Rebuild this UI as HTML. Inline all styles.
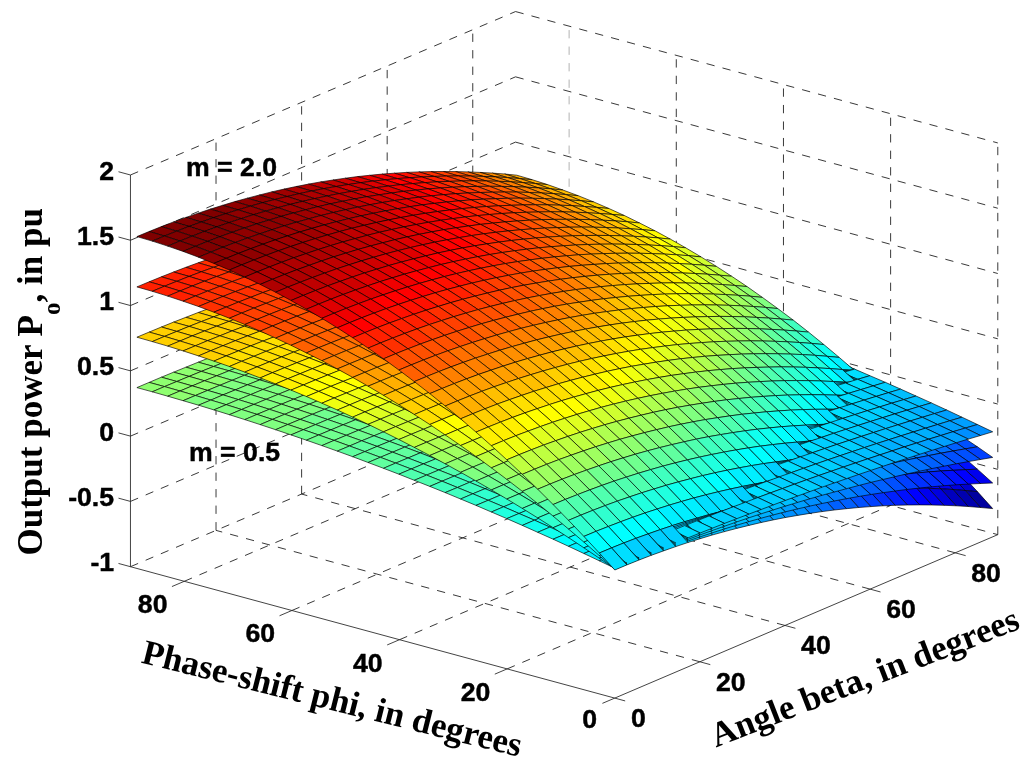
<!DOCTYPE html>
<html><head><meta charset="utf-8"><title>Output power surface</title>
<style>
html,body{margin:0;padding:0;background:#fff}
svg{display:block}
.g{stroke:#222;stroke-width:.9;stroke-dasharray:8.3 8.2;fill:none}
.a{stroke:#222;stroke-width:.85;fill:none}
.gl{stroke:#aaa}
.s path{stroke:#000;stroke-width:.65;stroke-linejoin:round}
.tk{font-family:"Liberation Sans",Arial,Helvetica,sans-serif;font-weight:bold;font-size:26.67px;fill:#000;stroke:#000;stroke-width:.45px}

.lb{font-family:"Liberation Serif","Times New Roman",Times,serif;font-weight:bold;font-size:35px;fill:#000}
.c0{fill:#00008f}.c1{fill:#00009f}.c2{fill:#0000af}.c3{fill:#0000bf}.c4{fill:#0000cf}.c5{fill:#0000df}.c6{fill:#0000ef}.c7{fill:#0000ff}.c8{fill:#0010ff}.c9{fill:#0020ff}.c10{fill:#0030ff}.c11{fill:#0040ff}.c12{fill:#0050ff}.c13{fill:#0060ff}.c14{fill:#0070ff}.c15{fill:#0080ff}.c16{fill:#008fff}.c17{fill:#009fff}.c18{fill:#00afff}.c19{fill:#00bfff}.c20{fill:#00cfff}.c21{fill:#00dfff}.c22{fill:#00efff}.c23{fill:#00ffff}.c24{fill:#10ffef}.c25{fill:#20ffdf}.c26{fill:#30ffcf}.c27{fill:#40ffbf}.c28{fill:#50ffaf}.c29{fill:#60ff9f}.c30{fill:#70ff8f}.c31{fill:#80ff80}.c32{fill:#8fff70}.c33{fill:#9fff60}.c34{fill:#afff50}.c35{fill:#bfff40}.c36{fill:#cfff30}.c37{fill:#dfff20}.c38{fill:#efff10}.c39{fill:#ffff00}.c40{fill:#ffef00}.c41{fill:#ffdf00}.c42{fill:#ffcf00}.c43{fill:#ffbf00}.c44{fill:#ffaf00}.c45{fill:#ff9f00}.c46{fill:#ff8f00}.c47{fill:#ff8000}.c48{fill:#ff7000}.c49{fill:#ff6000}.c50{fill:#ff5000}.c51{fill:#ff4000}.c52{fill:#ff3000}.c53{fill:#ff2000}.c54{fill:#ff1000}.c55{fill:#ff0000}.c56{fill:#ef0000}.c57{fill:#df0000}.c58{fill:#cf0000}.c59{fill:#bf0000}.c60{fill:#af0000}.c61{fill:#9f0000}.c62{fill:#8f0000}.c63{fill:#800000}
</style></head><body>
<svg width="1024" height="766" viewBox="0 0 1024 766">
<rect width="1024" height="766" fill="#fff"/>
<g><line class="g" x1="507.13" y1="668.90" x2="890.62" y2="505.46"/><line class="g" x1="399.51" y1="639.70" x2="783.46" y2="476.26"/><line class="g" x1="291.89" y1="610.50" x2="676.29" y2="447.06"/><line class="g" x1="184.27" y1="581.30" x2="569.12" y2="417.86"/><line class="g" x1="699.87" y1="661.78" x2="216.03" y2="530.38"/><line class="g" x1="784.99" y1="625.46" x2="301.61" y2="494.06"/><line class="g" x1="870.11" y1="589.14" x2="387.18" y2="457.74"/><line class="g" x1="955.23" y1="552.82" x2="472.75" y2="421.42"/><line class="g" x1="216.03" y1="530.38" x2="216.03" y2="138.67"/><line class="g" x1="301.61" y1="494.06" x2="301.61" y2="102.35"/><line class="g" x1="387.18" y1="457.74" x2="387.18" y2="66.03"/><line class="g" x1="472.75" y1="421.42" x2="472.75" y2="29.71"/><line class="g" x1="130.46" y1="566.70" x2="515.54" y2="403.26"/><line class="g" x1="130.46" y1="501.42" x2="515.54" y2="337.98"/><line class="g" x1="130.46" y1="436.13" x2="515.54" y2="272.69"/><line class="g" x1="130.46" y1="370.85" x2="515.54" y2="207.41"/><line class="g" x1="130.46" y1="305.56" x2="515.54" y2="142.12"/><line class="g" x1="130.46" y1="240.28" x2="515.54" y2="76.84"/><line class="g" x1="130.46" y1="174.99" x2="515.54" y2="11.55"/><line class="g" x1="997.79" y1="534.66" x2="997.79" y2="142.95"/><line class="g" x1="890.62" y1="505.46" x2="890.62" y2="113.75"/><line class="g" x1="783.46" y1="476.26" x2="783.46" y2="84.55"/><line class="g" x1="676.29" y1="447.06" x2="676.29" y2="55.35"/><line class="g gl" x1="569.12" y1="417.86" x2="569.12" y2="26.15"/><line class="g" x1="515.54" y1="403.26" x2="997.79" y2="534.66"/><line class="g" x1="515.54" y1="337.98" x2="997.79" y2="469.38"/><line class="g" x1="515.54" y1="272.69" x2="997.79" y2="404.09"/><line class="g" x1="515.54" y1="207.41" x2="997.79" y2="338.81"/><line class="g" x1="515.54" y1="142.12" x2="997.79" y2="273.52"/><line class="g" x1="515.54" y1="76.84" x2="997.79" y2="208.24"/><line class="g" x1="515.54" y1="11.55" x2="997.79" y2="142.95"/></g>
<g><line class="a" x1="130.46" y1="566.70" x2="130.46" y2="174.99"/><line class="a" x1="130.46" y1="566.70" x2="614.75" y2="698.10"/><line class="a" x1="614.75" y1="698.10" x2="997.79" y2="534.66"/><line class="a" x1="614.75" y1="698.10" x2="602.42" y2="703.35"/><line class="a" x1="507.13" y1="668.90" x2="494.80" y2="674.15"/><line class="a" x1="399.51" y1="639.70" x2="387.18" y2="644.95"/><line class="a" x1="291.89" y1="610.50" x2="279.56" y2="615.75"/><line class="a" x1="184.27" y1="581.30" x2="171.94" y2="586.55"/><line class="a" x1="614.75" y1="698.10" x2="625.17" y2="700.93"/><line class="a" x1="699.87" y1="661.78" x2="710.29" y2="664.61"/><line class="a" x1="784.99" y1="625.46" x2="795.41" y2="628.29"/><line class="a" x1="870.11" y1="589.14" x2="880.53" y2="591.97"/><line class="a" x1="955.23" y1="552.82" x2="965.65" y2="555.65"/><line class="a" x1="130.46" y1="566.70" x2="118.49" y2="563.45"/><line class="a" x1="130.46" y1="501.42" x2="118.49" y2="498.17"/><line class="a" x1="130.46" y1="436.13" x2="118.49" y2="432.88"/><line class="a" x1="130.46" y1="370.85" x2="118.49" y2="367.60"/><line class="a" x1="130.46" y1="305.56" x2="118.49" y2="302.31"/><line class="a" x1="130.46" y1="240.28" x2="118.49" y2="237.03"/><line class="a" x1="130.46" y1="174.99" x2="118.49" y2="171.74"/></g>
<g class="s">
<path class="c27" d="M519.9 259.1l-15.3 -4.2l12.2 -3.7l15.4 4.3z"/>
<path class="c27" d="M535.3 263.5l-15.4 -4.4l12.3 -3.6l15.3 4.4z"/>
<path class="c27" d="M507.7 262.8l-15.4 -4.3l12.3 -3.6l15.3 4.2z"/>
<path class="c32" d="M519.9 232.3l-15.3 -4.4l12.2 -2l15.4 4.3z"/>
<path class="c27" d="M550.6 268l-15.3 -4.5l12.2 -3.6l15.4 4.5z"/>
<path class="c27" d="M523 267.2l-15.3 -4.4l12.2 -3.7l15.4 4.4z"/>
<path class="c27" d="M495.4 266.5l-15.3 -4.3l12.2 -3.7l15.4 4.3z"/>
<path class="c32" d="M535.3 236.8l-15.4 -4.5l12.3 -2.1l15.3 4.6z"/>
<path class="c27" d="M566 272.5l-15.4 -4.5l12.3 -3.6l15.3 4.5z"/>
<path class="c33" d="M507.7 234.4l-15.4 -4.3l12.3 -2.2l15.3 4.4z"/>
<path class="c27" d="M538.4 271.6l-15.4 -4.4l12.3 -3.7l15.3 4.5z"/>
<path class="c38" d="M519.9 205.4l-15.3 -4.4l12.2 -0.5l15.4 4.5z"/>
<path class="c27" d="M510.8 270.9l-15.4 -4.4l12.3 -3.7l15.3 4.4z"/>
<path class="c32" d="M550.6 241.6l-15.3 -4.8l12.2 -2l15.4 4.8z"/>
<path class="c26" d="M581.3 277.2l-15.3 -4.7l12.2 -3.6l15.4 4.7z"/>
<path class="c28" d="M483.2 270.3l-15.4 -4.3l12.3 -3.8l15.3 4.3z"/>
<path class="c33" d="M523 239l-15.3 -4.6l12.2 -2.1l15.4 4.5z"/>
<path class="c27" d="M553.7 276.2l-15.3 -4.6l12.2 -3.6l15.4 4.5z"/>
<path class="c38" d="M535.3 210.2l-15.4 -4.8l12.3 -0.4l15.3 4.7z"/>
<path class="c32" d="M566 246.6l-15.4 -5l12.3 -2l15.3 4.9z"/>
<path class="c27" d="M526.1 275.4l-15.3 -4.5l12.2 -3.7l15.4 4.4z"/>
<path class="c34" d="M495.4 236.6l-15.3 -4.3l12.2 -2.2l15.4 4.3z"/>
<path class="c26" d="M596.7 282l-15.4 -4.8l12.3 -3.6l15.3 4.8z"/>
<path class="c28" d="M498.5 274.7l-15.3 -4.4l12.2 -3.8l15.4 4.4z"/>
<path class="c39" d="M507.7 206l-15.4 -4.4l12.3 -0.6l15.3 4.4z"/>
<path class="c33" d="M538.4 243.7l-15.4 -4.7l12.3 -2.2l15.3 4.8z"/>
<path class="c27" d="M569.1 280.9l-15.4 -4.7l12.3 -3.7l15.3 4.7z"/>
<path class="c44" d="M519.9 178.6l-15.3 -4.6l12.2 1.2l15.4 4.5z"/>
<path class="c28" d="M470.9 274.1l-15.4 -4.3l12.3 -3.8l15.4 4.3z"/>
<path class="c38" d="M550.6 215.2l-15.3 -5l12.2 -0.5l15.4 5.1z"/>
<path class="c32" d="M581.3 251.8l-15.3 -5.2l12.2 -2.1l15.4 5.2z"/>
<path class="c27" d="M541.5 279.9l-15.4 -4.5l12.3 -3.8l15.3 4.6z"/>
<path class="c34" d="M510.8 241.2l-15.4 -4.6l12.3 -2.2l15.3 4.6z"/>
<path class="c26" d="M612 286.9l-15.3 -4.9l12.2 -3.6l15.4 4.9z"/>
<path class="c28" d="M513.9 279.1l-15.4 -4.4l12.3 -3.8l15.3 4.5z"/>
<path class="c39" d="M523 210.8l-15.3 -4.8l12.2 -0.6l15.4 4.8z"/>
<path class="c33" d="M553.7 248.7l-15.3 -5l12.2 -2.1l15.4 5z"/>
<path class="c34" d="M483.2 239l-15.4 -4.4l12.3 -2.3l15.3 4.3z"/>
<path class="c27" d="M584.4 285.7l-15.3 -4.8l12.2 -3.7l15.4 4.8z"/>
<path class="c44" d="M535.3 183.5l-15.4 -4.9l12.3 1.1l15.3 4.9z"/>
<path class="c38" d="M566 220.6l-15.4 -5.4l12.3 -0.4l15.3 5.3z"/>
<path class="c28" d="M486.3 278.5l-15.4 -4.4l12.3 -3.8l15.3 4.4z"/>
<path class="c32" d="M596.7 257.1l-15.4 -5.3l12.3 -2.1l15.3 5.4z"/>
<path class="c27" d="M556.8 284.6l-15.3 -4.7l12.2 -3.7l15.4 4.7z"/>
<path class="c33" d="M526.1 246l-15.3 -4.8l12.2 -2.2l15.4 4.7z"/>
<path class="c40" d="M495.4 206.8l-15.3 -4.5l12.2 -0.7l15.4 4.4z"/>
<path class="c26" d="M627.4 291.9l-15.4 -5l12.3 -3.6l15.3 5z"/>
<path class="c28" d="M458.7 278l-15.4 -4.3l12.2 -3.9l15.4 4.3z"/>
<path class="c27" d="M529.2 283.7l-15.3 -4.6l12.2 -3.7l15.4 4.5z"/>
<path class="c45" d="M507.7 177.6l-15.4 -4.5l12.3 0.9l15.3 4.6z"/>
<path class="c39" d="M538.4 215.8l-15.4 -5l12.3 -0.6l15.3 5z"/>
<path class="c32" d="M569.1 253.9l-15.4 -5.2l12.3 -2.1l15.3 5.2z"/>
<path class="c34" d="M498.5 243.5l-15.3 -4.5l12.2 -2.4l15.4 4.6z"/>
<path class="c26" d="M599.8 290.6l-15.4 -4.9l12.3 -3.7l15.3 4.9z"/>
<path class="c43" d="M550.6 188.8l-15.3 -5.3l12.2 1.1l15.4 5.4z"/>
<path class="c37" d="M581.3 226.3l-15.3 -5.7l12.2 -0.5l15.4 5.7z"/>
<path class="c28" d="M501.6 283l-15.3 -4.5l12.2 -3.8l15.4 4.4z"/>
<path class="c31" d="M612 262.7l-15.3 -5.6l12.2 -2l15.4 5.6z"/>
<path class="c27" d="M572.2 289.4l-15.4 -4.8l12.3 -3.7l15.3 4.8z"/>
<path class="c33" d="M541.5 250.9l-15.4 -4.9l12.3 -2.3l15.3 5z"/>
<path class="c35" d="M470.9 241.4l-15.4 -4.3l12.3 -2.5l15.4 4.4z"/>
<path class="c40" d="M510.8 211.5l-15.4 -4.7l12.3 -0.8l15.3 4.8z"/>
<path class="c26" d="M642.8 297l-15.4 -5.1l12.2 -3.6l15.4 5.1z"/>
<path class="c28" d="M474 282.4l-15.3 -4.4l12.2 -3.9l15.4 4.4z"/>
<path class="c27" d="M544.6 288.4l-15.4 -4.7l12.3 -3.8l15.3 4.7z"/>
<path class="c38" d="M553.7 221.2l-15.3 -5.4l12.2 -0.6l15.4 5.4z"/>
<path class="c45" d="M523 182.6l-15.3 -5l12.2 1l15.4 4.9z"/>
<path class="c32" d="M584.4 259.3l-15.3 -5.4l12.2 -2.1l15.4 5.3z"/>
<path class="c34" d="M513.9 248.3l-15.4 -4.8l12.3 -2.3l15.3 4.8z"/>
<path class="c26" d="M615.2 295.6l-15.4 -5l12.2 -3.7l15.4 5z"/>
<path class="c29" d="M446.4 281.9l-15.4 -4.2l12.3 -4l15.4 4.3z"/>
<path class="c43" d="M566 194.6l-15.4 -5.8l12.3 1.2l15.3 5.7z"/>
<path class="c37" d="M596.7 232.3l-15.4 -6l12.3 -0.5l15.3 6z"/>
<path class="c41" d="M483.2 207.7l-15.4 -4.4l12.3 -1l15.3 4.5z"/>
<path class="c31" d="M627.4 268.5l-15.4 -5.8l12.3 -2l15.3 5.8z"/>
<path class="c28" d="M517 287.5l-15.4 -4.5l12.3 -3.9l15.3 4.6z"/>
<path class="c27" d="M587.6 294.3l-15.4 -4.9l12.2 -3.7l15.4 4.9z"/>
<path class="c33" d="M556.8 256.1l-15.3 -5.2l12.2 -2.2l15.4 5.2z"/>
<path class="c35" d="M486.3 246l-15.4 -4.6l12.3 -2.4l15.3 4.5z"/>
<path class="c26" d="M658.1 302.2l-15.3 -5.2l12.2 -3.6l15.3 5.2z"/>
<path class="c40" d="M526.1 216.6l-15.3 -5.1l12.2 -0.7l15.4 5z"/>
<path class="c46" d="M495.4 176.9l-15.3 -4.5l12.2 0.7l15.4 4.5z"/>
<path class="c28" d="M489.4 286.8l-15.4 -4.4l12.3 -3.9l15.3 4.5z"/>
<path class="c38" d="M569.1 226.9l-15.4 -5.7l12.3 -0.6l15.3 5.7z"/>
<path class="c32" d="M599.8 264.9l-15.4 -5.6l12.3 -2.2l15.3 5.6z"/>
<path class="c45" d="M538.4 187.9l-15.4 -5.3l12.3 0.9l15.3 5.3z"/>
<path class="c27" d="M560 293.2l-15.4 -4.8l12.2 -3.8l15.4 4.8z"/>
<path class="c43" d="M581.3 200.8l-15.3 -6.2l12.2 1.1l15.4 6.2z"/>
<path class="c26" d="M630.5 300.7l-15.3 -5.1l12.2 -3.7l15.4 5.1z"/>
<path class="c36" d="M612 238.6l-15.3 -6.3l12.2 -0.5l15.4 6.3z"/>
<path class="c34" d="M529.2 253.3l-15.3 -5l12.2 -2.3l15.4 4.9z"/>
<path class="c35" d="M458.7 244l-15.4 -4.4l12.2 -2.5l15.4 4.3z"/>
<path class="c28" d="M461.8 286.3l-15.4 -4.4l12.3 -3.9l15.3 4.4z"/>
<path class="c31" d="M642.8 274.6l-15.4 -6.1l12.2 -2l15.4 6z"/>
<path class="c41" d="M498.5 212.4l-15.3 -4.7l12.2 -0.9l15.4 4.7z"/>
<path class="c28" d="M532.4 292.2l-15.4 -4.7l12.2 -3.8l15.4 4.7z"/>
<path class="c33" d="M572.2 261.5l-15.4 -5.4l12.3 -2.2l15.3 5.4z"/>
<path class="c29" d="M434.1 285.9l-15.3 -4.3l12.2 -3.9l15.4 4.2z"/>
<path class="c27" d="M602.9 299.3l-15.3 -5l12.2 -3.7l15.4 5z"/>
<path class="c25" d="M673.5 307.5l-15.4 -5.3l12.2 -3.6l15.4 5.3z"/>
<path class="c39" d="M541.5 222l-15.4 -5.4l12.3 -0.8l15.3 5.4z"/>
<path class="c35" d="M501.6 250.8l-15.3 -4.8l12.2 -2.5l15.4 4.8z"/>
<path class="c46" d="M510.8 181.8l-15.4 -4.9l12.3 0.7l15.3 5z"/>
<path class="c28" d="M504.7 291.4l-15.3 -4.6l12.2 -3.8l15.4 4.5z"/>
<path class="c38" d="M584.4 232.9l-15.3 -6l12.2 -0.6l15.4 6z"/>
<path class="c32" d="M615.2 270.7l-15.4 -5.8l12.2 -2.2l15.4 5.8z"/>
<path class="c42" d="M470.9 208.8l-15.4 -4.5l12.3 -1l15.4 4.4z"/>
<path class="c44" d="M553.7 193.7l-15.3 -5.8l12.2 0.9l15.4 5.8z"/>
<path class="c42" d="M596.7 207.4l-15.4 -6.6l12.3 1.1l15.3 6.6z"/>
<path class="c27" d="M575.3 298.1l-15.3 -4.9l12.2 -3.8l15.4 4.9z"/>
<path class="c36" d="M627.4 245.2l-15.4 -6.6l12.3 -0.5l15.3 6.6z"/>
<path class="c26" d="M645.9 305.9l-15.4 -5.2l12.3 -3.7l15.3 5.2z"/>
<path class="c34" d="M544.6 258.5l-15.4 -5.2l12.3 -2.4l15.3 5.2z"/>
<path class="c35" d="M474 248.6l-15.3 -4.6l12.2 -2.6l15.4 4.6z"/>
<path class="c30" d="M658.1 280.8l-15.3 -6.2l12.2 -2.1l15.3 6.3z"/>
<path class="c28" d="M477.1 290.8l-15.3 -4.5l12.2 -3.9l15.4 4.4z"/>
<path class="c41" d="M513.9 217.5l-15.4 -5.1l12.3 -0.9l15.3 5.1z"/>
<path class="c28" d="M547.7 297l-15.3 -4.8l12.2 -3.8l15.4 4.8z"/>
<path class="c47" d="M483.2 176.4l-15.4 -4.5l12.3 0.5l15.3 4.5z"/>
<path class="c33" d="M587.6 267.1l-15.4 -5.6l12.2 -2.2l15.4 5.6z"/>
<path class="c26" d="M618.3 304.4l-15.4 -5.1l12.3 -3.7l15.3 5.1z"/>
<path class="c39" d="M556.8 227.6l-15.3 -5.6l12.2 -0.8l15.4 5.7z"/>
<path class="c29" d="M449.5 290.3l-15.4 -4.4l12.3 -4l15.4 4.4z"/>
<path class="c25" d="M688.8 312.9l-15.3 -5.4l12.2 -3.6l15.3 5.4z"/>
<path class="c36" d="M446.4 246.6l-15.4 -4.3l12.3 -2.7l15.4 4.4z"/>
<path class="c34" d="M517 255.7l-15.4 -4.9l12.3 -2.5l15.3 5z"/>
<path class="c46" d="M526.1 187.2l-15.3 -5.4l12.2 0.8l15.4 5.3z"/>
<path class="c37" d="M599.8 239.2l-15.4 -6.3l12.3 -0.6l15.3 6.3z"/>
<path class="c31" d="M630.5 276.7l-15.3 -6l12.2 -2.2l15.4 6.1z"/>
<path class="c41" d="M612 214.4l-15.3 -7l12.2 1.1l15.4 7z"/>
<path class="c28" d="M520.1 296.1l-15.4 -4.7l12.3 -3.9l15.4 4.7z"/>
<path class="c44" d="M569.1 199.9l-15.4 -6.2l12.3 0.9l15.3 6.2z"/>
<path class="c35" d="M642.8 252.1l-15.4 -6.9l12.2 -0.5l15.4 7z"/>
<path class="c42" d="M486.3 213.5l-15.4 -4.7l12.3 -1.1l15.3 4.7z"/>
<path class="c29" d="M421.9 289.9l-15.4 -4.2l12.3 -4.1l15.3 4.3z"/>
<path class="c27" d="M590.7 303.1l-15.4 -5l12.3 -3.8l15.3 5z"/>
<path class="c26" d="M661.2 311.2l-15.3 -5.3l12.2 -3.7l15.4 5.3z"/>
<path class="c30" d="M673.5 287.2l-15.4 -6.4l12.2 -2l15.4 6.4z"/>
<path class="c33" d="M560 263.9l-15.4 -5.4l12.2 -2.4l15.4 5.4z"/>
<path class="c35" d="M489.4 253.3l-15.4 -4.7l12.3 -2.6l15.3 4.8z"/>
<path class="c28" d="M492.5 295.3l-15.4 -4.5l12.3 -4l15.3 4.6z"/>
<path class="c40" d="M529.2 222.9l-15.3 -5.4l12.2 -0.9l15.4 5.4z"/>
<path class="c27" d="M563.1 301.9l-15.4 -4.9l12.3 -3.8l15.3 4.9z"/>
<path class="c32" d="M602.9 272.9l-15.3 -5.8l12.2 -2.2l15.4 5.8z"/>
<path class="c47" d="M498.5 181.3l-15.3 -4.9l12.2 0.5l15.4 4.9z"/>
<path class="c39" d="M572.2 233.6l-15.4 -6l12.3 -0.7l15.3 6z"/>
<path class="c26" d="M633.6 309.6l-15.3 -5.2l12.2 -3.7l15.4 5.2z"/>
<path class="c43" d="M458.7 210l-15.4 -4.4l12.2 -1.3l15.4 4.5z"/>
<path class="c25" d="M704.2 318.4l-15.4 -5.5l12.2 -3.6l15.4 5.5z"/>
<path class="c29" d="M464.9 294.7l-15.4 -4.4l12.3 -4l15.3 4.5z"/>
<path class="c34" d="M532.4 260.9l-15.4 -5.2l12.2 -2.4l15.4 5.2z"/>
<path class="c41" d="M627.4 221.8l-15.4 -7.4l12.3 1.1l15.3 7.5z"/>
<path class="c37" d="M615.2 245.8l-15.4 -6.6l12.2 -0.6l15.4 6.6z"/>
<path class="c36" d="M461.8 251.2l-15.4 -4.6l12.3 -2.6l15.3 4.6z"/>
<path class="c46" d="M541.5 193l-15.4 -5.8l12.3 0.7l15.3 5.8z"/>
<path class="c35" d="M658.1 259.4l-15.3 -7.3l12.2 -0.4l15.3 7.2z"/>
<path class="c31" d="M645.9 282.9l-15.4 -6.2l12.3 -2.1l15.3 6.2z"/>
<path class="c43" d="M584.4 206.5l-15.3 -6.6l12.2 0.9l15.4 6.6z"/>
<path class="c28" d="M535.5 300.9l-15.4 -4.8l12.3 -3.9l15.3 4.8z"/>
<path class="c41" d="M501.6 218.6l-15.3 -5.1l12.2 -1.1l15.4 5.1z"/>
<path class="c29" d="M688.8 293.9l-15.3 -6.7l12.2 -2l15.3 6.6z"/>
<path class="c27" d="M606 308.2l-15.3 -5.1l12.2 -3.8l15.4 5.1z"/>
<path class="c29" d="M437.3 294.3l-15.4 -4.4l12.2 -4l15.4 4.4z"/>
<path class="c25" d="M676.6 316.6l-15.4 -5.4l12.3 -3.7l15.3 5.4z"/>
<path class="c33" d="M575.3 269.5l-15.3 -5.6l12.2 -2.4l15.4 5.6z"/>
<path class="c36" d="M434.1 249.4l-15.3 -4.3l12.2 -2.8l15.4 4.3z"/>
<path class="c35" d="M504.7 258.3l-15.3 -5l12.2 -2.5l15.4 4.9z"/>
<path class="c49" d="M470.9 176.1l-15.4 -4.5l12.3 0.3l15.4 4.5z"/>
<path class="c40" d="M544.6 228.6l-15.4 -5.7l12.3 -0.9l15.3 5.6z"/>
<path class="c28" d="M507.9 300l-15.4 -4.7l12.2 -3.9l15.4 4.7z"/>
<path class="c32" d="M618.3 278.9l-15.4 -6l12.3 -2.2l15.3 6z"/>
<path class="c29" d="M409.6 294l-15.3 -4.2l12.2 -4.1l15.4 4.2z"/>
<path class="c27" d="M578.4 306.9l-15.3 -5l12.2 -3.8l15.4 5z"/>
<path class="c38" d="M587.6 239.9l-15.4 -6.3l12.2 -0.7l15.4 6.3z"/>
<path class="c40" d="M642.8 229.7l-15.4 -7.9l12.2 1.2l15.4 7.8z"/>
<path class="c47" d="M513.9 186.7l-15.4 -5.4l12.3 0.5l15.3 5.4z"/>
<path class="c26" d="M649 314.9l-15.4 -5.3l12.3 -3.7l15.3 5.3z"/>
<path class="c25" d="M719.5 324.1l-15.3 -5.7l12.2 -3.6l15.3 5.6z"/>
<path class="c34" d="M673.5 266.9l-15.4 -7.5l12.2 -0.5l15.4 7.6z"/>
<path class="c36" d="M630.5 252.7l-15.3 -6.9l12.2 -0.6l15.4 6.9z"/>
<path class="c42" d="M474 214.7l-15.3 -4.7l12.2 -1.2l15.4 4.7z"/>
<path class="c43" d="M599.8 213.5l-15.4 -7l12.3 0.9l15.3 7z"/>
<path class="c34" d="M547.7 266.3l-15.3 -5.4l12.2 -2.4l15.4 5.4z"/>
<path class="c45" d="M556.8 199.1l-15.3 -6.1l12.2 0.7l15.4 6.2z"/>
<path class="c30" d="M661.2 289.4l-15.3 -6.5l12.2 -2.1l15.4 6.4z"/>
<path class="c29" d="M480.2 299.3l-15.3 -4.6l12.2 -3.9l15.4 4.5z"/>
<path class="c36" d="M477.1 256l-15.3 -4.8l12.2 -2.6l15.4 4.7z"/>
<path class="c29" d="M704.2 300.7l-15.4 -6.8l12.2 -2.1l15.4 6.9z"/>
<path class="c28" d="M550.8 305.8l-15.3 -4.9l12.2 -3.9l15.4 4.9z"/>
<path class="c41" d="M517 223.9l-15.4 -5.3l12.3 -1.1l15.3 5.4z"/>
<path class="c27" d="M621.4 313.4l-15.4 -5.2l12.3 -3.8l15.3 5.2z"/>
<path class="c33" d="M590.7 275.3l-15.4 -5.8l12.3 -2.4l15.3 5.8z"/>
<path class="c25" d="M691.9 322.1l-15.3 -5.5l12.2 -3.7l15.4 5.5z"/>
<path class="c29" d="M452.6 298.8l-15.3 -4.5l12.2 -4l15.4 4.4z"/>
<path class="c43" d="M446.4 211.4l-15.4 -4.5l12.3 -1.3l15.4 4.4z"/>
<path class="c35" d="M520.1 263.5l-15.4 -5.2l12.3 -2.6l15.4 5.2z"/>
<path class="c40" d="M560 234.6l-15.4 -6l12.2 -1l15.4 6z"/>
<path class="c36" d="M449.5 254l-15.4 -4.6l12.3 -2.8l15.4 4.6z"/>
<path class="c39" d="M658.1 237.9l-15.3 -8.2l12.2 1.1l15.3 8.3z"/>
<path class="c48" d="M486.3 181l-15.4 -4.9l12.3 0.3l15.3 4.9z"/>
<path class="c28" d="M523.2 304.8l-15.3 -4.8l12.2 -3.9l15.4 4.8z"/>
<path class="c31" d="M633.6 285.2l-15.3 -6.3l12.2 -2.2l15.4 6.2z"/>
<path class="c38" d="M602.9 246.6l-15.3 -6.7l12.2 -0.7l15.4 6.6z"/>
<path class="c33" d="M688.8 274.8l-15.3 -7.9l12.2 -0.4l15.3 7.8z"/>
<path class="c36" d="M645.9 260l-15.4 -7.3l12.3 -0.6l15.3 7.3z"/>
<path class="c27" d="M593.8 312l-15.4 -5.1l12.3 -3.8l15.3 5.1z"/>
<path class="c29" d="M425 298.4l-15.4 -4.4l12.3 -4.1l15.4 4.4z"/>
<path class="c42" d="M615.2 220.9l-15.4 -7.4l12.2 0.9l15.4 7.4z"/>
<path class="c47" d="M529.2 192.5l-15.3 -5.8l12.2 0.5l15.4 5.8z"/>
<path class="c24" d="M734.9 329.8l-15.4 -5.7l12.2 -3.7l15.4 5.8z"/>
<path class="c26" d="M664.3 320.3l-15.3 -5.4l12.2 -3.7l15.4 5.4z"/>
<path class="c45" d="M572.2 205.7l-15.4 -6.6l12.3 0.8l15.3 6.6z"/>
<path class="c30" d="M676.6 296l-15.4 -6.6l12.3 -2.2l15.3 6.7z"/>
<path class="c42" d="M489.4 219.8l-15.4 -5.1l12.3 -1.2l15.3 5.1z"/>
<path class="c34" d="M563.1 271.9l-15.4 -5.6l12.3 -2.4l15.3 5.6z"/>
<path class="c37" d="M421.9 252.3l-15.4 -4.4l12.3 -2.8l15.3 4.3z"/>
<path class="c28" d="M495.6 304l-15.4 -4.7l12.3 -4l15.4 4.7z"/>
<path class="c28" d="M719.5 307.8l-15.3 -7.1l12.2 -2l15.3 7z"/>
<path class="c36" d="M492.5 261l-15.4 -5l12.3 -2.7l15.3 5z"/>
<path class="c29" d="M397.4 298.2l-15.4 -4.3l12.3 -4.1l15.3 4.2z"/>
<path class="c28" d="M566.2 310.8l-15.4 -5l12.3 -3.9l15.3 5z"/>
<path class="c41" d="M532.4 229.6l-15.4 -5.7l12.2 -1l15.4 5.7z"/>
<path class="c32" d="M606 281.3l-15.3 -6l12.2 -2.4l15.4 6z"/>
<path class="c26" d="M636.8 318.7l-15.4 -5.3l12.2 -3.8l15.4 5.3z"/>
<path class="c50" d="M458.7 176l-15.4 -4.5l12.2 0.1l15.4 4.5z"/>
<path class="c25" d="M707.3 327.7l-15.4 -5.6l12.3 -3.7l15.3 5.7z"/>
<path class="c38" d="M673.5 246.6l-15.4 -8.7l12.2 1.2l15.4 8.7z"/>
<path class="c29" d="M468 303.4l-15.4 -4.6l12.3 -4.1l15.3 4.6z"/>
<path class="c39" d="M575.3 240.9l-15.3 -6.3l12.2 -1l15.4 6.3z"/>
<path class="c32" d="M704.2 283l-15.4 -8.2l12.2 -0.5l15.4 8.2z"/>
<path class="c35" d="M535.5 268.9l-15.4 -5.4l12.3 -2.6l15.3 5.4z"/>
<path class="c43" d="M461.8 216.1l-15.4 -4.7l12.3 -1.4l15.3 4.7z"/>
<path class="c31" d="M649 291.6l-15.4 -6.4l12.3 -2.3l15.3 6.5z"/>
<path class="c37" d="M618.3 253.5l-15.4 -6.9l12.3 -0.8l15.3 6.9z"/>
<path class="c35" d="M661.2 267.5l-15.3 -7.5l12.2 -0.6l15.4 7.5z"/>
<path class="c36" d="M464.9 258.7l-15.4 -4.7l12.3 -2.8l15.3 4.8z"/>
<path class="c48" d="M501.6 186.4l-15.3 -5.4l12.2 0.3l15.4 5.4z"/>
<path class="c41" d="M630.5 228.8l-15.3 -7.9l12.2 0.9l15.4 7.9z"/>
<path class="c28" d="M538.6 309.7l-15.4 -4.9l12.3 -3.9l15.3 4.9z"/>
<path class="c46" d="M544.6 198.6l-15.4 -6.1l12.3 0.5l15.3 6.1z"/>
<path class="c44" d="M587.6 212.8l-15.4 -7.1l12.2 0.8l15.4 7z"/>
<path class="c29" d="M691.9 302.8l-15.3 -6.8l12.2 -2.1l15.4 6.8z"/>
<path class="c24" d="M750.2 335.6l-15.3 -5.8l12.2 -3.6l15.3 5.8z"/>
<path class="c27" d="M609.2 317.2l-15.4 -5.2l12.2 -3.8l15.4 5.2z"/>
<path class="c25" d="M679.7 325.8l-15.4 -5.5l12.3 -3.7l15.3 5.5z"/>
<path class="c29" d="M440.4 302.9l-15.4 -4.5l12.3 -4.1l15.3 4.5z"/>
<path class="c33" d="M578.4 277.7l-15.3 -5.8l12.2 -2.4l15.4 5.8z"/>
<path class="c27" d="M734.9 315l-15.4 -7.2l12.2 -2.1l15.4 7.3z"/>
<path class="c42" d="M504.7 225.2l-15.3 -5.4l12.2 -1.2l15.4 5.3z"/>
<path class="c35" d="M507.9 266.1l-15.4 -5.1l12.2 -2.7l15.4 5.2z"/>
<path class="c37" d="M437.3 256.8l-15.4 -4.5l12.2 -2.9l15.4 4.6z"/>
<path class="c28" d="M511 308.8l-15.4 -4.8l12.3 -4l15.3 4.8z"/>
<path class="c37" d="M688.8 255.7l-15.3 -9.1l12.2 1.2l15.3 9.1z"/>
<path class="c44" d="M434.1 212.9l-15.3 -4.4l12.2 -1.6l15.4 4.5z"/>
<path class="c40" d="M547.7 235.6l-15.3 -6l12.2 -1l15.4 6z"/>
<path class="c32" d="M621.4 287.5l-15.4 -6.2l12.3 -2.4l15.3 6.3z"/>
<path class="c29" d="M412.8 302.5l-15.4 -4.3l12.2 -4.2l15.4 4.4z"/>
<path class="c27" d="M581.6 315.9l-15.4 -5.1l12.2 -3.9l15.4 5.1z"/>
<path class="c31" d="M719.5 291.5l-15.3 -8.5l12.2 -0.5l15.3 8.5z"/>
<path class="c25" d="M722.6 333.4l-15.3 -5.7l12.2 -3.6l15.4 5.7z"/>
<path class="c26" d="M652.1 324.1l-15.3 -5.4l12.2 -3.8l15.3 5.4z"/>
<path class="c50" d="M474 180.9l-15.3 -4.9l12.2 0.1l15.4 4.9z"/>
<path class="c39" d="M590.7 247.5l-15.4 -6.6l12.3 -1l15.3 6.7z"/>
<path class="c34" d="M676.6 275.4l-15.4 -7.9l12.3 -0.6l15.3 7.9z"/>
<path class="c40" d="M645.9 237l-15.4 -8.2l12.3 0.9l15.3 8.2z"/>
<path class="c37" d="M633.6 260.7l-15.3 -7.2l12.2 -0.8l15.4 7.3z"/>
<path class="c30" d="M664.3 298.2l-15.3 -6.6l12.2 -2.2l15.4 6.6z"/>
<path class="c29" d="M483.4 308l-15.4 -4.6l12.2 -4.1l15.4 4.7z"/>
<path class="c34" d="M550.8 274.5l-15.3 -5.6l12.2 -2.6l15.4 5.6z"/>
<path class="c37" d="M409.6 255.2l-15.3 -4.3l12.2 -3l15.4 4.4z"/>
<path class="c43" d="M477.1 221.2l-15.3 -5.1l12.2 -1.4l15.4 5.1z"/>
<path class="c48" d="M517 192.1l-15.4 -5.7l12.3 0.3l15.3 5.8z"/>
<path class="c30" d="M385.1 302.3l-15.4 -4.2l12.3 -4.2l15.4 4.3z"/>
<path class="c36" d="M480.2 263.7l-15.3 -5l12.2 -2.7l15.4 5z"/>
<path class="c43" d="M602.9 220.2l-15.3 -7.4l12.2 0.7l15.4 7.4z"/>
<path class="c29" d="M707.3 309.9l-15.4 -7.1l12.3 -2.1l15.3 7.1z"/>
<path class="c46" d="M560 205.2l-15.4 -6.6l12.2 0.5l15.4 6.6z"/>
<path class="c28" d="M554 314.7l-15.4 -5l12.2 -3.9l15.4 5z"/>
<path class="c23" d="M765.6 341.5l-15.4 -5.9l12.2 -3.6l15.4 5.9z"/>
<path class="c27" d="M750.2 322.5l-15.3 -7.5l12.2 -2l15.3 7.4z"/>
<path class="c27" d="M624.5 322.5l-15.3 -5.3l12.2 -3.8l15.4 5.3z"/>
<path class="c36" d="M704.2 265.2l-15.4 -9.5l12.2 1.2l15.4 9.5z"/>
<path class="c25" d="M695.1 331.4l-15.4 -5.6l12.2 -3.7l15.4 5.6z"/>
<path class="c33" d="M593.8 283.7l-15.4 -6l12.3 -2.4l15.3 6z"/>
<path class="c29" d="M455.7 307.4l-15.3 -4.5l12.2 -4.1l15.4 4.6z"/>
<path class="c42" d="M520.1 230.9l-15.4 -5.7l12.3 -1.3l15.4 5.7z"/>
<path class="c30" d="M734.9 300.3l-15.4 -8.8l12.2 -0.5l15.4 8.8z"/>
<path class="c51" d="M446.4 176.1l-15.4 -4.5l12.3 -0.1l15.4 4.5z"/>
<path class="c35" d="M523.2 271.5l-15.3 -5.4l12.2 -2.6l15.4 5.4z"/>
<path class="c28" d="M526.3 313.7l-15.3 -4.9l12.2 -4l15.4 4.9z"/>
<path class="c37" d="M452.6 261.6l-15.3 -4.8l12.2 -2.8l15.4 4.7z"/>
<path class="c40" d="M563.1 241.9l-15.4 -6.3l12.3 -1l15.3 6.3z"/>
<path class="c32" d="M636.8 293.9l-15.4 -6.4l12.2 -2.3l15.4 6.4z"/>
<path class="c39" d="M661.2 245.7l-15.3 -8.7l12.2 0.9l15.4 8.7z"/>
<path class="c44" d="M449.5 217.7l-15.4 -4.8l12.3 -1.5l15.4 4.7z"/>
<path class="c33" d="M691.9 283.6l-15.3 -8.2l12.2 -0.6l15.4 8.2z"/>
<path class="c27" d="M596.9 321.1l-15.3 -5.2l12.2 -3.9l15.4 5.2z"/>
<path class="c38" d="M606 254.4l-15.3 -6.9l12.2 -0.9l15.4 6.9z"/>
<path class="c24" d="M738 339.3l-15.4 -5.9l12.3 -3.6l15.3 5.8z"/>
<path class="c36" d="M649 268.3l-15.4 -7.6l12.3 -0.7l15.3 7.5z"/>
<path class="c29" d="M428.1 307l-15.3 -4.5l12.2 -4.1l15.4 4.5z"/>
<path class="c26" d="M667.5 329.6l-15.4 -5.5l12.2 -3.8l15.4 5.5z"/>
<path class="c30" d="M679.7 305.1l-15.4 -6.9l12.3 -2.2l15.3 6.8z"/>
<path class="c49" d="M489.4 186.3l-15.4 -5.4l12.3 0.1l15.3 5.4z"/>
<path class="c43" d="M618.3 228l-15.4 -7.8l12.3 0.7l15.3 7.9z"/>
<path class="c35" d="M719.5 275.2l-15.3 -10l12.2 1.2l15.3 9.9z"/>
<path class="c34" d="M566.2 280.3l-15.4 -5.8l12.3 -2.6l15.3 5.8z"/>
<path class="c28" d="M722.6 317.1l-15.3 -7.2l12.2 -2.1l15.4 7.2z"/>
<path class="c47" d="M532.4 198.3l-15.4 -6.2l12.2 0.4l15.4 6.1z"/>
<path class="c29" d="M498.7 312.8l-15.3 -4.8l12.2 -4l15.4 4.8z"/>
<path class="c45" d="M575.3 212.2l-15.3 -7l12.2 0.5l15.4 7.1z"/>
<path class="c43" d="M492.5 226.6l-15.4 -5.4l12.3 -1.4l15.3 5.4z"/>
<path class="c26" d="M765.6 330.2l-15.4 -7.7l12.2 -2.1l15.4 7.7z"/>
<path class="c37" d="M425 259.8l-15.4 -4.6l12.3 -2.9l15.4 4.5z"/>
<path class="c36" d="M495.6 268.9l-15.4 -5.2l12.3 -2.7l15.4 5.1z"/>
<path class="c30" d="M400.5 306.7l-15.4 -4.4l12.3 -4.1l15.4 4.3z"/>
<path class="c23" d="M780.9 347.6l-15.3 -6.1l12.2 -3.6l15.4 6z"/>
<path class="c28" d="M569.3 319.8l-15.3 -5.1l12.2 -3.9l15.4 5.1z"/>
<path class="c29" d="M750.2 309.4l-15.3 -9.1l12.2 -0.5l15.3 9.1z"/>
<path class="c45" d="M421.9 214.6l-15.4 -4.4l12.3 -1.7l15.3 4.4z"/>
<path class="c25" d="M710.4 337.2l-15.3 -5.8l12.2 -3.7l15.3 5.7z"/>
<path class="c26" d="M639.9 327.9l-15.4 -5.4l12.3 -3.8l15.3 5.4z"/>
<path class="c33" d="M609.2 290l-15.4 -6.3l12.2 -2.4l15.4 6.2z"/>
<path class="c41" d="M535.5 236.9l-15.4 -6l12.3 -1.3l15.3 6z"/>
<path class="c38" d="M676.6 254.8l-15.4 -9.1l12.3 0.9l15.3 9.1z"/>
<path class="c29" d="M471.1 312.1l-15.4 -4.7l12.3 -4l15.4 4.6z"/>
<path class="c32" d="M707.3 292.1l-15.4 -8.5l12.3 -0.6l15.3 8.5z"/>
<path class="c30" d="M372.9 306.6l-15.4 -4.3l12.2 -4.2l15.4 4.2z"/>
<path class="c40" d="M578.4 248.5l-15.3 -6.6l12.2 -1l15.4 6.6z"/>
<path class="c31" d="M652.1 300.6l-15.3 -6.7l12.2 -2.3l15.3 6.6z"/>
<path class="c35" d="M538.6 277.1l-15.4 -5.6l12.3 -2.6l15.3 5.6z"/>
<path class="c38" d="M397.4 258.3l-15.4 -4.3l12.3 -3.1l15.3 4.3z"/>
<path class="c35" d="M664.3 276.2l-15.3 -7.9l12.2 -0.8l15.4 7.9z"/>
<path class="c34" d="M734.9 285.5l-15.4 -10.3l12.2 1.1l15.4 10.3z"/>
<path class="c51" d="M461.8 181l-15.4 -4.9l12.3 -0.1l15.3 4.9z"/>
<path class="c37" d="M621.4 261.6l-15.4 -7.2l12.3 -0.9l15.3 7.2z"/>
<path class="c28" d="M541.7 318.7l-15.4 -5l12.3 -4l15.4 5z"/>
<path class="c37" d="M468 266.6l-15.4 -5l12.3 -2.9l15.3 5z"/>
<path class="c24" d="M753.4 345.2l-15.4 -5.9l12.2 -3.7l15.4 5.9z"/>
<path class="c44" d="M464.9 222.7l-15.4 -5l12.3 -1.6l15.3 5.1z"/>
<path class="c42" d="M633.6 236.3l-15.3 -8.3l12.2 0.8l15.4 8.2z"/>
<path class="c29" d="M695.1 312.1l-15.4 -7l12.2 -2.3l15.4 7.1z"/>
<path class="c27" d="M612.3 326.4l-15.4 -5.3l12.3 -3.9l15.3 5.3z"/>
<path class="c25" d="M682.8 335.2l-15.3 -5.6l12.2 -3.8l15.4 5.6z"/>
<path class="c29" d="M443.5 311.6l-15.4 -4.6l12.3 -4.1l15.3 4.5z"/>
<path class="c27" d="M738 324.6l-15.4 -7.5l12.3 -2.1l15.3 7.5z"/>
<path class="c49" d="M504.7 192.1l-15.3 -5.8l12.2 0.1l15.4 5.7z"/>
<path class="c25" d="M780.9 338l-15.3 -7.8l12.2 -2.1l15.4 7.9z"/>
<path class="c45" d="M590.7 219.7l-15.4 -7.5l12.3 0.6l15.3 7.4z"/>
<path class="c34" d="M581.6 286.3l-15.4 -6l12.2 -2.6l15.4 6z"/>
<path class="c28" d="M765.6 318.8l-15.4 -9.4l12.2 -0.5l15.4 9.4z"/>
<path class="c47" d="M547.7 204.9l-15.3 -6.6l12.2 0.3l15.4 6.6z"/>
<path class="c43" d="M507.9 232.2l-15.4 -5.6l12.2 -1.4l15.4 5.7z"/>
<path class="c28" d="M514.1 317.7l-15.4 -4.9l12.3 -4l15.3 4.9z"/>
<path class="c37" d="M691.9 264.3l-15.3 -9.5l12.2 0.9l15.4 9.5z"/>
<path class="c23" d="M796.3 353.7l-15.4 -6.1l12.3 -3.7l15.3 6.2z"/>
<path class="c36" d="M511 274.3l-15.4 -5.4l12.3 -2.8l15.3 5.4z"/>
<path class="c37" d="M440.4 264.6l-15.4 -4.8l12.3 -3l15.3 4.8z"/>
<path class="c32" d="M750.2 296.2l-15.3 -10.7l12.2 1.1l15.3 10.8z"/>
<path class="c27" d="M584.7 325l-15.4 -5.2l12.3 -3.9l15.3 5.2z"/>
<path class="c32" d="M624.5 296.4l-15.3 -6.4l12.2 -2.5l15.4 6.4z"/>
<path class="c31" d="M722.6 300.9l-15.3 -8.8l12.2 -0.6l15.4 8.8z"/>
<path class="c30" d="M415.9 311.2l-15.4 -4.5l12.3 -4.2l15.3 4.5z"/>
<path class="c24" d="M725.8 343l-15.4 -5.8l12.2 -3.8l15.4 5.9z"/>
<path class="c26" d="M655.2 333.4l-15.3 -5.5l12.2 -3.8l15.4 5.5z"/>
<path class="c41" d="M550.8 243.2l-15.3 -6.3l12.2 -1.3l15.4 6.3z"/>
<path class="c52" d="M434.1 176.4l-15.3 -4.5l12.2 -0.3l15.4 4.5z"/>
<path class="c45" d="M437.3 219.4l-15.4 -4.8l12.2 -1.7l15.4 4.8z"/>
<path class="c34" d="M679.7 284.3l-15.4 -8.1l12.3 -0.8l15.3 8.2z"/>
<path class="c39" d="M593.8 255.5l-15.4 -7l12.3 -1l15.3 6.9z"/>
<path class="c30" d="M667.5 307.4l-15.4 -6.8l12.2 -2.4l15.4 6.9z"/>
<path class="c37" d="M636.8 269.2l-15.4 -7.6l12.2 -0.9l15.4 7.6z"/>
<path class="c29" d="M486.5 316.9l-15.4 -4.8l12.3 -4.1l15.3 4.8z"/>
<path class="c41" d="M649 245l-15.4 -8.7l12.3 0.7l15.3 8.7z"/>
<path class="c34" d="M554 282.9l-15.4 -5.8l12.2 -2.6l15.4 5.8z"/>
<path class="c29" d="M710.4 319.4l-15.3 -7.3l12.2 -2.2l15.3 7.2z"/>
<path class="c30" d="M388.2 311l-15.3 -4.4l12.2 -4.3l15.4 4.4z"/>
<path class="c27" d="M780.9 328.5l-15.3 -9.7l12.2 -0.5l15.4 9.8z"/>
<path class="c50" d="M477.1 186.4l-15.3 -5.4l12.2 -0.1l15.4 5.4z"/>
<path class="c38" d="M412.8 262.9l-15.4 -4.6l12.2 -3.1l15.4 4.6z"/>
<path class="c28" d="M557.1 323.8l-15.4 -5.1l12.3 -4l15.3 5.1z"/>
<path class="c23" d="M768.7 351.2l-15.3 -6l12.2 -3.7l15.3 6.1z"/>
<path class="c36" d="M483.4 271.8l-15.4 -5.2l12.2 -2.9l15.4 5.2z"/>
<path class="c27" d="M753.4 332.3l-15.4 -7.7l12.2 -2.1l15.4 7.7z"/>
<path class="c24" d="M796.3 346.1l-15.4 -8.1l12.3 -2l15.3 8.1z"/>
<path class="c44" d="M480.2 228.1l-15.3 -5.4l12.2 -1.5l15.4 5.4z"/>
<path class="c44" d="M606 227.5l-15.3 -7.8l12.2 0.5l15.4 7.8z"/>
<path class="c27" d="M627.7 331.8l-15.4 -5.4l12.2 -3.9l15.4 5.4z"/>
<path class="c25" d="M698.2 340.9l-15.4 -5.7l12.3 -3.8l15.3 5.8z"/>
<path class="c31" d="M765.6 307.4l-15.4 -11.2l12.2 1.2l15.4 11.2z"/>
<path class="c36" d="M707.3 274.2l-15.4 -9.9l12.3 0.9l15.3 10z"/>
<path class="c49" d="M520.1 198.2l-15.4 -6.1l12.3 0l15.4 6.2z"/>
<path class="c46" d="M563.1 211.9l-15.4 -7l12.3 0.3l15.3 7z"/>
<path class="c33" d="M596.9 292.5l-15.3 -6.2l12.2 -2.6l15.4 6.3z"/>
<path class="c46" d="M409.6 216.5l-15.3 -4.5l12.2 -1.8l15.4 4.4z"/>
<path class="c29" d="M458.9 316.3l-15.4 -4.7l12.2 -4.2l15.4 4.7z"/>
<path class="c30" d="M738 310l-15.4 -9.1l12.3 -0.6l15.3 9.1z"/>
<path class="c30" d="M360.6 310.9l-15.4 -4.3l12.3 -4.3l15.4 4.3z"/>
<path class="c42" d="M523.2 238.2l-15.3 -6l12.2 -1.3l15.4 6z"/>
<path class="c22" d="M811.6 359.9l-15.3 -6.2l12.2 -3.6l15.4 6.2z"/>
<path class="c28" d="M529.5 322.7l-15.4 -5l12.2 -4l15.4 5z"/>
<path class="c38" d="M385.1 261.5l-15.4 -4.4l12.3 -3.1l15.4 4.3z"/>
<path class="c35" d="M526.3 279.9l-15.3 -5.6l12.2 -2.8l15.4 5.6z"/>
<path class="c32" d="M639.9 303l-15.4 -6.6l12.3 -2.5l15.3 6.7z"/>
<path class="c33" d="M695.1 292.8l-15.4 -8.5l12.2 -0.7l15.4 8.5z"/>
<path class="c37" d="M455.7 269.5l-15.3 -4.9l12.2 -3l15.4 5z"/>
<path class="c24" d="M741.1 348.9l-15.3 -5.9l12.2 -3.7l15.4 5.9z"/>
<path class="c27" d="M600.1 330.3l-15.4 -5.3l12.2 -3.9l15.4 5.3z"/>
<path class="c40" d="M566.2 249.8l-15.4 -6.6l12.3 -1.3l15.3 6.6z"/>
<path class="c40" d="M664.3 254.1l-15.3 -9.1l12.2 0.7l15.4 9.1z"/>
<path class="c26" d="M670.6 339l-15.4 -5.6l12.3 -3.8l15.3 5.6z"/>
<path class="c26" d="M796.3 338.6l-15.4 -10.1l12.3 -0.4l15.3 10z"/>
<path class="c36" d="M652.1 277.1l-15.3 -7.9l12.2 -0.9l15.3 7.9z"/>
<path class="c29" d="M431.3 315.8l-15.4 -4.6l12.2 -4.2l15.4 4.6z"/>
<path class="c38" d="M609.2 262.7l-15.4 -7.2l12.2 -1.1l15.4 7.2z"/>
<path class="c30" d="M682.8 314.5l-15.3 -7.1l12.2 -2.3l15.4 7z"/>
<path class="c29" d="M780.9 319l-15.3 -11.6l12.2 1.2l15.4 11.5z"/>
<path class="c52" d="M449.5 181.4l-15.4 -5l12.3 -0.3l15.4 4.9z"/>
<path class="c45" d="M452.6 224.4l-15.3 -5l12.2 -1.7l15.4 5z"/>
<path class="c35" d="M722.6 284.6l-15.3 -10.4l12.2 1l15.4 10.3z"/>
<path class="c28" d="M725.8 326.9l-15.4 -7.5l12.2 -2.3l15.4 7.5z"/>
<path class="c34" d="M569.3 288.9l-15.3 -6l12.2 -2.6l15.4 6z"/>
<path class="c23" d="M811.6 354.4l-15.3 -8.3l12.2 -2l15.4 8.3z"/>
<path class="c26" d="M768.7 340.2l-15.3 -7.9l12.2 -2.1l15.3 7.8z"/>
<path class="c29" d="M501.9 321.8l-15.4 -4.9l12.2 -4.1l15.4 4.9z"/>
<path class="c43" d="M621.4 235.8l-15.4 -8.3l12.3 0.5l15.3 8.3z"/>
<path class="c23" d="M784.1 357.4l-15.4 -6.2l12.2 -3.6l15.4 6.1z"/>
<path class="c50" d="M492.5 192.2l-15.4 -5.8l12.3 -0.1l15.3 5.8z"/>
<path class="c29" d="M753.4 319.4l-15.4 -9.4l12.2 -0.6l15.4 9.4z"/>
<path class="c36" d="M498.7 277.2l-15.3 -5.4l12.2 -2.9l15.4 5.4z"/>
<path class="c28" d="M572.5 329l-15.4 -5.2l12.2 -4l15.4 5.2z"/>
<path class="c30" d="M403.6 315.4l-15.4 -4.4l12.3 -4.3l15.4 4.5z"/>
<path class="c38" d="M428.1 267.6l-15.3 -4.7l12.2 -3.1l15.4 4.8z"/>
<path class="c46" d="M578.4 219.4l-15.3 -7.5l12.2 0.3l15.4 7.5z"/>
<path class="c43" d="M495.6 233.8l-15.4 -5.7l12.3 -1.5l15.4 5.6z"/>
<path class="c25" d="M713.6 346.8l-15.4 -5.9l12.2 -3.7l15.4 5.8z"/>
<path class="c48" d="M535.5 204.8l-15.4 -6.6l12.3 0.1l15.3 6.6z"/>
<path class="c26" d="M643 337.3l-15.3 -5.5l12.2 -3.9l15.3 5.5z"/>
<path class="c33" d="M612.3 298.9l-15.4 -6.4l12.3 -2.5l15.3 6.4z"/>
<path class="c27" d="M796.3 331l-15.4 -12l12.3 1.1l15.3 12z"/>
<path class="c25" d="M811.6 348.9l-15.3 -10.3l12.2 -0.5l15.4 10.4z"/>
<path class="c32" d="M710.4 301.6l-15.3 -8.8l12.2 -0.7l15.3 8.8z"/>
<path class="c39" d="M679.7 263.6l-15.4 -9.5l12.3 0.7l15.3 9.5z"/>
<path class="c29" d="M474.2 321.1l-15.3 -4.8l12.2 -4.2l15.4 4.8z"/>
<path class="c45" d="M425 221.2l-15.4 -4.7l12.3 -1.9l15.4 4.8z"/>
<path class="c42" d="M538.6 244.5l-15.4 -6.3l12.3 -1.3l15.3 6.3z"/>
<path class="c22" d="M827 366.3l-15.4 -6.4l12.3 -3.6l15.3 6.4z"/>
<path class="c31" d="M655.2 309.9l-15.3 -6.9l12.2 -2.4l15.4 6.8z"/>
<path class="c53" d="M421.9 177l-15.4 -4.6l12.3 -0.5l15.3 4.5z"/>
<path class="c33" d="M738 295.3l-15.4 -10.7l12.3 0.9l15.3 10.7z"/>
<path class="c30" d="M376 315.3l-15.4 -4.4l12.3 -4.3l15.3 4.4z"/>
<path class="c35" d="M541.7 285.7l-15.4 -5.8l12.3 -2.8l15.4 5.8z"/>
<path class="c35" d="M667.5 285.2l-15.4 -8.1l12.2 -0.9l15.4 8.1z"/>
<path class="c40" d="M581.6 256.7l-15.4 -6.9l12.2 -1.3l15.4 7z"/>
<path class="c28" d="M544.8 327.8l-15.3 -5.1l12.2 -4l15.4 5.1z"/>
<path class="c24" d="M756.5 355l-15.4 -6.1l12.3 -3.7l15.3 6z"/>
<path class="c38" d="M624.5 270.3l-15.3 -7.6l12.2 -1.1l15.4 7.6z"/>
<path class="c38" d="M400.5 266.1l-15.4 -4.6l12.3 -3.2l15.4 4.6z"/>
<path class="c29" d="M698.2 321.7l-15.4 -7.2l12.3 -2.4l15.3 7.3z"/>
<path class="c37" d="M471.1 274.7l-15.4 -5.2l12.3 -2.9l15.4 5.2z"/>
<path class="c27" d="M615.4 335.7l-15.3 -5.4l12.2 -3.9l15.4 5.4z"/>
<path class="c25" d="M686 344.8l-15.4 -5.8l12.2 -3.8l15.4 5.7z"/>
<path class="c22" d="M827 362.9l-15.4 -8.5l12.3 -2l15.3 8.5z"/>
<path class="c27" d="M741.1 334.5l-15.3 -7.6l12.2 -2.3l15.4 7.7z"/>
<path class="c42" d="M636.8 244.5l-15.4 -8.7l12.2 0.5l15.4 8.7z"/>
<path class="c25" d="M784.1 348.3l-15.4 -8.1l12.2 -2.2l15.4 8.1z"/>
<path class="c28" d="M768.7 329.1l-15.3 -9.7l12.2 -0.6l15.3 9.7z"/>
<path class="c26" d="M811.6 343.4l-15.3 -12.4l12.2 1.1l15.4 12.5z"/>
<path class="c29" d="M446.6 320.5l-15.3 -4.7l12.2 -4.2l15.4 4.7z"/>
<path class="c44" d="M468 229.8l-15.4 -5.4l12.3 -1.7l15.3 5.4z"/>
<path class="c51" d="M464.9 186.7l-15.4 -5.3l12.3 -0.4l15.3 5.4z"/>
<path class="c30" d="M348.4 315.2l-15.4 -4.2l12.2 -4.4l15.4 4.3z"/>
<path class="c34" d="M584.7 295.2l-15.4 -6.3l12.3 -2.6l15.3 6.2z"/>
<path class="c46" d="M397.4 218.5l-15.4 -4.5l12.3 -2l15.3 4.5z"/>
<path class="c45" d="M593.8 227.2l-15.4 -7.8l12.3 0.3l15.3 7.8z"/>
<path class="c23" d="M827 359.6l-15.4 -10.7l12.3 -0.4l15.3 10.7z"/>
<path class="c23" d="M799.4 363.6l-15.3 -6.2l12.2 -3.7l15.3 6.2z"/>
<path class="c29" d="M517.2 326.8l-15.3 -5l12.2 -4.1l15.4 5z"/>
<path class="c50" d="M507.9 198.3l-15.4 -6.1l12.2 -0.1l15.4 6.1z"/>
<path class="c37" d="M695.1 273.5l-15.4 -9.9l12.2 0.7l15.4 9.9z"/>
<path class="c47" d="M550.8 211.8l-15.3 -7l12.2 0.1l15.4 7z"/>
<path class="c39" d="M372.9 264.8l-15.4 -4.4l12.2 -3.3l15.4 4.4z"/>
<path class="c32" d="M753.4 306.5l-15.4 -11.2l12.2 0.9l15.4 11.2z"/>
<path class="c31" d="M725.8 310.7l-15.4 -9.1l12.2 -0.7l15.4 9.1z"/>
<path class="c36" d="M514.1 282.7l-15.4 -5.5l12.3 -2.9l15.3 5.6z"/>
<path class="c43" d="M511 239.8l-15.4 -6l12.3 -1.6l15.3 6z"/>
<path class="c24" d="M728.9 352.7l-15.3 -5.9l12.2 -3.8l15.3 5.9z"/>
<path class="c27" d="M587.8 334.3l-15.3 -5.3l12.2 -4l15.4 5.3z"/>
<path class="c32" d="M627.7 305.6l-15.4 -6.7l12.2 -2.5l15.4 6.6z"/>
<path class="c26" d="M658.4 342.9l-15.4 -5.6l12.2 -3.9l15.4 5.6z"/>
<path class="c37" d="M443.5 272.6l-15.4 -5l12.3 -3l15.3 4.9z"/>
<path class="c30" d="M419 320l-15.4 -4.6l12.3 -4.2l15.4 4.6z"/>
<path class="c24" d="M827 356.3l-15.4 -12.9l12.3 1.2l15.3 12.8z"/>
<path class="c34" d="M682.8 293.7l-15.3 -8.5l12.2 -0.9l15.4 8.5z"/>
<path class="c41" d="M554 251.2l-15.4 -6.7l12.2 -1.3l15.4 6.6z"/>
<path class="c30" d="M670.6 316.9l-15.4 -7l12.3 -2.5l15.3 7.1z"/>
<path class="c21" d="M842.3 372.7l-15.3 -6.4l12.2 -3.6l15.4 6.4z"/>
<path class="c37" d="M639.9 278.1l-15.4 -7.8l12.3 -1.1l15.3 7.9z"/>
<path class="c29" d="M489.6 325.9l-15.4 -4.8l12.3 -4.2l15.4 4.9z"/>
<path class="c39" d="M596.9 263.9l-15.3 -7.2l12.2 -1.2l15.4 7.2z"/>
<path class="c45" d="M440.4 226.3l-15.4 -5.1l12.3 -1.8l15.3 5z"/>
<path class="c27" d="M784.1 339.2l-15.4 -10.1l12.2 -0.6l15.4 10.1z"/>
<path class="c22" d="M842.3 371.7l-15.3 -8.8l12.2 -2l15.4 8.7z"/>
<path class="c28" d="M713.6 329.2l-15.4 -7.5l12.2 -2.3l15.4 7.5z"/>
<path class="c41" d="M652.1 253.6l-15.3 -9.1l12.2 0.5l15.3 9.1z"/>
<path class="c35" d="M557.1 291.7l-15.4 -6l12.3 -2.8l15.3 6z"/>
<path class="c53" d="M437.3 181.9l-15.4 -4.9l12.2 -0.6l15.4 5z"/>
<path class="c24" d="M799.4 356.6l-15.3 -8.3l12.2 -2.2l15.3 8.3z"/>
<path class="c23" d="M771.9 361.1l-15.4 -6.1l12.2 -3.8l15.4 6.2z"/>
<path class="c26" d="M756.5 342.4l-15.4 -7.9l12.3 -2.2l15.3 7.9z"/>
<path class="c22" d="M842.3 370.6l-15.3 -11l12.2 -0.4l15.4 10.9z"/>
<path class="c30" d="M391.4 319.7l-15.4 -4.4l12.2 -4.3l15.4 4.4z"/>
<path class="c28" d="M560.2 333l-15.4 -5.2l12.3 -4l15.4 5.2z"/>
<path class="c30" d="M768.7 318.1l-15.3 -11.6l12.2 0.9l15.3 11.6z"/>
<path class="c25" d="M701.3 350.6l-15.3 -5.8l12.2 -3.9l15.4 5.9z"/>
<path class="c27" d="M630.8 341.2l-15.4 -5.5l12.3 -3.9l15.3 5.5z"/>
<path class="c37" d="M486.5 280.1l-15.4 -5.4l12.3 -2.9l15.3 5.4z"/>
<path class="c38" d="M415.9 270.8l-15.4 -4.7l12.3 -3.2l15.3 4.7z"/>
<path class="c22" d="M842.3 369.5l-15.3 -13.2l12.2 1.1l15.4 13.2z"/>
<path class="c36" d="M710.4 283.8l-15.3 -10.3l12.2 0.7l15.3 10.4z"/>
<path class="c44" d="M609.2 235.5l-15.4 -8.3l12.2 0.3l15.4 8.3z"/>
<path class="c44" d="M483.4 235.5l-15.4 -5.7l12.2 -1.7l15.4 5.7z"/>
<path class="c51" d="M480.2 192.5l-15.3 -5.8l12.2 -0.3l15.4 5.8z"/>
<path class="c33" d="M600.1 301.6l-15.4 -6.4l12.2 -2.7l15.4 6.4z"/>
<path class="c30" d="M741.1 320.2l-15.3 -9.5l12.2 -0.7l15.4 9.4z"/>
<path class="c29" d="M462 325.2l-15.4 -4.7l12.3 -4.2l15.3 4.8z"/>
<path class="c22" d="M814.8 370l-15.4 -6.4l12.2 -3.7l15.4 6.4z"/>
<path class="c47" d="M566.2 219.3l-15.4 -7.5l12.3 0.1l15.3 7.5z"/>
<path class="c49" d="M523.2 204.9l-15.3 -6.6l12.2 -0.1l15.4 6.6z"/>
<path class="c30" d="M363.7 319.6l-15.3 -4.4l12.2 -4.3l15.4 4.4z"/>
<path class="c46" d="M412.8 223.2l-15.4 -4.7l12.2 -2l15.4 4.7z"/>
<path class="c28" d="M532.6 331.9l-15.4 -5.1l12.3 -4.1l15.3 5.1z"/>
<path class="c32" d="M643 312.4l-15.3 -6.8l12.2 -2.6l15.3 6.9z"/>
<path class="c42" d="M526.3 246.1l-15.3 -6.3l12.2 -1.6l15.4 6.3z"/>
<path class="c20" d="M857.7 383.2l-15.4 -13.7l12.3 1.1l15.3 13.7z"/>
<path class="c33" d="M698.2 302.5l-15.4 -8.8l12.3 -0.9l15.3 8.8z"/>
<path class="c24" d="M744.3 358.7l-15.4 -6l12.2 -3.8l15.4 6.1z"/>
<path class="c26" d="M799.4 349.5l-15.3 -10.3l12.2 -0.6l15.3 10.3z"/>
<path class="c35" d="M529.5 288.6l-15.4 -5.9l12.2 -2.8l15.4 5.8z"/>
<path class="c27" d="M603.2 339.7l-15.4 -5.4l12.3 -4l15.3 5.4z"/>
<path class="c39" d="M388.2 269.3l-15.3 -4.5l12.2 -3.3l15.4 4.6z"/>
<path class="c20" d="M857.7 381.9l-15.4 -11.3l12.3 -0.5l15.3 11.3z"/>
<path class="c29" d="M784.1 330.1l-15.4 -12l12.2 0.9l15.4 12z"/>
<path class="c26" d="M673.7 348.6l-15.3 -5.7l12.2 -3.9l15.4 5.8z"/>
<path class="c40" d="M667.5 263.1l-15.4 -9.5l12.2 0.5l15.4 9.5z"/>
<path class="c37" d="M458.9 277.8l-15.4 -5.2l12.2 -3.1l15.4 5.2z"/>
<path class="c54" d="M409.6 177.7l-15.3 -4.5l12.2 -0.8l15.4 4.6z"/>
<path class="c21" d="M857.7 380.6l-15.4 -8.9l12.3 -2.1l15.3 8.9z"/>
<path class="c30" d="M686 324.2l-15.4 -7.3l12.2 -2.4l15.4 7.2z"/>
<path class="c41" d="M569.3 258.1l-15.3 -6.9l12.2 -1.4l15.4 6.9z"/>
<path class="c36" d="M655.2 286.3l-15.3 -8.2l12.2 -1l15.4 8.1z"/>
<path class="c30" d="M434.4 324.7l-15.4 -4.7l12.3 -4.2l15.3 4.7z"/>
<path class="c21" d="M857.7 379.3l-15.4 -6.6l12.3 -3.6l15.3 6.6z"/>
<path class="c38" d="M612.3 271.5l-15.4 -7.6l12.3 -1.2l15.3 7.6z"/>
<path class="c30" d="M336.1 319.6l-15.4 -4.2l12.3 -4.4l15.4 4.2z"/>
<path class="c23" d="M814.8 365.1l-15.4 -8.5l12.2 -2.2l15.4 8.5z"/>
<path class="c35" d="M725.8 294.6l-15.4 -10.8l12.2 0.8l15.4 10.7z"/>
<path class="c28" d="M728.9 336.9l-15.3 -7.7l12.2 -2.3l15.3 7.6z"/>
<path class="c26" d="M771.9 350.5l-15.4 -8.1l12.2 -2.2l15.4 8.1z"/>
<path class="c18" d="M873.1 397.3l-15.4 -14.1l12.2 1.1l15.4 14.1z"/>
<path class="c34" d="M572.5 297.9l-15.4 -6.2l12.2 -2.8l15.4 6.3z"/>
<path class="c45" d="M455.7 231.6l-15.3 -5.3l12.2 -1.9l15.4 5.4z"/>
<path class="c29" d="M505 330.9l-15.4 -5l12.3 -4.1l15.3 5z"/>
<path class="c23" d="M787.2 367.3l-15.3 -6.2l12.2 -3.7l15.3 6.2z"/>
<path class="c29" d="M756.5 329.9l-15.4 -9.7l12.3 -0.8l15.3 9.7z"/>
<path class="c43" d="M624.5 244.2l-15.3 -8.7l12.2 0.3l15.4 8.7z"/>
<path class="c52" d="M452.6 187.2l-15.3 -5.3l12.2 -0.5l15.4 5.3z"/>
<path class="c47" d="M385.1 220.6l-15.4 -4.4l12.3 -2.2l15.4 4.5z"/>
<path class="c39" d="M360.6 268.2l-15.4 -4.4l12.3 -3.4l15.4 4.4z"/>
<path class="c28" d="M575.6 338.3l-15.4 -5.3l12.3 -4l15.3 5.3z"/>
<path class="c25" d="M716.7 356.5l-15.4 -5.9l12.3 -3.8l15.3 5.9z"/>
<path class="c27" d="M799.4 342.5l-15.3 -12.4l12.2 0.9l15.3 12.4z"/>
<path class="c30" d="M406.8 324.3l-15.4 -4.6l12.2 -4.3l15.4 4.6z"/>
<path class="c26" d="M646.2 346.9l-15.4 -5.7l12.2 -3.9l15.4 5.6z"/>
<path class="c36" d="M501.9 285.7l-15.4 -5.6l12.2 -2.9l15.4 5.5z"/>
<path class="c19" d="M873.1 393.5l-15.4 -11.6l12.2 -0.5l15.4 11.6z"/>
<path class="c24" d="M814.8 360.2l-15.4 -10.7l12.2 -0.6l15.4 10.7z"/>
<path class="c38" d="M431.3 275.8l-15.4 -5l12.2 -3.2l15.4 5z"/>
<path class="c33" d="M615.4 308.2l-15.3 -6.6l12.2 -2.7l15.4 6.7z"/>
<path class="c46" d="M581.6 227.1l-15.4 -7.8l12.2 0.1l15.4 7.8z"/>
<path class="c51" d="M495.6 198.7l-15.4 -6.2l12.3 -0.3l15.4 6.1z"/>
<path class="c44" d="M498.7 241.5l-15.3 -6l12.2 -1.7l15.4 6z"/>
<path class="c16" d="M888.4 411.7l-15.3 -14.4l12.2 1.1l15.3 14.5z"/>
<path class="c32" d="M713.6 311.6l-15.4 -9.1l12.2 -0.9l15.4 9.1z"/>
<path class="c49" d="M538.6 212l-15.4 -7.1l12.3 -0.1l15.3 7z"/>
<path class="c22" d="M830.1 376.4l-15.3 -6.4l12.2 -3.7l15.3 6.4z"/>
<path class="c39" d="M682.8 273l-15.3 -9.9l12.2 0.5l15.4 9.9z"/>
<path class="c29" d="M477.4 330.1l-15.4 -4.9l12.2 -4.1l15.4 4.8z"/>
<path class="c33" d="M741.1 305.8l-15.3 -11.2l12.2 0.7l15.4 11.2z"/>
<path class="c31" d="M658.4 319.5l-15.4 -7.1l12.2 -2.5l15.4 7z"/>
<path class="c19" d="M873.1 389.7l-15.4 -9.1l12.2 -2.1l15.4 9.2z"/>
<path class="c42" d="M541.7 252.7l-15.4 -6.6l12.3 -1.6l15.4 6.7z"/>
<path class="c35" d="M670.6 294.8l-15.4 -8.5l12.3 -1.1l15.3 8.5z"/>
<path class="c30" d="M379.1 324.1l-15.4 -4.5l12.3 -4.3l15.4 4.4z"/>
<path class="c24" d="M759.6 364.9l-15.3 -6.2l12.2 -3.7l15.4 6.1z"/>
<path class="c35" d="M544.8 294.6l-15.3 -6l12.2 -2.9l15.4 6z"/>
<path class="c28" d="M548 337.1l-15.4 -5.2l12.2 -4.1l15.4 5.2z"/>
<path class="c46" d="M428.1 228.3l-15.3 -5.1l12.2 -2l15.4 5.1z"/>
<path class="c29" d="M701.3 331.7l-15.3 -7.5l12.2 -2.5l15.4 7.5z"/>
<path class="c13" d="M903.8 426.7l-15.4 -15l12.2 1.2l15.4 14.9z"/>
<path class="c22" d="M830.1 373.8l-15.3 -8.7l12.2 -2.2l15.3 8.8z"/>
<path class="c25" d="M814.8 355.3l-15.4 -12.8l12.2 0.9l15.4 12.9z"/>
<path class="c40" d="M584.7 265.3l-15.4 -7.2l12.3 -1.4l15.3 7.2z"/>
<path class="c38" d="M627.7 279.4l-15.4 -7.9l12.2 -1.2l15.4 7.8z"/>
<path class="c25" d="M689.1 354.5l-15.4 -5.9l12.3 -3.8l15.3 5.8z"/>
<path class="c27" d="M618.6 345.2l-15.4 -5.5l12.2 -4l15.4 5.5z"/>
<path class="c27" d="M744.3 344.8l-15.4 -7.9l12.2 -2.4l15.4 7.9z"/>
<path class="c25" d="M787.2 358.8l-15.3 -8.3l12.2 -2.2l15.3 8.3z"/>
<path class="c28" d="M771.9 339.9l-15.4 -10l12.2 -0.8l15.4 10.1z"/>
<path class="c20" d="M873.1 385.9l-15.4 -6.6l12.2 -3.6l15.4 6.6z"/>
<path class="c38" d="M403.6 274.1l-15.4 -4.8l12.3 -3.2l15.4 4.7z"/>
<path class="c37" d="M474.2 283.2l-15.3 -5.4l12.2 -3.1l15.4 5.4z"/>
<path class="c17" d="M888.4 405.4l-15.3 -11.9l12.2 -0.5l15.3 12z"/>
<path class="c54" d="M425 182.6l-15.4 -4.9l12.3 -0.7l15.4 4.9z"/>
<path class="c42" d="M639.9 253.3l-15.4 -9.1l12.3 0.3l15.3 9.1z"/>
<path class="c29" d="M449.8 329.5l-15.4 -4.8l12.2 -4.2l15.4 4.7z"/>
<path class="c23" d="M830.1 371.2l-15.3 -11l12.2 -0.6l15.3 11z"/>
<path class="c11" d="M919.1 442l-15.3 -15.3l12.2 1.1l15.3 15.3z"/>
<path class="c34" d="M587.8 304.4l-15.3 -6.5l12.2 -2.7l15.4 6.4z"/>
<path class="c30" d="M351.5 324l-15.4 -4.4l12.3 -4.4l15.3 4.4z"/>
<path class="c22" d="M802.6 373.7l-15.4 -6.4l12.2 -3.7l15.4 6.4z"/>
<path class="c45" d="M471.1 237.3l-15.4 -5.7l12.3 -1.8l15.4 5.7z"/>
<path class="c32" d="M756.5 317.4l-15.4 -11.6l12.3 0.7l15.3 11.6z"/>
<path class="c29" d="M520.4 336l-15.4 -5.1l12.2 -4.1l15.4 5.1z"/>
<path class="c37" d="M698.2 283.3l-15.4 -10.3l12.3 0.5l15.3 10.3z"/>
<path class="c31" d="M728.9 321.1l-15.3 -9.5l12.2 -0.9l15.3 9.5z"/>
<path class="c23" d="M830.1 368.6l-15.3 -13.3l12.2 1l15.3 13.2z"/>
<path class="c52" d="M468 193l-15.4 -5.8l12.3 -0.5l15.3 5.8z"/>
<path class="c45" d="M596.9 235.4l-15.3 -8.3l12.2 0.1l15.4 8.3z"/>
<path class="c24" d="M732.1 362.6l-15.4 -6.1l12.2 -3.8l15.4 6z"/>
<path class="c9" d="M934.5 457.7l-15.4 -15.7l12.2 1.1l15.4 15.8z"/>
<path class="c27" d="M591 343.7l-15.4 -5.4l12.2 -4l15.4 5.4z"/>
<path class="c32" d="M630.8 315.1l-15.4 -6.9l12.3 -2.6l15.3 6.8z"/>
<path class="c26" d="M661.5 352.6l-15.3 -5.7l12.2 -4l15.3 5.7z"/>
<path class="c47" d="M400.5 225.4l-15.4 -4.8l12.3 -2.1l15.4 4.7z"/>
<path class="c36" d="M517.2 291.5l-15.3 -5.8l12.2 -3l15.4 5.9z"/>
<path class="c18" d="M888.4 399.1l-15.3 -9.4l12.2 -2l15.3 9.3z"/>
<path class="c39" d="M376 272.7l-15.4 -4.5l12.3 -3.4l15.3 4.5z"/>
<path class="c50" d="M511 205.3l-15.4 -6.6l12.3 -0.4l15.3 6.6z"/>
<path class="c30" d="M422.1 329l-15.3 -4.7l12.2 -4.3l15.4 4.7z"/>
<path class="c48" d="M554 219.4l-15.4 -7.4l12.2 -0.2l15.4 7.5z"/>
<path class="c15" d="M903.8 417.6l-15.4 -12.2l12.2 -0.4l15.4 12.2z"/>
<path class="c43" d="M514.1 247.8l-15.4 -6.3l12.3 -1.7l15.3 6.3z"/>
<path class="c38" d="M446.6 281l-15.3 -5.2l12.2 -3.2l15.4 5.2z"/>
<path class="c31" d="M323.9 324.1l-15.4 -4.3l12.2 -4.4l15.4 4.2z"/>
<path class="c34" d="M686 303.6l-15.4 -8.8l12.2 -1.1l15.4 8.8z"/>
<path class="c21" d="M845.5 383l-15.4 -6.6l12.2 -3.7l15.4 6.6z"/>
<path class="c6" d="M949.8 473.9l-15.3 -16.2l12.2 1.2l15.3 16.1z"/>
<path class="c30" d="M673.7 326.7l-15.3 -7.2l12.2 -2.6l15.4 7.3z"/>
<path class="c26" d="M787.2 350.3l-15.3 -10.4l12.2 -0.7l15.3 10.3z"/>
<path class="c21" d="M845.5 382.7l-15.4 -8.9l12.2 -2.1l15.4 8.9z"/>
<path class="c21" d="M845.5 382.5l-15.4 -11.3l12.2 -0.6l15.4 11.3z"/>
<path class="c41" d="M557.1 259.6l-15.4 -6.9l12.3 -1.5l15.3 6.9z"/>
<path class="c55" d="M397.4 178.6l-15.4 -4.5l12.3 -0.9l15.3 4.5z"/>
<path class="c28" d="M716.7 339.3l-15.4 -7.6l12.3 -2.5l15.3 7.7z"/>
<path class="c37" d="M643 287.5l-15.3 -8.1l12.2 -1.3l15.3 8.2z"/>
<path class="c21" d="M845.5 382.2l-15.4 -13.6l12.2 0.9l15.4 13.7z"/>
<path class="c24" d="M802.6 367.3l-15.4 -8.5l12.2 -2.2l15.4 8.5z"/>
<path class="c29" d="M492.8 335.1l-15.4 -5l12.2 -4.2l15.4 5z"/>
<path class="c26" d="M759.6 352.9l-15.3 -8.1l12.2 -2.4l15.4 8.1z"/>
<path class="c39" d="M600.1 272.9l-15.4 -7.6l12.2 -1.4l15.4 7.6z"/>
<path class="c23" d="M775 371.1l-15.4 -6.2l12.3 -3.8l15.3 6.2z"/>
<path class="c4" d="M965.2 490.5l-15.4 -16.6l12.2 1.1l15.4 16.6z"/>
<path class="c30" d="M771.9 329.4l-15.4 -12l12.2 0.7l15.4 12z"/>
<path class="c41" d="M655.2 262.8l-15.3 -9.5l12.2 0.3l15.4 9.5z"/>
<path class="c35" d="M560.2 300.8l-15.4 -6.2l12.3 -2.9l15.4 6.2z"/>
<path class="c28" d="M563.4 342.4l-15.4 -5.3l12.2 -4.1l15.4 5.3z"/>
<path class="c46" d="M443.5 233.7l-15.4 -5.4l12.3 -2l15.3 5.3z"/>
<path class="c30" d="M394.5 328.7l-15.4 -4.6l12.3 -4.4l15.4 4.6z"/>
<path class="c25" d="M704.5 360.4l-15.4 -5.9l12.2 -3.9l15.4 5.9z"/>
<path class="c20" d="M888.4 392.7l-15.3 -6.8l12.2 -3.6l15.3 6.8z"/>
<path class="c39" d="M348.4 271.6l-15.4 -4.3l12.2 -3.5l15.4 4.4z"/>
<path class="c27" d="M633.9 350.8l-15.3 -5.6l12.2 -4l15.4 5.7z"/>
<path class="c1" d="M980.5 507.5l-15.3 -17l12.2 1.1l15.3 17z"/>
<path class="c36" d="M713.6 294.1l-15.4 -10.8l12.2 0.5l15.4 10.8z"/>
<path class="c48" d="M372.9 223l-15.4 -4.5l12.2 -2.3l15.4 4.4z"/>
<path class="c14" d="M919.1 430.2l-15.3 -12.6l12.2 -0.4l15.3 12.5z"/>
<path class="c37" d="M489.6 288.8l-15.4 -5.6l12.3 -3.1l15.4 5.6z"/>
<path class="c30" d="M744.3 330.8l-15.4 -9.7l12.2 -0.9l15.4 9.7z"/>
<path class="c38" d="M419 279.1l-15.4 -5l12.3 -3.3l15.4 5z"/>
<path class="c53" d="M440.4 188l-15.4 -5.4l12.3 -0.7l15.3 5.3z"/>
<path class="c19" d="M860.8 396.3l-15.3 -14.1l12.2 1l15.4 14.1z"/>
<path class="c33" d="M603.2 311l-15.4 -6.6l12.3 -2.8l15.3 6.6z"/>
<path class="c44" d="M612.3 244.1l-15.4 -8.7l12.3 0.1l15.3 8.7z"/>
<path class="c29" d="M465.1 334.4l-15.3 -4.9l12.2 -4.3l15.4 4.9z"/>
<path class="c22" d="M817.9 380.1l-15.3 -6.4l12.2 -3.7l15.3 6.4z"/>
<path class="c17" d="M903.8 408.6l-15.4 -9.5l12.2 -2.1l15.4 9.6z"/>
<path class="c44" d="M486.5 243.3l-15.4 -6l12.3 -1.8l15.3 6z"/>
<path class="c20" d="M860.8 394.1l-15.3 -11.6l12.2 -0.6l15.4 11.6z"/>
<path class="c25" d="M802.6 361l-15.4 -10.7l12.2 -0.8l15.4 10.7z"/>
<path class="c30" d="M366.9 328.5l-15.4 -4.5l12.2 -4.4l15.4 4.5z"/>
<path class="c28" d="M787.2 341.8l-15.3 -12.4l12.2 0.7l15.3 12.4z"/>
<path class="c52" d="M483.4 199.2l-15.4 -6.2l12.2 -0.5l15.4 6.2z"/>
<path class="c33" d="M701.3 312.7l-15.3 -9.1l12.2 -1.1l15.4 9.1z"/>
<path class="c31" d="M646.2 322.1l-15.4 -7l12.2 -2.7l15.4 7.1z"/>
<path class="c28" d="M535.7 341.2l-15.3 -5.2l12.2 -4.1l15.4 5.2z"/>
<path class="c24" d="M747.4 368.7l-15.3 -6.1l12.2 -3.9l15.3 6.2z"/>
<path class="c47" d="M569.3 227.2l-15.3 -7.8l12.2 -0.1l15.4 7.8z"/>
<path class="c20" d="M860.8 391.9l-15.3 -9.2l12.2 -2.1l15.4 9.1z"/>
<path class="c50" d="M526.3 212.3l-15.3 -7l12.2 -0.4l15.4 7.1z"/>
<path class="c27" d="M606.3 349.2l-15.3 -5.5l12.2 -4l15.4 5.5z"/>
<path class="c26" d="M676.9 358.4l-15.4 -5.8l12.2 -4l15.4 5.9z"/>
<path class="c36" d="M532.6 297.5l-15.4 -6l12.3 -2.9l15.3 6z"/>
<path class="c17" d="M876.2 410.8l-15.4 -14.5l12.3 1l15.3 14.4z"/>
<path class="c43" d="M529.5 254.4l-15.4 -6.6l12.2 -1.7l15.4 6.6z"/>
<path class="c12" d="M934.5 443l-15.4 -12.8l12.2 -0.5l15.4 12.9z"/>
<path class="c30" d="M689.1 334.2l-15.4 -7.5l12.3 -2.5l15.3 7.5z"/>
<path class="c47" d="M415.9 230.4l-15.4 -5l12.3 -2.2l15.3 5.1z"/>
<path class="c40" d="M670.6 272.7l-15.4 -9.9l12.3 0.3l15.3 9.9z"/>
<path class="c23" d="M817.9 376l-15.3 -8.7l12.2 -2.2l15.3 8.7z"/>
<path class="c21" d="M860.8 389.6l-15.3 -6.6l12.2 -3.7l15.4 6.6z"/>
<path class="c36" d="M658.4 296l-15.4 -8.5l12.2 -1.2l15.4 8.5z"/>
<path class="c39" d="M391.4 277.5l-15.4 -4.8l12.2 -3.4l15.4 4.8z"/>
<path class="c34" d="M728.9 305.3l-15.3 -11.2l12.2 0.5l15.3 11.2z"/>
<path class="c28" d="M732.1 347.2l-15.4 -7.9l12.2 -2.4l15.4 7.9z"/>
<path class="c25" d="M775 361.2l-15.4 -8.3l12.3 -2.4l15.3 8.3z"/>
<path class="c37" d="M462 286.4l-15.4 -5.4l12.3 -3.2l15.3 5.4z"/>
<path class="c30" d="M437.5 333.8l-15.4 -4.8l12.3 -4.3l15.4 4.8z"/>
<path class="c41" d="M572.5 266.9l-15.4 -7.3l12.2 -1.5l15.4 7.2z"/>
<path class="c38" d="M615.4 280.8l-15.3 -7.9l12.2 -1.4l15.4 7.9z"/>
<path class="c31" d="M339.2 328.4l-15.3 -4.3l12.2 -4.5l15.4 4.4z"/>
<path class="c29" d="M759.6 340.9l-15.3 -10.1l12.2 -0.9l15.4 10z"/>
<path class="c23" d="M790.4 377.5l-15.4 -6.4l12.2 -3.8l15.4 6.4z"/>
<path class="c15" d="M891.6 425.7l-15.4 -14.9l12.2 0.9l15.4 15z"/>
<path class="c26" d="M802.6 354.6l-15.4 -12.8l12.2 0.7l15.4 12.8z"/>
<path class="c34" d="M575.6 307.2l-15.4 -6.4l12.3 -2.9l15.3 6.5z"/>
<path class="c18" d="M876.2 406l-15.4 -11.9l12.3 -0.6l15.3 11.9z"/>
<path class="c29" d="M508.1 340.2l-15.3 -5.1l12.2 -4.2l15.4 5.1z"/>
<path class="c55" d="M412.8 183.6l-15.4 -5l12.2 -0.9l15.4 4.9z"/>
<path class="c19" d="M903.8 399.6l-15.4 -6.9l12.2 -3.6l15.4 6.9z"/>
<path class="c24" d="M817.9 371.9l-15.3 -10.9l12.2 -0.8l15.3 11z"/>
<path class="c16" d="M919.1 418.4l-15.3 -9.8l12.2 -2l15.3 9.7z"/>
<path class="c25" d="M719.8 366.4l-15.3 -6l12.2 -3.9l15.4 6.1z"/>
<path class="c45" d="M458.9 239.3l-15.4 -5.6l12.2 -2.1l15.4 5.7z"/>
<path class="c28" d="M578.7 347.8l-15.3 -5.4l12.2 -4.1l15.4 5.4z"/>
<path class="c43" d="M627.7 253.2l-15.4 -9.1l12.2 0.1l15.4 9.1z"/>
<path class="c10" d="M949.8 456.2l-15.3 -13.2l12.2 -0.4l15.3 13.1z"/>
<path class="c26" d="M649.3 356.6l-15.4 -5.8l12.3 -3.9l15.3 5.7z"/>
<path class="c30" d="M409.9 333.3l-15.4 -4.6l12.3 -4.4l15.3 4.7z"/>
<path class="c39" d="M363.7 276.2l-15.3 -4.6l12.2 -3.4l15.4 4.5z"/>
<path class="c31" d="M311.6 328.6l-15.4 -4.3l12.3 -4.5l15.4 4.3z"/>
<path class="c36" d="M505 294.6l-15.4 -5.8l12.3 -3.1l15.3 5.8z"/>
<path class="c33" d="M618.6 317.8l-15.4 -6.8l12.2 -2.8l15.4 6.9z"/>
<path class="c12" d="M906.9 441.1l-15.3 -15.4l12.2 1l15.3 15.3z"/>
<path class="c32" d="M716.7 322.1l-15.4 -9.4l12.3 -1.1l15.3 9.5z"/>
<path class="c47" d="M388.2 227.7l-15.3 -4.7l12.2 -2.4l15.4 4.8z"/>
<path class="c38" d="M434.4 284.3l-15.4 -5.2l12.3 -3.3l15.3 5.2z"/>
<path class="c19" d="M876.2 401.2l-15.4 -9.3l12.3 -2.2l15.3 9.4z"/>
<path class="c21" d="M833.3 386.7l-15.4 -6.6l12.2 -3.7l15.4 6.6z"/>
<path class="c53" d="M455.7 193.7l-15.3 -5.7l12.2 -0.8l15.4 5.8z"/>
<path class="c33" d="M744.3 316.8l-15.4 -11.5l12.2 0.5l15.4 11.6z"/>
<path class="c38" d="M686 283l-15.4 -10.3l12.2 0.3l15.4 10.3z"/>
<path class="c46" d="M584.7 235.5l-15.4 -8.3l12.3 -0.1l15.3 8.3z"/>
<path class="c44" d="M501.9 249.6l-15.4 -6.3l12.2 -1.8l15.4 6.3z"/>
<path class="c25" d="M817.9 367.9l-15.3 -13.3l12.2 0.7l15.3 13.3z"/>
<path class="c29" d="M480.5 339.4l-15.4 -5l12.3 -4.3l15.4 5z"/>
<path class="c31" d="M661.5 329.4l-15.3 -7.3l12.2 -2.6l15.3 7.2z"/>
<path class="c22" d="M833.3 385l-15.4 -9l12.2 -2.2l15.4 8.9z"/>
<path class="c51" d="M498.7 205.8l-15.3 -6.6l12.2 -0.5l15.4 6.6z"/>
<path class="c10" d="M922.3 456.8l-15.4 -15.7l12.2 0.9l15.4 15.7z"/>
<path class="c16" d="M891.6 418.2l-15.4 -12.2l12.2 -0.6l15.4 12.2z"/>
<path class="c49" d="M541.7 219.7l-15.4 -7.4l12.3 -0.3l15.4 7.4z"/>
<path class="c35" d="M673.7 304.8l-15.3 -8.8l12.2 -1.2l15.4 8.8z"/>
<path class="c23" d="M762.8 374.9l-15.4 -6.2l12.2 -3.8l15.4 6.2z"/>
<path class="c8" d="M965.2 469.7l-15.4 -13.5l12.2 -0.5l15.4 13.5z"/>
<path class="c29" d="M704.5 341.9l-15.4 -7.7l12.2 -2.5l15.4 7.6z"/>
<path class="c27" d="M775 351.2l-15.4 -10.3l12.3 -1l15.3 10.4z"/>
<path class="c24" d="M790.4 369.7l-15.4 -8.5l12.2 -2.4l15.4 8.5z"/>
<path class="c30" d="M382.3 333.1l-15.4 -4.6l12.2 -4.4l15.4 4.6z"/>
<path class="c28" d="M551.1 346.5l-15.4 -5.3l12.3 -4.1l15.4 5.3z"/>
<path class="c42" d="M544.8 261.3l-15.3 -6.9l12.2 -1.7l15.4 6.9z"/>
<path class="c27" d="M747.4 355.3l-15.3 -8.1l12.2 -2.4l15.3 8.1z"/>
<path class="c35" d="M548 303.8l-15.4 -6.3l12.2 -2.9l15.4 6.2z"/>
<path class="c25" d="M692.2 364.3l-15.3 -5.9l12.2 -3.9l15.4 5.9z"/>
<path class="c20" d="M876.2 396.4l-15.4 -6.8l12.3 -3.7l15.3 6.8z"/>
<path class="c38" d="M630.8 288.9l-15.4 -8.1l12.3 -1.4l15.3 8.1z"/>
<path class="c27" d="M621.7 354.9l-15.4 -5.7l12.3 -4l15.3 5.6z"/>
<path class="c22" d="M833.3 383.2l-15.4 -11.3l12.2 -0.7l15.4 11.3z"/>
<path class="c56" d="M385.1 179.8l-15.4 -4.5l12.3 -1.2l15.4 4.5z"/>
<path class="c40" d="M336.1 275.2l-15.4 -4.3l12.3 -3.6l15.4 4.3z"/>
<path class="c40" d="M587.8 274.4l-15.3 -7.5l12.2 -1.6l15.4 7.6z"/>
<path class="c7" d="M937.6 473l-15.3 -16.2l12.2 0.9l15.3 16.2z"/>
<path class="c46" d="M431.3 235.8l-15.4 -5.4l12.2 -2.1l15.4 5.4z"/>
<path class="c15" d="M934.5 428.3l-15.4 -9.9l12.2 -2.1l15.4 10z"/>
<path class="c37" d="M477.4 292l-15.4 -5.6l12.2 -3.2l15.4 5.6z"/>
<path class="c23" d="M833.3 381.5l-15.4 -13.6l12.2 0.7l15.4 13.6z"/>
<path class="c39" d="M406.8 282.5l-15.4 -5l12.2 -3.4l15.4 5z"/>
<path class="c48" d="M360.6 225.4l-15.4 -4.4l12.3 -2.5l15.4 4.5z"/>
<path class="c42" d="M643 262.7l-15.3 -9.5l12.2 0.1l15.3 9.5z"/>
<path class="c30" d="M452.9 338.7l-15.4 -4.9l12.3 -4.3l15.3 4.9z"/>
<path class="c31" d="M759.6 328.8l-15.3 -12l12.2 0.6l15.4 12z"/>
<path class="c5" d="M953 489.5l-15.4 -16.5l12.2 0.9l15.4 16.6z"/>
<path class="c22" d="M805.7 383.9l-15.3 -6.4l12.2 -3.8l15.3 6.4z"/>
<path class="c34" d="M591 313.9l-15.4 -6.7l12.2 -2.8l15.4 6.6z"/>
<path class="c6" d="M980.5 483.5l-15.3 -13.8l12.2 -0.5l15.3 13.8z"/>
<path class="c19" d="M919.1 406.5l-15.3 -6.9l12.2 -3.6l15.3 6.9z"/>
<path class="c30" d="M354.6 332.9l-15.4 -4.5l12.3 -4.4l15.4 4.5z"/>
<path class="c31" d="M732.1 331.9l-15.4 -9.8l12.2 -1l15.4 9.7z"/>
<path class="c15" d="M906.9 430.8l-15.3 -12.6l12.2 -0.6l15.3 12.6z"/>
<path class="c37" d="M701.3 293.8l-15.3 -10.8l12.2 0.3l15.4 10.8z"/>
<path class="c18" d="M891.6 410.7l-15.4 -9.5l12.2 -2.1l15.4 9.5z"/>
<path class="c29" d="M523.5 345.4l-15.4 -5.2l12.3 -4.2l15.3 5.2z"/>
<path class="c2" d="M968.3 506.5l-15.3 -17l12.2 1l15.3 17z"/>
<path class="c54" d="M428.1 188.9l-15.3 -5.3l12.2 -1l15.4 5.4z"/>
<path class="c24" d="M735.2 372.6l-15.4 -6.2l12.3 -3.8l15.3 6.1z"/>
<path class="c45" d="M474.2 245.3l-15.3 -6l12.2 -2l15.4 6z"/>
<path class="c27" d="M594.1 353.3l-15.4 -5.5l12.3 -4.1l15.3 5.5z"/>
<path class="c32" d="M633.9 324.9l-15.3 -7.1l12.2 -2.7l15.4 7z"/>
<path class="c26" d="M664.7 362.4l-15.4 -5.8l12.2 -4l15.4 5.8z"/>
<path class="c45" d="M600.1 244.2l-15.4 -8.7l12.2 -0.1l15.4 8.7z"/>
<path class="c20" d="M848.6 395.6l-15.3 -14.1l12.2 0.7l15.3 14.1z"/>
<path class="c26" d="M790.4 361.9l-15.4 -10.7l12.2 -0.9l15.4 10.7z"/>
<path class="c21" d="M848.6 394.8l-15.3 -11.6l12.2 -0.7l15.3 11.6z"/>
<path class="c36" d="M520.4 300.6l-15.4 -6l12.2 -3.1l15.4 6z"/>
<path class="c21" d="M848.6 394.1l-15.3 -9.1l12.2 -2.3l15.3 9.2z"/>
<path class="c21" d="M848.6 393.3l-15.3 -6.6l12.2 -3.7l15.3 6.6z"/>
<path class="c34" d="M689.1 313.9l-15.4 -9.1l12.3 -1.2l15.3 9.1z"/>
<path class="c30" d="M425.3 338.1l-15.4 -4.8l12.2 -4.3l15.4 4.8z"/>
<path class="c53" d="M471.1 199.9l-15.4 -6.2l12.3 -0.7l15.4 6.2z"/>
<path class="c39" d="M379.1 281l-15.4 -4.8l12.3 -3.5l15.4 4.8z"/>
<path class="c30" d="M676.9 336.9l-15.4 -7.5l12.2 -2.7l15.4 7.5z"/>
<path class="c31" d="M327 332.9l-15.4 -4.3l12.3 -4.5l15.3 4.3z"/>
<path class="c38" d="M449.8 289.6l-15.4 -5.3l12.2 -3.3l15.4 5.4z"/>
<path class="c47" d="M403.6 232.8l-15.4 -5.1l12.3 -2.3l15.4 5z"/>
<path class="c43" d="M517.2 256.2l-15.3 -6.6l12.2 -1.8l15.4 6.6z"/>
<path class="c23" d="M805.7 378.4l-15.3 -8.7l12.2 -2.4l15.3 8.7z"/>
<path class="c48" d="M557.1 227.6l-15.4 -7.9l12.3 -0.3l15.3 7.8z"/>
<path class="c29" d="M775 341.3l-15.4 -12.5l12.3 0.6l15.3 12.4z"/>
<path class="c28" d="M719.8 349.8l-15.3 -7.9l12.2 -2.6l15.4 7.9z"/>
<path class="c51" d="M514.1 212.8l-15.4 -7l12.3 -0.5l15.3 7z"/>
<path class="c26" d="M762.8 363.6l-15.4 -8.3l12.2 -2.4l15.4 8.3z"/>
<path class="c14" d="M949.8 438.5l-15.3 -10.2l12.2 -2l15.3 10.2z"/>
<path class="c37" d="M646.2 297.4l-15.4 -8.5l12.2 -1.4l15.4 8.5z"/>
<path class="c13" d="M922.3 443.6l-15.4 -12.8l12.2 -0.6l15.4 12.8z"/>
<path class="c23" d="M778.1 381.3l-15.3 -6.4l12.2 -3.8l15.4 6.4z"/>
<path class="c29" d="M495.9 344.5l-15.4 -5.1l12.3 -4.3l15.3 5.1z"/>
<path class="c41" d="M560.2 268.6l-15.4 -7.3l12.3 -1.7l15.4 7.3z"/>
<path class="c39" d="M603.2 282.3l-15.4 -7.9l12.3 -1.5l15.3 7.9z"/>
<path class="c18" d="M864 410.1l-15.4 -14.5l12.2 0.7l15.4 14.5z"/>
<path class="c41" d="M658.4 272.6l-15.4 -9.9l12.2 0.1l15.4 9.9z"/>
<path class="c19" d="M891.6 403.2l-15.4 -6.8l12.2 -3.7l15.4 6.9z"/>
<path class="c35" d="M563.4 310.2l-15.4 -6.4l12.2 -3l15.4 6.4z"/>
<path class="c36" d="M716.7 305l-15.4 -11.2l12.3 0.3l15.3 11.2z"/>
<path class="c25" d="M707.6 370.4l-15.4 -6.1l12.3 -3.9l15.3 6z"/>
<path class="c28" d="M566.5 352l-15.4 -5.5l12.3 -4.1l15.3 5.4z"/>
<path class="c30" d="M747.4 341.9l-15.3 -10l12.2 -1.1l15.3 10.1z"/>
<path class="c26" d="M637.1 360.6l-15.4 -5.7l12.2 -4.1l15.4 5.8z"/>
<path class="c30" d="M397.6 337.7l-15.3 -4.6l12.2 -4.4l15.4 4.6z"/>
<path class="c31" d="M299.3 333.1l-15.3 -4.2l12.2 -4.6l15.4 4.3z"/>
<path class="c17" d="M906.9 420.5l-15.3 -9.8l12.2 -2.1l15.3 9.8z"/>
<path class="c55" d="M400.5 184.7l-15.4 -4.9l12.3 -1.2l15.4 5z"/>
<path class="c19" d="M864 406.8l-15.4 -12l12.2 -0.7l15.4 11.9z"/>
<path class="c40" d="M351.5 279.8l-15.4 -4.6l12.3 -3.6l15.3 4.6z"/>
<path class="c46" d="M446.6 241.5l-15.3 -5.7l12.2 -2.1l15.4 5.6z"/>
<path class="c37" d="M492.8 297.8l-15.4 -5.8l12.2 -3.2l15.4 5.8z"/>
<path class="c25" d="M805.7 372.9l-15.3 -11l12.2 -0.9l15.3 10.9z"/>
<path class="c28" d="M790.4 354.1l-15.4 -12.8l12.2 0.5l15.4 12.8z"/>
<path class="c33" d="M606.3 320.7l-15.3 -6.8l12.2 -2.9l15.4 6.8z"/>
<path class="c18" d="M934.5 413.6l-15.4 -7.1l12.2 -3.6l15.4 7.1z"/>
<path class="c22" d="M821.1 390.5l-15.4 -6.6l12.2 -3.8l15.4 6.6z"/>
<path class="c16" d="M879.4 425l-15.4 -14.9l12.2 0.7l15.4 14.9z"/>
<path class="c39" d="M422.1 287.6l-15.3 -5.1l12.2 -3.4l15.4 5.2z"/>
<path class="c11" d="M937.6 456.8l-15.3 -13.2l12.2 -0.6l15.3 13.2z"/>
<path class="c48" d="M376 230.2l-15.4 -4.8l12.3 -2.4l15.3 4.7z"/>
<path class="c29" d="M468.3 343.7l-15.4 -5l12.2 -4.3l15.4 5z"/>
<path class="c44" d="M615.4 253.3l-15.3 -9.1l12.2 -0.1l15.4 9.1z"/>
<path class="c20" d="M864 403.4l-15.4 -9.3l12.2 -2.2l15.4 9.3z"/>
<path class="c33" d="M704.5 323.4l-15.4 -9.5l12.2 -1.2l15.4 9.4z"/>
<path class="c24" d="M750.6 378.8l-15.4 -6.2l12.2 -3.9l15.4 6.2z"/>
<path class="c31" d="M649.3 332.2l-15.4 -7.3l12.3 -2.8l15.3 7.3z"/>
<path class="c30" d="M370 337.5l-15.4 -4.6l12.3 -4.4l15.4 4.6z"/>
<path class="c54" d="M443.5 194.7l-15.4 -5.8l12.3 -0.9l15.3 5.7z"/>
<path class="c45" d="M489.6 251.6l-15.4 -6.3l12.3 -2l15.4 6.3z"/>
<path class="c28" d="M538.9 350.7l-15.4 -5.3l12.2 -4.2l15.4 5.3z"/>
<path class="c12" d="M965.2 448.9l-15.4 -10.4l12.2 -2l15.4 10.3z"/>
<path class="c22" d="M821.1 387.3l-15.4 -8.9l12.2 -2.4l15.4 9z"/>
<path class="c14" d="M894.7 440.3l-15.3 -15.3l12.2 0.7l15.3 15.4z"/>
<path class="c25" d="M680 368.3l-15.3 -5.9l12.2 -4l15.3 5.9z"/>
<path class="c27" d="M609.5 359l-15.4 -5.7l12.2 -4.1l15.4 5.7z"/>
<path class="c29" d="M692.2 344.5l-15.3 -7.6l12.2 -2.7l15.4 7.7z"/>
<path class="c34" d="M732.1 316.5l-15.4 -11.5l12.2 0.3l15.4 11.5z"/>
<path class="c20" d="M864 400.1l-15.4 -6.8l12.2 -3.7l15.4 6.8z"/>
<path class="c47" d="M572.5 235.8l-15.4 -8.2l12.2 -0.4l15.4 8.3z"/>
<path class="c36" d="M535.7 306.8l-15.3 -6.2l12.2 -3.1l15.4 6.3z"/>
<path class="c40" d="M323.9 278.9l-15.4 -4.3l12.2 -3.7l15.4 4.3z"/>
<path class="c40" d="M673.7 282.9l-15.3 -10.3l12.2 0.1l15.4 10.3z"/>
<path class="c25" d="M778.1 372.1l-15.3 -8.5l12.2 -2.4l15.4 8.5z"/>
<path class="c27" d="M735.2 357.9l-15.4 -8.1l12.3 -2.6l15.3 8.1z"/>
<path class="c36" d="M661.5 306.2l-15.3 -8.8l12.2 -1.4l15.3 8.8z"/>
<path class="c52" d="M486.5 206.5l-15.4 -6.6l12.3 -0.7l15.3 6.6z"/>
<path class="c17" d="M879.4 419l-15.4 -12.2l12.2 -0.8l15.4 12.2z"/>
<path class="c26" d="M805.7 367.3l-15.3 -13.2l12.2 0.5l15.3 13.3z"/>
<path class="c43" d="M532.6 263.2l-15.4 -7l12.3 -1.8l15.3 6.9z"/>
<path class="c50" d="M529.5 220.2l-15.4 -7.4l12.2 -0.5l15.4 7.4z"/>
<path class="c28" d="M762.8 352.3l-15.4 -10.4l12.2 -1l15.4 10.3z"/>
<path class="c9" d="M953 470.3l-15.4 -13.5l12.2 -0.6l15.4 13.5z"/>
<path class="c30" d="M440.7 343l-15.4 -4.9l12.2 -4.3l15.4 4.9z"/>
<path class="c38" d="M618.6 290.5l-15.4 -8.2l12.2 -1.5l15.4 8.1z"/>
<path class="c41" d="M575.6 276.1l-15.4 -7.5l12.3 -1.7l15.3 7.5z"/>
<path class="c38" d="M465.1 295.2l-15.3 -5.6l12.2 -3.2l15.4 5.6z"/>
<path class="c11" d="M910.1 456.1l-15.4 -15.8l12.2 0.8l15.4 15.7z"/>
<path class="c39" d="M394.5 285.9l-15.4 -4.9l12.3 -3.5l15.4 5z"/>
<path class="c56" d="M372.9 181.1l-15.4 -4.5l12.2 -1.3l15.4 4.5z"/>
<path class="c47" d="M419 238.1l-15.4 -5.3l12.3 -2.4l15.4 5.4z"/>
<path class="c23" d="M821.1 384.2l-15.4 -11.3l12.2 -1l15.4 11.3z"/>
<path class="c16" d="M922.3 430.5l-15.4 -10l12.2 -2.1l15.4 9.9z"/>
<path class="c23" d="M793.5 387.7l-15.4 -6.4l12.3 -3.8l15.3 6.4z"/>
<path class="c31" d="M342.4 337.4l-15.4 -4.5l12.2 -4.5l15.4 4.5z"/>
<path class="c49" d="M348.4 228.1l-15.4 -4.5l12.2 -2.6l15.4 4.4z"/>
<path class="c19" d="M906.9 410.2l-15.3 -7l12.2 -3.6l15.3 6.9z"/>
<path class="c34" d="M578.7 316.8l-15.3 -6.6l12.2 -3l15.4 6.7z"/>
<path class="c29" d="M511.3 349.7l-15.4 -5.2l12.2 -4.3l15.4 5.2z"/>
<path class="c24" d="M723 376.5l-15.4 -6.1l12.2 -4l15.4 6.2z"/>
<path class="c9" d="M925.4 472.2l-15.3 -16.1l12.2 0.7l15.3 16.2z"/>
<path class="c28" d="M581.9 357.5l-15.4 -5.5l12.2 -4.2l15.4 5.5z"/>
<path class="c26" d="M652.4 366.4l-15.3 -5.8l12.2 -4l15.4 5.8z"/>
<path class="c43" d="M630.8 262.8l-15.4 -9.5l12.3 -0.1l15.3 9.5z"/>
<path class="c19" d="M879.4 413l-15.4 -9.6l12.2 -2.2l15.4 9.5z"/>
<path class="c24" d="M821.1 381l-15.4 -13.7l12.2 0.6l15.4 13.6z"/>
<path class="c32" d="M719.8 333.1l-15.3 -9.7l12.2 -1.3l15.4 9.8z"/>
<path class="c32" d="M747.4 328.5l-15.3 -12l12.2 0.3l15.3 12z"/>
<path class="c7" d="M968.3 484.1l-15.3 -13.8l12.2 -0.6l15.3 13.8z"/>
<path class="c11" d="M980.5 459.5l-15.3 -10.6l12.2 -2.1l15.3 10.6z"/>
<path class="c17" d="M949.8 420.8l-15.3 -7.2l12.2 -3.6l15.3 7.2z"/>
<path class="c32" d="M621.7 327.8l-15.4 -7.1l12.3 -2.9l15.3 7.1z"/>
<path class="c30" d="M413 342.5l-15.4 -4.8l12.3 -4.4l15.4 4.8z"/>
<path class="c16" d="M894.7 431.5l-15.3 -12.5l12.2 -0.8l15.3 12.6z"/>
<path class="c46" d="M462 247.5l-15.4 -6l12.3 -2.2l15.3 6z"/>
<path class="c6" d="M940.8 488.8l-15.4 -16.6l12.2 0.8l15.4 16.5z"/>
<path class="c21" d="M836.4 397.1l-15.3 -6.6l12.2 -3.8l15.3 6.6z"/>
<path class="c55" d="M415.9 190.1l-15.4 -5.4l12.3 -1.1l15.3 5.3z"/>
<path class="c36" d="M508.1 303.8l-15.3 -6l12.2 -3.2l15.4 6z"/>
<path class="c31" d="M314.7 337.5l-15.4 -4.4l12.3 -4.5l15.4 4.3z"/>
<path class="c38" d="M689.1 293.7l-15.4 -10.8l12.3 0.1l15.3 10.8z"/>
<path class="c40" d="M366.9 284.6l-15.4 -4.8l12.2 -3.6l15.4 4.8z"/>
<path class="c21" d="M836.4 396.4l-15.3 -9.1l12.2 -2.3l15.3 9.1z"/>
<path class="c38" d="M437.5 293l-15.4 -5.4l12.3 -3.3l15.4 5.3z"/>
<path class="c31" d="M664.7 339.6l-15.4 -7.4l12.2 -2.8l15.4 7.5z"/>
<path class="c3" d="M956.1 505.8l-15.3 -17l12.2 0.7l15.3 17z"/>
<path class="c27" d="M778.1 363l-15.3 -10.7l12.2 -1.1l15.4 10.7z"/>
<path class="c21" d="M836.4 395.8l-15.3 -11.6l12.2 -1l15.3 11.6z"/>
<path class="c29" d="M483.7 348.8l-15.4 -5.1l12.2 -4.3l15.4 5.1z"/>
<path class="c46" d="M587.8 244.5l-15.3 -8.7l12.2 -0.3l15.4 8.7z"/>
<path class="c35" d="M676.9 315.3l-15.4 -9.1l12.2 -1.4l15.4 9.1z"/>
<path class="c48" d="M391.4 235.2l-15.4 -5l12.2 -2.5l15.4 5.1z"/>
<path class="c24" d="M793.5 380.8l-15.4 -8.7l12.3 -2.4l15.3 8.7z"/>
<path class="c23" d="M765.9 385.2l-15.3 -6.4l12.2 -3.9l15.3 6.4z"/>
<path class="c29" d="M707.6 352.4l-15.4 -7.9l12.3 -2.6l15.3 7.9z"/>
<path class="c44" d="M505 258.3l-15.4 -6.7l12.3 -2l15.3 6.6z"/>
<path class="c26" d="M750.6 366.2l-15.4 -8.3l12.2 -2.6l15.4 8.3z"/>
<path class="c54" d="M458.9 200.9l-15.4 -6.2l12.2 -1l15.4 6.2z"/>
<path class="c22" d="M836.4 395.1l-15.3 -14.1l12.2 0.5l15.3 14.1z"/>
<path class="c14" d="M937.6 440.6l-15.3 -10.1l12.2 -2.2l15.3 10.2z"/>
<path class="c20" d="M879.4 407l-15.4 -6.9l12.2 -3.7l15.4 6.8z"/>
<path class="c28" d="M554.3 356.1l-15.4 -5.4l12.2 -4.2l15.4 5.5z"/>
<path class="c25" d="M695.4 374.3l-15.4 -6l12.2 -4l15.4 6.1z"/>
<path class="c30" d="M385.4 342.2l-15.4 -4.7l12.3 -4.4l15.3 4.6z"/>
<path class="c49" d="M544.8 228.1l-15.3 -7.9l12.2 -0.5l15.4 7.9z"/>
<path class="c35" d="M551.1 313.3l-15.4 -6.5l12.3 -3l15.4 6.4z"/>
<path class="c37" d="M633.9 299l-15.3 -8.5l12.2 -1.6l15.4 8.5z"/>
<path class="c31" d="M287.1 337.7l-15.4 -4.2l12.3 -4.6l15.3 4.2z"/>
<path class="c27" d="M624.8 364.7l-15.3 -5.7l12.2 -4.1l15.4 5.7z"/>
<path class="c52" d="M501.9 213.5l-15.4 -7l12.2 -0.7l15.4 7z"/>
<path class="c42" d="M548 270.4l-15.4 -7.2l12.2 -1.9l15.4 7.3z"/>
<path class="c31" d="M762.8 341l-15.4 -12.5l12.2 0.3l15.4 12.5z"/>
<path class="c40" d="M591 284l-15.4 -7.9l12.2 -1.7l15.4 7.9z"/>
<path class="c14" d="M910.1 444.4l-15.4 -12.9l12.2 -0.7l15.4 12.8z"/>
<path class="c40" d="M339.2 283.5l-15.3 -4.6l12.2 -3.7l15.4 4.6z"/>
<path class="c42" d="M646.2 272.7l-15.4 -9.9l12.2 -0.1l15.4 9.9z"/>
<path class="c22" d="M808.9 394.3l-15.4 -6.6l12.2 -3.8l15.4 6.6z"/>
<path class="c37" d="M480.5 301.1l-15.4 -5.9l12.3 -3.2l15.4 5.8z"/>
<path class="c18" d="M922.3 417.3l-15.4 -7.1l12.2 -3.7l15.4 7.1z"/>
<path class="c17" d="M894.7 422.7l-15.3 -9.7l12.2 -2.3l15.3 9.8z"/>
<path class="c30" d="M735.2 343.2l-15.4 -10.1l12.3 -1.2l15.3 10z"/>
<path class="c19" d="M851.8 409.6l-15.4 -14.5l12.2 0.5l15.4 14.5z"/>
<path class="c30" d="M456 348l-15.3 -5l12.2 -4.3l15.4 5z"/>
<path class="c47" d="M434.4 243.8l-15.4 -5.7l12.3 -2.3l15.3 5.7z"/>
<path class="c39" d="M409.9 291.1l-15.4 -5.2l12.3 -3.4l15.3 5.1z"/>
<path class="c34" d="M594.1 323.7l-15.4 -6.9l12.3 -2.9l15.3 6.8z"/>
<path class="c37" d="M704.5 304.9l-15.4 -11.2l12.2 0.1l15.4 11.2z"/>
<path class="c56" d="M388.2 186.1l-15.3 -5l12.2 -1.3l15.4 4.9z"/>
<path class="c20" d="M851.8 407.7l-15.4 -11.9l12.2 -1l15.4 12z"/>
<path class="c31" d="M357.8 342l-15.4 -4.6l12.2 -4.5l15.4 4.6z"/>
<path class="c49" d="M363.7 232.8l-15.3 -4.7l12.2 -2.7l15.4 4.8z"/>
<path class="c24" d="M738.3 382.7l-15.3 -6.2l12.2 -3.9l15.4 6.2z"/>
<path class="c25" d="M793.5 373.9l-15.4 -10.9l12.3 -1.1l15.3 11z"/>
<path class="c29" d="M526.7 355l-15.4 -5.3l12.2 -4.3l15.4 5.3z"/>
<path class="c20" d="M851.8 405.8l-15.4 -9.4l12.2 -2.3l15.4 9.3z"/>
<path class="c17" d="M965.2 428.1l-15.4 -7.3l12.2 -3.6l15.4 7.3z"/>
<path class="c32" d="M637.1 335l-15.4 -7.2l12.2 -2.9l15.4 7.3z"/>
<path class="c26" d="M667.8 372.3l-15.4 -5.9l12.3 -4l15.3 5.9z"/>
<path class="c27" d="M597.2 363.1l-15.3 -5.6l12.2 -4.2l15.4 5.7z"/>
<path class="c12" d="M925.4 457.6l-15.3 -13.2l12.2 -0.8l15.3 13.2z"/>
<path class="c29" d="M778.1 353.8l-15.3 -12.8l12.2 0.3l15.4 12.8z"/>
<path class="c21" d="M851.8 403.9l-15.4 -6.8l12.2 -3.8l15.4 6.8z"/>
<path class="c17" d="M867.2 424.5l-15.4 -14.9l12.2 0.5l15.4 14.9z"/>
<path class="c34" d="M692.2 324.8l-15.3 -9.5l12.2 -1.4l15.4 9.5z"/>
<path class="c40" d="M311.6 282.7l-15.4 -4.3l12.3 -3.8l15.4 4.3z"/>
<path class="c45" d="M477.4 253.8l-15.4 -6.3l12.2 -2.2l15.4 6.3z"/>
<path class="c45" d="M603.2 253.6l-15.4 -9.1l12.3 -0.3l15.3 9.1z"/>
<path class="c13" d="M953 451l-15.4 -10.4l12.2 -2.1l15.4 10.4z"/>
<path class="c23" d="M808.9 389.8l-15.4 -9l12.2 -2.4l15.4 8.9z"/>
<path class="c36" d="M523.5 310l-15.4 -6.2l12.3 -3.2l15.3 6.2z"/>
<path class="c30" d="M680 347.3l-15.3 -7.7l12.2 -2.7l15.3 7.6z"/>
<path class="c55" d="M431.3 195.8l-15.4 -5.7l12.2 -1.2l15.4 5.8z"/>
<path class="c30" d="M428.4 347.4l-15.4 -4.9l12.3 -4.4l15.4 4.9z"/>
<path class="c25" d="M765.9 374.7l-15.3 -8.5l12.2 -2.6l15.3 8.5z"/>
<path class="c28" d="M723 360.5l-15.4 -8.1l12.2 -2.6l15.4 8.1z"/>
<path class="c31" d="M330.1 342l-15.4 -4.5l12.3 -4.6l15.4 4.5z"/>
<path class="c39" d="M382.3 289.5l-15.4 -4.9l12.2 -3.6l15.4 4.9z"/>
<path class="c37" d="M649.3 307.8l-15.4 -8.8l12.3 -1.6l15.3 8.8z"/>
<path class="c38" d="M452.9 298.6l-15.4 -5.6l12.3 -3.4l15.3 5.6z"/>
<path class="c43" d="M520.4 265.2l-15.4 -6.9l12.2 -2.1l15.4 7z"/>
<path class="c23" d="M781.3 391.6l-15.4 -6.4l12.2 -3.9l15.4 6.4z"/>
<path class="c48" d="M560.2 236.3l-15.4 -8.2l12.3 -0.5l15.4 8.2z"/>
<path class="c15" d="M882.5 439.8l-15.3 -15.3l12.2 0.5l15.3 15.3z"/>
<path class="c53" d="M474.2 207.5l-15.3 -6.6l12.2 -1l15.4 6.6z"/>
<path class="c35" d="M719.8 316.4l-15.3 -11.5l12.2 0.1l15.4 11.5z"/>
<path class="c19" d="M894.7 413.9l-15.3 -6.9l12.2 -3.8l15.3 7z"/>
<path class="c18" d="M867.2 419.9l-15.4 -12.2l12.2 -0.9l15.4 12.2z"/>
<path class="c29" d="M499 354l-15.3 -5.2l12.2 -4.3l15.4 5.2z"/>
<path class="c41" d="M661.5 283l-15.3 -10.3l12.2 -0.1l15.3 10.3z"/>
<path class="c48" d="M406.8 240.6l-15.4 -5.4l12.2 -2.4l15.4 5.3z"/>
<path class="c29" d="M750.6 353.5l-15.4 -10.3l12.2 -1.3l15.4 10.4z"/>
<path class="c39" d="M606.3 292.2l-15.3 -8.2l12.2 -1.7l15.4 8.2z"/>
<path class="c41" d="M563.4 278l-15.4 -7.6l12.2 -1.8l15.4 7.5z"/>
<path class="c49" d="M336.1 230.8l-15.4 -4.4l12.3 -2.8l15.4 4.5z"/>
<path class="c51" d="M517.2 221l-15.3 -7.5l12.2 -0.7l15.4 7.4z"/>
<path class="c16" d="M910.1 432.7l-15.4 -10l12.2 -2.2l15.4 10z"/>
<path class="c10" d="M940.8 471l-15.4 -13.4l12.2 -0.8l15.4 13.5z"/>
<path class="c57" d="M360.6 182.7l-15.4 -4.5l12.3 -1.6l15.4 4.5z"/>
<path class="c35" d="M566.5 319.9l-15.4 -6.6l12.3 -3.1l15.3 6.6z"/>
<path class="c25" d="M710.8 380.5l-15.4 -6.2l12.2 -3.9l15.4 6.1z"/>
<path class="c27" d="M793.5 367l-15.4 -13.2l12.3 0.3l15.3 13.2z"/>
<path class="c28" d="M569.6 361.7l-15.3 -5.6l12.2 -4.1l15.4 5.5z"/>
<path class="c24" d="M808.9 385.2l-15.4 -11.3l12.2 -1l15.4 11.3z"/>
<path class="c26" d="M640.2 370.5l-15.4 -5.8l12.3 -4.1l15.3 5.8z"/>
<path class="c30" d="M400.8 347l-15.4 -4.8l12.2 -4.5l15.4 4.8z"/>
<path class="c12" d="M897.9 455.6l-15.4 -15.8l12.2 0.5l15.4 15.8z"/>
<path class="c31" d="M302.5 342.1l-15.4 -4.4l12.2 -4.6l15.4 4.4z"/>
<path class="c18" d="M937.6 424.5l-15.3 -7.2l12.2 -3.7l15.3 7.2z"/>
<path class="c22" d="M824.2 400.9l-15.3 -6.6l12.2 -3.8l15.3 6.6z"/>
<path class="c19" d="M867.2 415.3l-15.4 -9.5l12.2 -2.4l15.4 9.6z"/>
<path class="c33" d="M609.5 330.7l-15.4 -7l12.2 -3l15.4 7.1z"/>
<path class="c37" d="M495.9 307.1l-15.4 -6l12.3 -3.3l15.3 6z"/>
<path class="c12" d="M968.3 461.6l-15.3 -10.6l12.2 -2.1l15.3 10.6z"/>
<path class="c40" d="M354.6 288.3l-15.4 -4.8l12.3 -3.7l15.4 4.8z"/>
<path class="c46" d="M449.8 249.8l-15.4 -6l12.2 -2.3l15.4 6z"/>
<path class="c32" d="M707.6 334.5l-15.4 -9.7l12.3 -1.4l15.3 9.7z"/>
<path class="c10" d="M913.2 471.7l-15.3 -16.1l12.2 0.5l15.3 16.1z"/>
<path class="c29" d="M471.4 353.1l-15.4 -5.1l12.3 -4.3l15.4 5.1z"/>
<path class="c39" d="M425.3 296.5l-15.4 -5.4l12.2 -3.5l15.4 5.4z"/>
<path class="c44" d="M618.6 263.1l-15.4 -9.5l12.2 -0.3l15.4 9.5z"/>
<path class="c8" d="M956.1 484.8l-15.3 -13.8l12.2 -0.7l15.3 13.8z"/>
<path class="c22" d="M824.2 398.9l-15.3 -9.1l12.2 -2.5l15.3 9.1z"/>
<path class="c16" d="M980.5 435.5l-15.3 -7.4l12.2 -3.6l15.3 7.3z"/>
<path class="c16" d="M882.5 432.5l-15.3 -12.6l12.2 -0.9l15.3 12.5z"/>
<path class="c56" d="M403.6 191.4l-15.4 -5.3l12.3 -1.4l15.4 5.4z"/>
<path class="c24" d="M753.7 389.1l-15.4 -6.4l12.3 -3.9l15.3 6.4z"/>
<path class="c31" d="M652.4 342.5l-15.3 -7.5l12.2 -2.8l15.4 7.4z"/>
<path class="c25" d="M808.9 380.7l-15.4 -13.7l12.2 0.3l15.4 13.7z"/>
<path class="c33" d="M735.2 328.4l-15.4 -12l12.3 0.1l15.3 12z"/>
<path class="c28" d="M542 360.4l-15.3 -5.4l12.2 -4.3l15.4 5.4z"/>
<path class="c48" d="M379.1 237.9l-15.4 -5.1l12.3 -2.6l15.4 5z"/>
<path class="c31" d="M274.8 342.4l-15.4 -4.3l12.3 -4.6l15.4 4.2z"/>
<path class="c25" d="M781.3 383.4l-15.4 -8.7l12.2 -2.6l15.4 8.7z"/>
<path class="c30" d="M373.2 346.7l-15.4 -4.7l12.2 -4.5l15.4 4.7z"/>
<path class="c29" d="M695.4 355.2l-15.4 -7.9l12.2 -2.8l15.4 7.9z"/>
<path class="c20" d="M867.2 410.7l-15.4 -6.8l12.2 -3.8l15.4 6.9z"/>
<path class="c25" d="M683.2 378.4l-15.4 -6.1l12.2 -4l15.4 6z"/>
<path class="c7" d="M928.6 488.3l-15.4 -16.6l12.2 0.5l15.4 16.6z"/>
<path class="c39" d="M676.9 293.8l-15.4 -10.8l12.2 -0.1l15.4 10.8z"/>
<path class="c27" d="M738.3 368.8l-15.3 -8.3l12.2 -2.6l15.4 8.3z"/>
<path class="c27" d="M612.6 368.8l-15.4 -5.7l12.3 -4.1l15.3 5.7z"/>
<path class="c28" d="M765.9 364.2l-15.3 -10.7l12.2 -1.2l15.3 10.7z"/>
<path class="c45" d="M492.8 260.4l-15.4 -6.6l12.2 -2.2l15.4 6.7z"/>
<path class="c35" d="M664.7 316.9l-15.4 -9.1l12.2 -1.6l15.4 9.1z"/>
<path class="c22" d="M824.2 396.8l-15.3 -11.6l12.2 -1l15.3 11.6z"/>
<path class="c36" d="M538.9 316.4l-15.4 -6.4l12.2 -3.2l15.4 6.5z"/>
<path class="c15" d="M925.4 442.9l-15.3 -10.2l12.2 -2.2l15.3 10.1z"/>
<path class="c47" d="M575.6 245l-15.4 -8.7l12.3 -0.5l15.3 8.7z"/>
<path class="c5" d="M943.9 505.3l-15.3 -17l12.2 0.5l15.3 17z"/>
<path class="c54" d="M446.6 202l-15.3 -6.2l12.2 -1.1l15.4 6.2z"/>
<path class="c40" d="M327 287.3l-15.4 -4.6l12.3 -3.8l15.3 4.6z"/>
<path class="c43" d="M535.7 272.4l-15.3 -7.2l12.2 -2l15.4 7.2z"/>
<path class="c38" d="M621.7 300.7l-15.4 -8.5l12.3 -1.7l15.3 8.5z"/>
<path class="c30" d="M443.8 352.4l-15.4 -5l12.3 -4.4l15.3 5z"/>
<path class="c22" d="M796.7 398.2l-15.4 -6.6l12.2 -3.9l15.4 6.6z"/>
<path class="c41" d="M578.7 285.8l-15.3 -7.8l12.2 -1.9l15.4 7.9z"/>
<path class="c23" d="M824.2 394.8l-15.3 -14.1l12.2 0.3l15.3 14.1z"/>
<path class="c19" d="M910.1 421l-15.4 -7.1l12.2 -3.7l15.4 7.1z"/>
<path class="c50" d="M532.6 228.8l-15.4 -7.8l12.3 -0.8l15.3 7.9z"/>
<path class="c52" d="M489.6 214.5l-15.4 -7l12.3 -1l15.4 7z"/>
<path class="c38" d="M468.3 304.4l-15.4 -5.8l12.2 -3.4l15.4 5.9z"/>
<path class="c39" d="M397.6 294.7l-15.3 -5.2l12.2 -3.6l15.4 5.2z"/>
<path class="c15" d="M897.9 445.3l-15.4 -12.8l12.2 -1l15.4 12.9z"/>
<path class="c31" d="M345.5 346.6l-15.4 -4.6l12.3 -4.6l15.4 4.6z"/>
<path class="c34" d="M581.9 326.7l-15.4 -6.8l12.2 -3.1l15.4 6.9z"/>
<path class="c18" d="M882.5 425.1l-15.3 -9.8l12.2 -2.3l15.3 9.7z"/>
<path class="c32" d="M750.6 340.9l-15.4 -12.5l12.2 0.1l15.4 12.5z"/>
<path class="c47" d="M422.1 246.3l-15.3 -5.7l12.2 -2.5l15.4 5.7z"/>
<path class="c29" d="M514.4 359.3l-15.4 -5.3l12.3 -4.3l15.4 5.3z"/>
<path class="c24" d="M726.1 386.7l-15.3 -6.2l12.2 -4l15.3 6.2z"/>
<path class="c31" d="M723 344.5l-15.4 -10l12.2 -1.4l15.4 10.1z"/>
<path class="c49" d="M351.5 235.6l-15.4 -4.8l12.3 -2.7l15.3 4.7z"/>
<path class="c27" d="M585 367.3l-15.4 -5.6l12.3 -4.2l15.3 5.6z"/>
<path class="c26" d="M655.6 376.4l-15.4 -5.9l12.2 -4.1l15.4 5.9z"/>
<path class="c43" d="M633.9 273l-15.3 -9.9l12.2 -0.3l15.4 9.9z"/>
<path class="c17" d="M953 431.7l-15.4 -7.2l12.2 -3.7l15.4 7.3z"/>
<path class="c57" d="M376 187.6l-15.4 -4.9l12.3 -1.6l15.3 5z"/>
<path class="c21" d="M839.6 407.7l-15.4 -6.8l12.2 -3.8l15.4 6.8z"/>
<path class="c32" d="M624.8 338l-15.3 -7.3l12.2 -2.9l15.4 7.2z"/>
<path class="c21" d="M839.6 408.2l-15.4 -9.3l12.2 -2.5l15.4 9.4z"/>
<path class="c21" d="M839.6 408.8l-15.4 -12l12.2 -1l15.4 11.9z"/>
<path class="c21" d="M839.6 409.3l-15.4 -14.5l12.2 0.3l15.4 14.5z"/>
<path class="c41" d="M299.3 286.6l-15.3 -4.3l12.2 -3.9l15.4 4.3z"/>
<path class="c38" d="M692.2 305l-15.3 -11.2l12.2 -0.1l15.4 11.2z"/>
<path class="c26" d="M781.3 375.2l-15.4 -11l12.2 -1.2l15.4 10.9z"/>
<path class="c30" d="M416.2 351.9l-15.4 -4.9l12.2 -4.5l15.4 4.9z"/>
<path class="c36" d="M511.3 313.3l-15.4 -6.2l12.2 -3.3l15.4 6.2z"/>
<path class="c31" d="M317.9 346.6l-15.4 -4.5l12.2 -4.6l15.4 4.5z"/>
<path class="c46" d="M465.1 256.1l-15.3 -6.3l12.2 -2.3l15.4 6.3z"/>
<path class="c30" d="M667.8 350.2l-15.4 -7.7l12.3 -2.9l15.3 7.7z"/>
<path class="c24" d="M796.7 392.3l-15.4 -8.9l12.2 -2.6l15.4 9z"/>
<path class="c14" d="M940.8 453.2l-15.4 -10.3l12.2 -2.3l15.4 10.4z"/>
<path class="c13" d="M913.2 458.5l-15.3 -13.2l12.2 -0.9l15.3 13.2z"/>
<path class="c34" d="M680 326.3l-15.3 -9.4l12.2 -1.6l15.3 9.5z"/>
<path class="c28" d="M710.8 363.3l-15.4 -8.1l12.2 -2.8l15.4 8.1z"/>
<path class="c26" d="M753.7 377.3l-15.4 -8.5l12.3 -2.6l15.3 8.5z"/>
<path class="c40" d="M370 293.2l-15.4 -4.9l12.3 -3.7l15.4 4.9z"/>
<path class="c23" d="M769.1 395.5l-15.4 -6.4l12.2 -3.9l15.4 6.4z"/>
<path class="c38" d="M440.7 302.1l-15.4 -5.6l12.2 -3.5l15.4 5.6z"/>
<path class="c29" d="M486.8 358.3l-15.4 -5.2l12.3 -4.3l15.3 5.2z"/>
<path class="c30" d="M765.9 353.7l-15.3 -12.8l12.2 0.1l15.3 12.8z"/>
<path class="c46" d="M591 254.1l-15.4 -9.1l12.2 -0.5l15.4 9.1z"/>
<path class="c56" d="M419 197.2l-15.4 -5.8l12.3 -1.3l15.4 5.7z"/>
<path class="c20" d="M882.5 417.7l-15.3 -7l12.2 -3.7l15.3 6.9z"/>
<path class="c18" d="M854.9 424.2l-15.3 -14.9l12.2 0.3l15.4 14.9z"/>
<path class="c44" d="M508.1 267.3l-15.3 -6.9l12.2 -2.1l15.4 6.9z"/>
<path class="c25" d="M698.5 384.5l-15.3 -6.1l12.2 -4.1l15.4 6.2z"/>
<path class="c37" d="M637.1 309.5l-15.4 -8.8l12.2 -1.7l15.4 8.8z"/>
<path class="c28" d="M557.4 365.9l-15.4 -5.5l12.3 -4.3l15.3 5.6z"/>
<path class="c48" d="M394.5 243.2l-15.4 -5.3l12.3 -2.7l15.4 5.4z"/>
<path class="c50" d="M323.9 233.8l-15.4 -4.4l12.2 -3l15.4 4.4z"/>
<path class="c27" d="M628 374.6l-15.4 -5.8l12.2 -4.1l15.4 5.8z"/>
<path class="c35" d="M554.3 323.1l-15.4 -6.7l12.2 -3.1l15.4 6.6z"/>
<path class="c30" d="M388.5 351.5l-15.3 -4.8l12.2 -4.5l15.4 4.8z"/>
<path class="c17" d="M897.9 435l-15.4 -9.9l12.2 -2.4l15.4 10z"/>
<path class="c42" d="M551.1 280l-15.4 -7.6l12.3 -2l15.4 7.6z"/>
<path class="c40" d="M594.1 294l-15.4 -8.2l12.3 -1.8l15.3 8.2z"/>
<path class="c31" d="M290.2 346.8l-15.4 -4.4l12.3 -4.7l15.4 4.4z"/>
<path class="c49" d="M548 237.1l-15.4 -8.3l12.2 -0.7l15.4 8.2z"/>
<path class="c54" d="M462 208.6l-15.4 -6.6l12.3 -1.1l15.3 6.6z"/>
<path class="c19" d="M854.9 421l-15.3 -12.2l12.2 -1.1l15.4 12.2z"/>
<path class="c30" d="M738.3 354.9l-15.3 -10.4l12.2 -1.3l15.4 10.3z"/>
<path class="c58" d="M348.4 184.5l-15.4 -4.5l12.2 -1.8l15.4 4.5z"/>
<path class="c18" d="M925.4 428.2l-15.3 -7.2l12.2 -3.7l15.3 7.2z"/>
<path class="c52" d="M505 221.9l-15.4 -7.4l12.3 -1l15.3 7.5z"/>
<path class="c36" d="M707.6 316.6l-15.4 -11.6l12.3 -0.1l15.3 11.5z"/>
<path class="c42" d="M649.3 283.4l-15.4 -10.4l12.3 -0.3l15.3 10.3z"/>
<path class="c22" d="M812 404.8l-15.3 -6.6l12.2 -3.9l15.3 6.6z"/>
<path class="c11" d="M928.6 471.9l-15.4 -13.4l12.2 -0.9l15.4 13.4z"/>
<path class="c16" d="M870.3 439.5l-15.4 -15.3l12.3 0.3l15.3 15.3z"/>
<path class="c25" d="M796.7 386.5l-15.4 -11.3l12.2 -1.3l15.4 11.3z"/>
<path class="c40" d="M342.4 292.1l-15.4 -4.8l12.2 -3.8l15.4 4.8z"/>
<path class="c33" d="M597.2 333.8l-15.3 -7.1l12.2 -3l15.4 7z"/>
<path class="c37" d="M483.7 310.5l-15.4 -6.1l12.2 -3.3l15.4 6z"/>
<path class="c29" d="M459.2 357.5l-15.4 -5.1l12.2 -4.4l15.4 5.1z"/>
<path class="c20" d="M854.9 417.8l-15.3 -9.6l12.2 -2.4l15.4 9.5z"/>
<path class="c28" d="M781.3 366.9l-15.4 -13.2l12.2 0.1l15.4 13.2z"/>
<path class="c39" d="M413 300.1l-15.4 -5.4l12.3 -3.6l15.4 5.4z"/>
<path class="c12" d="M956.1 463.8l-15.3 -10.6l12.2 -2.2l15.3 10.6z"/>
<path class="c24" d="M741.5 393.1l-15.4 -6.4l12.2 -4l15.4 6.4z"/>
<path class="c47" d="M437.5 252.3l-15.4 -6l12.3 -2.5l15.4 6z"/>
<path class="c16" d="M968.3 439.1l-15.3 -7.4l12.2 -3.6l15.3 7.4z"/>
<path class="c31" d="M262.6 347.1l-15.4 -4.3l12.2 -4.7l15.4 4.3z"/>
<path class="c14" d="M885.7 455.3l-15.4 -15.8l12.2 0.3l15.4 15.8z"/>
<path class="c31" d="M360.9 351.2l-15.4 -4.6l12.3 -4.6l15.4 4.7z"/>
<path class="c28" d="M529.8 364.7l-15.4 -5.4l12.3 -4.3l15.3 5.4z"/>
<path class="c32" d="M640.2 345.5l-15.4 -7.5l12.3 -3l15.3 7.5z"/>
<path class="c33" d="M695.4 336l-15.4 -9.7l12.2 -1.5l15.4 9.7z"/>
<path class="c22" d="M812 401.4l-15.3 -9.1l12.2 -2.5l15.3 9.1z"/>
<path class="c26" d="M671 382.5l-15.4 -6.1l12.2 -4.1l15.4 6.1z"/>
<path class="c20" d="M854.9 414.6l-15.3 -6.9l12.2 -3.8l15.4 6.8z"/>
<path class="c27" d="M600.4 373l-15.4 -5.7l12.2 -4.2l15.4 5.7z"/>
<path class="c49" d="M366.9 240.7l-15.4 -5.1l12.2 -2.8l15.4 5.1z"/>
<path class="c57" d="M391.4 193l-15.4 -5.4l12.2 -1.5l15.4 5.3z"/>
<path class="c30" d="M683.2 358.1l-15.4 -7.9l12.2 -2.9l15.4 7.9z"/>
<path class="c9" d="M943.9 485.7l-15.3 -13.8l12.2 -0.9l15.3 13.8z"/>
<path class="c25" d="M769.1 386l-15.4 -8.7l12.2 -2.6l15.4 8.7z"/>
<path class="c17" d="M870.3 433.5l-15.4 -12.5l12.3 -1.1l15.3 12.6z"/>
<path class="c45" d="M606.3 263.6l-15.3 -9.5l12.2 -0.5l15.4 9.5z"/>
<path class="c27" d="M726.1 371.6l-15.3 -8.3l12.2 -2.8l15.3 8.3z"/>
<path class="c36" d="M526.7 319.7l-15.4 -6.4l12.2 -3.3l15.4 6.4z"/>
<path class="c11" d="M901 471.4l-15.3 -16.1l12.2 0.3l15.3 16.1z"/>
<path class="c45" d="M480.5 262.7l-15.4 -6.6l12.3 -2.3l15.4 6.6z"/>
<path class="c41" d="M314.7 291.2l-15.4 -4.6l12.3 -3.9l15.4 4.6z"/>
<path class="c35" d="M723 328.6l-15.4 -12l12.2 -0.2l15.4 12z"/>
<path class="c30" d="M431.6 356.9l-15.4 -5l12.2 -4.5l15.4 5z"/>
<path class="c26" d="M796.7 380.6l-15.4 -13.7l12.2 0.1l15.4 13.7z"/>
<path class="c15" d="M913.2 445.2l-15.3 -10.2l12.2 -2.3l15.3 10.2z"/>
<path class="c36" d="M652.4 318.6l-15.3 -9.1l12.2 -1.7l15.4 9.1z"/>
<path class="c29" d="M753.7 365.6l-15.4 -10.7l12.3 -1.4l15.3 10.7z"/>
<path class="c23" d="M784.4 402.1l-15.3 -6.6l12.2 -3.9l15.4 6.6z"/>
<path class="c23" d="M812 398.1l-15.3 -11.6l12.2 -1.3l15.3 11.6z"/>
<path class="c19" d="M897.9 424.8l-15.4 -7.1l12.2 -3.8l15.4 7.1z"/>
<path class="c40" d="M664.7 294.1l-15.4 -10.7l12.2 -0.4l15.4 10.8z"/>
<path class="c31" d="M333.3 351.2l-15.4 -4.6l12.2 -4.6l15.4 4.6z"/>
<path class="c8" d="M916.4 488l-15.4 -16.6l12.2 0.3l15.4 16.6z"/>
<path class="c38" d="M456 307.9l-15.3 -5.8l12.2 -3.5l15.4 5.8z"/>
<path class="c43" d="M523.5 274.6l-15.4 -7.3l12.3 -2.1l15.3 7.2z"/>
<path class="c40" d="M385.4 298.4l-15.4 -5.2l12.3 -3.7l15.3 5.2z"/>
<path class="c55" d="M434.4 203.4l-15.4 -6.2l12.3 -1.4l15.3 6.2z"/>
<path class="c39" d="M609.5 302.5l-15.4 -8.5l12.2 -1.8l15.4 8.5z"/>
<path class="c48" d="M563.4 245.8l-15.4 -8.7l12.2 -0.8l15.4 8.7z"/>
<path class="c29" d="M502.2 363.6l-15.4 -5.3l12.2 -4.3l15.4 5.3z"/>
<path class="c41" d="M566.5 287.8l-15.4 -7.8l12.3 -2l15.3 7.8z"/>
<path class="c25" d="M713.9 390.8l-15.4 -6.3l12.3 -4l15.3 6.2z"/>
<path class="c34" d="M569.6 329.9l-15.3 -6.8l12.2 -3.2l15.4 6.8z"/>
<path class="c6" d="M931.8 505l-15.4 -17l12.2 0.3l15.3 17z"/>
<path class="c28" d="M572.8 371.5l-15.4 -5.6l12.2 -4.2l15.4 5.6z"/>
<path class="c26" d="M643.4 380.6l-15.4 -6l12.2 -4.1l15.4 5.9z"/>
<path class="c19" d="M870.3 427.5l-15.4 -9.7l12.3 -2.5l15.3 9.8z"/>
<path class="c53" d="M477.4 215.6l-15.4 -7l12.2 -1.1l15.4 7z"/>
<path class="c48" d="M409.9 248.9l-15.4 -5.7l12.3 -2.6l15.3 5.7z"/>
<path class="c51" d="M520.4 229.8l-15.4 -7.9l12.2 -0.9l15.4 7.8z"/>
<path class="c17" d="M940.8 435.5l-15.4 -7.3l12.2 -3.7l15.4 7.2z"/>
<path class="c15" d="M885.7 446.4l-15.4 -12.9l12.2 -1l15.4 12.8z"/>
<path class="c24" d="M812 394.7l-15.3 -14.1l12.2 0.1l15.3 14.1z"/>
<path class="c50" d="M339.2 238.5l-15.3 -4.7l12.2 -3l15.4 4.8z"/>
<path class="c21" d="M827.4 411.6l-15.4 -6.8l12.2 -3.9l15.4 6.8z"/>
<path class="c41" d="M287.1 290.6l-15.4 -4.3l12.3 -4l15.3 4.3z"/>
<path class="c30" d="M403.9 356.4l-15.4 -4.9l12.3 -4.5l15.4 4.9z"/>
<path class="c32" d="M710.8 346.1l-15.4 -10.1l12.2 -1.5l15.4 10z"/>
<path class="c33" d="M612.6 341.1l-15.4 -7.3l12.3 -3.1l15.3 7.3z"/>
<path class="c31" d="M305.6 351.2l-15.4 -4.4l12.3 -4.7l15.4 4.5z"/>
<path class="c58" d="M363.7 189.4l-15.3 -4.9l12.2 -1.8l15.4 4.9z"/>
<path class="c33" d="M738.3 341l-15.3 -12.4l12.2 -0.2l15.4 12.5z"/>
<path class="c21" d="M827.4 410.8l-15.4 -9.4l12.2 -2.5l15.4 9.3z"/>
<path class="c37" d="M499 316.7l-15.3 -6.2l12.2 -3.4l15.4 6.2z"/>
<path class="c44" d="M621.7 273.5l-15.4 -9.9l12.3 -0.5l15.3 9.9z"/>
<path class="c31" d="M655.6 353.1l-15.4 -7.6l12.2 -3l15.4 7.7z"/>
<path class="c22" d="M827.4 410l-15.4 -11.9l12.2 -1.3l15.4 12z"/>
<path class="c23" d="M756.9 399.5l-15.4 -6.4l12.2 -4l15.4 6.4z"/>
<path class="c40" d="M357.8 297l-15.4 -4.9l12.2 -3.8l15.4 4.9z"/>
<path class="c29" d="M474.6 362.7l-15.4 -5.2l12.2 -4.4l15.4 5.2z"/>
<path class="c24" d="M784.4 395l-15.3 -9l12.2 -2.6l15.4 8.9z"/>
<path class="c27" d="M769.1 376.5l-15.4 -10.9l12.2 -1.4l15.4 11z"/>
<path class="c46" d="M452.9 258.6l-15.4 -6.3l12.3 -2.5l15.3 6.3z"/>
<path class="c14" d="M928.6 455.6l-15.4 -10.4l12.2 -2.3l15.4 10.3z"/>
<path class="c39" d="M428.4 305.7l-15.4 -5.6l12.3 -3.6l15.4 5.6z"/>
<path class="c29" d="M698.5 366.1l-15.3 -8l12.2 -2.9l15.4 8.1z"/>
<path class="c39" d="M680 305.3l-15.3 -11.2l12.2 -0.3l15.3 11.2z"/>
<path class="c27" d="M741.5 380.1l-15.4 -8.5l12.2 -2.8l15.4 8.5z"/>
<path class="c20" d="M870.3 421.5l-15.4 -6.9l12.3 -3.9l15.3 7z"/>
<path class="c22" d="M827.4 409.2l-15.4 -14.5l12.2 0.1l15.4 14.5z"/>
<path class="c35" d="M667.8 328l-15.4 -9.4l12.3 -1.7l15.3 9.4z"/>
<path class="c25" d="M686.3 388.6l-15.3 -6.1l12.2 -4.1l15.3 6.1z"/>
<path class="c28" d="M545.2 370.2l-15.4 -5.5l12.2 -4.3l15.4 5.5z"/>
<path class="c14" d="M901 459.5l-15.3 -13.1l12.2 -1.1l15.3 13.2z"/>
<path class="c27" d="M615.8 378.8l-15.4 -5.8l12.2 -4.2l15.4 5.8z"/>
<path class="c30" d="M376.3 356l-15.4 -4.8l12.3 -4.5l15.3 4.8z"/>
<path class="c31" d="M278 351.5l-15.4 -4.4l12.2 -4.7l15.4 4.4z"/>
<path class="c56" d="M406.8 198.8l-15.4 -5.8l12.2 -1.6l15.4 5.8z"/>
<path class="c35" d="M542 326.4l-15.3 -6.7l12.2 -3.3l15.4 6.7z"/>
<path class="c50" d="M311.6 236.9l-15.4 -4.4l12.3 -3.1l15.4 4.4z"/>
<path class="c45" d="M495.9 269.7l-15.4 -7l12.3 -2.3l15.3 6.9z"/>
<path class="c49" d="M382.3 246l-15.4 -5.3l12.2 -2.8l15.4 5.3z"/>
<path class="c47" d="M578.7 254.8l-15.3 -9l12.2 -0.8l15.4 9.1z"/>
<path class="c38" d="M624.8 311.3l-15.3 -8.8l12.2 -1.8l15.4 8.8z"/>
<path class="c31" d="M753.7 353.8l-15.4 -12.8l12.3 -0.1l15.3 12.8z"/>
<path class="c18" d="M913.2 432l-15.3 -7.2l12.2 -3.8l15.3 7.2z"/>
<path class="c17" d="M885.7 437.5l-15.4 -10l12.2 -2.4l15.4 9.9z"/>
<path class="c22" d="M799.8 408.7l-15.4 -6.6l12.3 -3.9l15.3 6.6z"/>
<path class="c43" d="M538.9 282.1l-15.4 -7.5l12.2 -2.2l15.4 7.6z"/>
<path class="c19" d="M842.7 424.1l-15.3 -14.9l12.2 0.1l15.3 14.9z"/>
<path class="c41" d="M581.9 296l-15.4 -8.2l12.2 -2l15.4 8.2z"/>
<path class="c30" d="M446.9 362l-15.3 -5.1l12.2 -4.5l15.4 5.1z"/>
<path class="c40" d="M330.1 296l-15.4 -4.8l12.3 -3.9l15.4 4.8z"/>
<path class="c59" d="M336.1 186.5l-15.4 -4.6l12.3 -1.9l15.4 4.5z"/>
<path class="c55" d="M449.8 210l-15.4 -6.6l12.2 -1.4l15.4 6.6z"/>
<path class="c31" d="M726.1 356.4l-15.3 -10.3l12.2 -1.6l15.3 10.4z"/>
<path class="c38" d="M471.4 313.9l-15.4 -6l12.3 -3.5l15.4 6.1z"/>
<path class="c20" d="M842.7 422.2l-15.3 -12.2l12.2 -1.2l15.3 12.2z"/>
<path class="c50" d="M535.7 238l-15.3 -8.2l12.2 -1l15.4 8.3z"/>
<path class="c34" d="M585 337l-15.4 -7.1l12.3 -3.2l15.3 7.1z"/>
<path class="c31" d="M250.3 351.9l-15.4 -4.3l12.3 -4.8l15.4 4.3z"/>
<path class="c24" d="M729.3 397.1l-15.4 -6.3l12.2 -4.1l15.4 6.4z"/>
<path class="c39" d="M400.8 303.8l-15.4 -5.4l12.2 -3.7l15.4 5.4z"/>
<path class="c53" d="M492.8 223.1l-15.4 -7.5l12.2 -1.1l15.4 7.4z"/>
<path class="c31" d="M348.7 355.8l-15.4 -4.6l12.2 -4.6l15.4 4.6z"/>
<path class="c12" d="M916.4 473l-15.4 -13.5l12.2 -1l15.4 13.4z"/>
<path class="c17" d="M956.1 442.8l-15.3 -7.3l12.2 -3.8l15.3 7.4z"/>
<path class="c29" d="M517.6 369l-15.4 -5.4l12.2 -4.3l15.4 5.4z"/>
<path class="c20" d="M842.7 420.3l-15.3 -9.5l12.2 -2.6l15.3 9.6z"/>
<path class="c26" d="M784.4 387.8l-15.3 -11.3l12.2 -1.3l15.4 11.3z"/>
<path class="c43" d="M637.1 283.9l-15.4 -10.4l12.2 -0.5l15.4 10.4z"/>
<path class="c37" d="M695.4 316.9l-15.4 -11.6l12.2 -0.3l15.4 11.6z"/>
<path class="c26" d="M658.7 386.6l-15.3 -6l12.2 -4.2l15.4 6.1z"/>
<path class="c27" d="M588.2 377.2l-15.4 -5.7l12.2 -4.2l15.4 5.7z"/>
<path class="c47" d="M425.3 254.9l-15.4 -6l12.2 -2.6l15.4 6z"/>
<path class="c13" d="M943.9 466.2l-15.3 -10.6l12.2 -2.4l15.3 10.6z"/>
<path class="c21" d="M842.7 418.4l-15.3 -6.8l12.2 -3.9l15.3 6.9z"/>
<path class="c17" d="M858.1 439.4l-15.4 -15.3l12.2 0.1l15.4 15.3z"/>
<path class="c32" d="M628 348.5l-15.4 -7.4l12.2 -3.1l15.4 7.5z"/>
<path class="c23" d="M799.8 404.1l-15.4 -9.1l12.3 -2.7l15.3 9.1z"/>
<path class="c29" d="M769.1 367.1l-15.4 -13.3l12.2 -0.1l15.4 13.2z"/>
<path class="c49" d="M354.6 243.6l-15.4 -5.1l12.3 -2.9l15.4 5.1z"/>
<path class="c34" d="M683.2 337.7l-15.4 -9.7l12.2 -1.7l15.4 9.7z"/>
<path class="c30" d="M671 361l-15.4 -7.9l12.2 -2.9l15.4 7.9z"/>
<path class="c30" d="M419.3 361.4l-15.4 -5l12.3 -4.5l15.4 5z"/>
<path class="c26" d="M756.9 388.8l-15.4 -8.7l12.2 -2.8l15.4 8.7z"/>
<path class="c36" d="M514.4 323.1l-15.4 -6.4l12.3 -3.4l15.4 6.4z"/>
<path class="c41" d="M302.5 295.2l-15.4 -4.6l12.2 -4l15.4 4.6z"/>
<path class="c28" d="M713.9 374.4l-15.4 -8.3l12.3 -2.8l15.3 8.3z"/>
<path class="c57" d="M379.1 194.8l-15.4 -5.4l12.3 -1.8l15.4 5.4z"/>
<path class="c23" d="M772.2 406.1l-15.3 -6.6l12.2 -4l15.3 6.6z"/>
<path class="c15" d="M873.5 455.2l-15.4 -15.8l12.2 0.1l15.4 15.8z"/>
<path class="c31" d="M321 355.8l-15.4 -4.6l12.3 -4.6l15.4 4.6z"/>
<path class="c46" d="M468.3 265.2l-15.4 -6.6l12.2 -2.5l15.4 6.6z"/>
<path class="c19" d="M885.7 428.6l-15.4 -7.1l12.2 -3.8l15.4 7.1z"/>
<path class="c10" d="M931.8 486.8l-15.4 -13.8l12.2 -1.1l15.3 13.8z"/>
<path class="c18" d="M858.1 434.8l-15.4 -12.6l12.2 -1.2l15.4 12.5z"/>
<path class="c16" d="M901 447.7l-15.3 -10.2l12.2 -2.5l15.3 10.2z"/>
<path class="c46" d="M594.1 264.4l-15.4 -9.6l12.3 -0.7l15.3 9.5z"/>
<path class="c29" d="M489.9 368l-15.3 -5.3l12.2 -4.4l15.4 5.3z"/>
<path class="c38" d="M443.8 311.5l-15.4 -5.8l12.3 -3.6l15.3 5.8z"/>
<path class="c40" d="M373.2 302.2l-15.4 -5.2l12.2 -3.8l15.4 5.2z"/>
<path class="c37" d="M640.2 320.4l-15.4 -9.1l12.3 -1.8l15.3 9.1z"/>
<path class="c25" d="M701.7 394.8l-15.4 -6.2l12.2 -4.1l15.4 6.3z"/>
<path class="c29" d="M741.5 367.1l-15.4 -10.7l12.2 -1.5l15.4 10.7z"/>
<path class="c28" d="M560.6 375.8l-15.4 -5.6l12.2 -4.3l15.4 5.6z"/>
<path class="c12" d="M888.8 471.3l-15.3 -16.1l12.2 0.1l15.3 16.1z"/>
<path class="c44" d="M511.3 276.9l-15.4 -7.2l12.2 -2.4l15.4 7.3z"/>
<path class="c26" d="M631.1 384.8l-15.3 -6l12.2 -4.2l15.4 6z"/>
<path class="c24" d="M799.8 399.4l-15.4 -11.6l12.3 -1.3l15.3 11.6z"/>
<path class="c36" d="M710.8 328.9l-15.4 -12l12.2 -0.3l15.4 12z"/>
<path class="c35" d="M557.4 333.2l-15.4 -6.8l12.3 -3.3l15.3 6.8z"/>
<path class="c27" d="M784.4 380.7l-15.3 -13.6l12.2 -0.2l15.4 13.7z"/>
<path class="c40" d="M597.2 304.5l-15.3 -8.5l12.2 -2l15.4 8.5z"/>
<path class="c56" d="M422.1 204.9l-15.3 -6.1l12.2 -1.6l15.4 6.2z"/>
<path class="c18" d="M928.6 439.2l-15.4 -7.2l12.2 -3.8l15.4 7.3z"/>
<path class="c42" d="M554.3 290l-15.4 -7.9l12.2 -2.1l15.4 7.8z"/>
<path class="c30" d="M391.7 360.9l-15.4 -4.9l12.2 -4.5l15.4 4.9z"/>
<path class="c41" d="M652.4 294.6l-15.3 -10.7l12.2 -0.5l15.4 10.7z"/>
<path class="c41" d="M274.8 294.8l-15.4 -4.4l12.3 -4.1l15.4 4.3z"/>
<path class="c22" d="M815.2 415.5l-15.4 -6.8l12.2 -3.9l15.4 6.8z"/>
<path class="c48" d="M397.6 251.7l-15.3 -5.7l12.2 -2.8l15.4 5.7z"/>
<path class="c19" d="M858.1 430.1l-15.4 -9.8l12.2 -2.5l15.4 9.7z"/>
<path class="c49" d="M551.1 246.7l-15.4 -8.7l12.3 -0.9l15.4 8.7z"/>
<path class="c31" d="M293.4 355.9l-15.4 -4.4l12.2 -4.7l15.4 4.4z"/>
<path class="c10" d="M904.2 487.9l-15.4 -16.6l12.2 0.1l15.4 16.6z"/>
<path class="c50" d="M327 241.6l-15.4 -4.7l12.3 -3.1l15.3 4.7z"/>
<path class="c54" d="M465.1 217l-15.3 -7l12.2 -1.4l15.4 7z"/>
<path class="c33" d="M600.4 344.2l-15.4 -7.2l12.2 -3.2l15.4 7.3z"/>
<path class="c52" d="M508.1 230.9l-15.3 -7.8l12.2 -1.2l15.4 7.9z"/>
<path class="c16" d="M873.5 447.6l-15.4 -12.8l12.2 -1.3l15.4 12.9z"/>
<path class="c37" d="M486.8 320.2l-15.4 -6.3l12.3 -3.4l15.3 6.2z"/>
<path class="c29" d="M462.3 367.2l-15.4 -5.2l12.3 -4.5l15.4 5.2z"/>
<path class="c7" d="M919.6 504.9l-15.4 -17l12.2 0.1l15.4 17z"/>
<path class="c22" d="M815.2 413.4l-15.4 -9.3l12.2 -2.7l15.4 9.4z"/>
<path class="c24" d="M744.7 403.5l-15.4 -6.4l12.2 -4l15.4 6.4z"/>
<path class="c33" d="M698.5 347.8l-15.3 -10.1l12.2 -1.7l15.4 10.1z"/>
<path class="c40" d="M345.5 300.9l-15.4 -4.9l12.3 -3.9l15.4 4.9z"/>
<path class="c58" d="M351.5 191.4l-15.4 -4.9l12.3 -2l15.3 4.9z"/>
<path class="c25" d="M799.8 394.8l-15.4 -14.1l12.3 -0.1l15.3 14.1z"/>
<path class="c31" d="M643.4 356.2l-15.4 -7.7l12.2 -3l15.4 7.6z"/>
<path class="c39" d="M416.2 309.4l-15.4 -5.6l12.2 -3.7l15.4 5.6z"/>
<path class="c20" d="M858.1 425.4l-15.4 -7l12.2 -3.8l15.4 6.9z"/>
<path class="c28" d="M532.9 374.5l-15.3 -5.5l12.2 -4.3l15.4 5.5z"/>
<path class="c25" d="M772.2 397.7l-15.3 -8.9l12.2 -2.8l15.3 9z"/>
<path class="c25" d="M674.1 392.7l-15.4 -6.1l12.3 -4.1l15.3 6.1z"/>
<path class="c47" d="M440.7 261.2l-15.4 -6.3l12.2 -2.6l15.4 6.3z"/>
<path class="c31" d="M364.1 360.6l-15.4 -4.8l12.2 -4.6l15.4 4.8z"/>
<path class="c31" d="M265.7 356.2l-15.4 -4.3l12.3 -4.8l15.4 4.4z"/>
<path class="c29" d="M686.3 369.1l-15.3 -8.1l12.2 -2.9l15.3 8z"/>
<path class="c27" d="M603.5 383.1l-15.3 -5.9l12.2 -4.2l15.4 5.8z"/>
<path class="c15" d="M916.4 458l-15.4 -10.3l12.2 -2.5l15.4 10.4z"/>
<path class="c27" d="M729.3 383l-15.4 -8.6l12.2 -2.8l15.4 8.5z"/>
<path class="c34" d="M726.1 341.3l-15.3 -12.4l12.2 -0.3l15.3 12.4z"/>
<path class="c22" d="M815.2 411.4l-15.4 -12l12.2 -1.3l15.4 11.9z"/>
<path class="c28" d="M756.9 378.1l-15.4 -11l12.2 -1.5l15.4 10.9z"/>
<path class="c45" d="M609.5 274.3l-15.4 -9.9l12.2 -0.8l15.4 9.9z"/>
<path class="c36" d="M655.6 329.8l-15.4 -9.4l12.2 -1.8l15.4 9.4z"/>
<path class="c36" d="M529.8 329.7l-15.4 -6.6l12.3 -3.4l15.3 6.7z"/>
<path class="c50" d="M299.3 240.1l-15.3 -4.4l12.2 -3.2l15.4 4.4z"/>
<path class="c40" d="M667.8 305.8l-15.4 -11.2l12.3 -0.5l15.3 11.2z"/>
<path class="c49" d="M370 249l-15.4 -5.4l12.3 -2.9l15.4 5.3z"/>
<path class="c22" d="M787.6 412.7l-15.4 -6.6l12.2 -4l15.4 6.6z"/>
<path class="c19" d="M901 435.8l-15.3 -7.2l12.2 -3.8l15.3 7.2z"/>
<path class="c45" d="M483.7 272.1l-15.4 -6.9l12.2 -2.5l15.4 7z"/>
<path class="c14" d="M888.8 460.8l-15.3 -13.2l12.2 -1.2l15.3 13.1z"/>
<path class="c30" d="M434.7 366.5l-15.4 -5.1l12.3 -4.5l15.3 5.1z"/>
<path class="c23" d="M815.2 409.3l-15.4 -14.5l12.2 -0.1l15.4 14.5z"/>
<path class="c57" d="M394.5 200.5l-15.4 -5.7l12.3 -1.8l15.4 5.8z"/>
<path class="c41" d="M317.9 300l-15.4 -4.8l12.2 -4l15.4 4.8z"/>
<path class="c18" d="M873.5 440l-15.4 -9.9l12.2 -2.6l15.4 10z"/>
<path class="c31" d="M238.1 356.7l-15.4 -4.3l12.2 -4.8l15.4 4.3z"/>
<path class="c39" d="M612.6 313.3l-15.4 -8.8l12.3 -2l15.3 8.8z"/>
<path class="c31" d="M336.4 360.5l-15.4 -4.7l12.3 -4.6l15.4 4.6z"/>
<path class="c43" d="M526.7 284.5l-15.4 -7.6l12.2 -2.3l15.4 7.5z"/>
<path class="c38" d="M459.2 317.5l-15.4 -6l12.2 -3.6l15.4 6z"/>
<path class="c24" d="M717.1 401.2l-15.4 -6.4l12.2 -4l15.4 6.3z"/>
<path class="c48" d="M566.5 255.8l-15.4 -9.1l12.3 -0.9l15.3 9z"/>
<path class="c41" d="M569.6 298.2l-15.3 -8.2l12.2 -2.2l15.4 8.2z"/>
<path class="c29" d="M505.3 373.4l-15.4 -5.4l12.3 -4.4l15.4 5.4z"/>
<path class="c34" d="M572.8 340.3l-15.4 -7.1l12.2 -3.3l15.4 7.1z"/>
<path class="c40" d="M388.5 307.6l-15.3 -5.4l12.2 -3.8l15.4 5.4z"/>
<path class="c17" d="M943.9 446.6l-15.3 -7.4l12.2 -3.7l15.3 7.3z"/>
<path class="c59" d="M323.9 188.6l-15.4 -4.5l12.2 -2.2l15.4 4.6z"/>
<path class="c26" d="M646.5 390.8l-15.4 -6l12.3 -4.2l15.3 6z"/>
<path class="c32" d="M741.5 354.1l-15.4 -12.8l12.2 -0.3l15.4 12.8z"/>
<path class="c28" d="M575.9 381.5l-15.3 -5.7l12.2 -4.3l15.4 5.7z"/>
<path class="c31" d="M713.9 358.1l-15.4 -10.3l12.3 -1.7l15.3 10.3z"/>
<path class="c55" d="M437.5 211.5l-15.4 -6.6l12.3 -1.5l15.4 6.6z"/>
<path class="c21" d="M830.5 422.4l-15.3 -6.9l12.2 -3.9l15.3 6.8z"/>
<path class="c21" d="M830.5 423l-15.3 -9.6l12.2 -2.6l15.3 9.5z"/>
<path class="c21" d="M830.5 423.6l-15.3 -12.2l12.2 -1.4l15.3 12.2z"/>
<path class="c21" d="M830.5 424.2l-15.3 -14.9l12.2 -0.1l15.3 14.9z"/>
<path class="c51" d="M523.5 239.2l-15.4 -8.3l12.3 -1.1l15.3 8.2z"/>
<path class="c48" d="M413 257.7l-15.4 -6l12.3 -2.8l15.4 6z"/>
<path class="c53" d="M480.5 224.4l-15.4 -7.4l12.3 -1.4l15.4 7.5z"/>
<path class="c33" d="M615.8 351.7l-15.4 -7.5l12.2 -3.1l15.4 7.4z"/>
<path class="c26" d="M772.2 389.4l-15.3 -11.3l12.2 -1.6l15.3 11.3z"/>
<path class="c13" d="M931.8 468.6l-15.4 -10.6l12.2 -2.4l15.3 10.6z"/>
<path class="c12" d="M904.2 474.2l-15.4 -13.4l12.2 -1.3l15.4 13.5z"/>
<path class="c30" d="M407.1 365.9l-15.4 -5l12.2 -4.5l15.4 5z"/>
<path class="c24" d="M787.6 406.9l-15.4 -9.2l12.2 -2.7l15.4 9.1z"/>
<path class="c41" d="M290.2 299.3l-15.4 -4.5l12.3 -4.2l15.4 4.6z"/>
<path class="c44" d="M624.8 284.6l-15.3 -10.3l12.2 -0.8l15.4 10.4z"/>
<path class="c31" d="M308.8 360.5l-15.4 -4.6l12.2 -4.7l15.4 4.6z"/>
<path class="c50" d="M342.4 246.7l-15.4 -5.1l12.2 -3.1l15.4 5.1z"/>
<path class="c31" d="M658.7 364.1l-15.3 -7.9l12.2 -3.1l15.4 7.9z"/>
<path class="c38" d="M683.2 317.4l-15.4 -11.6l12.2 -0.5l15.4 11.6z"/>
<path class="c37" d="M502.2 326.6l-15.4 -6.4l12.2 -3.5l15.4 6.4z"/>
<path class="c23" d="M760 410.1l-15.3 -6.6l12.2 -4l15.3 6.6z"/>
<path class="c26" d="M744.7 391.7l-15.4 -8.7l12.2 -2.9l15.4 8.7z"/>
<path class="c28" d="M701.7 377.4l-15.4 -8.3l12.2 -3l15.4 8.3z"/>
<path class="c19" d="M873.5 432.5l-15.4 -7.1l12.2 -3.9l15.4 7.1z"/>
<path class="c18" d="M845.9 439.5l-15.4 -15.3l12.2 -0.1l15.4 15.3z"/>
<path class="c35" d="M671 339.6l-15.4 -9.8l12.2 -1.8l15.4 9.7z"/>
<path class="c29" d="M477.7 372.5l-15.4 -5.3l12.3 -4.5l15.3 5.3z"/>
<path class="c40" d="M360.9 306.1l-15.4 -5.2l12.3 -3.9l15.4 5.2z"/>
<path class="c39" d="M431.6 315.2l-15.4 -5.8l12.2 -3.7l15.4 5.8z"/>
<path class="c30" d="M756.9 367.4l-15.4 -13.3l12.2 -0.3l15.4 13.3z"/>
<path class="c46" d="M456 267.8l-15.3 -6.6l12.2 -2.6l15.4 6.6z"/>
<path class="c58" d="M366.9 196.7l-15.4 -5.3l12.2 -2l15.4 5.4z"/>
<path class="c25" d="M689.5 399l-15.4 -6.3l12.2 -4.1l15.4 6.2z"/>
<path class="c28" d="M548.3 380.2l-15.4 -5.7l12.3 -4.3l15.4 5.6z"/>
<path class="c17" d="M888.8 450.2l-15.3 -10.2l12.2 -2.5l15.3 10.2z"/>
<path class="c27" d="M618.9 389l-15.4 -5.9l12.3 -4.3l15.3 6z"/>
<path class="c19" d="M845.9 436.1l-15.4 -12.5l12.2 -1.4l15.4 12.6z"/>
<path class="c10" d="M919.6 488l-15.4 -13.8l12.2 -1.2l15.4 13.8z"/>
<path class="c30" d="M379.4 365.5l-15.3 -4.9l12.2 -4.6l15.4 4.9z"/>
<path class="c35" d="M545.2 336.6l-15.4 -6.9l12.2 -3.3l15.4 6.8z"/>
<path class="c38" d="M628 322.4l-15.4 -9.1l12.2 -2l15.4 9.1z"/>
<path class="c16" d="M861.3 455.3l-15.4 -15.8l12.2 -0.1l15.4 15.8z"/>
<path class="c31" d="M281.1 360.7l-15.4 -4.5l12.3 -4.7l15.4 4.4z"/>
<path class="c18" d="M916.4 443.1l-15.4 -7.3l12.2 -3.8l15.4 7.2z"/>
<path class="c41" d="M262.6 299l-15.4 -4.4l12.2 -4.2l15.4 4.4z"/>
<path class="c47" d="M581.9 265.3l-15.4 -9.5l12.2 -1l15.4 9.6z"/>
<path class="c45" d="M499 279.4l-15.3 -7.3l12.2 -2.4l15.4 7.2z"/>
<path class="c22" d="M803 419.5l-15.4 -6.8l12.2 -4l15.4 6.8z"/>
<path class="c30" d="M729.3 368.8l-15.4 -10.7l12.2 -1.7l15.4 10.7z"/>
<path class="c40" d="M585 306.7l-15.4 -8.5l12.3 -2.2l15.3 8.5z"/>
<path class="c25" d="M787.6 401l-15.4 -11.6l12.2 -1.6l15.4 11.6z"/>
<path class="c43" d="M542 292.3l-15.3 -7.8l12.2 -2.4l15.4 7.9z"/>
<path class="c49" d="M385.4 254.7l-15.4 -5.7l12.3 -3l15.3 5.7z"/>
<path class="c20" d="M845.9 432.7l-15.4 -9.7l12.2 -2.7l15.4 9.8z"/>
<path class="c50" d="M314.7 244.9l-15.4 -4.8l12.3 -3.2l15.4 4.7z"/>
<path class="c57" d="M409.9 206.7l-15.4 -6.2l12.3 -1.7l15.3 6.1z"/>
<path class="c30" d="M450.1 371.7l-15.4 -5.2l12.2 -4.5l15.4 5.2z"/>
<path class="c37" d="M698.5 329.4l-15.3 -12l12.2 -0.5l15.4 12z"/>
<path class="c13" d="M876.6 471.4l-15.3 -16.1l12.2 -0.1l15.3 16.1z"/>
<path class="c34" d="M588.2 347.5l-15.4 -7.2l12.2 -3.3l15.4 7.2z"/>
<path class="c28" d="M772.2 381l-15.3 -13.6l12.2 -0.3l15.3 13.6z"/>
<path class="c24" d="M732.4 407.6l-15.3 -6.4l12.2 -4.1l15.4 6.4z"/>
<path class="c37" d="M474.6 323.8l-15.4 -6.3l12.2 -3.6l15.4 6.3z"/>
<path class="c42" d="M640.2 295.4l-15.4 -10.8l12.3 -0.7l15.3 10.7z"/>
<path class="c41" d="M333.3 304.9l-15.4 -4.9l12.2 -4l15.4 4.9z"/>
<path class="c50" d="M538.9 247.8l-15.4 -8.6l12.2 -1.2l15.4 8.7z"/>
<path class="c29" d="M520.7 378.9l-15.4 -5.5l12.3 -4.4l15.3 5.5z"/>
<path class="c31" d="M253.5 361l-15.4 -4.3l12.2 -4.8l15.4 4.3z"/>
<path class="c55" d="M452.9 218.6l-15.4 -7.1l12.3 -1.5l15.3 7z"/>
<path class="c22" d="M803 416.2l-15.4 -9.3l12.2 -2.8l15.4 9.3z"/>
<path class="c31" d="M351.8 365.3l-15.4 -4.8l12.3 -4.7l15.4 4.8z"/>
<path class="c39" d="M403.9 313.2l-15.4 -5.6l12.3 -3.8l15.4 5.6z"/>
<path class="c20" d="M845.9 429.3l-15.4 -6.9l12.2 -4l15.4 7z"/>
<path class="c26" d="M661.9 396.9l-15.4 -6.1l12.2 -4.2l15.4 6.1z"/>
<path class="c53" d="M495.9 232.3l-15.4 -7.9l12.3 -1.3l15.3 7.8z"/>
<path class="c32" d="M631.1 359.4l-15.3 -7.7l12.2 -3.2l15.4 7.7z"/>
<path class="c11" d="M892 488l-15.4 -16.6l12.2 -0.1l15.4 16.6z"/>
<path class="c27" d="M591.3 387.4l-15.4 -5.9l12.3 -4.3l15.3 5.9z"/>
<path class="c17" d="M861.3 449l-15.4 -12.9l12.2 -1.3l15.4 12.8z"/>
<path class="c33" d="M686.3 349.6l-15.3 -10l12.2 -1.9l15.3 10.1z"/>
<path class="c59" d="M339.2 193.6l-15.3 -5l12.2 -2.1l15.4 4.9z"/>
<path class="c25" d="M760 400.6l-15.3 -8.9l12.2 -2.9l15.3 8.9z"/>
<path class="c30" d="M674.1 372.2l-15.4 -8.1l12.3 -3.1l15.3 8.1z"/>
<path class="c47" d="M428.4 264l-15.4 -6.3l12.3 -2.8l15.4 6.3z"/>
<path class="c28" d="M717.1 385.9l-15.4 -8.5l12.2 -3l15.4 8.6z"/>
<path class="c15" d="M904.2 460.6l-15.4 -10.4l12.2 -2.5l15.4 10.3z"/>
<path class="c8" d="M907.4 505l-15.4 -17l12.2 -0.1l15.4 17z"/>
<path class="c36" d="M517.6 333.2l-15.4 -6.6l12.2 -3.5l15.4 6.6z"/>
<path class="c26" d="M787.6 395.1l-15.4 -14.1l12.2 -0.3l15.4 14.1z"/>
<path class="c30" d="M422.5 371l-15.4 -5.1l12.2 -4.5l15.4 5.1z"/>
<path class="c23" d="M775.4 416.8l-15.4 -6.7l12.2 -4l15.4 6.6z"/>
<path class="c51" d="M287.1 243.6l-15.4 -4.5l12.3 -3.4l15.3 4.4z"/>
<path class="c19" d="M888.8 439.7l-15.3 -7.2l12.2 -3.9l15.3 7.2z"/>
<path class="c23" d="M803 412.9l-15.4 -11.9l12.2 -1.6l15.4 12z"/>
<path class="c29" d="M744.7 379.8l-15.4 -11l12.2 -1.7l15.4 11z"/>
<path class="c31" d="M225.8 361.5l-15.4 -4.2l12.3 -4.9l15.4 4.3z"/>
<path class="c50" d="M357.8 252.1l-15.4 -5.4l12.2 -3.1l15.4 5.4z"/>
<path class="c35" d="M713.9 341.8l-15.4 -12.4l12.3 -0.5l15.3 12.4z"/>
<path class="c41" d="M305.6 304.1l-15.4 -4.8l12.3 -4.1l15.4 4.8z"/>
<path class="c36" d="M643.4 331.8l-15.4 -9.4l12.2 -2l15.4 9.4z"/>
<path class="c46" d="M597.2 275.2l-15.3 -9.9l12.2 -0.9l15.4 9.9z"/>
<path class="c31" d="M324.2 365.2l-15.4 -4.7l12.2 -4.7l15.4 4.7z"/>
<path class="c46" d="M471.4 274.8l-15.4 -7l12.3 -2.6l15.4 6.9z"/>
<path class="c29" d="M493.1 377.9l-15.4 -5.4l12.2 -4.5l15.4 5.4z"/>
<path class="c25" d="M704.9 405.3l-15.4 -6.3l12.2 -4.2l15.4 6.4z"/>
<path class="c38" d="M446.9 321.2l-15.3 -6l12.2 -3.7l15.4 6z"/>
<path class="c18" d="M861.3 442.7l-15.4 -10l12.2 -2.6l15.4 9.9z"/>
<path class="c58" d="M382.3 202.5l-15.4 -5.8l12.2 -1.9l15.4 5.7z"/>
<path class="c40" d="M376.3 311.5l-15.4 -5.4l12.3 -3.9l15.3 5.4z"/>
<path class="c15" d="M876.6 462.2l-15.3 -13.2l12.2 -1.4l15.3 13.2z"/>
<path class="c41" d="M655.6 306.5l-15.4 -11.1l12.2 -0.8l15.4 11.2z"/>
<path class="c28" d="M563.7 385.9l-15.4 -5.7l12.3 -4.4l15.3 5.7z"/>
<path class="c26" d="M634.3 395l-15.4 -6l12.2 -4.2l15.4 6z"/>
<path class="c17" d="M931.8 450.4l-15.4 -7.3l12.2 -3.9l15.3 7.4z"/>
<path class="c39" d="M600.4 315.5l-15.4 -8.8l12.2 -2.2l15.4 8.8z"/>
<path class="c35" d="M560.6 343.6l-15.4 -7l12.2 -3.4l15.4 7.1z"/>
<path class="c44" d="M514.4 286.9l-15.4 -7.5l12.3 -2.5l15.4 7.6z"/>
<path class="c42" d="M557.4 300.5l-15.4 -8.2l12.3 -2.3l15.3 8.2z"/>
<path class="c24" d="M803 409.6l-15.4 -14.5l12.2 -0.3l15.4 14.5z"/>
<path class="c21" d="M818.3 426.4l-15.3 -6.9l12.2 -4l15.3 6.9z"/>
<path class="c60" d="M311.6 191l-15.4 -4.5l12.3 -2.4l15.4 4.5z"/>
<path class="c30" d="M394.8 370.5l-15.4 -5l12.3 -4.6l15.4 5z"/>
<path class="c49" d="M554.3 256.9l-15.4 -9.1l12.2 -1.1l15.4 9.1z"/>
<path class="c21" d="M818.3 425.7l-15.3 -9.5l12.2 -2.8l15.3 9.6z"/>
<path class="c31" d="M296.5 365.3l-15.4 -4.6l12.3 -4.8l15.4 4.6z"/>
<path class="c32" d="M701.7 360l-15.4 -10.4l12.2 -1.8l15.4 10.3z"/>
<path class="c33" d="M603.5 355l-15.3 -7.5l12.2 -3.3l15.4 7.5z"/>
<path class="c56" d="M425.3 213.3l-15.4 -6.6l12.2 -1.8l15.4 6.6z"/>
<path class="c41" d="M278 303.5l-15.4 -4.5l12.2 -4.2l15.4 4.5z"/>
<path class="c48" d="M400.8 260.6l-15.4 -5.9l12.2 -3l15.4 6z"/>
<path class="c21" d="M818.3 425.1l-15.3 -12.2l12.2 -1.5l15.3 12.2z"/>
<path class="c33" d="M729.3 354.7l-15.4 -12.9l12.2 -0.5l15.4 12.8z"/>
<path class="c14" d="M919.6 471.2l-15.4 -10.6l12.2 -2.6l15.4 10.6z"/>
<path class="c23" d="M747.8 414.2l-15.4 -6.6l12.3 -4.1l15.3 6.6z"/>
<path class="c52" d="M511.3 240.5l-15.4 -8.2l12.2 -1.4l15.4 8.3z"/>
<path class="c37" d="M489.9 330.2l-15.3 -6.4l12.2 -3.6l15.4 6.4z"/>
<path class="c24" d="M775.4 409.7l-15.4 -9.1l12.2 -2.9l15.4 9.2z"/>
<path class="c50" d="M330.1 249.9l-15.4 -5l12.3 -3.3l15.4 5.1z"/>
<path class="c54" d="M468.3 226l-15.4 -7.4l12.2 -1.6l15.4 7.4z"/>
<path class="c29" d="M465.5 377l-15.4 -5.3l12.2 -4.5l15.4 5.3z"/>
<path class="c31" d="M646.5 367.3l-15.4 -7.9l12.3 -3.2l15.3 7.9z"/>
<path class="c27" d="M760 391.1l-15.3 -11.3l12.2 -1.7l15.3 11.3z"/>
<path class="c20" d="M861.3 436.4l-15.4 -7.1l12.2 -3.9l15.4 7.1z"/>
<path class="c22" d="M818.3 424.5l-15.3 -14.9l12.2 -0.3l15.3 14.9z"/>
<path class="c13" d="M892 475.6l-15.4 -13.4l12.2 -1.4l15.4 13.4z"/>
<path class="c27" d="M732.4 394.6l-15.3 -8.7l12.2 -2.9l15.4 8.7z"/>
<path class="c29" d="M689.5 380.5l-15.4 -8.3l12.2 -3.1l15.4 8.3z"/>
<path class="c40" d="M348.7 310.1l-15.4 -5.2l12.2 -4l15.4 5.2z"/>
<path class="c25" d="M677.3 403.2l-15.4 -6.3l12.2 -4.2l15.4 6.3z"/>
<path class="c28" d="M536.1 384.6l-15.4 -5.7l12.2 -4.4l15.4 5.7z"/>
<path class="c39" d="M419.3 319l-15.4 -5.8l12.3 -3.8l15.4 5.8z"/>
<path class="c27" d="M606.7 393.3l-15.4 -5.9l12.2 -4.3l15.4 5.9z"/>
<path class="c44" d="M612.6 285.6l-15.4 -10.4l12.3 -0.9l15.3 10.3z"/>
<path class="c31" d="M367.2 370.2l-15.4 -4.9l12.3 -4.7l15.3 4.9z"/>
<path class="c35" d="M658.7 341.6l-15.3 -9.8l12.2 -2l15.4 9.8z"/>
<path class="c39" d="M671 318.1l-15.4 -11.6l12.2 -0.7l15.4 11.6z"/>
<path class="c47" d="M443.8 270.6l-15.4 -6.6l12.3 -2.8l15.3 6.6z"/>
<path class="c31" d="M268.9 365.5l-15.4 -4.5l12.2 -4.8l15.4 4.5z"/>
<path class="c59" d="M354.6 198.9l-15.4 -5.3l12.3 -2.2l15.4 5.3z"/>
<path class="c17" d="M876.6 452.9l-15.3 -10.2l12.2 -2.7l15.3 10.2z"/>
<path class="c42" d="M250.3 303.3l-15.4 -4.4l12.3 -4.3l15.4 4.4z"/>
<path class="c18" d="M904.2 446.9l-15.4 -7.2l12.2 -3.9l15.4 7.3z"/>
<path class="c36" d="M532.9 340.1l-15.3 -6.9l12.2 -3.5l15.4 6.9z"/>
<path class="c19" d="M833.7 439.9l-15.4 -15.4l12.2 -0.3l15.4 15.3z"/>
<path class="c22" d="M790.8 423.5l-15.4 -6.7l12.2 -4.1l15.4 6.8z"/>
<path class="c31" d="M744.7 367.9l-15.4 -13.2l12.2 -0.6l15.4 13.3z"/>
<path class="c38" d="M615.8 324.6l-15.4 -9.1l12.2 -2.2l15.4 9.1z"/>
<path class="c20" d="M833.7 437.7l-15.4 -12.6l12.2 -1.5l15.4 12.5z"/>
<path class="c45" d="M486.8 282l-15.4 -7.2l12.3 -2.7l15.3 7.3z"/>
<path class="c30" d="M437.9 376.2l-15.4 -5.2l12.2 -4.5l15.4 5.2z"/>
<path class="c11" d="M907.4 489.4l-15.4 -13.8l12.2 -1.4l15.4 13.8z"/>
<path class="c49" d="M373.2 257.7l-15.4 -5.6l12.2 -3.1l15.4 5.7z"/>
<path class="c51" d="M302.5 248.3l-15.4 -4.7l12.2 -3.5l15.4 4.8z"/>
<path class="c31" d="M717.1 370.7l-15.4 -10.7l12.2 -1.9l15.4 10.7z"/>
<path class="c24" d="M720.2 411.8l-15.3 -6.5l12.2 -4.1l15.3 6.4z"/>
<path class="c41" d="M572.8 309l-15.4 -8.5l12.2 -2.3l15.4 8.5z"/>
<path class="c43" d="M529.8 294.8l-15.4 -7.9l12.3 -2.4l15.3 7.8z"/>
<path class="c20" d="M833.7 435.5l-15.4 -9.8l12.2 -2.7l15.4 9.7z"/>
<path class="c48" d="M569.6 266.4l-15.3 -9.5l12.2 -1.1l15.4 9.5z"/>
<path class="c41" d="M321 309.1l-15.4 -5l12.3 -4.1l15.4 4.9z"/>
<path class="c34" d="M575.9 350.9l-15.3 -7.3l12.2 -3.3l15.4 7.2z"/>
<path class="c31" d="M241.2 365.9l-15.4 -4.4l12.3 -4.8l15.4 4.3z"/>
<path class="c38" d="M462.3 327.4l-15.4 -6.2l12.3 -3.7l15.4 6.3z"/>
<path class="c17" d="M849.1 455.6l-15.4 -15.7l12.2 -0.4l15.4 15.8z"/>
<path class="c26" d="M775.4 402.7l-15.4 -11.6l12.2 -1.7l15.4 11.6z"/>
<path class="c31" d="M339.6 370l-15.4 -4.8l12.2 -4.7l15.4 4.8z"/>
<path class="c29" d="M508.5 383.4l-15.4 -5.5l12.2 -4.5l15.4 5.5z"/>
<path class="c57" d="M397.6 208.7l-15.3 -6.2l12.2 -2l15.4 6.2z"/>
<path class="c26" d="M649.7 401.2l-15.4 -6.2l12.2 -4.2l15.4 6.1z"/>
<path class="c21" d="M833.7 433.3l-15.4 -6.9l12.2 -4l15.4 6.9z"/>
<path class="c40" d="M391.7 317.1l-15.4 -5.6l12.2 -3.9l15.4 5.6z"/>
<path class="c27" d="M579.1 391.7l-15.4 -5.8l12.2 -4.4l15.4 5.9z"/>
<path class="c23" d="M790.8 419.1l-15.4 -9.4l12.2 -2.8l15.4 9.3z"/>
<path class="c32" d="M618.9 362.7l-15.4 -7.7l12.3 -3.3l15.3 7.7z"/>
<path class="c38" d="M686.3 330.1l-15.3 -12l12.2 -0.7l15.3 12z"/>
<path class="c51" d="M526.7 249.2l-15.4 -8.7l12.2 -1.3l15.4 8.6z"/>
<path class="c14" d="M864.4 471.8l-15.3 -16.2l12.2 -0.3l15.3 16.1z"/>
<path class="c43" d="M628 296.3l-15.4 -10.7l12.2 -1l15.4 10.8z"/>
<path class="c29" d="M760 381.6l-15.3 -13.7l12.2 -0.5l15.3 13.6z"/>
<path class="c56" d="M440.7 220.3l-15.4 -7l12.2 -1.8l15.4 7.1z"/>
<path class="c26" d="M747.8 403.6l-15.4 -9l12.3 -2.9l15.3 8.9z"/>
<path class="c30" d="M661.9 375.4l-15.4 -8.1l12.2 -3.2l15.4 8.1z"/>
<path class="c30" d="M410.2 375.6l-15.4 -5.1l12.3 -4.6l15.4 5.1z"/>
<path class="c60" d="M327 196l-15.4 -5l12.3 -2.4l15.3 5z"/>
<path class="c53" d="M483.7 233.8l-15.4 -7.8l12.2 -1.6l15.4 7.9z"/>
<path class="c48" d="M416.2 267l-15.4 -6.4l12.2 -2.9l15.4 6.3z"/>
<path class="c28" d="M704.9 389l-15.4 -8.5l12.2 -3.1l15.4 8.5z"/>
<path class="c34" d="M674.1 351.6l-15.4 -10l12.3 -2l15.3 10z"/>
<path class="c32" d="M213.6 366.5l-15.4 -4.3l12.2 -4.9l15.4 4.2z"/>
<path class="c18" d="M849.1 450.5l-15.4 -12.8l12.2 -1.6l15.4 12.9z"/>
<path class="c23" d="M763.2 420.8l-15.4 -6.6l12.2 -4.1l15.4 6.7z"/>
<path class="c37" d="M505.3 336.8l-15.4 -6.6l12.3 -3.6l15.4 6.6z"/>
<path class="c19" d="M876.6 443.6l-15.3 -7.2l12.2 -3.9l15.3 7.2z"/>
<path class="c16" d="M892 463.2l-15.4 -10.3l12.2 -2.7l15.4 10.4z"/>
<path class="c51" d="M274.8 247.1l-15.4 -4.4l12.3 -3.6l15.4 4.5z"/>
<path class="c31" d="M311.9 370l-15.4 -4.7l12.3 -4.8l15.4 4.7z"/>
<path class="c12" d="M879.8 488.3l-15.4 -16.5l12.2 -0.4l15.4 16.6z"/>
<path class="c41" d="M293.4 308.3l-15.4 -4.8l12.2 -4.2l15.4 4.8z"/>
<path class="c29" d="M480.9 382.4l-15.4 -5.4l12.2 -4.5l15.4 5.4z"/>
<path class="c50" d="M345.5 255.3l-15.4 -5.4l12.3 -3.2l15.4 5.4z"/>
<path class="c25" d="M692.6 409.5l-15.3 -6.3l12.2 -4.2l15.4 6.3z"/>
<path class="c29" d="M732.4 381.6l-15.3 -10.9l12.2 -1.9l15.4 11z"/>
<path class="c24" d="M790.8 414.6l-15.4 -11.9l12.2 -1.7l15.4 11.9z"/>
<path class="c9" d="M895.2 505.3l-15.4 -17l12.2 -0.3l15.4 17z"/>
<path class="c39" d="M434.7 325l-15.4 -6l12.3 -3.8l15.3 6z"/>
<path class="c28" d="M551.5 390.3l-15.4 -5.7l12.2 -4.4l15.4 5.7z"/>
<path class="c40" d="M364.1 315.5l-15.4 -5.4l12.2 -4l15.4 5.4z"/>
<path class="c46" d="M459.2 277.6l-15.4 -7l12.2 -2.8l15.4 7z"/>
<path class="c26" d="M622.1 399.3l-15.4 -6l12.2 -4.3l15.4 6z"/>
<path class="c37" d="M631.1 334l-15.3 -9.4l12.2 -2.2l15.4 9.4z"/>
<path class="c27" d="M775.4 395.6l-15.4 -14l12.2 -0.6l15.4 14.1z"/>
<path class="c18" d="M919.6 454.3l-15.4 -7.4l12.2 -3.8l15.4 7.3z"/>
<path class="c35" d="M548.3 347.1l-15.4 -7l12.3 -3.5l15.4 7z"/>
<path class="c19" d="M849.1 445.5l-15.4 -10l12.2 -2.8l15.4 10z"/>
<path class="c47" d="M585 276.4l-15.4 -10l12.3 -1.1l15.3 9.9z"/>
<path class="c21" d="M806.1 430.4l-15.3 -6.9l12.2 -4l15.3 6.9z"/>
<path class="c36" d="M701.7 342.6l-15.4 -12.5l12.2 -0.7l15.4 12.4z"/>
<path class="c30" d="M382.6 375.2l-15.4 -5l12.2 -4.7l15.4 5z"/>
<path class="c58" d="M370 204.7l-15.4 -5.8l12.3 -2.2l15.4 5.8z"/>
<path class="c44" d="M502.2 289.6l-15.4 -7.6l12.2 -2.6l15.4 7.5z"/>
<path class="c40" d="M588.2 317.8l-15.4 -8.8l12.2 -2.3l15.4 8.8z"/>
<path class="c31" d="M284.3 370.1l-15.4 -4.6l12.2 -4.8l15.4 4.6z"/>
<path class="c16" d="M864.4 463.7l-15.3 -13.2l12.2 -1.5l15.3 13.2z"/>
<path class="c42" d="M545.2 303l-15.4 -8.2l12.2 -2.5l15.4 8.2z"/>
<path class="c41" d="M265.7 307.8l-15.4 -4.5l12.3 -4.3l15.4 4.5z"/>
<path class="c42" d="M643.4 307.5l-15.4 -11.2l12.2 -0.9l15.4 11.1z"/>
<path class="c60" d="M299.3 193.6l-15.3 -4.5l12.2 -2.6l15.4 4.5z"/>
<path class="c33" d="M591.3 358.4l-15.4 -7.5l12.3 -3.4l15.3 7.5z"/>
<path class="c22" d="M806.1 428.6l-15.3 -9.5l12.2 -2.9l15.3 9.5z"/>
<path class="c24" d="M735.6 418.3l-15.4 -6.5l12.2 -4.2l15.4 6.6z"/>
<path class="c29" d="M453.2 381.5l-15.3 -5.3l12.2 -4.5l15.4 5.3z"/>
<path class="c49" d="M388.5 263.7l-15.3 -6l12.2 -3l15.4 5.9z"/>
<path class="c25" d="M790.8 410.1l-15.4 -14.5l12.2 -0.5l15.4 14.5z"/>
<path class="c37" d="M477.7 333.9l-15.4 -6.5l12.3 -3.6l15.3 6.4z"/>
<path class="c50" d="M542 258.3l-15.3 -9.1l12.2 -1.4l15.4 9.1z"/>
<path class="c33" d="M689.5 362l-15.4 -10.4l12.2 -2l15.4 10.4z"/>
<path class="c20" d="M849.1 440.4l-15.4 -7.1l12.2 -4l15.4 7.1z"/>
<path class="c51" d="M317.9 253.4l-15.4 -5.1l12.2 -3.4l15.4 5z"/>
<path class="c57" d="M413 215.3l-15.4 -6.6l12.3 -2l15.4 6.6z"/>
<path class="c15" d="M907.4 473.8l-15.4 -10.6l12.2 -2.6l15.4 10.6z"/>
<path class="c31" d="M634.3 370.5l-15.4 -7.8l12.2 -3.3l15.4 7.9z"/>
<path class="c25" d="M763.2 412.7l-15.4 -9.1l12.2 -3l15.4 9.1z"/>
<path class="c25" d="M665.1 407.4l-15.4 -6.2l12.2 -4.3l15.4 6.3z"/>
<path class="c28" d="M523.9 389l-15.4 -5.6l12.2 -4.5l15.4 5.7z"/>
<path class="c41" d="M336.4 314.2l-15.4 -5.1l12.3 -4.2l15.4 5.2z"/>
<path class="c22" d="M806.1 426.8l-15.3 -12.2l12.2 -1.7l15.3 12.2z"/>
<path class="c27" d="M594.5 397.6l-15.4 -5.9l12.2 -4.3l15.4 5.9z"/>
<path class="c29" d="M677.3 383.7l-15.4 -8.3l12.2 -3.2l15.4 8.3z"/>
<path class="c27" d="M720.2 397.7l-15.3 -8.7l12.2 -3.1l15.3 8.7z"/>
<path class="c31" d="M355 374.9l-15.4 -4.9l12.2 -4.7l15.4 4.9z"/>
<path class="c39" d="M407.1 322.9l-15.4 -5.8l12.2 -3.9l15.4 5.8z"/>
<path class="c31" d="M256.6 370.4l-15.4 -4.5l12.3 -4.9l15.4 4.5z"/>
<path class="c53" d="M499 242.1l-15.3 -8.3l12.2 -1.5l15.4 8.2z"/>
<path class="c55" d="M456 227.8l-15.3 -7.5l12.2 -1.7l15.4 7.4z"/>
<path class="c28" d="M747.8 392.9l-15.4 -11.3l12.3 -1.8l15.3 11.3z"/>
<path class="c34" d="M717.1 355.4l-15.4 -12.8l12.2 -0.8l15.4 12.9z"/>
<path class="c14" d="M879.8 477.2l-15.4 -13.5l12.2 -1.5l15.4 13.4z"/>
<path class="c42" d="M238.1 307.7l-15.4 -4.3l12.2 -4.5l15.4 4.4z"/>
<path class="c47" d="M431.6 273.6l-15.4 -6.6l12.2 -3l15.4 6.6z"/>
<path class="c18" d="M892 450.9l-15.4 -7.3l12.2 -3.9l15.4 7.2z"/>
<path class="c22" d="M778.6 427.6l-15.4 -6.8l12.2 -4l15.4 6.7z"/>
<path class="c23" d="M806.1 425.1l-15.3 -15l12.2 -0.5l15.3 14.9z"/>
<path class="c36" d="M520.7 343.7l-15.4 -6.9l12.3 -3.6l15.3 6.9z"/>
<path class="c36" d="M646.5 343.7l-15.4 -9.7l12.3 -2.2l15.3 9.8z"/>
<path class="c18" d="M864.4 455.6l-15.3 -10.1l12.2 -2.8l15.3 10.2z"/>
<path class="c45" d="M600.4 286.7l-15.4 -10.3l12.2 -1.2l15.4 10.4z"/>
<path class="c30" d="M425.6 380.8l-15.4 -5.2l12.3 -4.6l15.4 5.2z"/>
<path class="c59" d="M342.4 201.3l-15.4 -5.3l12.2 -2.4l15.4 5.3z"/>
<path class="c40" d="M658.7 319.1l-15.3 -11.6l12.2 -1l15.4 11.6z"/>
<path class="c31" d="M229 370.8l-15.4 -4.3l12.2 -5l15.4 4.4z"/>
<path class="c24" d="M708 416l-15.4 -6.5l12.3 -4.2l15.3 6.5z"/>
<path class="c31" d="M327.3 374.8l-15.4 -4.8l12.3 -4.8l15.4 4.8z"/>
<path class="c46" d="M474.6 284.8l-15.4 -7.2l12.2 -2.8l15.4 7.2z"/>
<path class="c51" d="M290.2 251.9l-15.4 -4.8l12.3 -3.5l15.4 4.7z"/>
<path class="c41" d="M308.8 313.3l-15.4 -5l12.2 -4.2l15.4 5z"/>
<path class="c50" d="M360.9 261l-15.4 -5.7l12.3 -3.2l15.4 5.6z"/>
<path class="c39" d="M603.5 326.9l-15.3 -9.1l12.2 -2.3l15.4 9.1z"/>
<path class="c29" d="M496.3 387.9l-15.4 -5.5l12.2 -4.5l15.4 5.5z"/>
<path class="c38" d="M450.1 331.2l-15.4 -6.2l12.2 -3.8l15.4 6.2z"/>
<path class="c20" d="M821.5 440.4l-15.4 -15.3l12.2 -0.6l15.4 15.4z"/>
<path class="c34" d="M563.7 354.4l-15.4 -7.3l12.3 -3.5l15.3 7.3z"/>
<path class="c26" d="M637.5 405.5l-15.4 -6.2l12.2 -4.3l15.4 6.2z"/>
<path class="c20" d="M821.5 439.4l-15.4 -12.6l12.2 -1.7l15.4 12.6z"/>
<path class="c28" d="M566.9 396.1l-15.4 -5.8l12.2 -4.4l15.4 5.8z"/>
<path class="c21" d="M821.5 438.4l-15.4 -9.8l12.2 -2.9l15.4 9.8z"/>
<path class="c12" d="M895.2 491l-15.4 -13.8l12.2 -1.6l15.4 13.8z"/>
<path class="c21" d="M821.5 437.4l-15.4 -7l12.2 -4l15.4 6.9z"/>
<path class="c44" d="M517.6 297.4l-15.4 -7.8l12.2 -2.7l15.4 7.9z"/>
<path class="c32" d="M732.4 368.6l-15.3 -13.2l12.2 -0.7l15.4 13.2z"/>
<path class="c40" d="M379.4 321.1l-15.3 -5.6l12.2 -4l15.4 5.6z"/>
<path class="c41" d="M560.6 311.5l-15.4 -8.5l12.2 -2.5l15.4 8.5z"/>
<path class="c31" d="M704.9 372.7l-15.4 -10.7l12.2 -2l15.4 10.7z"/>
<path class="c26" d="M763.2 404.5l-15.4 -11.6l12.2 -1.8l15.4 11.6z"/>
<path class="c49" d="M557.4 267.8l-15.4 -9.5l12.3 -1.4l15.3 9.5z"/>
<path class="c58" d="M385.4 210.9l-15.4 -6.2l12.3 -2.2l15.3 6.2z"/>
<path class="c33" d="M606.7 366l-15.4 -7.6l12.2 -3.4l15.4 7.7z"/>
<path class="c23" d="M778.6 422l-15.4 -9.3l12.2 -3l15.4 9.4z"/>
<path class="c30" d="M398 380.3l-15.4 -5.1l12.2 -4.7l15.4 5.1z"/>
<path class="c32" d="M201.3 371.4l-15.4 -4.2l12.3 -5l15.4 4.3z"/>
<path class="c18" d="M836.9 456.1l-15.4 -15.7l12.2 -0.5l15.4 15.7z"/>
<path class="c23" d="M751 425l-15.4 -6.7l12.2 -4.1l15.4 6.6z"/>
<path class="c31" d="M299.7 374.8l-15.4 -4.7l12.2 -4.8l15.4 4.7z"/>
<path class="c31" d="M649.7 378.6l-15.4 -8.1l12.2 -3.2l15.4 8.1z"/>
<path class="c26" d="M735.6 406.6l-15.4 -8.9l12.2 -3.1l15.4 9z"/>
<path class="c19" d="M864.4 447.6l-15.3 -7.2l12.2 -4l15.3 7.2z"/>
<path class="c28" d="M692.6 392.2l-15.3 -8.5l12.2 -3.2l15.4 8.5z"/>
<path class="c48" d="M403.9 270.1l-15.4 -6.4l12.3 -3.1l15.4 6.4z"/>
<path class="c37" d="M493.1 340.5l-15.4 -6.6l12.2 -3.7l15.4 6.6z"/>
<path class="c41" d="M281.1 312.6l-15.4 -4.8l12.3 -4.3l15.4 4.8z"/>
<path class="c52" d="M514.4 250.8l-15.4 -8.7l12.3 -1.6l15.4 8.7z"/>
<path class="c56" d="M428.4 222.3l-15.4 -7l12.3 -2l15.4 7z"/>
<path class="c60" d="M314.7 198.6l-15.4 -5l12.3 -2.6l15.4 5z"/>
<path class="c52" d="M262.6 250.8l-15.4 -4.4l12.2 -3.7l15.4 4.4z"/>
<path class="c38" d="M674.1 331.1l-15.4 -12l12.3 -1l15.3 12z"/>
<path class="c29" d="M468.6 386.9l-15.4 -5.4l12.3 -4.5l15.4 5.4z"/>
<path class="c44" d="M615.8 297.5l-15.4 -10.8l12.2 -1.1l15.4 10.7z"/>
<path class="c35" d="M661.9 353.8l-15.4 -10.1l12.2 -2.1l15.4 10z"/>
<path class="c16" d="M879.8 466l-15.4 -10.4l12.2 -2.7l15.4 10.3z"/>
<path class="c54" d="M471.4 235.6l-15.4 -7.8l12.3 -1.8l15.4 7.8z"/>
<path class="c25" d="M680.4 413.8l-15.3 -6.4l12.2 -4.2l15.3 6.3z"/>
<path class="c30" d="M747.8 382.3l-15.4 -13.7l12.3 -0.7l15.3 13.7z"/>
<path class="c15" d="M852.2 472.3l-15.3 -16.2l12.2 -0.5l15.3 16.2z"/>
<path class="c19" d="M836.9 452.2l-15.4 -12.8l12.2 -1.7l15.4 12.8z"/>
<path class="c50" d="M333.3 258.7l-15.4 -5.3l12.2 -3.5l15.4 5.4z"/>
<path class="c28" d="M539.3 394.7l-15.4 -5.7l12.2 -4.4l15.4 5.7z"/>
<path class="c27" d="M609.9 403.7l-15.4 -6.1l12.2 -4.3l15.4 6z"/>
<path class="c39" d="M422.5 328.9l-15.4 -6l12.2 -3.9l15.4 6z"/>
<path class="c40" d="M351.8 319.6l-15.4 -5.4l12.3 -4.1l15.4 5.4z"/>
<path class="c18" d="M907.4 458.3l-15.4 -7.4l12.2 -4l15.4 7.4z"/>
<path class="c30" d="M370.4 379.9l-15.4 -5l12.2 -4.7l15.4 5z"/>
<path class="c47" d="M446.9 280.5l-15.3 -6.9l12.2 -3l15.4 7z"/>
<path class="c22" d="M793.9 434.5l-15.3 -6.9l12.2 -4.1l15.3 6.9z"/>
<path class="c13" d="M867.6 488.9l-15.4 -16.6l12.2 -0.5l15.4 16.5z"/>
<path class="c31" d="M272 375l-15.4 -4.6l12.3 -4.9l15.4 4.6z"/>
<path class="c35" d="M536.1 350.7l-15.4 -7l12.2 -3.6l15.4 7z"/>
<path class="c30" d="M720.2 383.6l-15.3 -10.9l12.2 -2l15.3 10.9z"/>
<path class="c38" d="M618.9 336.3l-15.4 -9.4l12.3 -2.3l15.3 9.4z"/>
<path class="c25" d="M778.6 416.5l-15.4 -12l12.2 -1.8l15.4 11.9z"/>
<path class="c19" d="M836.9 448.3l-15.4 -9.9l12.2 -2.9l15.4 10z"/>
<path class="c42" d="M253.5 312.3l-15.4 -4.6l12.2 -4.4l15.4 4.5z"/>
<path class="c10" d="M883 505.8l-15.4 -16.9l12.2 -0.6l15.4 17z"/>
<path class="c45" d="M489.9 292.4l-15.3 -7.6l12.2 -2.8l15.4 7.6z"/>
<path class="c59" d="M357.8 207.1l-15.4 -5.8l12.2 -2.4l15.4 5.8z"/>
<path class="c40" d="M575.9 320.3l-15.3 -8.8l12.2 -2.5l15.4 8.8z"/>
<path class="c30" d="M441 386.1l-15.4 -5.3l12.3 -4.6l15.3 5.3z"/>
<path class="c28" d="M763.2 396.4l-15.4 -14.1l12.2 -0.7l15.4 14z"/>
<path class="c47" d="M572.8 277.7l-15.4 -9.9l12.2 -1.4l15.4 10z"/>
<path class="c24" d="M723.4 422.5l-15.4 -6.5l12.2 -4.2l15.4 6.5z"/>
<path class="c43" d="M532.9 305.6l-15.3 -8.2l12.2 -2.6l15.4 8.2z"/>
<path class="c34" d="M579.1 361.9l-15.4 -7.5l12.2 -3.5l15.4 7.5z"/>
<path class="c37" d="M689.5 343.5l-15.4 -12.4l12.2 -1l15.4 12.5z"/>
<path class="c61" d="M287.1 196.5l-15.4 -4.6l12.3 -2.8l15.3 4.5z"/>
<path class="c22" d="M793.9 431.6l-15.3 -9.6l12.2 -2.9l15.3 9.5z"/>
<path class="c17" d="M852.2 465.4l-15.3 -13.2l12.2 -1.7l15.3 13.2z"/>
<path class="c38" d="M465.5 337.7l-15.4 -6.5l12.2 -3.8l15.4 6.5z"/>
<path class="c49" d="M376.3 267l-15.4 -6l12.3 -3.3l15.3 6z"/>
<path class="c20" d="M836.9 444.4l-15.4 -7l12.2 -4.1l15.4 7.1z"/>
<path class="c29" d="M511.6 393.5l-15.3 -5.6l12.2 -4.5l15.4 5.6z"/>
<path class="c26" d="M652.8 411.7l-15.3 -6.2l12.2 -4.3l15.4 6.2z"/>
<path class="c41" d="M324.2 318.5l-15.4 -5.2l12.2 -4.2l15.4 5.1z"/>
<path class="c31" d="M244.4 375.3l-15.4 -4.5l12.2 -4.9l15.4 4.5z"/>
<path class="c31" d="M342.7 379.6l-15.4 -4.8l12.3 -4.8l15.4 4.9z"/>
<path class="c51" d="M305.6 256.9l-15.4 -5l12.3 -3.6l15.4 5.1z"/>
<path class="c27" d="M582.3 402l-15.4 -5.9l12.2 -4.4l15.4 5.9z"/>
<path class="c42" d="M631.1 308.6l-15.3 -11.1l12.2 -1.2l15.4 11.2z"/>
<path class="c32" d="M622.1 373.9l-15.4 -7.9l12.2 -3.3l15.4 7.8z"/>
<path class="c25" d="M751 415.8l-15.4 -9.2l12.2 -3l15.4 9.1z"/>
<path class="c39" d="M394.8 326.9l-15.4 -5.8l12.3 -4l15.4 5.8z"/>
<path class="c15" d="M895.2 476.6l-15.4 -10.6l12.2 -2.8l15.4 10.6z"/>
<path class="c33" d="M677.3 364.2l-15.4 -10.4l12.2 -2.2l15.4 10.4z"/>
<path class="c57" d="M400.8 217.5l-15.4 -6.6l12.2 -2.2l15.4 6.6z"/>
<path class="c30" d="M665.1 386.9l-15.4 -8.3l12.2 -3.2l15.4 8.3z"/>
<path class="c27" d="M708 400.9l-15.4 -8.7l12.3 -3.2l15.3 8.7z"/>
<path class="c42" d="M225.8 312.2l-15.4 -4.3l12.3 -4.5l15.4 4.3z"/>
<path class="c51" d="M529.8 259.9l-15.4 -9.1l12.3 -1.6l15.3 9.1z"/>
<path class="c26" d="M778.6 410.9l-15.4 -14.5l12.2 -0.8l15.4 14.5z"/>
<path class="c23" d="M793.9 428.7l-15.3 -12.2l12.2 -1.9l15.3 12.2z"/>
<path class="c22" d="M766.4 431.7l-15.4 -6.7l12.2 -4.2l15.4 6.8z"/>
<path class="c19" d="M879.8 454.9l-15.4 -7.3l12.2 -4l15.4 7.3z"/>
<path class="c30" d="M413.4 385.5l-15.4 -5.2l12.2 -4.7l15.4 5.2z"/>
<path class="c28" d="M735.6 394.9l-15.4 -11.3l12.2 -2l15.4 11.3z"/>
<path class="c56" d="M443.8 229.7l-15.4 -7.4l12.3 -2l15.3 7.5z"/>
<path class="c53" d="M486.8 243.9l-15.4 -8.3l12.3 -1.8l15.3 8.3z"/>
<path class="c36" d="M508.5 347.4l-15.4 -6.9l12.2 -3.7l15.4 6.9z"/>
<path class="c48" d="M419.3 276.7l-15.4 -6.6l12.3 -3.1l15.4 6.6z"/>
<path class="c32" d="M216.7 375.8l-15.4 -4.4l12.3 -4.9l15.4 4.3z"/>
<path class="c15" d="M867.6 478.9l-15.4 -13.5l12.2 -1.7l15.4 13.5z"/>
<path class="c35" d="M704.9 356.3l-15.4 -12.8l12.2 -0.9l15.4 12.8z"/>
<path class="c31" d="M315.1 379.6l-15.4 -4.8l12.2 -4.8l15.4 4.8z"/>
<path class="c18" d="M852.2 458.5l-15.3 -10.2l12.2 -2.8l15.3 10.1z"/>
<path class="c37" d="M634.3 346.1l-15.4 -9.8l12.2 -2.3l15.4 9.7z"/>
<path class="c24" d="M695.8 420.2l-15.4 -6.4l12.2 -4.3l15.4 6.5z"/>
<path class="c60" d="M330.1 203.9l-15.4 -5.3l12.3 -2.6l15.4 5.3z"/>
<path class="c29" d="M484 392.4l-15.4 -5.5l12.3 -4.5l15.4 5.5z"/>
<path class="c41" d="M296.5 317.6l-15.4 -5l12.3 -4.3l15.4 5z"/>
<path class="c51" d="M278 255.6l-15.4 -4.8l12.2 -3.7l15.4 4.8z"/>
<path class="c24" d="M793.9 425.8l-15.3 -14.9l12.2 -0.8l15.3 15z"/>
<path class="c26" d="M625.2 409.8l-15.3 -6.1l12.2 -4.4l15.4 6.2z"/>
<path class="c28" d="M554.6 400.6l-15.3 -5.9l12.2 -4.4l15.4 5.8z"/>
<path class="c38" d="M437.9 335.2l-15.4 -6.3l12.2 -3.9l15.4 6.2z"/>
<path class="c46" d="M588.2 288.1l-15.4 -10.4l12.2 -1.3l15.4 10.3z"/>
<path class="c50" d="M348.7 264.4l-15.4 -5.7l12.2 -3.4l15.4 5.7z"/>
<path class="c46" d="M462.3 287.7l-15.4 -7.2l12.3 -2.9l15.4 7.2z"/>
<path class="c35" d="M551.5 358l-15.4 -7.3l12.2 -3.6l15.4 7.3z"/>
<path class="c21" d="M809.3 441.4l-15.4 -6.9l12.2 -4.1l15.4 7z"/>
<path class="c40" d="M367.2 325.2l-15.4 -5.6l12.3 -4.1l15.3 5.6z"/>
<path class="c39" d="M591.3 329.4l-15.4 -9.1l12.3 -2.5l15.3 9.1z"/>
<path class="c41" d="M646.5 320.2l-15.4 -11.6l12.3 -1.1l15.3 11.6z"/>
<path class="c21" d="M809.3 441.3l-15.4 -9.7l12.2 -3l15.4 9.8z"/>
<path class="c32" d="M189.1 376.4l-15.5 -4.2l12.3 -5l15.4 4.2z"/>
<path class="c44" d="M505.3 300.2l-15.4 -7.8l12.3 -2.8l15.4 7.8z"/>
<path class="c30" d="M385.8 385l-15.4 -5.1l12.2 -4.7l15.4 5.1z"/>
<path class="c42" d="M548.3 314.1l-15.4 -8.5l12.3 -2.6l15.4 8.5z"/>
<path class="c21" d="M809.3 441.2l-15.4 -12.5l12.2 -1.9l15.4 12.6z"/>
<path class="c32" d="M692.6 374.8l-15.3 -10.6l12.2 -2.2l15.4 10.7z"/>
<path class="c13" d="M883 492.7l-15.4 -13.8l12.2 -1.7l15.4 13.8z"/>
<path class="c33" d="M594.5 369.5l-15.4 -7.6l12.2 -3.5l15.4 7.6z"/>
<path class="c31" d="M287.4 379.6l-15.4 -4.6l12.3 -4.9l15.4 4.7z"/>
<path class="c21" d="M809.3 441.1l-15.4 -15.3l12.2 -0.7l15.4 15.3z"/>
<path class="c23" d="M738.8 429.2l-15.4 -6.7l12.2 -4.2l15.4 6.7z"/>
<path class="c24" d="M766.4 425.1l-15.4 -9.3l12.2 -3.1l15.4 9.3z"/>
<path class="c59" d="M373.2 213.3l-15.4 -6.2l12.2 -2.4l15.4 6.2z"/>
<path class="c33" d="M720.2 369.6l-15.3 -13.3l12.2 -0.9l15.3 13.2z"/>
<path class="c27" d="M751 406.5l-15.4 -11.6l12.2 -2l15.4 11.6z"/>
<path class="c42" d="M268.9 317l-15.4 -4.7l12.2 -4.5l15.4 4.8z"/>
<path class="c20" d="M852.2 451.6l-15.3 -7.2l12.2 -4l15.3 7.2z"/>
<path class="c49" d="M545.2 269.4l-15.4 -9.5l12.2 -1.6l15.4 9.5z"/>
<path class="c31" d="M637.5 382l-15.4 -8.1l12.2 -3.4l15.4 8.1z"/>
<path class="c29" d="M456.4 391.5l-15.4 -5.4l12.2 -4.6l15.4 5.4z"/>
<path class="c37" d="M480.9 344.3l-15.4 -6.6l12.2 -3.8l15.4 6.6z"/>
<path class="c26" d="M723.4 409.8l-15.4 -8.9l12.2 -3.2l15.4 8.9z"/>
<path class="c52" d="M250.3 254.7l-15.4 -4.4l12.3 -3.9l15.4 4.4z"/>
<path class="c29" d="M680.4 395.4l-15.3 -8.5l12.2 -3.2l15.3 8.5z"/>
<path class="c49" d="M391.7 273.3l-15.4 -6.3l12.2 -3.3l15.4 6.4z"/>
<path class="c25" d="M668.2 418l-15.4 -6.3l12.3 -4.3l15.3 6.4z"/>
<path class="c28" d="M527 399.2l-15.4 -5.7l12.3 -4.5l15.4 5.7z"/>
<path class="c61" d="M302.5 201.4l-15.4 -4.9l12.2 -2.9l15.4 5z"/>
<path class="c27" d="M597.6 408.1l-15.3 -6.1l12.2 -4.4l15.4 6.1z"/>
<path class="c19" d="M824.7 456.9l-15.4 -15.8l12.2 -0.7l15.4 15.7z"/>
<path class="c57" d="M416.2 224.5l-15.4 -7l12.2 -2.2l15.4 7z"/>
<path class="c41" d="M339.6 323.8l-15.4 -5.3l12.2 -4.3l15.4 5.4z"/>
<path class="c17" d="M867.6 468.9l-15.4 -10.4l12.2 -2.9l15.4 10.4z"/>
<path class="c51" d="M321 262.3l-15.4 -5.4l12.3 -3.5l15.4 5.3z"/>
<path class="c39" d="M410.2 332.9l-15.4 -6l12.3 -4l15.4 6z"/>
<path class="c52" d="M502.2 252.5l-15.4 -8.6l12.2 -1.8l15.4 8.7z"/>
<path class="c31" d="M358.1 384.6l-15.4 -5l12.3 -4.7l15.4 5z"/>
<path class="c35" d="M649.7 356.1l-15.4 -10l12.2 -2.4l15.4 10.1z"/>
<path class="c31" d="M259.8 379.9l-15.4 -4.6l12.2 -4.9l15.4 4.6z"/>
<path class="c18" d="M895.2 462.2l-15.4 -7.3l12.2 -4l15.4 7.4z"/>
<path class="c55" d="M459.2 237.6l-15.4 -7.9l12.2 -1.9l15.4 7.8z"/>
<path class="c39" d="M661.9 332.2l-15.4 -12l12.2 -1.1l15.4 12z"/>
<path class="c22" d="M781.7 438.6l-15.3 -6.9l12.2 -4.1l15.3 6.9z"/>
<path class="c45" d="M603.5 298.8l-15.3 -10.7l12.2 -1.4l15.4 10.8z"/>
<path class="c19" d="M824.7 454.1l-15.4 -12.9l12.2 -1.8l15.4 12.8z"/>
<path class="c36" d="M523.9 354.4l-15.4 -7l12.2 -3.7l15.4 7z"/>
<path class="c31" d="M735.6 383.2l-15.4 -13.6l12.2 -1l15.4 13.7z"/>
<path class="c47" d="M434.7 283.6l-15.4 -6.9l12.3 -3.1l15.3 6.9z"/>
<path class="c16" d="M840 473l-15.3 -16.1l12.2 -0.8l15.3 16.2z"/>
<path class="c42" d="M241.2 316.8l-15.4 -4.6l12.3 -4.5l15.4 4.6z"/>
<path class="c30" d="M428.8 390.8l-15.4 -5.3l12.2 -4.7l15.4 5.3z"/>
<path class="c20" d="M824.7 451.3l-15.4 -10l12.2 -2.9l15.4 9.9z"/>
<path class="c38" d="M606.7 338.8l-15.4 -9.4l12.2 -2.5l15.4 9.4z"/>
<path class="c31" d="M708 385.8l-15.4 -11l12.3 -2.1l15.3 10.9z"/>
<path class="c24" d="M711.2 426.8l-15.4 -6.6l12.2 -4.2l15.4 6.5z"/>
<path class="c25" d="M766.4 418.5l-15.4 -12l12.2 -2l15.4 12z"/>
<path class="c45" d="M477.7 295.3l-15.4 -7.6l12.3 -2.9l15.3 7.6z"/>
<path class="c14" d="M855.4 489.6l-15.4 -16.6l12.2 -0.7l15.4 16.6z"/>
<path class="c34" d="M566.9 365.5l-15.4 -7.5l12.2 -3.6l15.4 7.5z"/>
<path class="c31" d="M232.1 380.3l-15.4 -4.5l12.3 -5l15.4 4.5z"/>
<path class="c29" d="M499.4 398.1l-15.4 -5.7l12.3 -4.5l15.3 5.6z"/>
<path class="c60" d="M345.5 209.7l-15.4 -5.8l12.3 -2.6l15.4 5.8z"/>
<path class="c31" d="M330.5 384.5l-15.4 -4.9l12.2 -4.8l15.4 4.8z"/>
<path class="c20" d="M824.7 448.5l-15.4 -7.1l12.2 -4l15.4 7z"/>
<path class="c41" d="M563.7 322.9l-15.4 -8.8l12.3 -2.6l15.3 8.8z"/>
<path class="c38" d="M453.2 341.6l-15.3 -6.4l12.2 -4l15.4 6.5z"/>
<path class="c26" d="M640.6 416l-15.4 -6.2l12.3 -4.3l15.3 6.2z"/>
<path class="c43" d="M520.7 308.4l-15.4 -8.2l12.3 -2.8l15.3 8.2z"/>
<path class="c41" d="M311.9 322.8l-15.4 -5.2l12.3 -4.3l15.4 5.2z"/>
<path class="c27" d="M570 406.5l-15.4 -5.9l12.3 -4.5l15.4 5.9z"/>
<path class="c61" d="M274.8 199.5l-15.4 -4.5l12.3 -3.1l15.4 4.6z"/>
<path class="c23" d="M781.7 434.6l-15.3 -9.5l12.2 -3.1l15.3 9.6z"/>
<path class="c50" d="M364.1 270.4l-15.4 -6l12.2 -3.4l15.4 6z"/>
<path class="c51" d="M293.4 260.6l-15.4 -5l12.2 -3.7l15.4 5z"/>
<path class="c48" d="M560.6 279.3l-15.4 -9.9l12.2 -1.6l15.4 9.9z"/>
<path class="c40" d="M382.6 331l-15.4 -5.8l12.2 -4.1l15.4 5.8z"/>
<path class="c11" d="M870.8 506.6l-15.4 -17l12.2 -0.7l15.4 16.9z"/>
<path class="c32" d="M609.9 377.4l-15.4 -7.9l12.2 -3.5l15.4 7.9z"/>
<path class="c29" d="M751 397.3l-15.4 -14.1l12.2 -0.9l15.4 14.1z"/>
<path class="c42" d="M213.6 316.9l-15.4 -4.4l12.2 -4.6l15.4 4.3z"/>
<path class="c17" d="M840 467.2l-15.3 -13.1l12.2 -1.9l15.3 13.2z"/>
<path class="c38" d="M677.3 344.6l-15.4 -12.4l12.2 -1.1l15.4 12.4z"/>
<path class="c25" d="M738.8 418.9l-15.4 -9.1l12.2 -3.2l15.4 9.2z"/>
<path class="c30" d="M652.8 390.3l-15.3 -8.3l12.2 -3.4l15.4 8.3z"/>
<path class="c16" d="M883 479.5l-15.4 -10.6l12.2 -2.9l15.4 10.6z"/>
<path class="c28" d="M695.8 404.2l-15.4 -8.8l12.2 -3.2l15.4 8.7z"/>
<path class="c30" d="M401.1 390.2l-15.3 -5.2l12.2 -4.7l15.4 5.2z"/>
<path class="c23" d="M754.2 435.9l-15.4 -6.7l12.2 -4.2l15.4 6.7z"/>
<path class="c34" d="M665.1 366.5l-15.4 -10.4l12.2 -2.3l15.4 10.4z"/>
<path class="c19" d="M867.6 458.9l-15.4 -7.3l12.2 -4l15.4 7.3z"/>
<path class="c43" d="M618.9 310l-15.4 -11.2l12.3 -1.3l15.3 11.1z"/>
<path class="c58" d="M388.5 219.9l-15.3 -6.6l12.2 -2.4l15.4 6.6z"/>
<path class="c32" d="M204.5 380.8l-15.4 -4.4l12.2 -5l15.4 4.4z"/>
<path class="c37" d="M496.3 351.2l-15.4 -6.9l12.2 -3.8l15.4 6.9z"/>
<path class="c31" d="M302.8 384.4l-15.4 -4.8l12.3 -4.8l15.4 4.8z"/>
<path class="c51" d="M517.6 261.6l-15.4 -9.1l12.2 -1.7l15.4 9.1z"/>
<path class="c48" d="M407.1 279.9l-15.4 -6.6l12.2 -3.2l15.4 6.6z"/>
<path class="c24" d="M781.7 430.7l-15.3 -12.2l12.2 -2l15.3 12.2z"/>
<path class="c29" d="M471.8 397l-15.4 -5.5l12.2 -4.6l15.4 5.5z"/>
<path class="c25" d="M683.6 424.5l-15.4 -6.5l12.2 -4.2l15.4 6.4z"/>
<path class="c41" d="M284.3 322l-15.4 -5l12.2 -4.4l15.4 5z"/>
<path class="c29" d="M723.4 397.1l-15.4 -11.3l12.2 -2.2l15.4 11.3z"/>
<path class="c56" d="M431.6 231.9l-15.4 -7.4l12.2 -2.2l15.4 7.4z"/>
<path class="c27" d="M766.4 411.8l-15.4 -14.5l12.2 -0.9l15.4 14.5z"/>
<path class="c54" d="M474.6 245.8l-15.4 -8.2l12.2 -2l15.4 8.3z"/>
<path class="c19" d="M840 461.5l-15.3 -10.2l12.2 -3l15.3 10.2z"/>
<path class="c28" d="M542.4 405.1l-15.4 -5.9l12.3 -4.5l15.3 5.9z"/>
<path class="c26" d="M613 414.2l-15.4 -6.1l12.3 -4.4l15.3 6.1z"/>
<path class="c52" d="M265.7 259.5l-15.4 -4.8l12.3 -3.9l15.4 4.8z"/>
<path class="c39" d="M425.6 339.2l-15.4 -6.3l12.3 -4l15.4 6.3z"/>
<path class="c15" d="M855.4 480.7l-15.4 -13.5l12.2 -1.8l15.4 13.5z"/>
<path class="c37" d="M622.1 348.5l-15.4 -9.7l12.2 -2.5l15.4 9.8z"/>
<path class="c60" d="M317.9 206.7l-15.4 -5.3l12.2 -2.8l15.4 5.3z"/>
<path class="c21" d="M797.1 445.6l-15.4 -7l12.2 -4.1l15.4 6.9z"/>
<path class="c40" d="M355 329.4l-15.4 -5.6l12.2 -4.2l15.4 5.6z"/>
<path class="c50" d="M336.4 268l-15.4 -5.7l12.3 -3.6l15.4 5.7z"/>
<path class="c32" d="M176.8 381.5l-15.4 -4.3l12.2 -5l15.5 4.2z"/>
<path class="c35" d="M539.3 361.7l-15.4 -7.3l12.2 -3.7l15.4 7.3z"/>
<path class="c36" d="M692.6 357.5l-15.3 -12.9l12.2 -1.1l15.4 12.8z"/>
<path class="c47" d="M450.1 290.8l-15.4 -7.2l12.2 -3.1l15.4 7.2z"/>
<path class="c30" d="M373.5 389.7l-15.4 -5.1l12.3 -4.7l15.4 5.1z"/>
<path class="c31" d="M275.2 384.6l-15.4 -4.7l12.2 -4.9l15.4 4.6z"/>
<path class="c22" d="M797.1 444.4l-15.4 -9.8l12.2 -3l15.4 9.7z"/>
<path class="c40" d="M579.1 332l-15.4 -9.1l12.2 -2.6l15.4 9.1z"/>
<path class="c47" d="M575.9 289.6l-15.3 -10.3l12.2 -1.6l15.4 10.4z"/>
<path class="c24" d="M781.7 426.7l-15.3 -14.9l12.2 -0.9l15.3 14.9z"/>
<path class="c45" d="M493.1 303.2l-15.4 -7.9l12.2 -2.9l15.4 7.8z"/>
<path class="c23" d="M726.6 433.4l-15.4 -6.6l12.2 -4.3l15.4 6.7z"/>
<path class="c33" d="M582.3 373.1l-15.4 -7.6l12.2 -3.6l15.4 7.6z"/>
<path class="c42" d="M536.1 316.9l-15.4 -8.5l12.2 -2.8l15.4 8.5z"/>
<path class="c42" d="M634.3 321.6l-15.4 -11.6l12.2 -1.4l15.4 11.6z"/>
<path class="c42" d="M256.6 321.6l-15.4 -4.8l12.3 -4.5l15.4 4.7z"/>
<path class="c29" d="M444.2 396.2l-15.4 -5.4l12.2 -4.7l15.4 5.4z"/>
<path class="c20" d="M840 455.7l-15.3 -7.2l12.2 -4.1l15.3 7.2z"/>
<path class="c22" d="M797.1 443.2l-15.4 -12.5l12.2 -2l15.4 12.5z"/>
<path class="c33" d="M680.4 377.1l-15.3 -10.6l12.2 -2.3l15.3 10.6z"/>
<path class="c24" d="M754.2 428.3l-15.4 -9.4l12.2 -3.1l15.4 9.3z"/>
<path class="c37" d="M468.6 348.2l-15.4 -6.6l12.3 -3.9l15.4 6.6z"/>
<path class="c31" d="M625.2 385.5l-15.3 -8.1l12.2 -3.5l15.4 8.1z"/>
<path class="c13" d="M870.8 494.5l-15.4 -13.8l12.2 -1.8l15.4 13.8z"/>
<path class="c52" d="M238.1 258.8l-15.4 -4.5l12.2 -4l15.4 4.4z"/>
<path class="c59" d="M360.9 215.9l-15.4 -6.2l12.3 -2.6l15.4 6.2z"/>
<path class="c25" d="M656 422.4l-15.4 -6.4l12.2 -4.3l15.4 6.3z"/>
<path class="c28" d="M514.8 403.8l-15.4 -5.7l12.2 -4.6l15.4 5.7z"/>
<path class="c27" d="M711.2 413.1l-15.4 -8.9l12.2 -3.3l15.4 8.9z"/>
<path class="c29" d="M668.2 398.8l-15.4 -8.5l12.3 -3.4l15.3 8.5z"/>
<path class="c49" d="M379.4 276.7l-15.3 -6.3l12.2 -3.4l15.4 6.3z"/>
<path class="c28" d="M738.8 408.7l-15.4 -11.6l12.2 -2.2l15.4 11.6z"/>
<path class="c27" d="M585.4 412.5l-15.4 -6l12.3 -4.5l15.3 6.1z"/>
<path class="c31" d="M345.9 389.5l-15.4 -5l12.2 -4.9l15.4 5z"/>
<path class="c22" d="M797.1 442.1l-15.4 -15.4l12.2 -0.9l15.4 15.3z"/>
<path class="c41" d="M327.3 328.2l-15.4 -5.4l12.3 -4.3l15.4 5.3z"/>
<path class="c31" d="M247.5 384.8l-15.4 -4.5l12.3 -5l15.4 4.6z"/>
<path class="c34" d="M708 370.7l-15.4 -13.2l12.3 -1.2l15.3 13.3z"/>
<path class="c50" d="M532.9 271.1l-15.3 -9.5l12.2 -1.7l15.4 9.5z"/>
<path class="c39" d="M398 337.1l-15.4 -6.1l12.2 -4.1l15.4 6z"/>
<path class="c61" d="M290.2 204.4l-15.4 -4.9l12.3 -3l15.4 4.9z"/>
<path class="c51" d="M308.8 266l-15.4 -5.4l12.2 -3.7l15.4 5.4z"/>
<path class="c18" d="M883 466.3l-15.4 -7.4l12.2 -4l15.4 7.3z"/>
<path class="c17" d="M855.4 471.8l-15.4 -10.3l12.2 -3l15.4 10.4z"/>
<path class="c22" d="M769.5 442.8l-15.3 -6.9l12.2 -4.2l15.3 6.9z"/>
<path class="c57" d="M403.9 226.9l-15.4 -7l12.3 -2.4l15.4 7z"/>
<path class="c42" d="M229 321.4l-15.4 -4.5l12.2 -4.7l15.4 4.6z"/>
<path class="c36" d="M637.5 358.6l-15.4 -10.1l12.2 -2.4l15.4 10z"/>
<path class="c36" d="M511.6 358.2l-15.3 -7l12.2 -3.8l15.4 7z"/>
<path class="c53" d="M489.9 254.5l-15.3 -8.7l12.2 -1.9l15.4 8.6z"/>
<path class="c30" d="M416.5 395.5l-15.4 -5.3l12.3 -4.7l15.4 5.3z"/>
<path class="c20" d="M812.5 457.8l-15.4 -15.7l12.2 -1l15.4 15.8z"/>
<path class="c55" d="M446.9 239.8l-15.3 -7.9l12.2 -2.2l15.4 7.9z"/>
<path class="c48" d="M422.5 286.9l-15.4 -7l12.2 -3.2l15.4 6.9z"/>
<path class="c20" d="M812.5 456.1l-15.4 -12.9l12.2 -2l15.4 12.9z"/>
<path class="c24" d="M699 431l-15.4 -6.5l12.2 -4.3l15.4 6.6z"/>
<path class="c40" d="M649.7 333.6l-15.4 -12l12.2 -1.4l15.4 12z"/>
<path class="c46" d="M591.3 300.4l-15.4 -10.8l12.3 -1.5l15.3 10.7z"/>
<path class="c32" d="M219.9 385.3l-15.4 -4.5l12.2 -5l15.4 4.5z"/>
<path class="c31" d="M318.2 389.3l-15.4 -4.9l12.3 -4.8l15.4 4.9z"/>
<path class="c20" d="M812.5 454.4l-15.4 -10l12.2 -3.1l15.4 10z"/>
<path class="c29" d="M487.2 402.7l-15.4 -5.7l12.2 -4.6l15.4 5.7z"/>
<path class="c39" d="M594.5 341.4l-15.4 -9.4l12.2 -2.6l15.4 9.4z"/>
<path class="c26" d="M628.4 420.4l-15.4 -6.2l12.2 -4.4l15.4 6.2z"/>
<path class="c32" d="M723.4 384.4l-15.4 -13.7l12.2 -1.1l15.4 13.6z"/>
<path class="c21" d="M812.5 452.7l-15.4 -7.1l12.2 -4.2l15.4 7.1z"/>
<path class="c34" d="M554.6 369.1l-15.3 -7.4l12.2 -3.7l15.4 7.5z"/>
<path class="c41" d="M299.7 327.2l-15.4 -5.2l12.2 -4.4l15.4 5.2z"/>
<path class="c27" d="M557.8 411l-15.4 -5.9l12.2 -4.5l15.4 5.9z"/>
<path class="c31" d="M695.8 388.1l-15.4 -11l12.2 -2.3l15.4 11z"/>
<path class="c38" d="M441 345.6l-15.4 -6.4l12.3 -4l15.3 6.4z"/>
<path class="c17" d="M827.9 474l-15.4 -16.2l12.2 -0.9l15.3 16.1z"/>
<path class="c46" d="M465.5 298.4l-15.4 -7.6l12.2 -3.1l15.4 7.6z"/>
<path class="c26" d="M754.2 420.6l-15.4 -11.9l12.2 -2.2l15.4 12z"/>
<path class="c60" d="M333.3 212.5l-15.4 -5.8l12.2 -2.8l15.4 5.8z"/>
<path class="c42" d="M201.3 321.6l-15.4 -4.3l12.3 -4.8l15.4 4.4z"/>
<path class="c50" d="M351.8 274l-15.4 -6l12.3 -3.6l15.4 6z"/>
<path class="c40" d="M370.4 335.3l-15.4 -5.9l12.2 -4.2l15.4 5.8z"/>
<path class="c41" d="M551.5 325.7l-15.4 -8.8l12.2 -2.8l15.4 8.8z"/>
<path class="c51" d="M281.1 264.5l-15.4 -5l12.3 -3.9l15.4 5z"/>
<path class="c62" d="M262.6 202.7l-15.4 -4.5l12.2 -3.2l15.4 4.5z"/>
<path class="c44" d="M508.5 311.3l-15.4 -8.1l12.2 -3l15.4 8.2z"/>
<path class="c23" d="M769.5 437.8l-15.3 -9.5l12.2 -3.2l15.3 9.5z"/>
<path class="c32" d="M597.6 381l-15.3 -7.9l12.2 -3.6l15.4 7.9z"/>
<path class="c30" d="M388.9 394.9l-15.4 -5.2l12.3 -4.7l15.3 5.2z"/>
<path class="c14" d="M843.2 490.5l-15.3 -16.5l12.1 -1l15.4 16.6z"/>
<path class="c32" d="M192.2 385.9l-15.4 -4.4l12.3 -5.1l15.4 4.4z"/>
<path class="c26" d="M726.6 422.2l-15.4 -9.1l12.2 -3.3l15.4 9.1z"/>
<path class="c23" d="M741.9 440.2l-15.3 -6.8l12.2 -4.2l15.4 6.7z"/>
<path class="c30" d="M640.6 393.8l-15.4 -8.3l12.3 -3.5l15.3 8.3z"/>
<path class="c19" d="M855.4 463l-15.4 -7.3l12.2 -4.1l15.4 7.3z"/>
<path class="c49" d="M548.3 281.1l-15.4 -10l12.3 -1.7l15.4 9.9z"/>
<path class="c28" d="M683.6 407.5l-15.4 -8.7l12.2 -3.4l15.4 8.8z"/>
<path class="c31" d="M290.6 389.3l-15.4 -4.7l12.2 -5l15.4 4.8z"/>
<path class="c16" d="M870.8 482.4l-15.4 -10.6l12.2 -2.9l15.4 10.6z"/>
<path class="c18" d="M827.9 469.2l-15.4 -13.1l12.2 -2l15.3 13.1z"/>
<path class="c12" d="M858.6 507.5l-15.4 -17l12.2 -0.9l15.4 17z"/>
<path class="c30" d="M738.8 398.5l-15.4 -14.1l12.2 -1.2l15.4 14.1z"/>
<path class="c37" d="M484 355.1l-15.4 -6.9l12.3 -3.9l15.4 6.9z"/>
<path class="c29" d="M459.6 401.7l-15.4 -5.5l12.2 -4.7l15.4 5.5z"/>
<path class="c38" d="M665.1 346l-15.4 -12.4l12.2 -1.4l15.4 12.4z"/>
<path class="c35" d="M652.8 368.9l-15.3 -10.3l12.2 -2.5l15.4 10.4z"/>
<path class="c59" d="M376.3 222.5l-15.4 -6.6l12.3 -2.6l15.3 6.6z"/>
<path class="c25" d="M671.4 428.8l-15.4 -6.4l12.2 -4.4l15.4 6.5z"/>
<path class="c41" d="M272 326.5l-15.4 -4.9l12.3 -4.6l15.4 5z"/>
<path class="c49" d="M394.8 283.3l-15.4 -6.6l12.3 -3.4l15.4 6.6z"/>
<path class="c28" d="M530.2 409.6l-15.4 -5.8l12.2 -4.6l15.4 5.9z"/>
<path class="c44" d="M606.7 311.6l-15.4 -11.2l12.2 -1.6l15.4 11.2z"/>
<path class="c27" d="M600.8 418.7l-15.4 -6.2l12.2 -4.4l15.4 6.1z"/>
<path class="c52" d="M505.3 263.6l-15.4 -9.1l12.3 -2l15.4 9.1z"/>
<path class="c32" d="M164.5 386.6l-15.4 -4.2l12.3 -5.2l15.4 4.3z"/>
<path class="c52" d="M253.5 263.5l-15.4 -4.7l12.2 -4.1l15.4 4.8z"/>
<path class="c39" d="M413.4 343.3l-15.4 -6.2l12.2 -4.2l15.4 6.3z"/>
<path class="c24" d="M769.5 432.9l-15.3 -12.3l12.2 -2.1l15.3 12.2z"/>
<path class="c40" d="M342.7 333.8l-15.4 -5.6l12.3 -4.4l15.4 5.6z"/>
<path class="c22" d="M784.9 449.8l-15.4 -7l12.2 -4.2l15.4 7z"/>
<path class="c57" d="M419.3 234.3l-15.4 -7.4l12.3 -2.4l15.4 7.4z"/>
<path class="c19" d="M827.9 464.5l-15.4 -10.1l12.2 -3.1l15.3 10.2z"/>
<path class="c30" d="M711.2 399.4l-15.4 -11.3l12.2 -2.3l15.4 11.3z"/>
<path class="c30" d="M361.3 394.6l-15.4 -5.1l12.2 -4.9l15.4 5.1z"/>
<path class="c55" d="M462.3 248l-15.4 -8.2l12.3 -2.2l15.4 8.2z"/>
<path class="c51" d="M324.2 271.7l-15.4 -5.7l12.2 -3.7l15.4 5.7z"/>
<path class="c35" d="M527 365.5l-15.4 -7.3l12.3 -3.8l15.4 7.3z"/>
<path class="c31" d="M262.9 389.5l-15.4 -4.7l12.3 -4.9l15.4 4.7z"/>
<path class="c61" d="M305.6 209.8l-15.4 -5.4l12.3 -3l15.4 5.3z"/>
<path class="c38" d="M609.9 351.2l-15.4 -9.8l12.2 -2.6l15.4 9.7z"/>
<path class="c28" d="M754.2 413l-15.4 -14.5l12.2 -1.2l15.4 14.5z"/>
<path class="c47" d="M437.9 294.1l-15.4 -7.2l12.2 -3.3l15.4 7.2z"/>
<path class="c16" d="M843.2 482.7l-15.3 -13.5l12.1 -2l15.4 13.5z"/>
<path class="c24" d="M714.4 437.7l-15.4 -6.7l12.2 -4.2l15.4 6.6z"/>
<path class="c42" d="M244.4 326.2l-15.4 -4.8l12.2 -4.6l15.4 4.8z"/>
<path class="c30" d="M431.9 400.9l-15.4 -5.4l12.3 -4.7l15.4 5.4z"/>
<path class="c22" d="M784.9 447.6l-15.4 -9.8l12.2 -3.2l15.4 9.8z"/>
<path class="c40" d="M566.9 334.8l-15.4 -9.1l12.2 -2.8l15.4 9.1z"/>
<path class="c34" d="M570 376.8l-15.4 -7.7l12.3 -3.6l15.4 7.6z"/>
<path class="c37" d="M680.4 358.8l-15.3 -12.8l12.2 -1.4l15.3 12.9z"/>
<path class="c45" d="M480.9 306.3l-15.4 -7.9l12.2 -3.1l15.4 7.9z"/>
<path class="c20" d="M827.9 459.8l-15.4 -7.1l12.2 -4.2l15.3 7.2z"/>
<path class="c43" d="M523.9 319.8l-15.4 -8.5l12.2 -2.9l15.4 8.5z"/>
<path class="c25" d="M643.8 426.8l-15.4 -6.4l12.2 -4.4l15.4 6.4z"/>
<path class="c48" d="M563.7 291.4l-15.4 -10.3l12.3 -1.8l15.3 10.3z"/>
<path class="c28" d="M502.6 408.4l-15.4 -5.7l12.2 -4.6l15.4 5.7z"/>
<path class="c38" d="M456.4 352.2l-15.4 -6.6l12.2 -4l15.4 6.6z"/>
<path class="c52" d="M225.8 262.9l-15.4 -4.4l12.3 -4.2l15.4 4.5z"/>
<path class="c25" d="M741.9 431.6l-15.3 -9.4l12.2 -3.3l15.4 9.4z"/>
<path class="c27" d="M573.2 417l-15.4 -6l12.2 -4.5l15.4 6z"/>
<path class="c31" d="M333.6 394.3l-15.4 -5l12.3 -4.8l15.4 5z"/>
<path class="c32" d="M613 389.1l-15.4 -8.1l12.3 -3.6l15.3 8.1z"/>
<path class="c31" d="M235.3 389.9l-15.4 -4.6l12.2 -5l15.4 4.5z"/>
<path class="c25" d="M769.5 427.9l-15.3 -14.9l12.2 -1.2l15.3 14.9z"/>
<path class="c33" d="M668.2 379.6l-15.4 -10.7l12.3 -2.4l15.3 10.6z"/>
<path class="c41" d="M315.1 332.6l-15.4 -5.4l12.2 -4.4l15.4 5.4z"/>
<path class="c27" d="M699 416.5l-15.4 -9l12.2 -3.3l15.4 8.9z"/>
<path class="c42" d="M622.1 323.1l-15.4 -11.5l12.2 -1.6l15.4 11.6z"/>
<path class="c22" d="M784.9 445.4l-15.4 -12.5l12.2 -2.2l15.4 12.5z"/>
<path class="c30" d="M656 402.3l-15.4 -8.5l12.2 -3.5l15.4 8.5z"/>
<path class="c49" d="M367.2 280.3l-15.4 -6.3l12.3 -3.6l15.3 6.3z"/>
<path class="c60" d="M348.7 218.7l-15.4 -6.2l12.2 -2.8l15.4 6.2z"/>
<path class="c40" d="M385.8 341.3l-15.4 -6l12.2 -4.3l15.4 6.1z"/>
<path class="c14" d="M858.6 496.5l-15.4 -13.8l12.2 -2l15.4 13.8z"/>
<path class="c51" d="M296.5 269.9l-15.4 -5.4l12.3 -3.9l15.4 5.4z"/>
<path class="c19" d="M870.8 470.4l-15.4 -7.4l12.2 -4.1l15.4 7.4z"/>
<path class="c28" d="M726.6 411l-15.4 -11.6l12.2 -2.3l15.4 11.6z"/>
<path class="c22" d="M757.3 447l-15.4 -6.8l12.3 -4.3l15.3 6.9z"/>
<path class="c42" d="M216.7 326.2l-15.4 -4.6l12.3 -4.7l15.4 4.5z"/>
<path class="c61" d="M278 207.6l-15.4 -4.9l12.2 -3.2l15.4 4.9z"/>
<path class="c30" d="M404.3 400.2l-15.4 -5.3l12.2 -4.7l15.4 5.3z"/>
<path class="c18" d="M843.2 474.9l-15.3 -10.4l12.1 -3l15.4 10.3z"/>
<path class="c51" d="M520.7 273.1l-15.4 -9.5l12.3 -2l15.3 9.5z"/>
<path class="c36" d="M499.4 362.1l-15.4 -7l12.3 -3.9l15.3 7z"/>
<path class="c23" d="M784.9 443.2l-15.4 -15.3l12.2 -1.2l15.4 15.4z"/>
<path class="c35" d="M695.8 372.1l-15.4 -13.3l12.2 -1.3l15.4 13.2z"/>
<path class="c32" d="M207.6 390.4l-15.4 -4.5l12.3 -5.1l15.4 4.5z"/>
<path class="c58" d="M391.7 229.5l-15.4 -7l12.2 -2.6l15.4 7z"/>
<path class="c24" d="M686.8 435.4l-15.4 -6.6l12.2 -4.3l15.4 6.5z"/>
<path class="c36" d="M625.2 361.2l-15.3 -10l12.2 -2.7l15.4 10.1z"/>
<path class="c31" d="M306 394.2l-15.4 -4.9l12.2 -4.9l15.4 4.9z"/>
<path class="c48" d="M410.2 290.3l-15.4 -7l12.3 -3.4l15.4 7z"/>
<path class="c29" d="M475 407.3l-15.4 -5.6l12.2 -4.7l15.4 5.7z"/>
<path class="c54" d="M477.7 256.7l-15.4 -8.7l12.3 -2.2l15.3 8.7z"/>
<path class="c56" d="M434.7 242.2l-15.4 -7.9l12.3 -2.4l15.3 7.9z"/>
<path class="c26" d="M616.2 424.9l-15.4 -6.2l12.2 -4.5l15.4 6.2z"/>
<path class="c28" d="M545.6 415.5l-15.4 -5.9l12.2 -4.5l15.4 5.9z"/>
<path class="c41" d="M287.4 331.7l-15.4 -5.2l12.3 -4.5l15.4 5.2z"/>
<path class="c21" d="M800.3 456.8l-15.4 -7l12.2 -4.2l15.4 7.1z"/>
<path class="c21" d="M800.3 457.5l-15.4 -9.9l12.2 -3.2l15.4 10z"/>
<path class="c38" d="M428.8 349.7l-15.4 -6.4l12.2 -4.1l15.4 6.4z"/>
<path class="c21" d="M800.3 458.2l-15.4 -12.8l12.2 -2.2l15.4 12.9z"/>
<path class="c35" d="M542.4 372.9l-15.4 -7.4l12.3 -3.8l15.3 7.4z"/>
<path class="c42" d="M189.1 326.4l-15.5 -4.3l12.3 -4.8l15.4 4.3z"/>
<path class="c20" d="M800.3 459l-15.4 -15.8l12.2 -1.1l15.4 15.7z"/>
<path class="c46" d="M579.1 302.2l-15.4 -10.8l12.2 -1.8l15.4 10.8z"/>
<path class="c39" d="M582.3 344.2l-15.4 -9.4l12.2 -2.8l15.4 9.4z"/>
<path class="c40" d="M358.1 339.6l-15.4 -5.8l12.3 -4.4l15.4 5.9z"/>
<path class="c41" d="M637.5 335.2l-15.4 -12.1l12.2 -1.5l15.4 12z"/>
<path class="c46" d="M453.2 301.7l-15.3 -7.6l12.2 -3.3l15.4 7.6z"/>
<path class="c52" d="M268.9 268.6l-15.4 -5.1l12.2 -4l15.4 5z"/>
<path class="c50" d="M339.6 277.7l-15.4 -6l12.2 -3.7l15.4 6z"/>
<path class="c32" d="M683.6 390.6l-15.4 -11l12.2 -2.5l15.4 11z"/>
<path class="c30" d="M376.7 399.8l-15.4 -5.2l12.2 -4.9l15.4 5.2z"/>
<path class="c32" d="M180 391l-15.5 -4.4l12.3 -5.1l15.4 4.4z"/>
<path class="c62" d="M250.3 206.1l-15.4 -4.5l12.3 -3.4l15.4 4.5z"/>
<path class="c60" d="M321 215.5l-15.4 -5.7l12.3 -3.1l15.4 5.8z"/>
<path class="c24" d="M757.3 441.1l-15.4 -9.5l12.3 -3.3l15.3 9.5z"/>
<path class="c42" d="M539.3 328.6l-15.4 -8.8l12.2 -2.9l15.4 8.8z"/>
<path class="c27" d="M741.9 422.9l-15.3 -11.9l12.2 -2.3l15.4 11.9z"/>
<path class="c44" d="M496.3 314.4l-15.4 -8.1l12.2 -3.1l15.4 8.1z"/>
<path class="c33" d="M585.4 384.7l-15.4 -7.9l12.3 -3.7l15.3 7.9z"/>
<path class="c33" d="M711.2 385.8l-15.4 -13.7l12.2 -1.4l15.4 13.7z"/>
<path class="c31" d="M278.3 394.3l-15.4 -4.8l12.3 -4.9l15.4 4.7z"/>
<path class="c23" d="M729.7 444.5l-15.3 -6.8l12.2 -4.3l15.3 6.8z"/>
<path class="c18" d="M815.7 475.1l-15.4 -16.1l12.2 -1.2l15.4 16.2z"/>
<path class="c19" d="M843.2 467.1l-15.3 -7.3l12.1 -4.1l15.4 7.3z"/>
<path class="c26" d="M714.4 425.6l-15.4 -9.1l12.2 -3.4l15.4 9.1z"/>
<path class="c31" d="M628.4 397.4l-15.4 -8.3l12.2 -3.6l15.4 8.3z"/>
<path class="c29" d="M671.4 411l-15.4 -8.7l12.2 -3.5l15.4 8.7z"/>
<path class="c29" d="M447.3 406.4l-15.4 -5.5l12.3 -4.7l15.4 5.5z"/>
<path class="c37" d="M471.8 359.1l-15.4 -6.9l12.2 -4l15.4 6.9z"/>
<path class="c42" d="M259.8 331.2l-15.4 -5l12.2 -4.6l15.4 4.9z"/>
<path class="c16" d="M858.6 485.5l-15.4 -10.6l12.2 -3.1l15.4 10.6z"/>
<path class="c25" d="M659.2 433.2l-15.4 -6.4l12.2 -4.4l15.4 6.4z"/>
<path class="c15" d="M831 491.7l-15.3 -16.6l12.2 -1.1l15.3 16.5z"/>
<path class="c28" d="M518 414.2l-15.4 -5.8l12.2 -4.6l15.4 5.8z"/>
<path class="c50" d="M536.1 283.1l-15.4 -10l12.2 -2l15.4 10z"/>
<path class="c32" d="M152.3 391.8l-15.4 -4.2l12.2 -5.2l15.4 4.2z"/>
<path class="c27" d="M588.6 423.2l-15.4 -6.2l12.2 -4.5l15.4 6.2z"/>
<path class="c19" d="M815.7 471.4l-15.4 -13.2l12.2 -2.1l15.4 13.1z"/>
<path class="c49" d="M382.6 286.9l-15.4 -6.6l12.2 -3.6l15.4 6.6z"/>
<path class="c59" d="M364.1 225.3l-15.4 -6.6l12.2 -2.8l15.4 6.6z"/>
<path class="c35" d="M640.6 371.6l-15.4 -10.4l12.3 -2.6l15.3 10.3z"/>
<path class="c31" d="M349 399.4l-15.4 -5.1l12.3 -4.8l15.4 5.1z"/>
<path class="c52" d="M241.2 267.7l-15.4 -4.8l12.3 -4.1l15.4 4.7z"/>
<path class="c39" d="M401.1 347.5l-15.3 -6.2l12.2 -4.2l15.4 6.2z"/>
<path class="c41" d="M330.5 338.2l-15.4 -5.6l12.2 -4.4l15.4 5.6z"/>
<path class="c22" d="M772.7 454l-15.4 -7l12.2 -4.2l15.4 7z"/>
<path class="c31" d="M726.6 399.8l-15.4 -14l12.2 -1.4l15.4 14.1z"/>
<path class="c31" d="M250.7 394.6l-15.4 -4.7l12.2 -5.1l15.4 4.7z"/>
<path class="c13" d="M846.4 508.7l-15.4 -17l12.2 -1.2l15.4 17z"/>
<path class="c39" d="M652.8 347.6l-15.3 -12.4l12.2 -1.6l15.4 12.4z"/>
<path class="c51" d="M311.9 275.6l-15.4 -5.7l12.3 -3.9l15.4 5.7z"/>
<path class="c36" d="M514.8 369.4l-15.4 -7.3l12.2 -3.9l15.4 7.3z"/>
<path class="c45" d="M594.5 313.3l-15.4 -11.1l12.2 -1.8l15.4 11.2z"/>
<path class="c20" d="M815.7 467.7l-15.4 -10.2l12.2 -3.1l15.4 10.1z"/>
<path class="c53" d="M493.1 265.8l-15.4 -9.1l12.2 -2.2l15.4 9.1z"/>
<path class="c25" d="M757.3 435.2l-15.4 -12.3l12.3 -2.3l15.3 12.3z"/>
<path class="c57" d="M407.1 236.9l-15.4 -7.4l12.2 -2.6l15.4 7.4z"/>
<path class="c30" d="M699 401.9l-15.4 -11.3l12.2 -2.5l15.4 11.3z"/>
<path class="c61" d="M293.4 213l-15.4 -5.4l12.2 -3.2l15.4 5.4z"/>
<path class="c30" d="M419.7 405.7l-15.4 -5.5l12.2 -4.7l15.4 5.4z"/>
<path class="c42" d="M232.1 330.9l-15.4 -4.7l12.3 -4.8l15.4 4.8z"/>
<path class="c55" d="M450.1 250.4l-15.4 -8.2l12.2 -2.4l15.4 8.2z"/>
<path class="c47" d="M425.6 297.5l-15.4 -7.2l12.3 -3.4l15.4 7.2z"/>
<path class="c38" d="M597.6 354l-15.3 -9.8l12.2 -2.8l15.4 9.8z"/>
<path class="c24" d="M702.2 442.1l-15.4 -6.7l12.2 -4.4l15.4 6.7z"/>
<path class="c20" d="M815.7 464l-15.4 -7.2l12.2 -4.1l15.4 7.1z"/>
<path class="c17" d="M831 484.9l-15.3 -13.5l12.2 -2.2l15.3 13.5z"/>
<path class="c34" d="M557.8 380.6l-15.4 -7.7l12.2 -3.8l15.4 7.7z"/>
<path class="c22" d="M772.7 450.9l-15.4 -9.8l12.2 -3.3l15.4 9.8z"/>
<path class="c29" d="M490.4 413l-15.4 -5.7l12.2 -4.6l15.4 5.7z"/>
<path class="c26" d="M631.6 431.2l-15.4 -6.3l12.2 -4.5l15.4 6.4z"/>
<path class="c28" d="M741.9 414.3l-15.3 -14.5l12.2 -1.3l15.4 14.5z"/>
<path class="c31" d="M223 394.9l-15.4 -4.5l12.3 -5.1l15.4 4.6z"/>
<path class="c31" d="M321.4 399.2l-15.4 -5l12.2 -4.9l15.4 5z"/>
<path class="c52" d="M213.6 267.3l-15.4 -4.5l12.2 -4.3l15.4 4.4z"/>
<path class="c46" d="M468.6 309.5l-15.4 -7.8l12.3 -3.3l15.4 7.9z"/>
<path class="c41" d="M554.6 337.7l-15.3 -9.1l12.2 -2.9l15.4 9.1z"/>
<path class="c27" d="M561 421.6l-15.4 -6.1l12.2 -4.5l15.4 6z"/>
<path class="c38" d="M444.2 356.3l-15.4 -6.6l12.2 -4.1l15.4 6.6z"/>
<path class="c43" d="M511.6 322.9l-15.3 -8.5l12.2 -3.1l15.4 8.5z"/>
<path class="c41" d="M302.8 337.1l-15.4 -5.4l12.3 -4.5l15.4 5.4z"/>
<path class="c32" d="M600.8 392.8l-15.4 -8.1l12.2 -3.7l15.4 8.1z"/>
<path class="c25" d="M729.7 434.9l-15.3 -9.3l12.2 -3.4l15.3 9.4z"/>
<path class="c37" d="M668.2 360.4l-15.4 -12.8l12.3 -1.6l15.3 12.8z"/>
<path class="c40" d="M373.5 345.6l-15.4 -6l12.3 -4.3l15.4 6z"/>
<path class="c50" d="M355 284l-15.4 -6.3l12.2 -3.7l15.4 6.3z"/>
<path class="c30" d="M643.8 405.9l-15.4 -8.5l12.2 -3.6l15.4 8.5z"/>
<path class="c28" d="M686.8 420l-15.4 -9l12.2 -3.5l15.4 9z"/>
<path class="c48" d="M551.5 293.4l-15.4 -10.3l12.2 -2l15.4 10.3z"/>
<path class="c42" d="M204.5 331l-15.4 -4.6l12.2 -4.8l15.4 4.6z"/>
<path class="c19" d="M858.6 474.5l-15.4 -7.4l12.2 -4.1l15.4 7.4z"/>
<path class="c23" d="M745.1 451.3l-15.4 -6.8l12.2 -4.3l15.4 6.8z"/>
<path class="c51" d="M284.3 273.9l-15.4 -5.3l12.2 -4.1l15.4 5.4z"/>
<path class="c34" d="M656 382.2l-15.4 -10.6l12.2 -2.7l15.4 10.7z"/>
<path class="c60" d="M336.4 221.7l-15.4 -6.2l12.3 -3l15.4 6.2z"/>
<path class="c30" d="M392.1 405.1l-15.4 -5.3l12.2 -4.9l15.4 5.3z"/>
<path class="c23" d="M772.7 447.7l-15.4 -12.5l12.2 -2.3l15.4 12.5z"/>
<path class="c26" d="M757.3 429.2l-15.4 -14.9l12.3 -1.3l15.3 14.9z"/>
<path class="c43" d="M609.9 324.9l-15.4 -11.6l12.2 -1.7l15.4 11.5z"/>
<path class="c62" d="M265.7 211.1l-15.4 -5l12.3 -3.4l15.4 4.9z"/>
<path class="c32" d="M195.4 395.5l-15.4 -4.5l12.2 -5.1l15.4 4.5z"/>
<path class="c15" d="M846.4 498.7l-15.4 -13.8l12.2 -2.2l15.4 13.8z"/>
<path class="c36" d="M487.2 366.1l-15.4 -7l12.2 -4l15.4 7z"/>
<path class="c29" d="M714.4 413.5l-15.4 -11.6l12.2 -2.5l15.4 11.6z"/>
<path class="c31" d="M293.7 399.2l-15.4 -4.9l12.3 -5l15.4 4.9z"/>
<path class="c18" d="M831 478.1l-15.3 -10.4l12.2 -3.2l15.3 10.4z"/>
<path class="c24" d="M674.6 439.8l-15.4 -6.6l12.2 -4.4l15.4 6.6z"/>
<path class="c29" d="M462.7 412l-15.4 -5.6l12.3 -4.7l15.4 5.6z"/>
<path class="c51" d="M508.5 275.3l-15.4 -9.5l12.2 -2.2l15.4 9.5z"/>
<path class="c26" d="M604 429.4l-15.4 -6.2l12.2 -4.5l15.4 6.2z"/>
<path class="c48" d="M398 293.8l-15.4 -6.9l12.2 -3.6l15.4 7z"/>
<path class="c28" d="M533.4 420.1l-15.4 -5.9l12.2 -4.6l15.4 5.9z"/>
<path class="c41" d="M275.2 336.4l-15.4 -5.2l12.2 -4.7l15.4 5.2z"/>
<path class="c59" d="M379.4 232.3l-15.3 -7l12.2 -2.8l15.4 7z"/>
<path class="c37" d="M613 364l-15.4 -10l12.3 -2.8l15.3 10z"/>
<path class="c42" d="M176.8 331.4l-15.4 -4.4l12.2 -4.9l15.5 4.3z"/>
<path class="c21" d="M788.1 461.1l-15.4 -7.1l12.2 -4.2l15.4 7z"/>
<path class="c35" d="M683.6 373.7l-15.4 -13.3l12.2 -1.6l15.4 13.3z"/>
<path class="c39" d="M416.5 353.9l-15.4 -6.4l12.3 -4.2l15.4 6.4z"/>
<path class="c24" d="M772.7 444.6l-15.4 -15.4l12.2 -1.3l15.4 15.3z"/>
<path class="c35" d="M530.2 376.9l-15.4 -7.5l12.2 -3.9l15.4 7.4z"/>
<path class="c40" d="M345.9 344l-15.4 -5.8l12.2 -4.4l15.4 5.8z"/>
<path class="c54" d="M465.5 259.1l-15.4 -8.7l12.2 -2.4l15.4 8.7z"/>
<path class="c32" d="M167.7 396.2l-15.4 -4.4l12.2 -5.2l15.5 4.4z"/>
<path class="c21" d="M788.1 460.8l-15.4 -9.9l12.2 -3.3l15.4 9.9z"/>
<path class="c57" d="M422.5 244.8l-15.4 -7.9l12.2 -2.6l15.4 7.9z"/>
<path class="c30" d="M364.4 404.6l-15.4 -5.2l12.3 -4.8l15.4 5.2z"/>
<path class="c52" d="M256.6 272.7l-15.4 -5l12.3 -4.2l15.4 5.1z"/>
<path class="c51" d="M327.3 281.6l-15.4 -6l12.3 -3.9l15.4 6z"/>
<path class="c47" d="M441 305.1l-15.4 -7.6l12.3 -3.4l15.3 7.6z"/>
<path class="c31" d="M266.1 399.3l-15.4 -4.7l12.2 -5.1l15.4 4.8z"/>
<path class="c21" d="M788.1 460.6l-15.4 -12.9l12.2 -2.3l15.4 12.8z"/>
<path class="c40" d="M570 347.2l-15.4 -9.5l12.3 -2.9l15.4 9.4z"/>
<path class="c62" d="M238.1 209.8l-15.4 -4.5l12.2 -3.7l15.4 4.5z"/>
<path class="c23" d="M717.5 448.8l-15.3 -6.7l12.2 -4.4l15.3 6.8z"/>
<path class="c33" d="M573.2 388.5l-15.4 -7.9l12.2 -3.8l15.4 7.9z"/>
<path class="c47" d="M566.9 304.1l-15.4 -10.7l12.2 -2l15.4 10.8z"/>
<path class="c24" d="M745.1 444.5l-15.4 -9.6l12.2 -3.3l15.4 9.5z"/>
<path class="c61" d="M308.8 218.8l-15.4 -5.8l12.2 -3.2l15.4 5.7z"/>
<path class="c21" d="M788.1 460.3l-15.4 -15.7l12.2 -1.4l15.4 15.8z"/>
<path class="c32" d="M671.4 393.2l-15.4 -11l12.2 -2.6l15.4 11z"/>
<path class="c20" d="M831 471.3l-15.3 -7.3l12.2 -4.2l15.3 7.3z"/>
<path class="c45" d="M484 317.7l-15.4 -8.2l12.3 -3.2l15.4 8.1z"/>
<path class="c42" d="M625.2 336.9l-15.3 -12l12.2 -1.8l15.4 12.1z"/>
<path class="c42" d="M527 331.7l-15.4 -8.8l12.3 -3.1l15.4 8.8z"/>
<path class="c29" d="M435.1 411.2l-15.4 -5.5l12.2 -4.8l15.4 5.5z"/>
<path class="c27" d="M729.7 425.4l-15.3 -11.9l12.2 -2.5l15.3 11.9z"/>
<path class="c31" d="M616.2 401.1l-15.4 -8.3l12.2 -3.7l15.4 8.3z"/>
<path class="c42" d="M247.5 335.9l-15.4 -5l12.3 -4.7l15.4 5z"/>
<path class="c27" d="M702.2 429.1l-15.4 -9.1l12.2 -3.5l15.4 9.1z"/>
<path class="c25" d="M647 437.7l-15.4 -6.5l12.2 -4.4l15.4 6.4z"/>
<path class="c37" d="M459.6 363.2l-15.4 -6.9l12.2 -4.1l15.4 6.9z"/>
<path class="c29" d="M659.2 414.6l-15.4 -8.7l12.2 -3.6l15.4 8.7z"/>
<path class="c28" d="M505.8 418.9l-15.4 -5.9l12.2 -4.6l15.4 5.8z"/>
<path class="c33" d="M699 387.3l-15.4 -13.6l12.2 -1.6l15.4 13.7z"/>
<path class="c27" d="M576.4 427.7l-15.4 -6.1l12.2 -4.6l15.4 6.2z"/>
<path class="c17" d="M846.4 488.7l-15.4 -10.6l12.2 -3.2l15.4 10.6z"/>
<path class="c19" d="M803.5 476.5l-15.4 -16.2l12.2 -1.3l15.4 16.1z"/>
<path class="c31" d="M336.8 404.3l-15.4 -5.1l12.2 -4.9l15.4 5.1z"/>
<path class="c31" d="M238.4 399.6l-15.4 -4.7l12.3 -5l15.4 4.7z"/>
<path class="c41" d="M318.2 342.7l-15.4 -5.6l12.3 -4.5l15.4 5.6z"/>
<path class="c52" d="M229 272l-15.4 -4.7l12.2 -4.4l15.4 4.8z"/>
<path class="c39" d="M388.9 351.8l-15.4 -6.2l12.3 -4.3l15.3 6.2z"/>
<path class="c49" d="M370.4 290.6l-15.4 -6.6l12.2 -3.7l15.4 6.6z"/>
<path class="c22" d="M760.5 458.3l-15.4 -7l12.2 -4.3l15.4 7z"/>
<path class="c50" d="M523.9 285.2l-15.4 -9.9l12.2 -2.2l15.4 10z"/>
<path class="c19" d="M803.5 473.7l-15.4 -13.1l12.2 -2.4l15.4 13.2z"/>
<path class="c60" d="M351.8 228.3l-15.4 -6.6l12.3 -3l15.4 6.6z"/>
<path class="c36" d="M628.4 374.4l-15.4 -10.4l12.2 -2.8l15.4 10.4z"/>
<path class="c16" d="M818.8 493l-15.3 -16.5l12.2 -1.4l15.3 16.6z"/>
<path class="c51" d="M299.7 279.6l-15.4 -5.7l12.2 -4l15.4 5.7z"/>
<path class="c36" d="M502.6 373.4l-15.4 -7.3l12.2 -4l15.4 7.3z"/>
<path class="c30" d="M407.5 410.5l-15.4 -5.4l12.2 -4.9l15.4 5.5z"/>
<path class="c42" d="M219.9 335.8l-15.4 -4.8l12.2 -4.8l15.4 4.7z"/>
<path class="c20" d="M803.5 471l-15.4 -10.2l12.2 -3.3l15.4 10.2z"/>
<path class="c24" d="M689.9 446.4l-15.3 -6.6l12.2 -4.4l15.4 6.7z"/>
<path class="c40" d="M640.6 349.3l-15.4 -12.4l12.3 -1.7l15.3 12.4z"/>
<path class="c31" d="M714.4 401.4l-15.4 -14.1l12.2 -1.5l15.4 14z"/>
<path class="c62" d="M281.1 216.4l-15.4 -5.3l12.3 -3.5l15.4 5.4z"/>
<path class="c13" d="M834.2 510l-15.4 -17l12.2 -1.3l15.4 17z"/>
<path class="c53" d="M480.9 268.2l-15.4 -9.1l12.2 -2.4l15.4 9.1z"/>
<path class="c58" d="M394.8 239.7l-15.4 -7.4l12.3 -2.8l15.4 7.4z"/>
<path class="c48" d="M413.4 301.1l-15.4 -7.3l12.2 -3.5l15.4 7.2z"/>
<path class="c25" d="M745.1 437.6l-15.4 -12.2l12.2 -2.5l15.4 12.3z"/>
<path class="c45" d="M582.3 315.3l-15.4 -11.2l12.2 -1.9l15.4 11.1z"/>
<path class="c31" d="M686.8 404.5l-15.4 -11.3l12.2 -2.6l15.4 11.3z"/>
<path class="c31" d="M210.8 400.1l-15.4 -4.6l12.2 -5.1l15.4 4.5z"/>
<path class="c29" d="M478.1 417.8l-15.4 -5.8l12.3 -4.7l15.4 5.7z"/>
<path class="c31" d="M309.2 404.2l-15.5 -5l12.3 -5l15.4 5z"/>
<path class="c20" d="M803.5 468.3l-15.4 -7.2l12.2 -4.3l15.4 7.2z"/>
<path class="c39" d="M585.4 356.9l-15.4 -9.7l12.3 -3l15.3 9.8z"/>
<path class="c26" d="M619.4 435.7l-15.4 -6.3l12.2 -4.5l15.4 6.3z"/>
<path class="c56" d="M437.9 253l-15.4 -8.2l12.2 -2.6l15.4 8.2z"/>
<path class="c34" d="M545.6 384.5l-15.4 -7.6l12.2 -4l15.4 7.7z"/>
<path class="c53" d="M201.3 271.8l-15.4 -4.5l12.3 -4.5l15.4 4.5z"/>
<path class="c27" d="M548.8 426.2l-15.4 -6.1l12.2 -4.6l15.4 6.1z"/>
<path class="c23" d="M760.5 454.2l-15.4 -9.7l12.2 -3.4l15.4 9.8z"/>
<path class="c38" d="M431.9 360.6l-15.4 -6.7l12.3 -4.2l15.4 6.6z"/>
<path class="c41" d="M290.6 341.7l-15.4 -5.3l12.2 -4.7l15.4 5.4z"/>
<path class="c46" d="M456.4 312.9l-15.4 -7.8l12.2 -3.4l15.4 7.8z"/>
<path class="c17" d="M818.8 487.2l-15.3 -13.5l12.2 -2.3l15.3 13.5z"/>
<path class="c41" d="M542.4 340.8l-15.4 -9.1l12.3 -3.1l15.3 9.1z"/>
<path class="c40" d="M361.3 350l-15.4 -6l12.2 -4.4l15.4 6z"/>
<path class="c32" d="M588.6 396.6l-15.4 -8.1l12.2 -3.8l15.4 8.1z"/>
<path class="c44" d="M499.4 326.2l-15.4 -8.5l12.3 -3.3l15.3 8.5z"/>
<path class="c42" d="M192.2 335.9l-15.4 -4.5l12.3 -5l15.4 4.6z"/>
<path class="c25" d="M717.5 438.4l-15.3 -9.3l12.2 -3.5l15.3 9.3z"/>
<path class="c50" d="M342.7 287.9l-15.4 -6.3l12.3 -3.9l15.4 6.3z"/>
<path class="c29" d="M729.7 415.9l-15.3 -14.5l12.2 -1.6l15.3 14.5z"/>
<path class="c30" d="M379.8 409.9l-15.4 -5.3l12.3 -4.8l15.4 5.3z"/>
<path class="c23" d="M732.9 455.7l-15.4 -6.9l12.2 -4.3l15.4 6.8z"/>
<path class="c30" d="M631.6 409.6l-15.4 -8.5l12.2 -3.7l15.4 8.5z"/>
<path class="c28" d="M674.6 423.6l-15.4 -9l12.2 -3.6l15.4 9z"/>
<path class="c19" d="M846.4 478.7l-15.4 -7.4l12.2 -4.2l15.4 7.4z"/>
<path class="c52" d="M272 278.1l-15.4 -5.4l12.3 -4.1l15.4 5.3z"/>
<path class="c32" d="M183.1 400.7l-15.4 -4.5l12.3 -5.2l15.4 4.5z"/>
<path class="c31" d="M281.5 404.2l-15.4 -4.9l12.2 -5l15.4 4.9z"/>
<path class="c60" d="M324.2 224.9l-15.4 -6.1l12.2 -3.3l15.4 6.2z"/>
<path class="c38" d="M656 362.2l-15.4 -12.9l12.2 -1.7l15.4 12.8z"/>
<path class="c34" d="M643.8 385l-15.4 -10.6l12.2 -2.8l15.4 10.6z"/>
<path class="c49" d="M539.3 295.6l-15.4 -10.4l12.2 -2.1l15.4 10.3z"/>
<path class="c37" d="M475 370.2l-15.4 -7l12.2 -4.1l15.4 7z"/>
<path class="c62" d="M253.5 214.7l-15.4 -4.9l12.2 -3.7l15.4 5z"/>
<path class="c29" d="M450.5 416.8l-15.4 -5.6l12.2 -4.8l15.4 5.6z"/>
<path class="c25" d="M662.4 444.2l-15.4 -6.5l12.2 -4.5l15.4 6.6z"/>
<path class="c24" d="M760.5 450.2l-15.4 -12.6l12.2 -2.4l15.4 12.5z"/>
<path class="c19" d="M818.8 481.4l-15.3 -10.4l12.2 -3.3l15.3 10.4z"/>
<path class="c41" d="M262.9 341.1l-15.4 -5.2l12.3 -4.7l15.4 5.2z"/>
<path class="c28" d="M521.1 424.8l-15.3 -5.9l12.2 -4.7l15.4 5.9z"/>
<path class="c26" d="M591.8 433.9l-15.4 -6.2l12.2 -4.5l15.4 6.2z"/>
<path class="c42" d="M164.5 336.4l-15.4 -4.3l12.3 -5.1l15.4 4.4z"/>
<path class="c29" d="M702.2 416.1l-15.4 -11.6l12.2 -2.6l15.4 11.6z"/>
<path class="c44" d="M597.6 326.9l-15.3 -11.6l12.2 -2l15.4 11.6z"/>
<path class="c15" d="M834.2 501l-15.4 -13.8l12.2 -2.3l15.4 13.8z"/>
<path class="c27" d="M745.1 430.8l-15.4 -14.9l12.2 -1.6l15.4 14.9z"/>
<path class="c21" d="M775.9 465.4l-15.4 -7.1l12.2 -4.3l15.4 7.1z"/>
<path class="c49" d="M385.8 297.6l-15.4 -7l12.2 -3.7l15.4 6.9z"/>
<path class="c39" d="M404.3 358.2l-15.4 -6.4l12.2 -4.3l15.4 6.4z"/>
<path class="c59" d="M367.2 235.3l-15.4 -7l12.3 -3l15.3 7z"/>
<path class="c30" d="M352.2 409.5l-15.4 -5.2l12.2 -4.9l15.4 5.2z"/>
<path class="c40" d="M333.6 348.5l-15.4 -5.8l12.3 -4.5l15.4 5.8z"/>
<path class="c52" d="M496.3 277.7l-15.4 -9.5l12.2 -2.4l15.4 9.5z"/>
<path class="c35" d="M518 380.9l-15.4 -7.5l12.2 -4l15.4 7.5z"/>
<path class="c37" d="M600.8 366.9l-15.4 -10l12.2 -2.9l15.4 10z"/>
<path class="c31" d="M253.9 404.4l-15.5 -4.8l12.3 -5l15.4 4.7z"/>
<path class="c52" d="M244.4 277.1l-15.4 -5.1l12.2 -4.3l15.4 5z"/>
<path class="c22" d="M775.9 464.2l-15.4 -10l12.2 -3.3l15.4 9.9z"/>
<path class="c51" d="M315.1 285.6l-15.4 -6l12.2 -4l15.4 6z"/>
<path class="c57" d="M410.2 247.6l-15.4 -7.9l12.3 -2.8l15.4 7.9z"/>
<path class="c55" d="M453.2 261.7l-15.3 -8.7l12.2 -2.6l15.4 8.7z"/>
<path class="c36" d="M671.4 375.4l-15.4 -13.2l12.2 -1.8l15.4 13.3z"/>
<path class="c23" d="M705.3 453.2l-15.4 -6.8l12.3 -4.3l15.3 6.7z"/>
<path class="c47" d="M428.8 308.6l-15.4 -7.5l12.2 -3.6l15.4 7.6z"/>
<path class="c24" d="M760.5 446.1l-15.4 -15.3l12.2 -1.6l15.4 15.4z"/>
<path class="c29" d="M422.9 416l-15.4 -5.5l12.2 -4.8l15.4 5.5z"/>
<path class="c63" d="M225.8 213.6l-15.4 -4.5l12.3 -3.8l15.4 4.5z"/>
<path class="c33" d="M561 392.4l-15.4 -7.9l12.2 -3.9l15.4 7.9z"/>
<path class="c20" d="M818.8 475.5l-15.3 -7.2l12.2 -4.3l15.3 7.3z"/>
<path class="c40" d="M557.8 350.3l-15.4 -9.5l12.2 -3.1l15.4 9.5z"/>
<path class="c42" d="M235.3 340.7l-15.4 -4.9l12.2 -4.9l15.4 5z"/>
<path class="c22" d="M775.9 463l-15.4 -12.8l12.2 -2.5l15.4 12.9z"/>
<path class="c24" d="M732.9 448l-15.4 -9.6l12.2 -3.5l15.4 9.6z"/>
<path class="c61" d="M296.5 222.2l-15.4 -5.8l12.3 -3.4l15.4 5.8z"/>
<path class="c45" d="M471.8 321.1l-15.4 -8.2l12.2 -3.4l15.4 8.2z"/>
<path class="c25" d="M634.8 442.2l-15.4 -6.5l12.2 -4.5l15.4 6.5z"/>
<path class="c43" d="M514.8 335l-15.4 -8.8l12.2 -3.3l15.4 8.8z"/>
<path class="c28" d="M493.5 423.6l-15.4 -5.8l12.3 -4.8l15.4 5.9z"/>
<path class="c31" d="M604 404.9l-15.4 -8.3l12.2 -3.8l15.4 8.3z"/>
<path class="c33" d="M659.2 396l-15.4 -11l12.2 -2.8l15.4 11z"/>
<path class="c38" d="M447.3 367.4l-15.4 -6.8l12.3 -4.3l15.4 6.9z"/>
<path class="c27" d="M689.9 432.7l-15.3 -9.1l12.2 -3.6l15.4 9.1z"/>
<path class="c27" d="M564.2 432.3l-15.4 -6.1l12.2 -4.6l15.4 6.1z"/>
<path class="c48" d="M554.6 306.3l-15.3 -10.7l12.2 -2.2l15.4 10.7z"/>
<path class="c29" d="M647 418.3l-15.4 -8.7l12.2 -3.7l15.4 8.7z"/>
<path class="c31" d="M324.6 409.3l-15.4 -5.1l12.2 -5l15.4 5.1z"/>
<path class="c31" d="M226.2 404.7l-15.4 -4.6l12.2 -5.2l15.4 4.7z"/>
<path class="c42" d="M613 338.9l-15.4 -12l12.3 -2l15.3 12z"/>
<path class="c28" d="M717.5 428l-15.3 -11.9l12.2 -2.6l15.3 11.9z"/>
<path class="c22" d="M775.9 461.9l-15.4 -15.8l12.2 -1.5l15.4 15.7z"/>
<path class="c41" d="M306 347.3l-15.4 -5.6l12.2 -4.6l15.4 5.6z"/>
<path class="c52" d="M216.7 276.5l-15.4 -4.7l12.3 -4.5l15.4 4.7z"/>
<path class="c39" d="M376.7 356.2l-15.4 -6.2l12.2 -4.4l15.4 6.2z"/>
<path class="c17" d="M834.2 492l-15.4 -10.6l12.2 -3.3l15.4 10.6z"/>
<path class="c22" d="M748.3 462.6l-15.4 -6.9l12.2 -4.4l15.4 7z"/>
<path class="c50" d="M358.1 294.5l-15.4 -6.6l12.3 -3.9l15.4 6.6z"/>
<path class="c34" d="M686.8 389.1l-15.4 -13.7l12.2 -1.7l15.4 13.6z"/>
<path class="c42" d="M207.6 340.7l-15.4 -4.8l12.3 -4.9l15.4 4.8z"/>
<path class="c30" d="M395.2 415.3l-15.4 -5.4l12.3 -4.8l15.4 5.4z"/>
<path class="c51" d="M287.4 283.8l-15.4 -5.7l12.3 -4.2l15.4 5.7z"/>
<path class="c20" d="M791.3 478l-15.4 -16.1l12.2 -1.6l15.4 16.2z"/>
<path class="c36" d="M490.4 377.5l-15.4 -7.3l12.2 -4.1l15.4 7.3z"/>
<path class="c60" d="M339.6 231.5l-15.4 -6.6l12.2 -3.2l15.4 6.6z"/>
<path class="c36" d="M616.2 377.3l-15.4 -10.4l12.2 -2.9l15.4 10.4z"/>
<path class="c20" d="M791.3 476.2l-15.4 -13.2l12.2 -2.4l15.4 13.1z"/>
<path class="c24" d="M677.7 450.9l-15.3 -6.7l12.2 -4.4l15.3 6.6z"/>
<path class="c51" d="M511.6 287.6l-15.3 -9.9l12.2 -2.4l15.4 9.9z"/>
<path class="c31" d="M198.5 405.2l-15.4 -4.5l12.3 -5.2l15.4 4.6z"/>
<path class="c31" d="M296.9 409.2l-15.4 -5l12.2 -5l15.5 5z"/>
<path class="c20" d="M791.3 474.4l-15.4 -10.2l12.2 -3.4l15.4 10.2z"/>
<path class="c29" d="M465.9 422.5l-15.4 -5.7l12.2 -4.8l15.4 5.8z"/>
<path class="c62" d="M268.9 220.1l-15.4 -5.4l12.2 -3.6l15.4 5.3z"/>
<path class="c26" d="M607.2 440.3l-15.4 -6.4l12.2 -4.5l15.4 6.3z"/>
<path class="c21" d="M791.3 472.6l-15.4 -7.2l12.2 -4.3l15.4 7.2z"/>
<path class="c17" d="M806.6 494.6l-15.3 -16.6l12.2 -1.5l15.3 16.5z"/>
<path class="c48" d="M401.1 304.8l-15.3 -7.2l12.2 -3.8l15.4 7.3z"/>
<path class="c27" d="M536.5 430.8l-15.4 -6l12.3 -4.7l15.4 6.1z"/>
<path class="c53" d="M189.1 276.4l-15.5 -4.4l12.3 -4.7l15.4 4.5z"/>
<path class="c34" d="M533.4 388.5l-15.4 -7.6l12.2 -4l15.4 7.6z"/>
<path class="c58" d="M382.6 242.8l-15.4 -7.5l12.2 -3l15.4 7.4z"/>
<path class="c41" d="M278.3 346.5l-15.4 -5.4l12.3 -4.7l15.4 5.3z"/>
<path class="c38" d="M419.7 364.9l-15.4 -6.7l12.2 -4.3l15.4 6.7z"/>
<path class="c54" d="M468.6 270.8l-15.4 -9.1l12.3 -2.6l15.4 9.1z"/>
<path class="c40" d="M628.4 351.3l-15.4 -12.4l12.2 -2l15.4 12.4z"/>
<path class="c31" d="M674.6 407.3l-15.4 -11.3l12.2 -2.8l15.4 11.3z"/>
<path class="c26" d="M732.9 440.3l-15.4 -12.3l12.2 -2.6l15.4 12.2z"/>
<path class="c39" d="M573.2 360l-15.4 -9.7l12.2 -3.1l15.4 9.7z"/>
<path class="c32" d="M702.2 403.2l-15.4 -14.1l12.2 -1.8l15.4 14.1z"/>
<path class="c23" d="M748.3 457.7l-15.4 -9.7l12.2 -3.5l15.4 9.7z"/>
<path class="c46" d="M570 317.5l-15.4 -11.2l12.3 -2.2l15.4 11.2z"/>
<path class="c56" d="M425.6 255.9l-15.4 -8.3l12.3 -2.8l15.4 8.2z"/>
<path class="c42" d="M180 341l-15.5 -4.6l12.3 -5l15.4 4.5z"/>
<path class="c14" d="M822 511.6l-15.4 -17l12.2 -1.6l15.4 17z"/>
<path class="c40" d="M349 354.5l-15.4 -6l12.3 -4.5l15.4 6z"/>
<path class="c46" d="M444.2 316.5l-15.4 -7.9l12.2 -3.5l15.4 7.8z"/>
<path class="c30" d="M367.6 414.8l-15.4 -5.3l12.2 -4.9l15.4 5.3z"/>
<path class="c33" d="M576.4 400.5l-15.4 -8.1l12.2 -3.9l15.4 8.1z"/>
<path class="c42" d="M530.2 344.1l-15.4 -9.1l12.2 -3.3l15.4 9.1z"/>
<path class="c23" d="M720.7 460.1l-15.4 -6.9l12.2 -4.4l15.4 6.9z"/>
<path class="c26" d="M705.3 442l-15.4 -9.3l12.3 -3.6l15.3 9.3z"/>
<path class="c44" d="M487.2 329.6l-15.4 -8.5l12.2 -3.4l15.4 8.5z"/>
<path class="c50" d="M330.5 291.9l-15.4 -6.3l12.2 -4l15.4 6.3z"/>
<path class="c19" d="M834.2 482.9l-15.4 -7.4l12.2 -4.2l15.4 7.4z"/>
<path class="c52" d="M259.8 282.5l-15.4 -5.4l12.2 -4.4l15.4 5.4z"/>
<path class="c18" d="M806.6 489.7l-15.3 -13.5l12.2 -2.5l15.3 13.5z"/>
<path class="c31" d="M269.3 409.3l-15.4 -4.9l12.2 -5.1l15.4 4.9z"/>
<path class="c30" d="M619.4 413.4l-15.4 -8.5l12.2 -3.8l15.4 8.5z"/>
<path class="c28" d="M662.4 427.2l-15.4 -8.9l12.2 -3.7l15.4 9z"/>
<path class="c29" d="M438.3 421.6l-15.4 -5.6l12.2 -4.8l15.4 5.6z"/>
<path class="c25" d="M650.1 448.7l-15.3 -6.5l12.2 -4.5l15.4 6.5z"/>
<path class="c37" d="M462.7 374.5l-15.4 -7.1l12.3 -4.2l15.4 7z"/>
<path class="c61" d="M311.9 228.4l-15.4 -6.2l12.3 -3.4l15.4 6.1z"/>
<path class="c30" d="M717.5 417.7l-15.3 -14.5l12.2 -1.8l15.3 14.5z"/>
<path class="c62" d="M241.2 218.6l-15.4 -5l12.3 -3.8l15.4 4.9z"/>
<path class="c42" d="M152.3 341.6l-15.4 -4.4l12.2 -5.1l15.4 4.3z"/>
<path class="c42" d="M250.7 345.9l-15.4 -5.2l12.2 -4.8l15.4 5.2z"/>
<path class="c28" d="M508.9 429.5l-15.4 -5.9l12.3 -4.7l15.3 5.9z"/>
<path class="c35" d="M631.6 388l-15.4 -10.7l12.2 -2.9l15.4 10.6z"/>
<path class="c26" d="M579.5 438.6l-15.3 -6.3l12.2 -4.6l15.4 6.2z"/>
<path class="c50" d="M527 298l-15.4 -10.4l12.3 -2.4l15.4 10.4z"/>
<path class="c39" d="M643.8 364.2l-15.4 -12.9l12.2 -2l15.4 12.9z"/>
<path class="c21" d="M763.7 469.7l-15.4 -7.1l12.2 -4.3l15.4 7.1z"/>
<path class="c24" d="M748.3 452.8l-15.4 -12.5l12.2 -2.7l15.4 12.6z"/>
<path class="c19" d="M806.6 484.8l-15.3 -10.4l12.2 -3.4l15.3 10.4z"/>
<path class="c30" d="M340 414.5l-15.4 -5.2l12.2 -5l15.4 5.2z"/>
<path class="c39" d="M392.1 362.7l-15.4 -6.5l12.2 -4.4l15.4 6.4z"/>
<path class="c49" d="M373.5 301.4l-15.4 -6.9l12.3 -3.9l15.4 7z"/>
<path class="c40" d="M321.4 353.2l-15.4 -5.9l12.2 -4.6l15.4 5.8z"/>
<path class="c31" d="M241.6 409.5l-15.4 -4.8l12.2 -5.1l15.5 4.8z"/>
<path class="c30" d="M689.9 418.9l-15.3 -11.6l12.2 -2.8l15.4 11.6z"/>
<path class="c16" d="M822 503.5l-15.4 -13.8l12.2 -2.5l15.4 13.8z"/>
<path class="c35" d="M505.8 385l-15.4 -7.5l12.2 -4.1l15.4 7.5z"/>
<path class="c45" d="M585.4 329.1l-15.4 -11.6l12.3 -2.2l15.3 11.6z"/>
<path class="c52" d="M232.1 281.6l-15.4 -5.1l12.3 -4.5l15.4 5.1z"/>
<path class="c59" d="M355 238.6l-15.4 -7.1l12.2 -3.2l15.4 7z"/>
<path class="c28" d="M732.9 432.6l-15.4 -14.9l12.2 -1.8l15.4 14.9z"/>
<path class="c38" d="M588.6 370l-15.4 -10l12.2 -3.1l15.4 10z"/>
<path class="c51" d="M302.8 289.8l-15.4 -6l12.3 -4.2l15.4 6z"/>
<path class="c24" d="M693.1 457.7l-15.4 -6.8l12.2 -4.5l15.4 6.8z"/>
<path class="c53" d="M484 280.3l-15.4 -9.5l12.3 -2.6l15.4 9.5z"/>
<path class="c22" d="M763.7 467.7l-15.4 -10l12.2 -3.5l15.4 10z"/>
<path class="c30" d="M410.7 420.8l-15.5 -5.5l12.3 -4.8l15.4 5.5z"/>
<path class="c42" d="M223 345.7l-15.4 -5l12.3 -4.9l15.4 4.9z"/>
<path class="c47" d="M416.5 312.3l-15.4 -7.5l12.3 -3.7l15.4 7.5z"/>
<path class="c20" d="M806.6 479.8l-15.3 -7.2l12.2 -4.3l15.3 7.2z"/>
<path class="c63" d="M213.6 217.7l-15.4 -4.5l12.2 -4.1l15.4 4.5z"/>
<path class="c34" d="M548.8 396.4l-15.4 -7.9l12.2 -4l15.4 7.9z"/>
<path class="c58" d="M398 250.6l-15.4 -7.8l12.2 -3.1l15.4 7.9z"/>
<path class="c55" d="M441 264.5l-15.4 -8.6l12.3 -2.9l15.3 8.7z"/>
<path class="c25" d="M622.5 446.7l-15.3 -6.4l12.2 -4.6l15.4 6.5z"/>
<path class="c28" d="M481.3 428.3l-15.4 -5.8l12.2 -4.7l15.4 5.8z"/>
<path class="c41" d="M545.6 353.5l-15.4 -9.4l12.2 -3.3l15.4 9.5z"/>
<path class="c25" d="M720.7 451.6l-15.4 -9.6l12.2 -3.6l15.4 9.6z"/>
<path class="c31" d="M312.3 414.3l-15.4 -5.1l12.3 -5l15.4 5.1z"/>
<path class="c27" d="M551.9 437l-15.4 -6.2l12.3 -4.6l15.4 6.1z"/>
<path class="c31" d="M213.9 409.9l-15.4 -4.7l12.3 -5.1l15.4 4.6z"/>
<path class="c62" d="M284.3 225.8l-15.4 -5.7l12.2 -3.7l15.4 5.8z"/>
<path class="c37" d="M659.2 377.4l-15.4 -13.2l12.2 -2l15.4 13.2z"/>
<path class="c38" d="M435.1 371.7l-15.4 -6.8l12.2 -4.3l15.4 6.8z"/>
<path class="c45" d="M459.6 324.7l-15.4 -8.2l12.2 -3.6l15.4 8.2z"/>
<path class="c32" d="M591.8 408.8l-15.4 -8.3l12.2 -3.9l15.4 8.3z"/>
<path class="c25" d="M748.3 447.9l-15.4 -15.3l12.2 -1.8l15.4 15.3z"/>
<path class="c43" d="M502.6 338.4l-15.4 -8.8l12.2 -3.4l15.4 8.8z"/>
<path class="c22" d="M763.7 465.7l-15.4 -12.9l12.2 -2.6l15.4 12.8z"/>
<path class="c27" d="M677.7 436.4l-15.3 -9.2l12.2 -3.6l15.3 9.1z"/>
<path class="c30" d="M634.8 422.1l-15.4 -8.7l12.2 -3.8l15.4 8.7z"/>
<path class="c41" d="M293.7 352.1l-15.4 -5.6l12.3 -4.8l15.4 5.6z"/>
<path class="c33" d="M647 399l-15.4 -11l12.2 -3l15.4 11z"/>
<path class="c53" d="M204.5 281.2l-15.4 -4.8l12.2 -4.6l15.4 4.7z"/>
<path class="c40" d="M364.4 360.8l-15.4 -6.3l12.3 -4.5l15.4 6.2z"/>
<path class="c22" d="M736.1 467l-15.4 -6.9l12.2 -4.4l15.4 6.9z"/>
<path class="c48" d="M542.4 308.7l-15.4 -10.7l12.3 -2.4l15.3 10.7z"/>
<path class="c28" d="M705.3 430.8l-15.4 -11.9l12.3 -2.8l15.3 11.9z"/>
<path class="c50" d="M345.9 298.5l-15.4 -6.6l12.2 -4l15.4 6.6z"/>
<path class="c18" d="M822 495.3l-15.4 -10.5l12.2 -3.4l15.4 10.6z"/>
<path class="c42" d="M195.4 345.8l-15.4 -4.8l12.2 -5.1l15.4 4.8z"/>
<path class="c30" d="M383 420.3l-15.4 -5.5l12.2 -4.9l15.4 5.4z"/>
<path class="c43" d="M600.8 341.1l-15.4 -12l12.2 -2.2l15.4 12z"/>
<path class="c23" d="M763.7 463.6l-15.4 -15.7l12.2 -1.8l15.4 15.8z"/>
<path class="c52" d="M275.2 288.1l-15.4 -5.6l12.2 -4.4l15.4 5.7z"/>
<path class="c36" d="M478.1 381.7l-15.4 -7.2l12.3 -4.3l15.4 7.3z"/>
<path class="c24" d="M665.5 455.4l-15.4 -6.7l12.3 -4.5l15.3 6.7z"/>
<path class="c31" d="M284.7 414.3l-15.4 -5l12.2 -5.1l15.4 5z"/>
<path class="c60" d="M327.3 235l-15.4 -6.6l12.3 -3.5l15.4 6.6z"/>
<path class="c29" d="M453.7 427.3l-15.4 -5.7l12.2 -4.8l15.4 5.7z"/>
<path class="c35" d="M674.6 391.1l-15.4 -13.7l12.2 -2l15.4 13.7z"/>
<path class="c37" d="M604 380.4l-15.4 -10.4l12.2 -3.1l15.4 10.4z"/>
<path class="c26" d="M594.9 444.9l-15.4 -6.3l12.3 -4.7l15.4 6.4z"/>
<path class="c53" d="M176.8 281.3l-15.4 -4.5l12.2 -4.8l15.5 4.4z"/>
<path class="c28" d="M524.3 435.5l-15.4 -6l12.2 -4.7l15.4 6z"/>
<path class="c21" d="M779.1 476.9l-15.4 -7.2l12.2 -4.3l15.4 7.2z"/>
<path class="c21" d="M779.1 477.9l-15.4 -10.2l12.2 -3.5l15.4 10.2z"/>
<path class="c20" d="M779.1 478.8l-15.4 -13.1l12.2 -2.7l15.4 13.2z"/>
<path class="c20" d="M779.1 479.8l-15.4 -16.2l12.2 -1.7l15.4 16.1z"/>
<path class="c62" d="M256.6 223.9l-15.4 -5.3l12.3 -3.9l15.4 5.4z"/>
<path class="c51" d="M499.4 290.2l-15.4 -9.9l12.3 -2.6l15.3 9.9z"/>
<path class="c41" d="M266.1 351.3l-15.4 -5.4l12.2 -4.8l15.4 5.4z"/>
<path class="c48" d="M388.9 308.7l-15.4 -7.3l12.3 -3.8l15.3 7.2z"/>
<path class="c35" d="M521.1 392.6l-15.3 -7.6l12.2 -4.1l15.4 7.6z"/>
<path class="c38" d="M407.5 369.3l-15.4 -6.6l12.2 -4.5l15.4 6.7z"/>
<path class="c42" d="M167.7 346.1l-15.4 -4.5l12.2 -5.2l15.5 4.6z"/>
<path class="c40" d="M336.8 359.2l-15.4 -6l12.2 -4.7l15.4 6z"/>
<path class="c59" d="M370.4 246l-15.4 -7.4l12.2 -3.3l15.4 7.5z"/>
<path class="c30" d="M355.4 419.8l-15.4 -5.3l12.2 -5l15.4 5.3z"/>
<path class="c40" d="M561 363.3l-15.4 -9.8l12.2 -3.2l15.4 9.7z"/>
<path class="c23" d="M736.1 461.3l-15.4 -9.7l12.2 -3.6l15.4 9.7z"/>
<path class="c18" d="M794.4 496.4l-15.3 -16.6l12.2 -1.8l15.3 16.6z"/>
<path class="c32" d="M662.4 410.3l-15.4 -11.3l12.2 -3l15.4 11.3z"/>
<path class="c54" d="M456.4 273.6l-15.4 -9.1l12.2 -2.8l15.4 9.1z"/>
<path class="c26" d="M720.7 443.1l-15.4 -12.3l12.2 -2.8l15.4 12.3z"/>
<path class="c31" d="M257 414.4l-15.4 -4.9l12.3 -5.1l15.4 4.9z"/>
<path class="c33" d="M564.2 404.5l-15.4 -8.1l12.2 -4l15.4 8.1z"/>
<path class="c47" d="M431.9 320.2l-15.4 -7.9l12.3 -3.7l15.4 7.9z"/>
<path class="c23" d="M708.5 464.5l-15.4 -6.8l12.2 -4.5l15.4 6.9z"/>
<path class="c57" d="M413.4 258.9l-15.4 -8.3l12.2 -3l15.4 8.3z"/>
<path class="c41" d="M616.2 353.5l-15.4 -12.4l12.2 -2.2l15.4 12.4z"/>
<path class="c52" d="M247.5 287l-15.4 -5.4l12.3 -4.5l15.4 5.4z"/>
<path class="c19" d="M822 487.2l-15.4 -7.4l12.2 -4.3l15.4 7.4z"/>
<path class="c51" d="M318.2 296.1l-15.4 -6.3l12.3 -4.2l15.4 6.3z"/>
<path class="c47" d="M557.8 319.9l-15.4 -11.2l12.2 -2.4l15.4 11.2z"/>
<path class="c33" d="M689.9 405.2l-15.3 -14.1l12.2 -2l15.4 14.1z"/>
<path class="c26" d="M693.1 445.7l-15.4 -9.3l12.2 -3.7l15.4 9.3z"/>
<path class="c42" d="M518 347.5l-15.4 -9.1l12.2 -3.4l15.4 9.1z"/>
<path class="c45" d="M475 333.2l-15.4 -8.5l12.2 -3.6l15.4 8.5z"/>
<path class="c31" d="M607.2 417.3l-15.4 -8.5l12.2 -3.9l15.4 8.5z"/>
<path class="c29" d="M426.1 426.5l-15.4 -5.7l12.2 -4.8l15.4 5.6z"/>
<path class="c15" d="M809.8 513.4l-15.4 -17l12.2 -1.8l15.4 17z"/>
<path class="c29" d="M650.1 431l-15.3 -8.9l12.2 -3.8l15.4 8.9z"/>
<path class="c25" d="M637.9 453.3l-15.4 -6.6l12.3 -4.5l15.3 6.5z"/>
<path class="c37" d="M450.5 378.8l-15.4 -7.1l12.2 -4.3l15.4 7.1z"/>
<path class="c18" d="M794.4 492.3l-15.3 -13.5l12.2 -2.6l15.3 13.5z"/>
<path class="c42" d="M238.4 350.9l-15.4 -5.2l12.3 -5l15.4 5.2z"/>
<path class="c28" d="M496.7 434.3l-15.4 -6l12.2 -4.7l15.4 5.9z"/>
<path class="c27" d="M567.3 443.2l-15.4 -6.2l12.3 -4.7l15.3 6.3z"/>
<path class="c63" d="M229 222.6l-15.4 -4.9l12.2 -4.1l15.4 5z"/>
<path class="c61" d="M299.7 232l-15.4 -6.2l12.2 -3.6l15.4 6.2z"/>
<path class="c30" d="M327.7 419.5l-15.4 -5.2l12.3 -5l15.4 5.2z"/>
<path class="c22" d="M751.5 474.1l-15.4 -7.1l12.2 -4.4l15.4 7.1z"/>
<path class="c31" d="M229.4 414.7l-15.5 -4.8l12.3 -5.2l15.4 4.8z"/>
<path class="c35" d="M619.4 391.1l-15.4 -10.7l12.2 -3.1l15.4 10.7z"/>
<path class="c39" d="M379.8 367.2l-15.4 -6.4l12.3 -4.6l15.4 6.5z"/>
<path class="c41" d="M309.2 357.9l-15.5 -5.8l12.3 -4.8l15.4 5.9z"/>
<path class="c31" d="M705.3 419.6l-15.4 -14.4l12.3 -2l15.3 14.5z"/>
<path class="c49" d="M361.3 305.5l-15.4 -7l12.2 -4l15.4 6.9z"/>
<path class="c19" d="M794.4 488.2l-15.3 -10.3l12.2 -3.5l15.3 10.4z"/>
<path class="c50" d="M514.8 300.6l-15.4 -10.4l12.2 -2.6l15.4 10.4z"/>
<path class="c52" d="M219.9 286.3l-15.4 -5.1l12.2 -4.7l15.4 5.1z"/>
<path class="c36" d="M493.5 389.2l-15.4 -7.5l12.3 -4.2l15.4 7.5z"/>
<path class="c25" d="M736.1 455.6l-15.4 -12.5l12.2 -2.8l15.4 12.5z"/>
<path class="c39" d="M631.6 366.3l-15.4 -12.8l12.2 -2.2l15.4 12.9z"/>
<path class="c30" d="M677.7 421.9l-15.3 -11.6l12.2 -3l15.3 11.6z"/>
<path class="c30" d="M398.4 425.8l-15.4 -5.5l12.2 -5l15.5 5.5z"/>
<path class="c24" d="M680.9 462.2l-15.4 -6.8l12.2 -4.5l15.4 6.8z"/>
<path class="c51" d="M290.6 294.1l-15.4 -6l12.2 -4.3l15.4 6z"/>
<path class="c42" d="M210.8 350.7l-15.4 -4.9l12.2 -5.1l15.4 5z"/>
<path class="c60" d="M342.7 242l-15.4 -7l12.3 -3.5l15.4 7.1z"/>
<path class="c16" d="M809.8 506.1l-15.4 -13.8l12.2 -2.6l15.4 13.8z"/>
<path class="c45" d="M573.2 331.5l-15.4 -11.6l12.2 -2.4l15.4 11.6z"/>
<path class="c38" d="M576.4 373.3l-15.4 -10l12.2 -3.3l15.4 10z"/>
<path class="c22" d="M751.5 471.3l-15.4 -10l12.2 -3.6l15.4 10z"/>
<path class="c20" d="M794.4 484.2l-15.3 -7.3l12.2 -4.3l15.3 7.2z"/>
<path class="c63" d="M201.3 222l-15.4 -4.6l12.3 -4.2l15.4 4.5z"/>
<path class="c28" d="M469.1 433.2l-15.4 -5.9l12.2 -4.8l15.4 5.8z"/>
<path class="c48" d="M404.3 316.2l-15.4 -7.5l12.2 -3.9l15.4 7.5z"/>
<path class="c34" d="M536.5 400.5l-15.4 -7.9l12.3 -4.1l15.4 7.9z"/>
<path class="c26" d="M610.3 451.3l-15.4 -6.4l12.3 -4.6l15.3 6.4z"/>
<path class="c31" d="M300.1 419.4l-15.4 -5.1l12.2 -5.1l15.4 5.1z"/>
<path class="c53" d="M471.8 283.1l-15.4 -9.5l12.2 -2.8l15.4 9.5z"/>
<path class="c28" d="M720.7 434.6l-15.4 -15l12.2 -1.9l15.4 14.9z"/>
<path class="c27" d="M539.7 441.7l-15.4 -6.2l12.2 -4.7l15.4 6.2z"/>
<path class="c38" d="M422.9 376.1l-15.4 -6.8l12.2 -4.4l15.4 6.8z"/>
<path class="c58" d="M385.8 253.8l-15.4 -7.8l12.2 -3.2l15.4 7.8z"/>
<path class="c25" d="M708.5 455.3l-15.4 -9.6l12.2 -3.7l15.4 9.6z"/>
<path class="c62" d="M272 229.7l-15.4 -5.8l12.3 -3.8l15.4 5.7z"/>
<path class="c56" d="M428.8 267.6l-15.4 -8.7l12.2 -3l15.4 8.6z"/>
<path class="c41" d="M533.4 356.9l-15.4 -9.4l12.2 -3.4l15.4 9.4z"/>
<path class="c41" d="M281.5 356.9l-15.4 -5.6l12.2 -4.8l15.4 5.6z"/>
<path class="c32" d="M579.5 412.8l-15.3 -8.3l12.2 -4l15.4 8.3z"/>
<path class="c46" d="M447.3 328.4l-15.4 -8.2l12.3 -3.7l15.4 8.2z"/>
<path class="c53" d="M192.2 286l-15.4 -4.7l12.3 -4.9l15.4 4.8z"/>
<path class="c44" d="M490.4 342l-15.4 -8.8l12.2 -3.6l15.4 8.8z"/>
<path class="c27" d="M665.5 440.2l-15.4 -9.2l12.3 -3.8l15.3 9.2z"/>
<path class="c40" d="M352.2 365.4l-15.4 -6.2l12.2 -4.7l15.4 6.3z"/>
<path class="c30" d="M622.5 426l-15.3 -8.7l12.2 -3.9l15.4 8.7z"/>
<path class="c22" d="M723.9 471.5l-15.4 -7l12.2 -4.4l15.4 6.9z"/>
<path class="c42" d="M183.1 350.9l-15.4 -4.8l12.3 -5.1l15.4 4.8z"/>
<path class="c37" d="M647 379.6l-15.4 -13.3l12.2 -2.1l15.4 13.2z"/>
<path class="c23" d="M751.5 468.5l-15.4 -12.9l12.2 -2.8l15.4 12.9z"/>
<path class="c30" d="M370.8 425.2l-15.4 -5.4l12.2 -5l15.4 5.5z"/>
<path class="c34" d="M634.8 402.1l-15.4 -11l12.2 -3.1l15.4 11z"/>
<path class="c26" d="M736.1 449.9l-15.4 -15.3l12.2 -2l15.4 15.3z"/>
<path class="c50" d="M333.6 302.7l-15.4 -6.6l12.3 -4.2l15.4 6.6z"/>
<path class="c52" d="M262.9 292.6l-15.4 -5.6l12.3 -4.5l15.4 5.6z"/>
<path class="c18" d="M809.8 498.8l-15.4 -10.6l12.2 -3.4l15.4 10.5z"/>
<path class="c31" d="M272.4 419.4l-15.4 -5l12.3 -5.1l15.4 5z"/>
<path class="c29" d="M693.1 433.8l-15.4 -11.9l12.2 -3l15.4 11.9z"/>
<path class="c49" d="M530.2 311.3l-15.4 -10.7l12.2 -2.6l15.4 10.7z"/>
<path class="c36" d="M465.9 386l-15.4 -7.2l12.2 -4.3l15.4 7.2z"/>
<path class="c24" d="M653.3 460l-15.4 -6.7l12.2 -4.6l15.4 6.7z"/>
<path class="c29" d="M441.5 432.2l-15.4 -5.7l12.2 -4.9l15.4 5.7z"/>
<path class="c43" d="M588.6 343.5l-15.4 -12l12.2 -2.4l15.4 12z"/>
<path class="c53" d="M164.5 286.2l-15.4 -4.4l12.3 -5l15.4 4.5z"/>
<path class="c26" d="M582.7 449.6l-15.4 -6.4l12.2 -4.6l15.4 6.3z"/>
<path class="c28" d="M512.1 440.3l-15.4 -6l12.2 -4.8l15.4 6z"/>
<path class="c61" d="M315.1 238.6l-15.4 -6.6l12.2 -3.6l15.4 6.6z"/>
<path class="c41" d="M253.9 356.3l-15.5 -5.4l12.3 -5l15.4 5.4z"/>
<path class="c23" d="M751.5 465.6l-15.4 -15.7l12.2 -2l15.4 15.7z"/>
<path class="c21" d="M766.9 481.3l-15.4 -7.2l12.2 -4.4l15.4 7.2z"/>
<path class="c37" d="M591.8 383.7l-15.4 -10.4l12.2 -3.3l15.4 10.4z"/>
<path class="c62" d="M244.4 228l-15.4 -5.4l12.2 -4l15.4 5.3z"/>
<path class="c39" d="M395.2 373.8l-15.4 -6.6l12.3 -4.5l15.4 6.6z"/>
<path class="c21" d="M766.9 481.5l-15.4 -10.2l12.2 -3.6l15.4 10.2z"/>
<path class="c49" d="M376.7 312.7l-15.4 -7.2l12.2 -4.1l15.4 7.3z"/>
<path class="c35" d="M508.9 396.9l-15.4 -7.7l12.3 -4.2l15.3 7.6z"/>
<path class="c35" d="M662.4 393.3l-15.4 -13.7l12.2 -2.2l15.4 13.7z"/>
<path class="c30" d="M343.1 424.8l-15.4 -5.3l12.3 -5l15.4 5.3z"/>
<path class="c40" d="M324.6 363.9l-15.4 -6l12.2 -4.7l15.4 6z"/>
<path class="c21" d="M766.9 481.6l-15.4 -13.1l12.2 -2.8l15.4 13.1z"/>
<path class="c52" d="M487.2 293.1l-15.4 -10l12.2 -2.8l15.4 9.9z"/>
<path class="c31" d="M244.8 419.6l-15.4 -4.9l12.2 -5.2l15.4 4.9z"/>
<path class="c21" d="M766.9 481.8l-15.4 -16.2l12.2 -2l15.4 16.2z"/>
<path class="c59" d="M358.1 249.4l-15.4 -7.4l12.3 -3.4l15.4 7.4z"/>
<path class="c23" d="M696.3 469l-15.4 -6.8l12.2 -4.5l15.4 6.8z"/>
<path class="c24" d="M723.9 465l-15.4 -9.7l12.2 -3.7l15.4 9.7z"/>
<path class="c52" d="M235.3 291.6l-15.4 -5.3l12.2 -4.7l15.4 5.4z"/>
<path class="c33" d="M551.9 408.6l-15.4 -8.1l12.3 -4.1l15.4 8.1z"/>
<path class="c40" d="M548.8 366.7l-15.4 -9.8l12.2 -3.4l15.4 9.8z"/>
<path class="c20" d="M809.8 491.6l-15.4 -7.4l12.2 -4.4l15.4 7.4z"/>
<path class="c47" d="M419.7 324.1l-15.4 -7.9l12.2 -3.9l15.4 7.9z"/>
<path class="c51" d="M306 300.4l-15.4 -6.3l12.2 -4.3l15.4 6.3z"/>
<path class="c32" d="M650.1 413.4l-15.3 -11.3l12.2 -3.1l15.4 11.3z"/>
<path class="c29" d="M413.8 431.4l-15.4 -5.6l12.3 -5l15.4 5.7z"/>
<path class="c55" d="M444.2 276.6l-15.4 -9l12.2 -3.1l15.4 9.1z"/>
<path class="c27" d="M708.5 446l-15.4 -12.2l12.2 -3l15.4 12.3z"/>
<path class="c57" d="M401.1 262.1l-15.3 -8.3l12.2 -3.2l15.4 8.3z"/>
<path class="c26" d="M680.9 449.5l-15.4 -9.3l12.2 -3.8l15.4 9.3z"/>
<path class="c31" d="M594.9 421.3l-15.4 -8.5l12.3 -4l15.4 8.5z"/>
<path class="c43" d="M505.8 351.1l-15.4 -9.1l12.2 -3.6l15.4 9.1z"/>
<path class="c42" d="M226.2 355.9l-15.4 -5.2l12.2 -5l15.4 5.2z"/>
<path class="c25" d="M625.7 457.9l-15.4 -6.6l12.2 -4.6l15.4 6.6z"/>
<path class="c45" d="M462.7 336.9l-15.4 -8.5l12.3 -3.7l15.4 8.5z"/>
<path class="c18" d="M782.3 498.4l-15.4 -16.6l12.2 -2l15.3 16.6z"/>
<path class="c29" d="M637.9 435l-15.4 -9l12.3 -3.9l15.3 8.9z"/>
<path class="c42" d="M604 355.9l-15.4 -12.4l12.2 -2.4l15.4 12.4z"/>
<path class="c28" d="M484.5 439.1l-15.4 -5.9l12.2 -4.9l15.4 6z"/>
<path class="c37" d="M438.3 383.2l-15.4 -7.1l12.2 -4.4l15.4 7.1z"/>
<path class="c47" d="M545.6 322.5l-15.4 -11.2l12.2 -2.6l15.4 11.2z"/>
<path class="c27" d="M555.1 447.9l-15.4 -6.2l12.2 -4.7l15.4 6.2z"/>
<path class="c33" d="M677.7 407.3l-15.3 -14l12.2 -2.2l15.3 14.1z"/>
<path class="c30" d="M315.5 424.6l-15.4 -5.2l12.2 -5.1l15.4 5.2z"/>
<path class="c63" d="M216.7 226.9l-15.4 -4.9l12.3 -4.3l15.4 4.9z"/>
<path class="c61" d="M287.4 235.9l-15.4 -6.2l12.3 -3.9l15.4 6.2z"/>
<path class="c16" d="M797.6 515.4l-15.3 -17l12.1 -2l15.4 17z"/>
<path class="c19" d="M782.3 495.1l-15.4 -13.5l12.2 -2.8l15.3 13.5z"/>
<path class="c41" d="M296.9 362.7l-15.4 -5.8l12.2 -4.8l15.5 5.8z"/>
<path class="c22" d="M739.3 478.6l-15.4 -7.1l12.2 -4.5l15.4 7.1z"/>
<path class="c39" d="M367.6 371.8l-15.4 -6.4l12.2 -4.6l15.4 6.4z"/>
<path class="c52" d="M207.6 291.1l-15.4 -5.1l12.3 -4.8l15.4 5.1z"/>
<path class="c49" d="M349 309.7l-15.4 -7l12.3 -4.2l15.4 7z"/>
<path class="c36" d="M607.2 394.3l-15.4 -10.6l12.2 -3.3l15.4 10.7z"/>
<path class="c36" d="M481.3 393.5l-15.4 -7.5l12.2 -4.3l15.4 7.5z"/>
<path class="c20" d="M782.3 491.8l-15.4 -10.3l12.2 -3.6l15.3 10.3z"/>
<path class="c30" d="M386.2 430.7l-15.4 -5.5l12.2 -4.9l15.4 5.5z"/>
<path class="c42" d="M198.5 355.9l-15.4 -5l12.3 -5.1l15.4 4.9z"/>
<path class="c24" d="M668.7 466.7l-15.4 -6.7l12.2 -4.6l15.4 6.8z"/>
<path class="c51" d="M278.3 298.6l-15.4 -6l12.3 -4.5l15.4 6z"/>
<path class="c51" d="M502.6 303.4l-15.4 -10.3l12.2 -2.9l15.4 10.4z"/>
<path class="c31" d="M693.1 421.8l-15.4 -14.5l12.2 -2.1l15.4 14.4z"/>
<path class="c25" d="M723.9 458.5l-15.4 -12.5l12.2 -2.9l15.4 12.5z"/>
<path class="c31" d="M665.5 425l-15.4 -11.6l12.3 -3.1l15.3 11.6z"/>
<path class="c31" d="M287.8 424.5l-15.4 -5.1l12.3 -5.1l15.4 5.1z"/>
<path class="c29" d="M456.9 438l-15.4 -5.8l12.2 -4.9l15.4 5.9z"/>
<path class="c60" d="M330.5 245.6l-15.4 -7l12.2 -3.6l15.4 7z"/>
<path class="c20" d="M782.3 488.6l-15.4 -7.3l12.2 -4.4l15.3 7.3z"/>
<path class="c40" d="M619.4 368.7l-15.4 -12.8l12.2 -2.4l15.4 12.8z"/>
<path class="c63" d="M189.1 226.4l-15.5 -4.5l12.3 -4.5l15.4 4.6z"/>
<path class="c26" d="M598.1 456l-15.4 -6.4l12.2 -4.7l15.4 6.4z"/>
<path class="c34" d="M524.3 404.7l-15.4 -7.8l12.2 -4.3l15.4 7.9z"/>
<path class="c27" d="M527.5 446.4l-15.4 -6.1l12.2 -4.8l15.4 6.2z"/>
<path class="c23" d="M739.3 475l-15.4 -10l12.2 -3.7l15.4 10z"/>
<path class="c48" d="M392.1 320.3l-15.4 -7.6l12.2 -4l15.4 7.5z"/>
<path class="c17" d="M797.6 508.9l-15.3 -13.8l12.1 -2.8l15.4 13.8z"/>
<path class="c39" d="M564.2 376.7l-15.4 -10l12.2 -3.4l15.4 10z"/>
<path class="c38" d="M410.7 380.7l-15.5 -6.9l12.3 -4.5l15.4 6.8z"/>
<path class="c46" d="M561 334.1l-15.4 -11.6l12.2 -2.6l15.4 11.6z"/>
<path class="c41" d="M269.3 361.9l-15.4 -5.6l12.2 -5l15.4 5.6z"/>
<path class="c53" d="M180 291l-15.5 -4.8l12.3 -4.9l15.4 4.7z"/>
<path class="c54" d="M459.6 286.2l-15.4 -9.6l12.2 -3l15.4 9.5z"/>
<path class="c62" d="M259.8 233.8l-15.4 -5.8l12.2 -4.1l15.4 5.8z"/>
<path class="c32" d="M567.3 416.9l-15.4 -8.3l12.3 -4.1l15.3 8.3z"/>
<path class="c25" d="M696.3 459.1l-15.4 -9.6l12.2 -3.8l15.4 9.6z"/>
<path class="c58" d="M373.5 257.3l-15.4 -7.9l12.3 -3.4l15.4 7.8z"/>
<path class="c40" d="M340 370.1l-15.4 -6.2l12.2 -4.7l15.4 6.2z"/>
<path class="c46" d="M435.1 332.3l-15.4 -8.2l12.2 -3.9l15.4 8.2z"/>
<path class="c41" d="M521.1 360.5l-15.3 -9.4l12.2 -3.6l15.4 9.4z"/>
<path class="c29" d="M708.5 436.7l-15.4 -14.9l12.2 -2.2l15.4 15z"/>
<path class="c56" d="M416.5 270.8l-15.4 -8.7l12.3 -3.2l15.4 8.7z"/>
<path class="c30" d="M358.6 430.2l-15.5 -5.4l12.3 -5l15.4 5.4z"/>
<path class="c23" d="M711.7 476l-15.4 -7l12.2 -4.5l15.4 7z"/>
<path class="c30" d="M610.3 430l-15.4 -8.7l12.3 -4l15.3 8.7z"/>
<path class="c28" d="M653.3 444.1l-15.4 -9.1l12.2 -4l15.4 9.2z"/>
<path class="c44" d="M478.1 345.7l-15.4 -8.8l12.3 -3.7l15.4 8.8z"/>
<path class="c50" d="M321.4 307.1l-15.4 -6.7l12.2 -4.3l15.4 6.6z"/>
<path class="c31" d="M260.2 424.6l-15.4 -5l12.2 -5.2l15.4 5z"/>
<path class="c52" d="M250.7 297.3l-15.4 -5.7l12.2 -4.6l15.4 5.6z"/>
<path class="c23" d="M739.3 471.4l-15.4 -12.9l12.2 -2.9l15.4 12.9z"/>
<path class="c34" d="M622.5 405.3l-15.3 -11l12.2 -3.2l15.4 11z"/>
<path class="c37" d="M453.7 390.5l-15.4 -7.3l12.2 -4.4l15.4 7.2z"/>
<path class="c29" d="M429.2 437.1l-15.4 -5.7l12.3 -4.9l15.4 5.7z"/>
<path class="c25" d="M641.1 464.6l-15.4 -6.7l12.2 -4.6l15.4 6.7z"/>
<path class="c38" d="M634.8 382l-15.4 -13.3l12.2 -2.4l15.4 13.3z"/>
<path class="c18" d="M797.6 502.4l-15.3 -10.6l12.1 -3.6l15.4 10.6z"/>
<path class="c53" d="M152.3 291.3l-15.4 -4.4l12.2 -5.1l15.4 4.4z"/>
<path class="c27" d="M723.9 452.1l-15.4 -15.4l12.2 -2.1l15.4 15.3z"/>
<path class="c28" d="M499.9 445.1l-15.4 -6l12.2 -4.8l15.4 6z"/>
<path class="c29" d="M680.9 436.9l-15.4 -11.9l12.2 -3.1l15.4 11.9z"/>
<path class="c26" d="M570.5 454.3l-15.4 -6.4l12.2 -4.7l15.4 6.4z"/>
<path class="c41" d="M241.6 361.3l-15.4 -5.4l12.2 -5l15.5 5.4z"/>
<path class="c49" d="M518 314.2l-15.4 -10.8l12.2 -2.8l15.4 10.7z"/>
<path class="c21" d="M754.7 485.7l-15.4 -7.1l12.2 -4.5l15.4 7.2z"/>
<path class="c61" d="M302.8 242.5l-15.4 -6.6l12.3 -3.9l15.4 6.6z"/>
<path class="c39" d="M383 378.5l-15.4 -6.7l12.2 -4.6l15.4 6.6z"/>
<path class="c30" d="M330.9 429.9l-15.4 -5.3l12.2 -5.1l15.4 5.3z"/>
<path class="c44" d="M576.4 346.1l-15.4 -12l12.2 -2.6l15.4 12z"/>
<path class="c63" d="M232.1 232.3l-15.4 -5.4l12.3 -4.3l15.4 5.4z"/>
<path class="c40" d="M312.3 368.7l-15.4 -6l12.3 -4.8l15.4 6z"/>
<path class="c49" d="M364.4 316.9l-15.4 -7.2l12.3 -4.2l15.4 7.2z"/>
<path class="c35" d="M496.7 401.2l-15.4 -7.7l12.2 -4.3l15.4 7.7z"/>
<path class="c21" d="M754.7 485.2l-15.4 -10.2l12.2 -3.7l15.4 10.2z"/>
<path class="c37" d="M579.5 387.1l-15.3 -10.4l12.2 -3.4l15.4 10.4z"/>
<path class="c24" d="M739.3 467.8l-15.4 -15.7l12.2 -2.2l15.4 15.7z"/>
<path class="c23" d="M684.1 473.6l-15.4 -6.9l12.2 -4.5l15.4 6.8z"/>
<path class="c52" d="M223 296.4l-15.4 -5.3l12.3 -4.8l15.4 5.3z"/>
<path class="c21" d="M754.7 484.6l-15.4 -13.2l12.2 -2.9l15.4 13.1z"/>
<path class="c36" d="M650.1 395.7l-15.3 -13.7l12.2 -2.4l15.4 13.7z"/>
<path class="c52" d="M475 296.1l-15.4 -9.9l12.2 -3.1l15.4 10z"/>
<path class="c29" d="M401.6 436.4l-15.4 -5.7l12.2 -4.9l15.4 5.6z"/>
<path class="c33" d="M539.7 412.8l-15.4 -8.1l12.2 -4.2l15.4 8.1z"/>
<path class="c20" d="M797.6 496l-15.3 -7.4l12.1 -4.4l15.4 7.4z"/>
<path class="c59" d="M345.9 253.1l-15.4 -7.5l12.2 -3.6l15.4 7.4z"/>
<path class="c51" d="M293.7 305l-15.4 -6.4l12.3 -4.5l15.4 6.3z"/>
<path class="c24" d="M711.7 468.8l-15.4 -9.7l12.2 -3.8l15.4 9.7z"/>
<path class="c47" d="M407.5 328.1l-15.4 -7.8l12.2 -4.1l15.4 7.9z"/>
<path class="c42" d="M213.9 361.1l-15.4 -5.2l12.3 -5.2l15.4 5.2z"/>
<path class="c40" d="M536.5 370.2l-15.4 -9.7l12.3 -3.6l15.4 9.8z"/>
<path class="c25" d="M613.5 462.6l-15.4 -6.6l12.2 -4.7l15.4 6.6z"/>
<path class="c22" d="M754.7 484l-15.4 -16.2l12.2 -2.2l15.4 16.2z"/>
<path class="c28" d="M472.3 443.9l-15.4 -5.9l12.2 -4.8l15.4 5.9z"/>
<path class="c31" d="M582.7 425.4l-15.4 -8.5l12.2 -4.1l15.4 8.5z"/>
<path class="c33" d="M637.9 416.6l-15.4 -11.3l12.3 -3.2l15.3 11.3z"/>
<path class="c27" d="M668.7 453.4l-15.4 -9.3l12.2 -3.9l15.4 9.3z"/>
<path class="c55" d="M431.9 279.9l-15.4 -9.1l12.3 -3.2l15.4 9z"/>
<path class="c37" d="M426.1 387.7l-15.4 -7l12.2 -4.6l15.4 7.1z"/>
<path class="c27" d="M542.9 452.7l-15.4 -6.3l12.2 -4.7l15.4 6.2z"/>
<path class="c57" d="M388.9 265.5l-15.4 -8.2l12.3 -3.5l15.3 8.3z"/>
<path class="c45" d="M450.5 340.8l-15.4 -8.5l12.2 -3.9l15.4 8.5z"/>
<path class="c29" d="M625.7 439l-15.4 -9l12.2 -4l15.4 9z"/>
<path class="c43" d="M493.5 354.8l-15.4 -9.1l12.3 -3.7l15.4 9.1z"/>
<path class="c27" d="M696.3 449.1l-15.4 -12.2l12.2 -3.1l15.4 12.2z"/>
<path class="c31" d="M303.3 429.7l-15.5 -5.2l12.3 -5.1l15.4 5.2z"/>
<path class="c63" d="M204.5 231.4l-15.4 -5l12.2 -4.4l15.4 4.9z"/>
<path class="c41" d="M284.7 367.7l-15.4 -5.8l12.2 -5l15.4 5.8z"/>
<path class="c42" d="M591.8 358.5l-15.4 -12.4l12.2 -2.6l15.4 12.4z"/>
<path class="c48" d="M533.4 325.3l-15.4 -11.1l12.2 -2.9l15.4 11.2z"/>
<path class="c39" d="M355.4 376.6l-15.4 -6.5l12.2 -4.7l15.4 6.4z"/>
<path class="c22" d="M727.1 483.1l-15.4 -7.1l12.2 -4.5l15.4 7.1z"/>
<path class="c19" d="M770.1 500.6l-15.4 -16.6l12.2 -2.2l15.4 16.6z"/>
<path class="c62" d="M275.2 239.9l-15.4 -6.1l12.2 -4.1l15.4 6.2z"/>
<path class="c53" d="M195.4 296l-15.4 -5l12.2 -5l15.4 5.1z"/>
<path class="c34" d="M665.5 409.7l-15.4 -14l12.3 -2.4l15.3 14z"/>
<path class="c19" d="M770.1 498l-15.4 -13.4l12.2 -3l15.4 13.5z"/>
<path class="c50" d="M336.8 314l-15.4 -6.9l12.2 -4.4l15.4 7z"/>
<path class="c30" d="M374 435.8l-15.4 -5.6l12.2 -5l15.4 5.5z"/>
<path class="c36" d="M469.1 397.9l-15.4 -7.4l12.2 -4.5l15.4 7.5z"/>
<path class="c16" d="M785.4 517.5l-15.3 -16.9l12.2 -2.2l15.3 17z"/>
<path class="c36" d="M594.9 397.7l-15.4 -10.6l12.3 -3.4l15.4 10.6z"/>
<path class="c24" d="M656.5 471.3l-15.4 -6.7l12.2 -4.6l15.4 6.7z"/>
<path class="c20" d="M770.1 495.5l-15.4 -10.3l12.2 -3.7l15.4 10.3z"/>
<path class="c51" d="M266.1 303.3l-15.4 -6l12.2 -4.7l15.4 6z"/>
<path class="c31" d="M275.6 429.7l-15.4 -5.1l12.2 -5.2l15.4 5.1z"/>
<path class="c29" d="M444.6 442.9l-15.4 -5.8l12.3 -4.9l15.4 5.8z"/>
<path class="c26" d="M585.9 460.7l-15.4 -6.4l12.2 -4.7l15.4 6.4z"/>
<path class="c21" d="M770.1 493l-15.4 -7.3l12.2 -4.4l15.4 7.3z"/>
<path class="c63" d="M176.8 231.1l-15.4 -4.5l12.2 -4.7l15.5 4.5z"/>
<path class="c27" d="M515.3 451.3l-15.4 -6.2l12.2 -4.8l15.4 6.1z"/>
<path class="c51" d="M490.4 306.4l-15.4 -10.3l12.2 -3l15.4 10.3z"/>
<path class="c60" d="M318.2 249.5l-15.4 -7l12.3 -3.9l15.4 7z"/>
<path class="c26" d="M711.7 461.6l-15.4 -12.5l12.2 -3.1l15.4 12.5z"/>
<path class="c34" d="M512.1 409.1l-15.4 -7.9l12.2 -4.3l15.4 7.8z"/>
<path class="c41" d="M257 366.9l-15.4 -5.6l12.3 -5l15.4 5.6z"/>
<path class="c31" d="M653.3 428.2l-15.4 -11.6l12.2 -3.2l15.4 11.6z"/>
<path class="c48" d="M379.8 324.4l-15.4 -7.5l12.3 -4.2l15.4 7.6z"/>
<path class="c38" d="M398.4 385.3l-15.4 -6.8l12.2 -4.7l15.5 6.9z"/>
<path class="c32" d="M680.9 424.2l-15.4 -14.5l12.2 -2.4l15.4 14.5z"/>
<path class="c23" d="M727.1 478.8l-15.4 -10l12.2 -3.8l15.4 10z"/>
<path class="c53" d="M167.7 296.1l-15.4 -4.8l12.2 -5.1l15.5 4.8z"/>
<path class="c39" d="M551.9 380.3l-15.4 -10.1l12.3 -3.5l15.4 10z"/>
<path class="c40" d="M607.2 371.3l-15.4 -12.8l12.2 -2.6l15.4 12.8z"/>
<path class="c40" d="M327.7 375l-15.4 -6.3l12.3 -4.8l15.4 6.2z"/>
<path class="c17" d="M785.4 511.8l-15.3 -13.8l12.2 -2.9l15.3 13.8z"/>
<path class="c62" d="M247.5 238l-15.4 -5.7l12.3 -4.3l15.4 5.8z"/>
<path class="c30" d="M346.3 435.3l-15.4 -5.4l12.2 -5.1l15.5 5.4z"/>
<path class="c32" d="M555.1 421.1l-15.4 -8.3l12.2 -4.2l15.4 8.3z"/>
<path class="c26" d="M684.1 463l-15.4 -9.6l12.2 -3.9l15.4 9.6z"/>
<path class="c46" d="M548.8 336.9l-15.4 -11.6l12.2 -2.8l15.4 11.6z"/>
<path class="c23" d="M699.5 480.5l-15.4 -6.9l12.2 -4.6l15.4 7z"/>
<path class="c46" d="M422.9 336.3l-15.4 -8.2l12.2 -4l15.4 8.2z"/>
<path class="c54" d="M447.3 289.4l-15.4 -9.5l12.3 -3.3l15.4 9.6z"/>
<path class="c59" d="M361.3 260.9l-15.4 -7.8l12.2 -3.7l15.4 7.9z"/>
<path class="c42" d="M508.9 364.2l-15.4 -9.4l12.3 -3.7l15.3 9.4z"/>
<path class="c30" d="M598.1 434.1l-15.4 -8.7l12.2 -4.1l15.4 8.7z"/>
<path class="c28" d="M641.1 448.1l-15.4 -9.1l12.2 -4l15.4 9.1z"/>
<path class="c44" d="M465.9 349.6l-15.4 -8.8l12.2 -3.9l15.4 8.8z"/>
<path class="c56" d="M404.3 274.2l-15.4 -8.7l12.2 -3.4l15.4 8.7z"/>
<path class="c50" d="M309.2 311.6l-15.5 -6.6l12.3 -4.6l15.4 6.7z"/>
<path class="c52" d="M238.4 302.1l-15.4 -5.7l12.3 -4.8l15.4 5.7z"/>
<path class="c29" d="M417 442.1l-15.4 -5.7l12.2 -5l15.4 5.7z"/>
<path class="c29" d="M696.3 439.1l-15.4 -14.9l12.2 -2.4l15.4 14.9z"/>
<path class="c25" d="M628.9 469.2l-15.4 -6.6l12.2 -4.7l15.4 6.7z"/>
<path class="c37" d="M441.5 395l-15.4 -7.3l12.2 -4.5l15.4 7.3z"/>
<path class="c41" d="M229.4 366.5l-15.5 -5.4l12.3 -5.2l15.4 5.4z"/>
<path class="c28" d="M487.7 450l-15.4 -6.1l12.2 -4.8l15.4 6z"/>
<path class="c35" d="M610.3 408.7l-15.4 -11l12.3 -3.4l15.3 11z"/>
<path class="c26" d="M558.3 459l-15.4 -6.3l12.2 -4.8l15.4 6.4z"/>
<path class="c24" d="M727.1 474.5l-15.4 -12.9l12.2 -3.1l15.4 12.9z"/>
<path class="c19" d="M785.4 506.1l-15.3 -10.6l12.2 -3.7l15.3 10.6z"/>
<path class="c21" d="M742.5 490.2l-15.4 -7.1l12.2 -4.5l15.4 7.1z"/>
<path class="c39" d="M622.5 384.6l-15.3 -13.3l12.2 -2.6l15.4 13.3z"/>
<path class="c30" d="M318.7 435l-15.4 -5.3l12.2 -5.1l15.4 5.3z"/>
<path class="c29" d="M668.7 440.1l-15.4 -11.9l12.2 -3.2l15.4 11.9z"/>
<path class="c39" d="M370.8 383.2l-15.4 -6.6l12.2 -4.8l15.4 6.7z"/>
<path class="c61" d="M290.6 246.5l-15.4 -6.6l12.2 -4l15.4 6.6z"/>
<path class="c40" d="M300.1 373.7l-15.4 -6l12.2 -5l15.4 6z"/>
<path class="c63" d="M219.9 236.7l-15.4 -5.3l12.2 -4.5l15.4 5.4z"/>
<path class="c50" d="M505.8 317.2l-15.4 -10.8l12.2 -3l15.4 10.8z"/>
<path class="c27" d="M711.7 454.5l-15.4 -15.4l12.2 -2.4l15.4 15.4z"/>
<path class="c35" d="M484.5 405.6l-15.4 -7.7l12.2 -4.4l15.4 7.7z"/>
<path class="c49" d="M352.2 321.2l-15.4 -7.2l12.2 -4.3l15.4 7.2z"/>
<path class="c22" d="M742.5 489l-15.4 -10.2l12.2 -3.8l15.4 10.2z"/>
<path class="c52" d="M210.8 301.4l-15.4 -5.4l12.2 -4.9l15.4 5.3z"/>
<path class="c45" d="M564.2 348.9l-15.4 -12l12.2 -2.8l15.4 12z"/>
<path class="c38" d="M567.3 390.6l-15.4 -10.3l12.3 -3.6l15.3 10.4z"/>
<path class="c23" d="M671.9 478.2l-15.4 -6.9l12.2 -4.6l15.4 6.9z"/>
<path class="c29" d="M389.4 441.4l-15.4 -5.6l12.2 -5.1l15.4 5.7z"/>
<path class="c51" d="M281.5 309.6l-15.4 -6.3l12.2 -4.7l15.4 6.4z"/>
<path class="c20" d="M785.4 500.4l-15.3 -7.4l12.2 -4.4l15.3 7.4z"/>
<path class="c33" d="M527.5 417.2l-15.4 -8.1l12.2 -4.4l15.4 8.1z"/>
<path class="c25" d="M727.1 470.2l-15.4 -15.7l12.2 -2.4l15.4 15.7z"/>
<path class="c47" d="M395.2 332.3l-15.4 -7.9l12.3 -4.1l15.4 7.8z"/>
<path class="c60" d="M333.6 256.9l-15.4 -7.4l12.3 -3.9l15.4 7.5z"/>
<path class="c24" d="M699.5 472.7l-15.4 -9.7l12.2 -3.9l15.4 9.7z"/>
<path class="c25" d="M601.3 467.3l-15.4 -6.6l12.2 -4.7l15.4 6.6z"/>
<path class="c28" d="M460 448.9l-15.4 -6l12.3 -4.9l15.4 5.9z"/>
<path class="c53" d="M462.7 299.3l-15.4 -9.9l12.3 -3.2l15.4 9.9z"/>
<path class="c22" d="M742.5 487.7l-15.4 -13.2l12.2 -3.1l15.4 13.2z"/>
<path class="c31" d="M291 434.9l-15.4 -5.2l12.2 -5.2l15.5 5.2z"/>
<path class="c27" d="M530.7 457.5l-15.4 -6.2l12.2 -4.9l15.4 6.3z"/>
<path class="c41" d="M524.3 374l-15.4 -9.8l12.2 -3.7l15.4 9.7z"/>
<path class="c37" d="M637.9 398.3l-15.4 -13.7l12.3 -2.6l15.3 13.7z"/>
<path class="c38" d="M413.8 392.4l-15.4 -7.1l12.3 -4.6l15.4 7z"/>
<path class="c31" d="M570.5 429.6l-15.4 -8.5l12.2 -4.2l15.4 8.5z"/>
<path class="c27" d="M656.5 457.4l-15.4 -9.3l12.2 -4l15.4 9.3z"/>
<path class="c29" d="M613.5 443.1l-15.4 -9l12.2 -4.1l15.4 9z"/>
<path class="c45" d="M438.3 344.8l-15.4 -8.5l12.2 -4l15.4 8.5z"/>
<path class="c33" d="M625.7 420l-15.4 -11.3l12.2 -3.4l15.4 11.3z"/>
<path class="c43" d="M481.3 358.7l-15.4 -9.1l12.2 -3.9l15.4 9.1z"/>
<path class="c63" d="M192.2 236.1l-15.4 -5l12.3 -4.7l15.4 5z"/>
<path class="c41" d="M272.4 372.7l-15.4 -5.8l12.3 -5l15.4 5.8z"/>
<path class="c58" d="M376.7 269.2l-15.4 -8.3l12.2 -3.6l15.4 8.2z"/>
<path class="c55" d="M419.7 283.3l-15.4 -9.1l12.2 -3.4l15.4 9.1z"/>
<path class="c39" d="M343.1 381.4l-15.4 -6.4l12.3 -4.9l15.4 6.5z"/>
<path class="c28" d="M684.1 452.4l-15.4 -12.3l12.2 -3.2l15.4 12.2z"/>
<path class="c22" d="M742.5 486.4l-15.4 -16.2l12.2 -2.4l15.4 16.2z"/>
<path class="c22" d="M714.9 487.6l-15.4 -7.1l12.2 -4.5l15.4 7.1z"/>
<path class="c53" d="M183.1 301.2l-15.4 -5.1l12.3 -5.1l15.4 5z"/>
<path class="c62" d="M262.9 244.2l-15.4 -6.2l12.3 -4.2l15.4 6.1z"/>
<path class="c30" d="M361.7 440.8l-15.4 -5.5l12.3 -5.1l15.4 5.6z"/>
<path class="c48" d="M521.1 328.3l-15.3 -11.1l12.2 -3l15.4 11.1z"/>
<path class="c50" d="M324.6 318.5l-15.4 -6.9l12.2 -4.5l15.4 6.9z"/>
<path class="c43" d="M579.5 361.3l-15.3 -12.4l12.2 -2.8l15.4 12.4z"/>
<path class="c36" d="M456.9 402.5l-15.4 -7.5l12.2 -4.5l15.4 7.4z"/>
<path class="c20" d="M757.9 502.9l-15.4 -16.5l12.2 -2.4l15.4 16.6z"/>
<path class="c24" d="M644.3 476l-15.4 -6.8l12.2 -4.6l15.4 6.7z"/>
<path class="c52" d="M253.9 308.1l-15.5 -6l12.3 -4.8l15.4 6z"/>
<path class="c34" d="M653.3 412.3l-15.4 -14l12.2 -2.6l15.4 14z"/>
<path class="c20" d="M757.9 501.1l-15.4 -13.4l12.2 -3.1l15.4 13.4z"/>
<path class="c29" d="M432.4 447.9l-15.4 -5.8l12.2 -5l15.4 5.8z"/>
<path class="c20" d="M757.9 499.3l-15.4 -10.3l12.2 -3.8l15.4 10.3z"/>
<path class="c36" d="M582.7 401.3l-15.4 -10.7l12.2 -3.5l15.4 10.6z"/>
<path class="c26" d="M573.7 465.5l-15.4 -6.5l12.2 -4.7l15.4 6.4z"/>
<path class="c63" d="M164.5 236l-15.4 -4.5l12.3 -4.9l15.4 4.5z"/>
<path class="c27" d="M503.1 456.1l-15.4 -6.1l12.2 -4.9l15.4 6.2z"/>
<path class="c21" d="M757.9 497.5l-15.4 -7.3l12.2 -4.5l15.4 7.3z"/>
<path class="c17" d="M773.3 519.9l-15.4 -17l12.2 -2.3l15.3 16.9z"/>
<path class="c41" d="M244.8 372.1l-15.4 -5.6l12.2 -5.2l15.4 5.6z"/>
<path class="c34" d="M499.9 413.5l-15.4 -7.9l12.2 -4.4l15.4 7.9z"/>
<path class="c38" d="M386.2 390l-15.4 -6.8l12.2 -4.7l15.4 6.8z"/>
<path class="c61" d="M306 253.6l-15.4 -7.1l12.2 -4l15.4 7z"/>
<path class="c48" d="M367.6 328.8l-15.4 -7.6l12.2 -4.3l15.4 7.5z"/>
<path class="c40" d="M315.5 379.9l-15.4 -6.2l12.2 -5l15.4 6.3z"/>
<path class="c51" d="M478.1 309.6l-15.4 -10.3l12.3 -3.2l15.4 10.3z"/>
<path class="c23" d="M714.9 482.7l-15.4 -10l12.2 -3.9l15.4 10z"/>
<path class="c26" d="M699.5 464.9l-15.4 -12.5l12.2 -3.3l15.4 12.5z"/>
<path class="c30" d="M334.1 440.4l-15.4 -5.4l12.2 -5.1l15.4 5.4z"/>
<path class="c31" d="M641.1 431.6l-15.4 -11.6l12.2 -3.4l15.4 11.6z"/>
<path class="c39" d="M539.7 384l-15.4 -10l12.2 -3.8l15.4 10.1z"/>
<path class="c62" d="M235.3 242.5l-15.4 -5.8l12.2 -4.4l15.4 5.7z"/>
<path class="c33" d="M542.9 425.5l-15.4 -8.3l12.2 -4.4l15.4 8.3z"/>
<path class="c32" d="M668.7 426.8l-15.4 -14.5l12.2 -2.6l15.4 14.5z"/>
<path class="c23" d="M687.3 485.2l-15.4 -7l12.2 -4.6l15.4 6.9z"/>
<path class="c26" d="M671.9 467l-15.4 -9.6l12.2 -4l15.4 9.6z"/>
<path class="c41" d="M594.9 374.2l-15.4 -12.9l12.3 -2.8l15.4 12.8z"/>
<path class="c46" d="M410.7 340.5l-15.5 -8.2l12.3 -4.2l15.4 8.2z"/>
<path class="c18" d="M773.3 514.9l-15.4 -13.8l12.2 -3.1l15.3 13.8z"/>
<path class="c30" d="M585.9 438.4l-15.4 -8.8l12.2 -4.2l15.4 8.7z"/>
<path class="c59" d="M349 264.8l-15.4 -7.9l12.3 -3.8l15.4 7.8z"/>
<path class="c52" d="M226.2 307.1l-15.4 -5.7l12.2 -5l15.4 5.7z"/>
<path class="c28" d="M628.9 452.2l-15.4 -9.1l12.2 -4.1l15.4 9.1z"/>
<path class="c42" d="M496.7 368.1l-15.4 -9.4l12.2 -3.9l15.4 9.4z"/>
<path class="c50" d="M296.9 316.2l-15.4 -6.6l12.2 -4.6l15.5 6.6z"/>
<path class="c54" d="M435.1 292.8l-15.4 -9.5l12.2 -3.4l15.4 9.5z"/>
<path class="c29" d="M404.8 447.1l-15.4 -5.7l12.2 -5l15.4 5.7z"/>
<path class="c44" d="M453.7 353.6l-15.4 -8.8l12.2 -4l15.4 8.8z"/>
<path class="c47" d="M536.5 339.9l-15.4 -11.6l12.3 -3l15.4 11.6z"/>
<path class="c25" d="M616.7 473.9l-15.4 -6.6l12.2 -4.7l15.4 6.6z"/>
<path class="c57" d="M392.1 277.9l-15.4 -8.7l12.2 -3.7l15.4 8.7z"/>
<path class="c37" d="M429.2 399.6l-15.4 -7.2l12.3 -4.7l15.4 7.3z"/>
<path class="c28" d="M475.4 454.9l-15.4 -6l12.3 -5l15.4 6.1z"/>
<path class="c26" d="M546.1 463.8l-15.4 -6.3l12.2 -4.8l15.4 6.3z"/>
<path class="c30" d="M306.4 440.2l-15.4 -5.3l12.3 -5.2l15.4 5.3z"/>
<path class="c30" d="M684.1 441.8l-15.4 -15l12.2 -2.6l15.4 14.9z"/>
<path class="c35" d="M598.1 412.3l-15.4 -11l12.2 -3.6l15.4 11z"/>
<path class="c21" d="M730.3 494.8l-15.4 -7.2l12.2 -4.5l15.4 7.1z"/>
<path class="c19" d="M773.3 509.9l-15.4 -10.6l12.2 -3.8l15.3 10.6z"/>
<path class="c39" d="M358.6 388l-15.5 -6.6l12.3 -4.8l15.4 6.6z"/>
<path class="c40" d="M287.8 378.7l-15.4 -6l12.3 -5l15.4 6z"/>
<path class="c24" d="M714.9 477.8l-15.4 -12.9l12.2 -3.3l15.4 12.9z"/>
<path class="c63" d="M207.6 241.4l-15.4 -5.3l12.3 -4.7l15.4 5.3z"/>
<path class="c61" d="M278.3 250.8l-15.4 -6.6l12.3 -4.3l15.4 6.6z"/>
<path class="c35" d="M472.3 410.1l-15.4 -7.6l12.2 -4.6l15.4 7.7z"/>
<path class="c49" d="M340 325.7l-15.4 -7.2l12.2 -4.5l15.4 7.2z"/>
<path class="c30" d="M656.5 443.5l-15.4 -11.9l12.2 -3.4l15.4 11.9z"/>
<path class="c39" d="M610.3 387.4l-15.4 -13.2l12.3 -2.9l15.3 13.3z"/>
<path class="c52" d="M198.5 306.5l-15.4 -5.3l12.3 -5.2l15.4 5.4z"/>
<path class="c29" d="M377.1 446.4l-15.4 -5.6l12.3 -5l15.4 5.6z"/>
<path class="c50" d="M493.5 320.4l-15.4 -10.8l12.3 -3.2l15.4 10.8z"/>
<path class="c24" d="M659.7 482.8l-15.4 -6.8l12.2 -4.7l15.4 6.9z"/>
<path class="c22" d="M730.3 492.9l-15.4 -10.2l12.2 -3.9l15.4 10.2z"/>
<path class="c28" d="M699.5 457.1l-15.4 -15.3l12.2 -2.7l15.4 15.4z"/>
<path class="c51" d="M269.3 314.4l-15.4 -6.3l12.2 -4.8l15.4 6.3z"/>
<path class="c38" d="M555.1 394.4l-15.4 -10.4l12.2 -3.7l15.4 10.3z"/>
<path class="c20" d="M773.3 504.9l-15.4 -7.4l12.2 -4.5l15.3 7.4z"/>
<path class="c34" d="M515.3 421.6l-15.4 -8.1l12.2 -4.4l15.4 8.1z"/>
<path class="c45" d="M551.9 351.9l-15.4 -12l12.3 -3l15.4 12z"/>
<path class="c28" d="M447.8 453.8l-15.4 -5.9l12.2 -5l15.4 6z"/>
<path class="c25" d="M589.1 472l-15.4 -6.5l12.2 -4.8l15.4 6.6z"/>
<path class="c48" d="M383 336.7l-15.4 -7.9l12.2 -4.4l15.4 7.9z"/>
<path class="c27" d="M518.5 462.4l-15.4 -6.3l12.2 -4.8l15.4 6.2z"/>
<path class="c60" d="M321.4 261l-15.4 -7.4l12.2 -4.1l15.4 7.4z"/>
<path class="c25" d="M687.3 476.7l-15.4 -9.7l12.2 -4l15.4 9.7z"/>
<path class="c38" d="M401.6 397.1l-15.4 -7.1l12.2 -4.7l15.4 7.1z"/>
<path class="c32" d="M558.3 434l-15.4 -8.5l12.2 -4.4l15.4 8.5z"/>
<path class="c41" d="M260.2 377.9l-15.4 -5.8l12.2 -5.2l15.4 5.8z"/>
<path class="c53" d="M450.5 302.7l-15.4 -9.9l12.2 -3.4l15.4 9.9z"/>
<path class="c41" d="M512.1 377.8l-15.4 -9.7l12.2 -3.9l15.4 9.8z"/>
<path class="c22" d="M730.3 490.9l-15.4 -13.1l12.2 -3.3l15.4 13.2z"/>
<path class="c63" d="M180 241l-15.5 -5l12.3 -4.9l15.4 5z"/>
<path class="c27" d="M644.3 461.5l-15.4 -9.3l12.2 -4.1l15.4 9.3z"/>
<path class="c29" d="M601.3 447.3l-15.4 -8.9l12.2 -4.3l15.4 9z"/>
<path class="c25" d="M714.9 472.8l-15.4 -15.7l12.2 -2.6l15.4 15.7z"/>
<path class="c46" d="M426.1 349l-15.4 -8.5l12.2 -4.2l15.4 8.5z"/>
<path class="c39" d="M330.9 386.3l-15.4 -6.4l12.2 -4.9l15.4 6.4z"/>
<path class="c43" d="M469.1 362.7l-15.4 -9.1l12.2 -4l15.4 9.1z"/>
<path class="c37" d="M625.7 401.1l-15.4 -13.7l12.2 -2.8l15.4 13.7z"/>
<path class="c58" d="M364.4 273l-15.4 -8.2l12.3 -3.9l15.4 8.3z"/>
<path class="c22" d="M702.7 492.2l-15.4 -7l12.2 -4.7l15.4 7.1z"/>
<path class="c33" d="M613.5 423.6l-15.4 -11.3l12.2 -3.6l15.4 11.3z"/>
<path class="c56" d="M407.5 287l-15.4 -9.1l12.2 -3.7l15.4 9.1z"/>
<path class="c30" d="M349.5 446l-15.4 -5.6l12.2 -5.1l15.4 5.5z"/>
<path class="c62" d="M250.7 248.7l-15.4 -6.2l12.2 -4.5l15.4 6.2z"/>
<path class="c28" d="M671.9 455.8l-15.4 -12.3l12.2 -3.4l15.4 12.3z"/>
<path class="c50" d="M312.3 323.2l-15.4 -7l12.3 -4.6l15.4 6.9z"/>
<path class="c36" d="M444.6 407.1l-15.4 -7.5l12.3 -4.6l15.4 7.5z"/>
<path class="c23" d="M730.3 489l-15.4 -16.2l12.2 -2.6l15.4 16.2z"/>
<path class="c52" d="M241.6 313.1l-15.4 -6l12.2 -5l15.5 6z"/>
<path class="c24" d="M632.1 480.7l-15.4 -6.8l12.2 -4.7l15.4 6.8z"/>
<path class="c29" d="M420.2 452.9l-15.4 -5.8l12.2 -5l15.4 5.8z"/>
<path class="c49" d="M508.9 331.6l-15.4 -11.2l12.3 -3.2l15.3 11.1z"/>
<path class="c43" d="M567.3 364.3l-15.4 -12.4l12.3 -3l15.3 12.4z"/>
<path class="c63" d="M152.3 241.1l-15.4 -4.5l12.2 -5.1l15.4 4.5z"/>
<path class="c26" d="M561.5 470.3l-15.4 -6.5l12.2 -4.8l15.4 6.5z"/>
<path class="c27" d="M490.9 461l-15.5 -6.1l12.3 -4.9l15.4 6.1z"/>
<path class="c21" d="M745.7 502.1l-15.4 -7.3l12.2 -4.6l15.4 7.3z"/>
<path class="c21" d="M745.7 503.2l-15.4 -10.3l12.2 -3.9l15.4 10.3z"/>
<path class="c20" d="M745.7 504.4l-15.4 -13.5l12.2 -3.2l15.4 13.4z"/>
<path class="c20" d="M745.7 505.6l-15.4 -16.6l12.2 -2.6l15.4 16.5z"/>
<path class="c37" d="M570.5 405l-15.4 -10.6l12.2 -3.8l15.4 10.7z"/>
<path class="c35" d="M641.1 415.2l-15.4 -14.1l12.2 -2.8l15.4 14z"/>
<path class="c38" d="M374 394.9l-15.4 -6.9l12.2 -4.8l15.4 6.8z"/>
<path class="c35" d="M487.7 418l-15.4 -7.9l12.2 -4.5l15.4 7.9z"/>
<path class="c40" d="M303.3 385l-15.5 -6.3l12.3 -5l15.4 6.2z"/>
<path class="c48" d="M355.4 333.3l-15.4 -7.6l12.2 -4.5l15.4 7.6z"/>
<path class="c30" d="M321.9 445.6l-15.5 -5.4l12.3 -5.2l15.4 5.4z"/>
<path class="c61" d="M293.7 257.8l-15.4 -7l12.3 -4.3l15.4 7.1z"/>
<path class="c17" d="M761.1 522.5l-15.4 -16.9l12.2 -2.7l15.4 17z"/>
<path class="c23" d="M702.7 486.7l-15.4 -10l12.2 -4l15.4 10z"/>
<path class="c63" d="M223 247.2l-15.4 -5.8l12.3 -4.7l15.4 5.8z"/>
<path class="c23" d="M675.1 489.8l-15.4 -7l12.2 -4.6l15.4 7z"/>
<path class="c33" d="M530.7 429.9l-15.4 -8.3l12.2 -4.4l15.4 8.3z"/>
<path class="c52" d="M465.9 313.1l-15.4 -10.4l12.2 -3.4l15.4 10.3z"/>
<path class="c26" d="M687.3 468.3l-15.4 -12.5l12.2 -3.4l15.4 12.5z"/>
<path class="c32" d="M628.9 435.2l-15.4 -11.6l12.2 -3.6l15.4 11.6z"/>
<path class="c40" d="M527.5 387.9l-15.4 -10.1l12.2 -3.8l15.4 10z"/>
<path class="c52" d="M213.9 312.2l-15.4 -5.7l12.3 -5.1l15.4 5.7z"/>
<path class="c47" d="M398.4 344.8l-15.4 -8.1l12.2 -4.4l15.5 8.2z"/>
<path class="c29" d="M392.6 452.2l-15.5 -5.8l12.3 -5l15.4 5.7z"/>
<path class="c26" d="M659.7 471.1l-15.4 -9.6l12.2 -4.1l15.4 9.6z"/>
<path class="c51" d="M284.7 321l-15.4 -6.6l12.2 -4.8l15.4 6.6z"/>
<path class="c31" d="M573.7 442.7l-15.4 -8.7l12.2 -4.4l15.4 8.8z"/>
<path class="c28" d="M616.7 456.4l-15.4 -9.1l12.2 -4.2l15.4 9.1z"/>
<path class="c59" d="M336.8 268.8l-15.4 -7.8l12.2 -4.1l15.4 7.9z"/>
<path class="c42" d="M484.5 372.1l-15.4 -9.4l12.2 -4l15.4 9.4z"/>
<path class="c33" d="M656.5 429.7l-15.4 -14.5l12.2 -2.9l15.4 14.5z"/>
<path class="c25" d="M604.5 478.7l-15.4 -6.7l12.2 -4.7l15.4 6.6z"/>
<path class="c45" d="M441.5 357.8l-15.4 -8.8l12.2 -4.2l15.4 8.8z"/>
<path class="c18" d="M761.1 518.2l-15.4 -13.8l12.2 -3.3l15.4 13.8z"/>
<path class="c37" d="M417 404.4l-15.4 -7.3l12.2 -4.7l15.4 7.2z"/>
<path class="c41" d="M582.7 377.2l-15.4 -12.9l12.2 -3l15.4 12.9z"/>
<path class="c55" d="M422.9 296.5l-15.4 -9.5l12.2 -3.7l15.4 9.5z"/>
<path class="c28" d="M463.2 459.9l-15.4 -6.1l12.2 -4.9l15.4 6z"/>
<path class="c27" d="M533.9 468.7l-15.4 -6.3l12.2 -4.9l15.4 6.3z"/>
<path class="c57" d="M379.8 281.7l-15.4 -8.7l12.3 -3.8l15.4 8.7z"/>
<path class="c47" d="M524.3 343.2l-15.4 -11.6l12.2 -3.3l15.4 11.6z"/>
<path class="c40" d="M275.6 383.9l-15.4 -6l12.2 -5.2l15.4 6z"/>
<path class="c39" d="M346.3 393l-15.4 -6.7l12.2 -4.9l15.5 6.6z"/>
<path class="c22" d="M718.1 499.4l-15.4 -7.2l12.2 -4.6l15.4 7.2z"/>
<path class="c35" d="M585.9 416l-15.4 -11l12.2 -3.7l15.4 11z"/>
<path class="c63" d="M195.4 246.3l-15.4 -5.3l12.2 -4.9l15.4 5.3z"/>
<path class="c19" d="M761.1 513.8l-15.4 -10.6l12.2 -3.9l15.4 10.6z"/>
<path class="c62" d="M266.1 255.3l-15.4 -6.6l12.2 -4.5l15.4 6.6z"/>
<path class="c35" d="M460 414.8l-15.4 -7.7l12.3 -4.6l15.4 7.6z"/>
<path class="c31" d="M671.9 444.6l-15.4 -14.9l12.2 -2.9l15.4 15z"/>
<path class="c49" d="M327.7 330.4l-15.4 -7.2l12.3 -4.7l15.4 7.2z"/>
<path class="c25" d="M702.7 481.2l-15.4 -12.9l12.2 -3.4l15.4 12.9z"/>
<path class="c29" d="M364.9 451.6l-15.4 -5.6l12.2 -5.2l15.4 5.6z"/>
<path class="c24" d="M647.5 487.5l-15.4 -6.8l12.2 -4.7l15.4 6.8z"/>
<path class="c30" d="M644.3 447.1l-15.4 -11.9l12.2 -3.6l15.4 11.9z"/>
<path class="c51" d="M257 319.4l-15.4 -6.3l12.3 -5l15.4 6.3z"/>
<path class="c40" d="M598.1 390.4l-15.4 -13.2l12.2 -3l15.4 13.2z"/>
<path class="c22" d="M718.1 496.9l-15.4 -10.2l12.2 -4l15.4 10.2z"/>
<path class="c50" d="M481.3 323.8l-15.4 -10.7l12.2 -3.5l15.4 10.8z"/>
<path class="c28" d="M435.6 458.9l-15.4 -6l12.2 -5l15.4 5.9z"/>
<path class="c20" d="M761.1 509.5l-15.4 -7.4l12.2 -4.6l15.4 7.4z"/>
<path class="c34" d="M503.1 426.1l-15.4 -8.1l12.2 -4.5l15.4 8.1z"/>
<path class="c25" d="M576.9 476.8l-15.4 -6.5l12.2 -4.8l15.4 6.5z"/>
<path class="c38" d="M542.9 398.2l-15.4 -10.3l12.2 -3.9l15.4 10.4z"/>
<path class="c27" d="M506.3 467.3l-15.4 -6.3l12.2 -4.9l15.4 6.3z"/>
<path class="c48" d="M370.8 341.2l-15.4 -7.9l12.2 -4.5l15.4 7.9z"/>
<path class="c38" d="M389.4 401.9l-15.4 -7l12.2 -4.9l15.4 7.1z"/>
<path class="c28" d="M687.3 459.9l-15.4 -15.3l12.2 -2.8l15.4 15.3z"/>
<path class="c60" d="M309.2 265.3l-15.5 -7.5l12.3 -4.2l15.4 7.4z"/>
<path class="c45" d="M539.7 355.2l-15.4 -12l12.2 -3.3l15.4 12z"/>
<path class="c25" d="M675.1 480.8l-15.4 -9.7l12.2 -4.1l15.4 9.7z"/>
<path class="c63" d="M167.7 246.1l-15.4 -5l12.2 -5.1l15.5 5z"/>
<path class="c32" d="M546.1 438.4l-15.4 -8.5l12.2 -4.4l15.4 8.5z"/>
<path class="c39" d="M318.7 391.4l-15.4 -6.4l12.2 -5.1l15.4 6.4z"/>
<path class="c41" d="M499.9 381.9l-15.4 -9.8l12.2 -4l15.4 9.7z"/>
<path class="c27" d="M632.1 465.8l-15.4 -9.4l12.2 -4.2l15.4 9.3z"/>
<path class="c30" d="M589.1 451.6l-15.4 -8.9l12.2 -4.3l15.4 8.9z"/>
<path class="c46" d="M413.8 353.3l-15.4 -8.5l12.3 -4.3l15.4 8.5z"/>
<path class="c53" d="M438.3 306.4l-15.4 -9.9l12.2 -3.7l15.4 9.9z"/>
<path class="c30" d="M337.3 451.1l-15.4 -5.5l12.2 -5.2l15.4 5.6z"/>
<path class="c22" d="M690.5 496.9l-15.4 -7.1l12.2 -4.6l15.4 7z"/>
<path class="c23" d="M718.1 494.3l-15.4 -13.1l12.2 -3.4l15.4 13.1z"/>
<path class="c44" d="M456.9 366.9l-15.4 -9.1l12.2 -4.2l15.4 9.1z"/>
<path class="c58" d="M352.2 277.1l-15.4 -8.3l12.2 -4l15.4 8.2z"/>
<path class="c62" d="M238.4 253.4l-15.4 -6.2l12.3 -4.7l15.4 6.2z"/>
<path class="c26" d="M702.7 475.6l-15.4 -15.7l12.2 -2.8l15.4 15.7z"/>
<path class="c34" d="M601.3 427.3l-15.4 -11.3l12.2 -3.7l15.4 11.3z"/>
<path class="c56" d="M395.2 290.8l-15.4 -9.1l12.3 -3.8l15.4 9.1z"/>
<path class="c50" d="M300.1 328l-15.4 -7l12.2 -4.8l15.4 7z"/>
<path class="c38" d="M613.5 404.1l-15.4 -13.7l12.2 -3l15.4 13.7z"/>
<path class="c52" d="M229.4 318.2l-15.5 -6l12.3 -5.1l15.4 6z"/>
<path class="c36" d="M432.4 411.8l-15.4 -7.4l12.2 -4.8l15.4 7.5z"/>
<path class="c29" d="M659.7 459.3l-15.4 -12.2l12.2 -3.6l15.4 12.3z"/>
<path class="c29" d="M408 458l-15.4 -5.8l12.2 -5.1l15.4 5.8z"/>
<path class="c24" d="M619.9 485.4l-15.4 -6.7l12.2 -4.8l15.4 6.8z"/>
<path class="c28" d="M478.6 466l-15.4 -6.1l12.2 -5l15.5 6.1z"/>
<path class="c26" d="M549.3 475.2l-15.4 -6.5l12.2 -4.9l15.4 6.5z"/>
<path class="c23" d="M718.1 491.8l-15.4 -16.2l12.2 -2.8l15.4 16.2z"/>
<path class="c21" d="M733.5 506.7l-15.4 -7.3l12.2 -4.6l15.4 7.3z"/>
<path class="c49" d="M496.7 335l-15.4 -11.2l12.2 -3.4l15.4 11.2z"/>
<path class="c38" d="M361.7 399.8l-15.4 -6.8l12.3 -5l15.4 6.9z"/>
<path class="c21" d="M733.5 507.2l-15.4 -10.3l12.2 -4l15.4 10.3z"/>
<path class="c44" d="M555.1 367.6l-15.4 -12.4l12.2 -3.3l15.4 12.4z"/>
<path class="c40" d="M291 390.1l-15.4 -6.2l12.2 -5.2l15.5 6.3z"/>
<path class="c35" d="M475.4 422.6l-15.4 -7.8l12.3 -4.7l15.4 7.9z"/>
<path class="c37" d="M558.3 408.9l-15.4 -10.7l12.2 -3.8l15.4 10.6z"/>
<path class="c21" d="M733.5 507.8l-15.4 -13.5l12.2 -3.4l15.4 13.5z"/>
<path class="c49" d="M343.1 338l-15.4 -7.6l12.3 -4.7l15.4 7.6z"/>
<path class="c61" d="M281.5 262.3l-15.4 -7l12.2 -4.5l15.4 7z"/>
<path class="c21" d="M733.5 508.4l-15.4 -16.6l12.2 -2.8l15.4 16.6z"/>
<path class="c35" d="M628.9 418.2l-15.4 -14.1l12.2 -3l15.4 14.1z"/>
<path class="c63" d="M210.8 252.1l-15.4 -5.8l12.2 -4.9l15.4 5.8z"/>
<path class="c23" d="M662.9 494.5l-15.4 -7l12.2 -4.7l15.4 7z"/>
<path class="c24" d="M690.5 490.8l-15.4 -10l12.2 -4.1l15.4 10z"/>
<path class="c33" d="M518.5 434.4l-15.4 -8.3l12.2 -4.5l15.4 8.3z"/>
<path class="c29" d="M380.3 457.3l-15.4 -5.7l12.2 -5.2l15.5 5.8z"/>
<path class="c51" d="M272.4 326l-15.4 -6.6l12.3 -5l15.4 6.6z"/>
<path class="c40" d="M515.3 391.9l-15.4 -10l12.2 -4.1l15.4 10.1z"/>
<path class="c18" d="M748.9 525.4l-15.4 -17l12.2 -2.8l15.4 16.9z"/>
<path class="c52" d="M453.7 316.7l-15.4 -10.3l12.2 -3.7l15.4 10.4z"/>
<path class="c47" d="M386.2 349.3l-15.4 -8.1l12.2 -4.5l15.4 8.1z"/>
<path class="c32" d="M616.7 438.9l-15.4 -11.6l12.2 -3.7l15.4 11.6z"/>
<path class="c27" d="M675.1 471.9l-15.4 -12.6l12.2 -3.5l15.4 12.5z"/>
<path class="c26" d="M647.5 475.3l-15.4 -9.5l12.2 -4.3l15.4 9.6z"/>
<path class="c31" d="M561.5 447.1l-15.4 -8.7l12.2 -4.4l15.4 8.7z"/>
<path class="c25" d="M592.3 483.5l-15.4 -6.7l12.2 -4.8l15.4 6.7z"/>
<path class="c29" d="M604.5 460.7l-15.4 -9.1l12.2 -4.3l15.4 9.1z"/>
<path class="c37" d="M404.8 409.2l-15.4 -7.3l12.2 -4.8l15.4 7.3z"/>
<path class="c28" d="M451 464.9l-15.4 -6l12.2 -5.1l15.4 6.1z"/>
<path class="c59" d="M324.6 273.1l-15.4 -7.8l12.2 -4.3l15.4 7.8z"/>
<path class="c42" d="M472.3 376.3l-15.4 -9.4l12.2 -4.2l15.4 9.4z"/>
<path class="c45" d="M429.2 362.1l-15.4 -8.8l12.3 -4.3l15.4 8.8z"/>
<path class="c27" d="M521.7 473.6l-15.4 -6.3l12.2 -4.9l15.4 6.3z"/>
<path class="c55" d="M410.7 300.3l-15.5 -9.5l12.3 -3.8l15.4 9.5z"/>
<path class="c19" d="M748.9 521.6l-15.4 -13.8l12.2 -3.4l15.4 13.8z"/>
<path class="c33" d="M644.3 432.7l-15.4 -14.5l12.2 -3l15.4 14.5z"/>
<path class="c57" d="M367.6 285.8l-15.4 -8.7l12.2 -4.1l15.4 8.7z"/>
<path class="c42" d="M570.5 380.4l-15.4 -12.8l12.2 -3.3l15.4 12.9z"/>
<path class="c39" d="M334.1 398l-15.4 -6.6l12.2 -5.1l15.4 6.7z"/>
<path class="c22" d="M705.9 504.1l-15.4 -7.2l12.2 -4.7l15.4 7.2z"/>
<path class="c47" d="M512.1 346.6l-15.4 -11.6l12.2 -3.4l15.4 11.6z"/>
<path class="c63" d="M183.1 251.4l-15.4 -5.3l12.3 -5.1l15.4 5.3z"/>
<path class="c62" d="M253.9 260l-15.5 -6.6l12.3 -4.7l15.4 6.6z"/>
<path class="c36" d="M447.8 419.5l-15.4 -7.7l12.2 -4.7l15.4 7.7z"/>
<path class="c29" d="M352.7 456.7l-15.4 -5.6l12.2 -5.1l15.4 5.6z"/>
<path class="c49" d="M315.5 335.2l-15.4 -7.2l12.2 -4.8l15.4 7.2z"/>
<path class="c19" d="M748.9 517.8l-15.4 -10.6l12.2 -4l15.4 10.6z"/>
<path class="c35" d="M573.7 419.9l-15.4 -11l12.2 -3.9l15.4 11z"/>
<path class="c24" d="M635.3 492.3l-15.4 -6.9l12.2 -4.7l15.4 6.8z"/>
<path class="c51" d="M244.8 324.5l-15.4 -6.3l12.2 -5.1l15.4 6.3z"/>
<path class="c25" d="M690.5 484.7l-15.4 -12.8l12.2 -3.6l15.4 12.9z"/>
<path class="c31" d="M659.7 447.6l-15.4 -14.9l12.2 -3l15.4 14.9z"/>
<path class="c28" d="M423.4 463.9l-15.4 -5.9l12.2 -5.1l15.4 6z"/>
<path class="c31" d="M632.1 450.8l-15.4 -11.9l12.2 -3.7l15.4 11.9z"/>
<path class="c20" d="M748.9 514.1l-15.4 -7.4l12.2 -4.6l15.4 7.4z"/>
<path class="c26" d="M564.7 481.7l-15.4 -6.5l12.2 -4.9l15.4 6.5z"/>
<path class="c34" d="M490.9 430.7l-15.5 -8.1l12.3 -4.6l15.4 8.1z"/>
<path class="c22" d="M705.9 501l-15.4 -10.2l12.2 -4.1l15.4 10.2z"/>
<path class="c27" d="M494 472.2l-15.4 -6.2l12.3 -5l15.4 6.3z"/>
<path class="c38" d="M377.1 406.9l-15.4 -7.1l12.3 -4.9l15.4 7z"/>
<path class="c51" d="M469.1 327.5l-15.4 -10.8l12.2 -3.6l15.4 10.7z"/>
<path class="c48" d="M358.6 345.8l-15.5 -7.8l12.3 -4.7l15.4 7.9z"/>
<path class="c40" d="M585.9 393.7l-15.4 -13.3l12.2 -3.2l15.4 13.2z"/>
<path class="c39" d="M530.7 402.3l-15.4 -10.4l12.2 -4l15.4 10.3z"/>
<path class="c60" d="M296.9 269.7l-15.4 -7.4l12.2 -4.5l15.5 7.5z"/>
<path class="c39" d="M306.4 396.5l-15.4 -6.4l12.3 -5.1l15.4 6.4z"/>
<path class="c32" d="M533.9 442.9l-15.4 -8.5l12.2 -4.5l15.4 8.5z"/>
<path class="c25" d="M662.9 485.1l-15.4 -9.8l12.2 -4.2l15.4 9.7z"/>
<path class="c29" d="M675.1 462.9l-15.4 -15.3l12.2 -3l15.4 15.3z"/>
<path class="c46" d="M527.5 358.6l-15.4 -12l12.2 -3.4l15.4 12z"/>
<path class="c30" d="M576.9 456l-15.4 -8.9l12.2 -4.4l15.4 8.9z"/>
<path class="c28" d="M619.9 470.1l-15.4 -9.4l12.2 -4.3l15.4 9.4z"/>
<path class="c46" d="M401.6 357.8l-15.4 -8.5l12.2 -4.5l15.4 8.5z"/>
<path class="c41" d="M487.7 386.1l-15.4 -9.8l12.2 -4.2l15.4 9.8z"/>
<path class="c22" d="M678.3 501.6l-15.4 -7.1l12.2 -4.7l15.4 7.1z"/>
<path class="c62" d="M226.2 258.3l-15.4 -6.2l12.2 -4.9l15.4 6.2z"/>
<path class="c44" d="M444.6 371.2l-15.4 -9.1l12.3 -4.3l15.4 9.1z"/>
<path class="c54" d="M426.1 310.2l-15.4 -9.9l12.2 -3.8l15.4 9.9z"/>
<path class="c58" d="M340 281.4l-15.4 -8.3l12.2 -4.3l15.4 8.3z"/>
<path class="c50" d="M287.8 332.9l-15.4 -6.9l12.3 -5l15.4 7z"/>
<path class="c23" d="M705.9 497.9l-15.4 -13.2l12.2 -3.5l15.4 13.1z"/>
<path class="c36" d="M420.2 416.7l-15.4 -7.5l12.2 -4.8l15.4 7.4z"/>
<path class="c29" d="M395.7 463.1l-15.4 -5.8l12.3 -5.1l15.4 5.8z"/>
<path class="c56" d="M383 294.9l-15.4 -9.1l12.2 -4.1l15.4 9.1z"/>
<path class="c34" d="M589.1 431.2l-15.4 -11.3l12.2 -3.9l15.4 11.3z"/>
<path class="c24" d="M607.7 490.3l-15.4 -6.8l12.2 -4.8l15.4 6.7z"/>
<path class="c26" d="M690.5 478.7l-15.4 -15.8l12.2 -3l15.4 15.7z"/>
<path class="c28" d="M466.4 471l-15.4 -6.1l12.2 -5l15.4 6.1z"/>
<path class="c38" d="M601.3 407.3l-15.4 -13.6l12.2 -3.3l15.4 13.7z"/>
<path class="c29" d="M647.5 463.1l-15.4 -12.3l12.2 -3.7l15.4 12.2z"/>
<path class="c26" d="M537.1 480.1l-15.4 -6.5l12.2 -4.9l15.4 6.5z"/>
<path class="c21" d="M721.3 511.3l-15.4 -7.2l12.2 -4.7l15.4 7.3z"/>
<path class="c38" d="M349.5 404.9l-15.4 -6.9l12.2 -5l15.4 6.8z"/>
<path class="c35" d="M463.2 427.4l-15.4 -7.9l12.2 -4.7l15.4 7.8z"/>
<path class="c49" d="M484.5 338.7l-15.4 -11.2l12.2 -3.7l15.4 11.2z"/>
<path class="c21" d="M721.3 511.4l-15.4 -10.4l12.2 -4.1l15.4 10.3z"/>
<path class="c49" d="M330.9 342.8l-15.4 -7.6l12.2 -4.8l15.4 7.6z"/>
<path class="c24" d="M705.9 494.8l-15.4 -16.1l12.2 -3.1l15.4 16.2z"/>
<path class="c61" d="M269.3 267l-15.4 -7l12.2 -4.7l15.4 7z"/>
<path class="c37" d="M546.1 412.9l-15.4 -10.6l12.2 -4.1l15.4 10.7z"/>
<path class="c44" d="M542.9 371l-15.4 -12.4l12.2 -3.4l15.4 12.4z"/>
<path class="c63" d="M198.5 257.2l-15.4 -5.8l12.3 -5.1l15.4 5.8z"/>
<path class="c21" d="M721.3 511.4l-15.4 -13.5l12.2 -3.6l15.4 13.5z"/>
<path class="c23" d="M650.7 499.3l-15.4 -7l12.2 -4.8l15.4 7z"/>
<path class="c29" d="M368.1 462.5l-15.4 -5.8l12.2 -5.1l15.4 5.7z"/>
<path class="c33" d="M506.3 439l-15.4 -8.3l12.2 -4.6l15.4 8.3z"/>
<path class="c24" d="M678.3 495l-15.4 -9.9l12.2 -4.3l15.4 10z"/>
<path class="c51" d="M260.2 331.1l-15.4 -6.6l12.2 -5.1l15.4 6.6z"/>
<path class="c36" d="M616.7 421.4l-15.4 -14.1l12.2 -3.2l15.4 14.1z"/>
<path class="c21" d="M721.3 511.4l-15.4 -16.6l12.2 -3l15.4 16.6z"/>
<path class="c47" d="M374 354l-15.4 -8.2l12.2 -4.6l15.4 8.1z"/>
<path class="c40" d="M503.1 396.1l-15.4 -10l12.2 -4.2l15.4 10z"/>
<path class="c25" d="M580.1 488.4l-15.4 -6.7l12.2 -4.9l15.4 6.7z"/>
<path class="c28" d="M438.8 470l-15.4 -6.1l12.2 -5l15.4 6z"/>
<path class="c31" d="M549.3 451.6l-15.4 -8.7l12.2 -4.5l15.4 8.7z"/>
<path class="c37" d="M392.6 414.1l-15.5 -7.2l12.3 -5l15.4 7.3z"/>
<path class="c26" d="M635.3 479.6l-15.4 -9.5l12.2 -4.3l15.4 9.5z"/>
<path class="c32" d="M604.5 442.8l-15.4 -11.6l12.2 -3.9l15.4 11.6z"/>
<path class="c52" d="M441.5 320.6l-15.4 -10.4l12.2 -3.8l15.4 10.3z"/>
<path class="c27" d="M662.9 475.6l-15.4 -12.5l12.2 -3.8l15.4 12.6z"/>
<path class="c27" d="M509.4 478.6l-15.4 -6.4l12.3 -4.9l15.4 6.3z"/>
<path class="c29" d="M592.3 465.2l-15.4 -9.2l12.2 -4.4l15.4 9.1z"/>
<path class="c60" d="M312.3 277.6l-15.4 -7.9l12.3 -4.4l15.4 7.8z"/>
<path class="c45" d="M417 366.6l-15.4 -8.8l12.2 -4.5l15.4 8.8z"/>
<path class="c18" d="M736.7 528.4l-15.4 -17l12.2 -3l15.4 17z"/>
<path class="c43" d="M460 380.7l-15.4 -9.5l12.3 -4.3l15.4 9.4z"/>
<path class="c39" d="M321.9 403.2l-15.5 -6.7l12.3 -5.1l15.4 6.6z"/>
<path class="c55" d="M398.4 304.4l-15.4 -9.5l12.2 -4.1l15.5 9.5z"/>
<path class="c58" d="M355.4 290l-15.4 -8.6l12.2 -4.3l15.4 8.7z"/>
<path class="c22" d="M693.7 508.8l-15.4 -7.2l12.2 -4.7l15.4 7.2z"/>
<path class="c19" d="M736.7 525.2l-15.4 -13.8l12.2 -3.6l15.4 13.8z"/>
<path class="c42" d="M558.3 383.8l-15.4 -12.8l12.2 -3.4l15.4 12.8z"/>
<path class="c34" d="M632.1 435.9l-15.4 -14.5l12.2 -3.2l15.4 14.5z"/>
<path class="c48" d="M499.9 350.2l-15.4 -11.5l12.2 -3.7l15.4 11.6z"/>
<path class="c62" d="M241.6 264.9l-15.4 -6.6l12.2 -4.9l15.5 6.6z"/>
<path class="c49" d="M303.3 340.2l-15.5 -7.3l12.3 -4.9l15.4 7.2z"/>
<path class="c36" d="M435.6 424.3l-15.4 -7.6l12.2 -4.9l15.4 7.7z"/>
<path class="c20" d="M736.7 521.9l-15.4 -10.5l12.2 -4.2l15.4 10.6z"/>
<path class="c36" d="M561.5 423.9l-15.4 -11l12.2 -4l15.4 11z"/>
<path class="c24" d="M623.1 497.1l-15.4 -6.8l12.2 -4.9l15.4 6.9z"/>
<path class="c28" d="M411.2 469l-15.5 -5.9l12.3 -5.1l15.4 5.9z"/>
<path class="c26" d="M552.5 486.6l-15.4 -6.5l12.2 -4.9l15.4 6.5z"/>
<path class="c25" d="M678.3 488.5l-15.4 -12.9l12.2 -3.7l15.4 12.8z"/>
<path class="c27" d="M481.8 477.3l-15.4 -6.3l12.2 -5l15.4 6.2z"/>
<path class="c20" d="M736.7 518.7l-15.4 -7.4l12.2 -4.6l15.4 7.4z"/>
<path class="c34" d="M478.6 435.5l-15.4 -8.1l12.2 -4.8l15.5 8.1z"/>
<path class="c38" d="M364.9 411.9l-15.4 -7l12.2 -5.1l15.4 7.1z"/>
<path class="c31" d="M619.9 454.7l-15.4 -11.9l12.2 -3.9l15.4 11.9z"/>
<path class="c23" d="M693.7 505.2l-15.4 -10.2l12.2 -4.2l15.4 10.2z"/>
<path class="c31" d="M647.5 450.8l-15.4 -14.9l12.2 -3.2l15.4 14.9z"/>
<path class="c48" d="M346.3 350.6l-15.4 -7.8l12.2 -4.8l15.5 7.8z"/>
<path class="c39" d="M518.5 406.5l-15.4 -10.4l12.2 -4.2l15.4 10.4z"/>
<path class="c51" d="M456.9 331.3l-15.4 -10.7l12.2 -3.9l15.4 10.8z"/>
<path class="c60" d="M284.7 274.4l-15.4 -7.4l12.2 -4.7l15.4 7.4z"/>
<path class="c32" d="M521.7 447.5l-15.4 -8.5l12.2 -4.6l15.4 8.5z"/>
<path class="c40" d="M573.7 397.1l-15.4 -13.3l12.2 -3.4l15.4 13.3z"/>
<path class="c25" d="M650.7 489.4l-15.4 -9.8l12.2 -4.3l15.4 9.8z"/>
<path class="c23" d="M666.1 506.4l-15.4 -7.1l12.2 -4.8l15.4 7.1z"/>
<path class="c46" d="M389.4 362.5l-15.4 -8.5l12.2 -4.7l15.4 8.5z"/>
<path class="c30" d="M564.7 460.6l-15.4 -9l12.2 -4.5l15.4 8.9z"/>
<path class="c28" d="M607.7 474.5l-15.4 -9.3l12.2 -4.5l15.4 9.4z"/>
<path class="c62" d="M213.9 263.4l-15.4 -6.2l12.3 -5.1l15.4 6.2z"/>
<path class="c41" d="M475.4 390.4l-15.4 -9.7l12.3 -4.4l15.4 9.8z"/>
<path class="c46" d="M515.3 362.2l-15.4 -12l12.2 -3.6l15.4 12z"/>
<path class="c44" d="M432.4 375.7l-15.4 -9.1l12.2 -4.5l15.4 9.1z"/>
<path class="c50" d="M275.6 338.1l-15.4 -7l12.2 -5.1l15.4 6.9z"/>
<path class="c29" d="M662.9 466.1l-15.4 -15.3l12.2 -3.2l15.4 15.3z"/>
<path class="c29" d="M383.5 468.3l-15.4 -5.8l12.2 -5.2l15.4 5.8z"/>
<path class="c54" d="M413.8 314.3l-15.4 -9.9l12.3 -4.1l15.4 9.9z"/>
<path class="c59" d="M327.7 285.8l-15.4 -8.2l12.3 -4.5l15.4 8.3z"/>
<path class="c36" d="M408 421.6l-15.4 -7.5l12.2 -4.9l15.4 7.5z"/>
<path class="c24" d="M595.5 495.1l-15.4 -6.7l12.2 -4.9l15.4 6.8z"/>
<path class="c57" d="M370.8 299.1l-15.4 -9.1l12.2 -4.2l15.4 9.1z"/>
<path class="c23" d="M693.7 501.6l-15.4 -13.1l12.2 -3.8l15.4 13.2z"/>
<path class="c34" d="M576.9 435.2l-15.4 -11.3l12.2 -4l15.4 11.3z"/>
<path class="c28" d="M454.2 476.1l-15.4 -6.1l12.2 -5.1l15.4 6.1z"/>
<path class="c26" d="M524.9 485l-15.5 -6.4l12.3 -5l15.4 6.5z"/>
<path class="c38" d="M337.3 410l-15.4 -6.8l12.2 -5.2l15.4 6.9z"/>
<path class="c29" d="M635.3 466.9l-15.4 -12.2l12.2 -3.9l15.4 12.3z"/>
<path class="c21" d="M709.1 516l-15.4 -7.2l12.2 -4.7l15.4 7.2z"/>
<path class="c27" d="M678.3 481.9l-15.4 -15.8l12.2 -3.2l15.4 15.8z"/>
<path class="c38" d="M589.1 410.8l-15.4 -13.7l12.2 -3.4l15.4 13.6z"/>
<path class="c35" d="M451 432.2l-15.4 -7.9l12.2 -4.8l15.4 7.9z"/>
<path class="c49" d="M318.7 347.7l-15.4 -7.5l12.2 -5l15.4 7.6z"/>
<path class="c61" d="M257 271.9l-15.4 -7l12.3 -4.9l15.4 7z"/>
<path class="c21" d="M709.1 515.6l-15.4 -10.4l12.2 -4.2l15.4 10.4z"/>
<path class="c50" d="M472.3 342.5l-15.4 -11.2l12.2 -3.8l15.4 11.2z"/>
<path class="c37" d="M533.9 417.1l-15.4 -10.6l12.2 -4.2l15.4 10.6z"/>
<path class="c23" d="M638.5 504.1l-15.4 -7l12.2 -4.8l15.4 7z"/>
<path class="c24" d="M693.7 498l-15.4 -16.1l12.2 -3.2l15.4 16.1z"/>
<path class="c44" d="M530.7 374.7l-15.4 -12.5l12.2 -3.6l15.4 12.4z"/>
<path class="c33" d="M494 443.8l-15.4 -8.3l12.3 -4.8l15.4 8.3z"/>
<path class="c21" d="M709.1 515.1l-15.4 -13.5l12.2 -3.7l15.4 13.5z"/>
<path class="c24" d="M666.1 499.3l-15.4 -9.9l12.2 -4.3l15.4 9.9z"/>
<path class="c47" d="M361.7 358.8l-15.4 -8.2l12.3 -4.8l15.4 8.2z"/>
<path class="c28" d="M426.6 475.1l-15.4 -6.1l12.2 -5.1l15.4 6.1z"/>
<path class="c25" d="M567.9 493.3l-15.4 -6.7l12.2 -4.9l15.4 6.7z"/>
<path class="c37" d="M380.3 419.2l-15.4 -7.3l12.2 -5l15.5 7.2z"/>
<path class="c31" d="M537.1 456.3l-15.4 -8.8l12.2 -4.6l15.4 8.7z"/>
<path class="c27" d="M497.2 483.6l-15.4 -6.3l12.2 -5.1l15.4 6.4z"/>
<path class="c40" d="M490.9 400.4l-15.5 -10l12.3 -4.3l15.4 10z"/>
<path class="c36" d="M604.5 424.8l-15.4 -14l12.2 -3.5l15.4 14.1z"/>
<path class="c27" d="M623.1 484l-15.4 -9.5l12.2 -4.4l15.4 9.5z"/>
<path class="c21" d="M709.1 514.6l-15.4 -16.6l12.2 -3.2l15.4 16.6z"/>
<path class="c29" d="M580.1 469.7l-15.4 -9.1l12.2 -4.6l15.4 9.2z"/>
<path class="c60" d="M300.1 282.3l-15.4 -7.9l12.2 -4.7l15.4 7.9z"/>
<path class="c33" d="M592.3 446.8l-15.4 -11.6l12.2 -4l15.4 11.6z"/>
<path class="c53" d="M429.2 324.6l-15.4 -10.3l12.3 -4.1l15.4 10.4z"/>
<path class="c45" d="M404.8 371.3l-15.4 -8.8l12.2 -4.7l15.4 8.8z"/>
<path class="c43" d="M447.8 385.2l-15.4 -9.5l12.2 -4.5l15.4 9.5z"/>
<path class="c27" d="M650.7 479.5l-15.4 -12.6l12.2 -3.8l15.4 12.5z"/>
<path class="c19" d="M724.5 531.6l-15.4 -17l12.2 -3.2l15.4 17z"/>
<path class="c22" d="M681.5 513.5l-15.4 -7.1l12.2 -4.8l15.4 7.2z"/>
<path class="c58" d="M343.1 294.5l-15.4 -8.7l12.3 -4.4l15.4 8.6z"/>
<path class="c55" d="M386.2 308.6l-15.4 -9.5l12.2 -4.2l15.4 9.5z"/>
<path class="c49" d="M291 345.3l-15.4 -7.2l12.2 -5.2l15.5 7.3z"/>
<path class="c62" d="M229.4 270l-15.5 -6.6l12.3 -5.1l15.4 6.6z"/>
<path class="c36" d="M423.4 429.3l-15.4 -7.7l12.2 -4.9l15.4 7.6z"/>
<path class="c19" d="M724.5 528.9l-15.4 -13.8l12.2 -3.7l15.4 13.8z"/>
<path class="c43" d="M546.1 387.5l-15.4 -12.8l12.2 -3.7l15.4 12.8z"/>
<path class="c48" d="M487.7 354.1l-15.4 -11.6l12.2 -3.8l15.4 11.5z"/>
<path class="c34" d="M619.9 439.3l-15.4 -14.5l12.2 -3.4l15.4 14.5z"/>
<path class="c24" d="M610.9 502l-15.4 -6.9l12.2 -4.8l15.4 6.8z"/>
<path class="c28" d="M398.9 474.2l-15.4 -5.9l12.2 -5.2l15.5 5.9z"/>
<path class="c20" d="M724.5 526.2l-15.4 -10.6l12.2 -4.2l15.4 10.5z"/>
<path class="c36" d="M549.3 428.1l-15.4 -11l12.2 -4.2l15.4 11z"/>
<path class="c26" d="M540.3 491.6l-15.4 -6.6l12.2 -4.9l15.4 6.5z"/>
<path class="c27" d="M469.6 482.3l-15.4 -6.2l12.2 -5.1l15.4 6.3z"/>
<path class="c20" d="M724.5 523.4l-15.4 -7.4l12.2 -4.7l15.4 7.4z"/>
<path class="c38" d="M352.7 417.1l-15.4 -7.1l12.2 -5.1l15.4 7z"/>
<path class="c34" d="M466.4 440.3l-15.4 -8.1l12.2 -4.8l15.4 8.1z"/>
<path class="c48" d="M334.1 355.6l-15.4 -7.9l12.2 -4.9l15.4 7.8z"/>
<path class="c26" d="M666.1 492.3l-15.4 -12.8l12.2 -3.9l15.4 12.9z"/>
<path class="c23" d="M681.5 509.5l-15.4 -10.2l12.2 -4.3l15.4 10.2z"/>
<path class="c31" d="M607.7 458.7l-15.4 -11.9l12.2 -4l15.4 11.9z"/>
<path class="c60" d="M272.4 279.3l-15.4 -7.4l12.3 -4.9l15.4 7.4z"/>
<path class="c39" d="M506.3 410.8l-15.4 -10.4l12.2 -4.3l15.4 10.4z"/>
<path class="c32" d="M635.3 454.2l-15.4 -14.9l12.2 -3.4l15.4 14.9z"/>
<path class="c32" d="M509.4 452.3l-15.4 -8.5l12.3 -4.8l15.4 8.5z"/>
<path class="c51" d="M444.6 335.4l-15.4 -10.8l12.3 -4l15.4 10.7z"/>
<path class="c25" d="M638.5 493.8l-15.4 -9.8l12.2 -4.4l15.4 9.8z"/>
<path class="c23" d="M653.9 511.2l-15.4 -7.1l12.2 -4.8l15.4 7.1z"/>
<path class="c46" d="M377.1 367.3l-15.4 -8.5l12.3 -4.8l15.4 8.5z"/>
<path class="c30" d="M552.5 465.2l-15.4 -8.9l12.2 -4.7l15.4 9z"/>
<path class="c41" d="M561.5 400.7l-15.4 -13.2l12.2 -3.7l15.4 13.3z"/>
<path class="c28" d="M595.5 479l-15.4 -9.3l12.2 -4.5l15.4 9.3z"/>
<path class="c42" d="M463.2 394.9l-15.4 -9.7l12.2 -4.5l15.4 9.7z"/>
<path class="c44" d="M420.2 380.4l-15.4 -9.1l12.2 -4.7l15.4 9.1z"/>
<path class="c36" d="M395.7 426.6l-15.4 -7.4l12.3 -5.1l15.4 7.5z"/>
<path class="c59" d="M315.5 290.5l-15.4 -8.2l12.2 -4.7l15.4 8.2z"/>
<path class="c46" d="M503.1 366.1l-15.4 -12l12.2 -3.9l15.4 12z"/>
<path class="c25" d="M583.3 500l-15.4 -6.7l12.2 -4.9l15.4 6.7z"/>
<path class="c54" d="M401.6 318.6l-15.4 -10l12.2 -4.2l15.4 9.9z"/>
<path class="c28" d="M442 481.2l-15.4 -6.1l12.2 -5.1l15.4 6.1z"/>
<path class="c29" d="M650.7 469.6l-15.4 -15.4l12.2 -3.4l15.4 15.3z"/>
<path class="c26" d="M512.6 490.1l-15.4 -6.5l12.2 -5l15.5 6.4z"/>
<path class="c57" d="M358.6 303.6l-15.5 -9.1l12.3 -4.5l15.4 9.1z"/>
<path class="c24" d="M681.5 505.5l-15.4 -13.2l12.2 -3.8l15.4 13.1z"/>
<path class="c34" d="M564.7 439.4l-15.4 -11.3l12.2 -4.2l15.4 11.3z"/>
<path class="c21" d="M696.9 520.8l-15.4 -7.3l12.2 -4.7l15.4 7.2z"/>
<path class="c29" d="M623.1 471l-15.4 -12.3l12.2 -4l15.4 12.2z"/>
<path class="c35" d="M438.8 437.2l-15.4 -7.9l12.2 -5l15.4 7.9z"/>
<path class="c49" d="M306.4 352.9l-15.4 -7.6l12.3 -5.1l15.4 7.5z"/>
<path class="c39" d="M576.9 414.4l-15.4 -13.7l12.2 -3.6l15.4 13.7z"/>
<path class="c61" d="M244.8 277l-15.4 -7l12.2 -5.1l15.4 7z"/>
<path class="c27" d="M666.1 485.3l-15.4 -15.7l12.2 -3.5l15.4 15.8z"/>
<path class="c21" d="M696.9 519.9l-15.4 -10.4l12.2 -4.3l15.4 10.4z"/>
<path class="c23" d="M626.3 509l-15.4 -7l12.2 -4.9l15.4 7z"/>
<path class="c38" d="M521.7 421.5l-15.4 -10.7l12.2 -4.3l15.4 10.6z"/>
<path class="c50" d="M460 346.6l-15.4 -11.2l12.3 -4.1l15.4 11.2z"/>
<path class="c33" d="M481.8 448.6l-15.4 -8.3l12.2 -4.8l15.4 8.3z"/>
<path class="c28" d="M414.3 480.3l-15.4 -6.1l12.3 -5.2l15.4 6.1z"/>
<path class="c47" d="M349.5 363.8l-15.4 -8.2l12.2 -5l15.4 8.2z"/>
<path class="c45" d="M518.5 378.5l-15.4 -12.4l12.2 -3.9l15.4 12.5z"/>
<path class="c37" d="M368.1 424.3l-15.4 -7.2l12.2 -5.2l15.4 7.3z"/>
<path class="c25" d="M555.7 498.2l-15.4 -6.6l12.2 -5l15.4 6.7z"/>
<path class="c24" d="M653.9 503.8l-15.4 -10l12.2 -4.4l15.4 9.9z"/>
<path class="c24" d="M681.5 501.5l-15.4 -16.2l12.2 -3.4l15.4 16.1z"/>
<path class="c22" d="M696.9 519l-15.4 -13.5l12.2 -3.9l15.4 13.5z"/>
<path class="c27" d="M485 488.7l-15.4 -6.4l12.2 -5l15.4 6.3z"/>
<path class="c31" d="M524.9 461l-15.5 -8.7l12.3 -4.8l15.4 8.8z"/>
<path class="c40" d="M478.6 404.9l-15.4 -10l12.2 -4.5l15.5 10z"/>
<path class="c27" d="M610.9 488.6l-15.4 -9.6l12.2 -4.5l15.4 9.5z"/>
<path class="c60" d="M287.8 287.1l-15.4 -7.8l12.3 -4.9l15.4 7.9z"/>
<path class="c29" d="M567.9 474.3l-15.4 -9.1l12.2 -4.6l15.4 9.1z"/>
<path class="c45" d="M392.6 376.1l-15.5 -8.8l12.3 -4.8l15.4 8.8z"/>
<path class="c43" d="M435.6 389.8l-15.4 -9.4l12.2 -4.7l15.4 9.5z"/>
<path class="c37" d="M592.3 428.5l-15.4 -14.1l12.2 -3.6l15.4 14z"/>
<path class="c53" d="M417 328.9l-15.4 -10.3l12.2 -4.3l15.4 10.3z"/>
<path class="c33" d="M580.1 451l-15.4 -11.6l12.2 -4.2l15.4 11.6z"/>
<path class="c22" d="M696.9 518.1l-15.4 -16.6l12.2 -3.5l15.4 16.6z"/>
<path class="c28" d="M638.5 483.5l-15.4 -12.5l12.2 -4.1l15.4 12.6z"/>
<path class="c22" d="M669.3 518.3l-15.4 -7.1l12.2 -4.8l15.4 7.1z"/>
<path class="c58" d="M330.9 299.2l-15.4 -8.7l12.2 -4.7l15.4 8.7z"/>
<path class="c56" d="M374 313.1l-15.4 -9.5l12.2 -4.5l15.4 9.5z"/>
<path class="c36" d="M411.2 434.3l-15.5 -7.7l12.3 -5l15.4 7.7z"/>
<path class="c19" d="M712.3 535l-15.4 -16.9l12.2 -3.5l15.4 17z"/>
<path class="c24" d="M598.7 506.9l-15.4 -6.9l12.2 -4.9l15.4 6.9z"/>
<path class="c20" d="M712.3 532.8l-15.4 -13.8l12.2 -3.9l15.4 13.8z"/>
<path class="c43" d="M533.9 391.3l-15.4 -12.8l12.2 -3.8l15.4 12.8z"/>
<path class="c48" d="M475.4 358.1l-15.4 -11.5l12.3 -4.1l15.4 11.6z"/>
<path class="c20" d="M712.3 530.5l-15.4 -10.6l12.2 -4.3l15.4 10.6z"/>
<path class="c27" d="M457.4 487.5l-15.4 -6.3l12.2 -5.1l15.4 6.2z"/>
<path class="c26" d="M528.1 496.6l-15.5 -6.5l12.3 -5.1l15.4 6.6z"/>
<path class="c34" d="M607.7 443l-15.4 -14.5l12.2 -3.7l15.4 14.5z"/>
<path class="c36" d="M537.1 432.5l-15.4 -11l12.2 -4.4l15.4 11z"/>
<path class="c34" d="M454.2 445.3l-15.4 -8.1l12.2 -5l15.4 8.1z"/>
<path class="c21" d="M712.3 528.2l-15.4 -7.4l12.2 -4.8l15.4 7.4z"/>
<path class="c48" d="M321.9 360.7l-15.5 -7.8l12.3 -5.2l15.4 7.9z"/>
<path class="c60" d="M260.2 284.4l-15.4 -7.4l12.2 -5.1l15.4 7.4z"/>
<path class="c26" d="M653.9 496.4l-15.4 -12.9l12.2 -4l15.4 12.8z"/>
<path class="c23" d="M669.3 513.9l-15.4 -10.1l12.2 -4.5l15.4 10.2z"/>
<path class="c31" d="M595.5 462.9l-15.4 -11.9l12.2 -4.2l15.4 11.9z"/>
<path class="c32" d="M497.2 457.1l-15.4 -8.5l12.2 -4.8l15.4 8.5z"/>
<path class="c39" d="M494 415.3l-15.4 -10.4l12.3 -4.5l15.4 10.4z"/>
<path class="c23" d="M641.7 516l-15.4 -7l12.2 -4.9l15.4 7.1z"/>
<path class="c46" d="M364.9 372.3l-15.4 -8.5l12.2 -5l15.4 8.5z"/>
<path class="c26" d="M626.3 498.3l-15.4 -9.7l12.2 -4.6l15.4 9.8z"/>
<path class="c51" d="M432.4 339.7l-15.4 -10.8l12.2 -4.3l15.4 10.8z"/>
<path class="c32" d="M623.1 457.9l-15.4 -14.9l12.2 -3.7l15.4 14.9z"/>
<path class="c30" d="M540.3 469.9l-15.4 -8.9l12.2 -4.7l15.4 8.9z"/>
<path class="c28" d="M583.3 483.7l-15.4 -9.4l12.2 -4.6l15.4 9.3z"/>
<path class="c42" d="M451 399.6l-15.4 -9.8l12.2 -4.6l15.4 9.7z"/>
<path class="c36" d="M383.5 431.8l-15.4 -7.5l12.2 -5.1l15.4 7.4z"/>
<path class="c44" d="M408 385.2l-15.4 -9.1l12.2 -4.8l15.4 9.1z"/>
<path class="c41" d="M549.3 404.6l-15.4 -13.3l12.2 -3.8l15.4 13.2z"/>
<path class="c59" d="M303.3 295.4l-15.5 -8.3l12.3 -4.8l15.4 8.2z"/>
<path class="c25" d="M571.1 505l-15.4 -6.8l12.2 -4.9l15.4 6.7z"/>
<path class="c28" d="M429.8 486.4l-15.5 -6.1l12.3 -5.2l15.4 6.1z"/>
<path class="c54" d="M389.4 323l-15.4 -9.9l12.2 -4.5l15.4 10z"/>
<path class="c26" d="M500.4 495.1l-15.4 -6.4l12.2 -5.1l15.4 6.5z"/>
<path class="c47" d="M490.9 370.2l-15.5 -12.1l12.3 -4l15.4 12z"/>
<path class="c57" d="M346.3 308.3l-15.4 -9.1l12.2 -4.7l15.5 9.1z"/>
<path class="c35" d="M552.5 443.8l-15.4 -11.3l12.2 -4.4l15.4 11.3z"/>
<path class="c30" d="M638.5 473.2l-15.4 -15.3l12.2 -3.7l15.4 15.4z"/>
<path class="c24" d="M669.3 509.5l-15.4 -13.1l12.2 -4.1l15.4 13.2z"/>
<path class="c21" d="M684.7 525.6l-15.4 -7.3l12.2 -4.8l15.4 7.3z"/>
<path class="c35" d="M426.6 442.2l-15.4 -7.9l12.2 -5l15.4 7.9z"/>
<path class="c30" d="M610.9 475.2l-15.4 -12.3l12.2 -4.2l15.4 12.3z"/>
<path class="c39" d="M564.7 418.3l-15.4 -13.7l12.2 -3.9l15.4 13.7z"/>
<path class="c23" d="M614.1 513.9l-15.4 -7l12.2 -4.9l15.4 7z"/>
<path class="c22" d="M684.7 524.3l-15.4 -10.4l12.2 -4.4l15.4 10.4z"/>
<path class="c27" d="M653.9 489l-15.4 -15.8l12.2 -3.6l15.4 15.7z"/>
<path class="c33" d="M469.6 453.6l-15.4 -8.3l12.2 -5l15.4 8.3z"/>
<path class="c38" d="M509.4 426l-15.4 -10.7l12.3 -4.5l15.4 10.7z"/>
<path class="c50" d="M447.8 350.8l-15.4 -11.1l12.2 -4.3l15.4 11.2z"/>
<path class="c47" d="M337.3 368.9l-15.4 -8.2l12.2 -5.1l15.4 8.2z"/>
<path class="c25" d="M543.5 503.3l-15.4 -6.7l12.2 -5l15.4 6.6z"/>
<path class="c27" d="M472.8 493.8l-15.4 -6.3l12.2 -5.2l15.4 6.4z"/>
<path class="c24" d="M641.7 508.3l-15.4 -10l12.2 -4.5l15.4 10z"/>
<path class="c31" d="M512.6 465.8l-15.4 -8.7l12.2 -4.8l15.5 8.7z"/>
<path class="c45" d="M506.3 382.6l-15.4 -12.4l12.2 -4.1l15.4 12.4z"/>
<path class="c60" d="M275.6 292.2l-15.4 -7.8l12.2 -5.1l15.4 7.8z"/>
<path class="c22" d="M684.7 523l-15.4 -13.5l12.2 -4l15.4 13.5z"/>
<path class="c40" d="M466.4 409.6l-15.4 -10l12.2 -4.7l15.4 10z"/>
<path class="c25" d="M669.3 505.1l-15.4 -16.1l12.2 -3.7l15.4 16.2z"/>
<path class="c27" d="M598.7 493.2l-15.4 -9.5l12.2 -4.7l15.4 9.6z"/>
<path class="c45" d="M380.3 381.1l-15.4 -8.8l12.2 -5l15.5 8.8z"/>
<path class="c29" d="M555.7 479.1l-15.4 -9.2l12.2 -4.7l15.4 9.1z"/>
<path class="c43" d="M423.4 394.6l-15.4 -9.4l12.2 -4.8l15.4 9.4z"/>
<path class="c53" d="M404.8 333.4l-15.4 -10.4l12.2 -4.4l15.4 10.3z"/>
<path class="c33" d="M567.9 455.4l-15.4 -11.6l12.2 -4.4l15.4 11.6z"/>
<path class="c22" d="M657.1 523.2l-15.4 -7.2l12.2 -4.8l15.4 7.1z"/>
<path class="c37" d="M580.1 432.3l-15.4 -14l12.2 -3.9l15.4 14.1z"/>
<path class="c28" d="M626.3 487.7l-15.4 -12.5l12.2 -4.2l15.4 12.5z"/>
<path class="c58" d="M318.7 304.1l-15.4 -8.7l12.2 -4.9l15.4 8.7z"/>
<path class="c36" d="M398.9 439.5l-15.4 -7.7l12.2 -5.2l15.5 7.7z"/>
<path class="c22" d="M684.7 521.7l-15.4 -16.6l12.2 -3.6l15.4 16.6z"/>
<path class="c56" d="M361.7 317.8l-15.4 -9.5l12.3 -4.7l15.4 9.5z"/>
<path class="c24" d="M586.5 511.9l-15.4 -6.9l12.2 -5l15.4 6.9z"/>
<path class="c19" d="M700.1 538.7l-15.4 -17l12.2 -3.6l15.4 16.9z"/>
<path class="c27" d="M445.2 492.6l-15.4 -6.2l12.2 -5.2l15.4 6.3z"/>
<path class="c26" d="M515.8 501.7l-15.4 -6.6l12.2 -5l15.5 6.5z"/>
<path class="c20" d="M700.1 536.8l-15.4 -13.8l12.2 -4l15.4 13.8z"/>
<path class="c48" d="M463.2 362.4l-15.4 -11.6l12.2 -4.2l15.4 11.5z"/>
<path class="c20" d="M700.1 534.9l-15.4 -10.6l12.2 -4.4l15.4 10.6z"/>
<path class="c43" d="M521.7 395.4l-15.4 -12.8l12.2 -4.1l15.4 12.8z"/>
<path class="c36" d="M524.9 437l-15.5 -11l12.3 -4.5l15.4 11z"/>
<path class="c34" d="M442 450.3l-15.4 -8.1l12.2 -5l15.4 8.1z"/>
<path class="c21" d="M700.1 533l-15.4 -7.4l12.2 -4.8l15.4 7.4z"/>
<path class="c35" d="M595.5 446.8l-15.4 -14.5l12.2 -3.8l15.4 14.5z"/>
<path class="c23" d="M657.1 518.5l-15.4 -10.2l12.2 -4.5l15.4 10.1z"/>
<path class="c32" d="M485 462.1l-15.4 -8.5l12.2 -5l15.4 8.5z"/>
<path class="c26" d="M641.7 500.6l-15.4 -12.9l12.2 -4.2l15.4 12.9z"/>
<path class="c31" d="M583.3 467.3l-15.4 -11.9l12.2 -4.4l15.4 11.9z"/>
<path class="c39" d="M481.8 420l-15.4 -10.4l12.2 -4.7l15.4 10.4z"/>
<path class="c46" d="M352.7 377.4l-15.4 -8.5l12.2 -5.1l15.4 8.5z"/>
<path class="c23" d="M629.5 520.9l-15.4 -7l12.2 -4.9l15.4 7z"/>
<path class="c26" d="M614.1 503l-15.4 -9.8l12.2 -4.6l15.4 9.7z"/>
<path class="c30" d="M528.1 474.8l-15.5 -9l12.3 -4.8l15.4 8.9z"/>
<path class="c52" d="M420.2 344.1l-15.4 -10.7l12.2 -4.5l15.4 10.8z"/>
<path class="c28" d="M571.1 488.4l-15.4 -9.3l12.2 -4.8l15.4 9.4z"/>
<path class="c42" d="M438.8 404.4l-15.4 -9.8l12.2 -4.8l15.4 9.8z"/>
<path class="c44" d="M395.7 390.2l-15.4 -9.1l12.3 -5l15.4 9.1z"/>
<path class="c32" d="M610.9 461.7l-15.4 -14.9l12.2 -3.8l15.4 14.9z"/>
<path class="c59" d="M291 300.5l-15.4 -8.3l12.2 -5.1l15.5 8.3z"/>
<path class="c25" d="M558.9 510l-15.4 -6.7l12.2 -5.1l15.4 6.8z"/>
<path class="c26" d="M488.2 500.3l-15.4 -6.5l12.2 -5.1l15.4 6.4z"/>
<path class="c41" d="M537.1 408.7l-15.4 -13.3l12.2 -4.1l15.4 13.3z"/>
<path class="c54" d="M377.1 327.7l-15.4 -9.9l12.3 -4.7l15.4 9.9z"/>
<path class="c57" d="M334.1 313.2l-15.4 -9.1l12.2 -4.9l15.4 9.1z"/>
<path class="c47" d="M478.6 374.4l-15.4 -12l12.2 -4.3l15.5 12.1z"/>
<path class="c21" d="M672.5 530.5l-15.4 -7.3l12.2 -4.9l15.4 7.3z"/>
<path class="c35" d="M540.3 448.3l-15.4 -11.3l12.2 -4.5l15.4 11.3z"/>
<path class="c35" d="M414.3 447.4l-15.4 -7.9l12.3 -5.2l15.4 7.9z"/>
<path class="c24" d="M657.1 513.7l-15.4 -13.1l12.2 -4.2l15.4 13.1z"/>
<path class="c30" d="M626.3 477.1l-15.4 -15.4l12.2 -3.8l15.4 15.3z"/>
<path class="c30" d="M598.7 479.5l-15.4 -12.2l12.2 -4.4l15.4 12.3z"/>
<path class="c23" d="M601.9 518.8l-15.4 -6.9l12.2 -5l15.4 7z"/>
<path class="c33" d="M457.4 458.6l-15.4 -8.3l12.2 -5l15.4 8.3z"/>
<path class="c22" d="M672.5 528.8l-15.4 -10.3l12.2 -4.6l15.4 10.4z"/>
<path class="c39" d="M552.5 422.3l-15.4 -13.6l12.2 -4.1l15.4 13.7z"/>
<path class="c38" d="M497.2 430.6l-15.4 -10.6l12.2 -4.7l15.4 10.7z"/>
<path class="c25" d="M531.3 508.3l-15.5 -6.6l12.3 -5.1l15.4 6.7z"/>
<path class="c28" d="M641.7 492.8l-15.4 -15.7l12.2 -3.9l15.4 15.8z"/>
<path class="c50" d="M435.6 355.3l-15.4 -11.2l12.2 -4.4l15.4 11.1z"/>
<path class="c27" d="M460.6 499l-15.4 -6.4l12.2 -5.1l15.4 6.3z"/>
<path class="c31" d="M500.4 470.8l-15.4 -8.7l12.2 -5l15.4 8.7z"/>
<path class="c24" d="M629.5 512.9l-15.4 -9.9l12.2 -4.7l15.4 10z"/>
<path class="c45" d="M368.1 386.2l-15.4 -8.8l12.2 -5.1l15.4 8.8z"/>
<path class="c41" d="M454.2 414.4l-15.4 -10l12.2 -4.8l15.4 10z"/>
<path class="c45" d="M494 386.8l-15.4 -12.4l12.3 -4.2l15.4 12.4z"/>
<path class="c29" d="M543.5 483.9l-15.4 -9.1l12.2 -4.9l15.4 9.2z"/>
<path class="c27" d="M586.5 497.9l-15.4 -9.5l12.2 -4.7l15.4 9.5z"/>
<path class="c22" d="M672.5 527.2l-15.4 -13.5l12.2 -4.2l15.4 13.5z"/>
<path class="c43" d="M411.2 399.6l-15.5 -9.4l12.3 -5l15.4 9.4z"/>
<path class="c25" d="M657.1 509l-15.4 -16.2l12.2 -3.8l15.4 16.1z"/>
<path class="c53" d="M392.6 338.1l-15.5 -10.4l12.3 -4.7l15.4 10.4z"/>
<path class="c22" d="M644.9 528.1l-15.4 -7.2l12.2 -4.9l15.4 7.2z"/>
<path class="c33" d="M555.7 459.9l-15.4 -11.6l12.2 -4.5l15.4 11.6z"/>
<path class="c58" d="M306.4 309.2l-15.4 -8.7l12.3 -5.1l15.4 8.7z"/>
<path class="c28" d="M614.1 492l-15.4 -12.5l12.2 -4.3l15.4 12.5z"/>
<path class="c56" d="M349.5 322.7l-15.4 -9.5l12.2 -4.9l15.4 9.5z"/>
<path class="c37" d="M567.9 436.4l-15.4 -14.1l12.2 -4l15.4 14z"/>
<path class="c22" d="M672.5 525.5l-15.4 -16.5l12.2 -3.9l15.4 16.6z"/>
<path class="c24" d="M574.3 516.9l-15.4 -6.9l12.2 -5l15.4 6.9z"/>
<path class="c26" d="M503.6 506.8l-15.4 -6.5l12.2 -5.2l15.4 6.6z"/>
<path class="c34" d="M429.8 455.5l-15.5 -8.1l12.3 -5.2l15.4 8.1z"/>
<path class="c20" d="M687.9 542.5l-15.4 -17l12.2 -3.8l15.4 17z"/>
<path class="c20" d="M687.9 541l-15.4 -13.8l12.2 -4.2l15.4 13.8z"/>
<path class="c20" d="M687.9 539.4l-15.4 -10.6l12.2 -4.5l15.4 10.6z"/>
<path class="c49" d="M451 366.9l-15.4 -11.6l12.2 -4.5l15.4 11.6z"/>
<path class="c21" d="M687.9 537.9l-15.4 -7.4l12.2 -4.9l15.4 7.4z"/>
<path class="c36" d="M512.6 441.6l-15.4 -11l12.2 -4.6l15.5 11z"/>
<path class="c43" d="M509.4 399.7l-15.4 -12.9l12.3 -4.2l15.4 12.8z"/>
<path class="c35" d="M583.3 450.9l-15.4 -14.5l12.2 -4.1l15.4 14.5z"/>
<path class="c32" d="M472.8 467.1l-15.4 -8.5l12.2 -5l15.4 8.5z"/>
<path class="c23" d="M644.9 523.1l-15.4 -10.2l12.2 -4.6l15.4 10.2z"/>
<path class="c39" d="M469.6 424.8l-15.4 -10.4l12.2 -4.8l15.4 10.4z"/>
<path class="c23" d="M617.3 525.9l-15.4 -7.1l12.2 -4.9l15.4 7z"/>
<path class="c26" d="M629.5 504.9l-15.4 -12.9l12.2 -4.3l15.4 12.9z"/>
<path class="c32" d="M571.1 471.8l-15.4 -11.9l12.2 -4.5l15.4 11.9z"/>
<path class="c30" d="M515.8 479.7l-15.4 -8.9l12.2 -5l15.5 9z"/>
<path class="c26" d="M601.9 507.7l-15.4 -9.8l12.2 -4.7l15.4 9.8z"/>
<path class="c52" d="M408 348.8l-15.4 -10.7l12.2 -4.7l15.4 10.7z"/>
<path class="c28" d="M558.9 493.2l-15.4 -9.3l12.2 -4.8l15.4 9.3z"/>
<path class="c44" d="M383.5 395.3l-15.4 -9.1l12.2 -5.1l15.4 9.1z"/>
<path class="c42" d="M426.6 409.3l-15.4 -9.7l12.2 -5l15.4 9.8z"/>
<path class="c25" d="M546.7 515.1l-15.4 -6.8l12.2 -5l15.4 6.7z"/>
<path class="c26" d="M476 505.4l-15.4 -6.4l12.2 -5.2l15.4 6.5z"/>
<path class="c33" d="M598.7 465.8l-15.4 -14.9l12.2 -4.1l15.4 14.9z"/>
<path class="c55" d="M364.9 332.6l-15.4 -9.9l12.2 -4.9l15.4 9.9z"/>
<path class="c57" d="M321.9 318.3l-15.5 -9.1l12.3 -5.1l15.4 9.1z"/>
<path class="c41" d="M524.9 412.9l-15.5 -13.2l12.3 -4.3l15.4 13.3z"/>
<path class="c47" d="M466.4 378.9l-15.4 -12l12.2 -4.5l15.4 12z"/>
<path class="c21" d="M660.3 535.4l-15.4 -7.3l12.2 -4.9l15.4 7.3z"/>
<path class="c35" d="M528.1 452.9l-15.5 -11.3l12.3 -4.6l15.4 11.3z"/>
<path class="c24" d="M644.9 518.1l-15.4 -13.2l12.2 -4.3l15.4 13.1z"/>
<path class="c30" d="M614.1 481.1l-15.4 -15.3l12.2 -4.1l15.4 15.4z"/>
<path class="c30" d="M586.5 484l-15.4 -12.2l12.2 -4.5l15.4 12.2z"/>
<path class="c23" d="M589.7 523.9l-15.4 -7l12.2 -5l15.4 6.9z"/>
<path class="c33" d="M445.2 463.8l-15.4 -8.3l12.2 -5.2l15.4 8.3z"/>
<path class="c22" d="M660.3 533.5l-15.4 -10.4l12.2 -4.6l15.4 10.3z"/>
<path class="c25" d="M519 513.5l-15.4 -6.7l12.2 -5.1l15.5 6.6z"/>
<path class="c38" d="M485 435.4l-15.4 -10.6l12.2 -4.8l15.4 10.6z"/>
<path class="c39" d="M540.3 426.6l-15.4 -13.7l12.2 -4.2l15.4 13.6z"/>
<path class="c50" d="M423.4 360l-15.4 -11.2l12.2 -4.7l15.4 11.2z"/>
<path class="c31" d="M488.2 475.8l-15.4 -8.7l12.2 -5l15.4 8.7z"/>
<path class="c28" d="M629.5 496.9l-15.4 -15.8l12.2 -4l15.4 15.7z"/>
<path class="c25" d="M617.3 517.7l-15.4 -10l12.2 -4.7l15.4 9.9z"/>
<path class="c41" d="M442 419.4l-15.4 -10.1l12.2 -4.9l15.4 10z"/>
<path class="c29" d="M531.3 488.8l-15.5 -9.1l12.3 -4.9l15.4 9.1z"/>
<path class="c27" d="M574.3 502.8l-15.4 -9.6l12.2 -4.8l15.4 9.5z"/>
<path class="c43" d="M398.9 404.7l-15.4 -9.4l12.2 -5.1l15.5 9.4z"/>
<path class="c45" d="M481.8 391.3l-15.4 -12.4l12.2 -4.5l15.4 12.4z"/>
<path class="c22" d="M660.3 531.5l-15.4 -13.4l12.2 -4.4l15.4 13.5z"/>
<path class="c22" d="M632.7 533.1l-15.4 -7.2l12.2 -5l15.4 7.2z"/>
<path class="c53" d="M380.3 343l-15.4 -10.4l12.2 -4.9l15.5 10.4z"/>
<path class="c33" d="M543.5 464.5l-15.4 -11.6l12.2 -4.6l15.4 11.6z"/>
<path class="c25" d="M644.9 513l-15.4 -16.1l12.2 -4.1l15.4 16.2z"/>
<path class="c56" d="M337.3 327.8l-15.4 -9.5l12.2 -5.1l15.4 9.5z"/>
<path class="c28" d="M601.9 496.5l-15.4 -12.5l12.2 -4.5l15.4 12.5z"/>
<path class="c37" d="M555.7 440.7l-15.4 -14.1l12.2 -4.3l15.4 14.1z"/>
<path class="c24" d="M562.1 522l-15.4 -6.9l12.2 -5.1l15.4 6.9z"/>
<path class="c26" d="M491.4 512l-15.4 -6.6l12.2 -5.1l15.4 6.5z"/>
<path class="c23" d="M660.3 529.6l-15.4 -16.6l12.2 -4l15.4 16.5z"/>
<path class="c21" d="M675.7 542.8l-15.4 -7.4l12.2 -4.9l15.4 7.4z"/>
<path class="c36" d="M500.4 446.4l-15.4 -11l12.2 -4.8l15.4 11z"/>
<path class="c21" d="M675.7 544.1l-15.4 -10.6l12.2 -4.7l15.4 10.6z"/>
<path class="c49" d="M438.8 371.6l-15.4 -11.6l12.2 -4.7l15.4 11.6z"/>
<path class="c20" d="M675.7 545.3l-15.4 -13.8l12.2 -4.3l15.4 13.8z"/>
<path class="c20" d="M675.7 546.6l-15.4 -17l12.2 -4.1l15.4 17z"/>
<path class="c43" d="M497.2 404.1l-15.4 -12.8l12.2 -4.5l15.4 12.9z"/>
<path class="c32" d="M460.6 472.3l-15.4 -8.5l12.2 -5.2l15.4 8.5z"/>
<path class="c35" d="M571.1 455.2l-15.4 -14.5l12.2 -4.3l15.4 14.5z"/>
<path class="c23" d="M632.7 527.8l-15.4 -10.1l12.2 -4.8l15.4 10.2z"/>
<path class="c23" d="M605.1 530.9l-15.4 -7l12.2 -5.1l15.4 7.1z"/>
<path class="c39" d="M457.4 429.7l-15.4 -10.3l12.2 -5l15.4 10.4z"/>
<path class="c32" d="M558.9 476.4l-15.4 -11.9l12.2 -4.6l15.4 11.9z"/>
<path class="c30" d="M503.6 484.7l-15.4 -8.9l12.2 -5l15.4 8.9z"/>
<path class="c26" d="M617.3 509.4l-15.4 -12.9l12.2 -4.5l15.4 12.9z"/>
<path class="c26" d="M589.7 512.5l-15.4 -9.7l12.2 -4.9l15.4 9.8z"/>
<path class="c42" d="M414.3 414.5l-15.4 -9.8l12.3 -5.1l15.4 9.7z"/>
<path class="c28" d="M546.7 498.2l-15.4 -9.4l12.2 -4.9l15.4 9.3z"/>
<path class="c52" d="M395.7 353.7l-15.4 -10.7l12.3 -4.9l15.4 10.7z"/>
<path class="c25" d="M534.5 520.2l-15.5 -6.7l12.3 -5.2l15.4 6.8z"/>
<path class="c55" d="M352.7 337.7l-15.4 -9.9l12.2 -5.1l15.4 9.9z"/>
<path class="c33" d="M586.5 470.1l-15.4 -14.9l12.2 -4.3l15.4 14.9z"/>
<path class="c41" d="M512.6 417.4l-15.4 -13.3l12.2 -4.4l15.5 13.2z"/>
<path class="c47" d="M454.2 383.6l-15.4 -12l12.2 -4.7l15.4 12z"/>
<path class="c22" d="M648.1 540.4l-15.4 -7.3l12.2 -5l15.4 7.3z"/>
<path class="c35" d="M515.8 457.7l-15.4 -11.3l12.2 -4.8l15.5 11.3z"/>
<path class="c24" d="M632.7 522.6l-15.4 -13.2l12.2 -4.5l15.4 13.2z"/>
<path class="c23" d="M577.5 528.9l-15.4 -6.9l12.2 -5.1l15.4 7z"/>
<path class="c30" d="M601.9 485.4l-15.4 -15.3l12.2 -4.3l15.4 15.3z"/>
<path class="c30" d="M574.3 488.7l-15.4 -12.3l12.2 -4.6l15.4 12.2z"/>
<path class="c25" d="M506.8 518.6l-15.4 -6.6l12.2 -5.2l15.4 6.7z"/>
<path class="c22" d="M648.1 538.2l-15.4 -10.4l12.2 -4.7l15.4 10.4z"/>
<path class="c38" d="M472.8 440.4l-15.4 -10.7l12.2 -4.9l15.4 10.6z"/>
<path class="c50" d="M411.2 364.9l-15.5 -11.2l12.3 -4.9l15.4 11.2z"/>
<path class="c31" d="M476 481l-15.4 -8.7l12.2 -5.2l15.4 8.7z"/>
<path class="c39" d="M528.1 431.1l-15.5 -13.7l12.3 -4.5l15.4 13.7z"/>
<path class="c25" d="M605.1 522.5l-15.4 -10l12.2 -4.8l15.4 10z"/>
<path class="c41" d="M429.8 424.5l-15.5 -10l12.3 -5.2l15.4 10.1z"/>
<path class="c28" d="M617.3 501.1l-15.4 -15.7l12.2 -4.3l15.4 15.8z"/>
<path class="c29" d="M519 493.9l-15.4 -9.2l12.2 -5l15.5 9.1z"/>
<path class="c27" d="M562.1 507.7l-15.4 -9.5l12.2 -5l15.4 9.6z"/>
<path class="c45" d="M469.6 396l-15.4 -12.4l12.2 -4.7l15.4 12.4z"/>
<path class="c22" d="M620.5 538.1l-15.4 -7.2l12.2 -5l15.4 7.2z"/>
<path class="c53" d="M368.1 348.1l-15.4 -10.4l12.2 -5.1l15.4 10.4z"/>
<path class="c22" d="M648.1 536l-15.4 -13.4l12.2 -4.5l15.4 13.4z"/>
<path class="c33" d="M531.3 469.3l-15.5 -11.6l12.3 -4.8l15.4 11.6z"/>
<path class="c26" d="M632.7 517.3l-15.4 -16.2l12.2 -4.2l15.4 16.1z"/>
<path class="c24" d="M549.9 527.1l-15.4 -6.9l12.2 -5.1l15.4 6.9z"/>
<path class="c28" d="M589.7 501.2l-15.4 -12.5l12.2 -4.7l15.4 12.5z"/>
<path class="c37" d="M543.5 445.1l-15.4 -14l12.2 -4.5l15.4 14.1z"/>
<path class="c23" d="M648.1 533.9l-15.4 -16.6l12.2 -4.3l15.4 16.6z"/>
<path class="c21" d="M663.5 547.8l-15.4 -7.4l12.2 -5l15.4 7.4z"/>
<path class="c37" d="M488.2 451.4l-15.4 -11l12.2 -5l15.4 11z"/>
<path class="c49" d="M426.6 376.5l-15.4 -11.6l12.2 -4.9l15.4 11.6z"/>
<path class="c21" d="M663.5 548.8l-15.4 -10.6l12.2 -4.7l15.4 10.6z"/>
<path class="c20" d="M663.5 549.8l-15.4 -13.8l12.2 -4.5l15.4 13.8z"/>
<path class="c44" d="M485 408.8l-15.4 -12.8l12.2 -4.7l15.4 12.8z"/>
<path class="c20" d="M663.5 550.9l-15.4 -17l12.2 -4.3l15.4 17z"/>
<path class="c23" d="M620.5 532.7l-15.4 -10.2l12.2 -4.8l15.4 10.1z"/>
<path class="c35" d="M558.9 459.6l-15.4 -14.5l12.2 -4.4l15.4 14.5z"/>
<path class="c23" d="M592.9 536l-15.4 -7.1l12.2 -5l15.4 7z"/>
<path class="c39" d="M445.2 434.9l-15.4 -10.4l12.2 -5.1l15.4 10.3z"/>
<path class="c30" d="M491.4 489.9l-15.4 -8.9l12.2 -5.2l15.4 8.9z"/>
<path class="c32" d="M546.7 481.2l-15.4 -11.9l12.2 -4.8l15.4 11.9z"/>
<path class="c26" d="M605.1 514.1l-15.4 -12.9l12.2 -4.7l15.4 12.9z"/>
<path class="c26" d="M577.5 517.5l-15.4 -9.8l12.2 -4.9l15.4 9.7z"/>
<path class="c28" d="M534.5 503.2l-15.5 -9.3l12.3 -5.1l15.4 9.4z"/>
<path class="c52" d="M383.5 358.8l-15.4 -10.7l12.2 -5.1l15.4 10.7z"/>
<path class="c25" d="M522.3 525.4l-15.5 -6.8l12.2 -5.1l15.5 6.7z"/>
<path class="c33" d="M574.3 474.5l-15.4 -14.9l12.2 -4.4l15.4 14.9z"/>
<path class="c42" d="M500.4 422.1l-15.4 -13.3l12.2 -4.7l15.4 13.3z"/>
<path class="c22" d="M635.9 545.4l-15.4 -7.3l12.2 -5l15.4 7.3z"/>
<path class="c47" d="M442 388.5l-15.4 -12l12.2 -4.9l15.4 12z"/>
<path class="c35" d="M503.6 462.7l-15.4 -11.3l12.2 -5l15.4 11.3z"/>
<path class="c24" d="M565.3 534.1l-15.4 -7l12.2 -5.1l15.4 6.9z"/>
<path class="c25" d="M620.5 527.2l-15.4 -13.1l12.2 -4.7l15.4 13.2z"/>
<path class="c30" d="M562.1 493.5l-15.4 -12.3l12.2 -4.8l15.4 12.3z"/>
<path class="c31" d="M589.7 489.9l-15.4 -15.4l12.2 -4.4l15.4 15.3z"/>
<path class="c38" d="M460.6 445.5l-15.4 -10.6l12.2 -5.2l15.4 10.7z"/>
<path class="c22" d="M635.9 543l-15.4 -10.3l12.2 -4.9l15.4 10.4z"/>
<path class="c50" d="M398.9 370l-15.4 -11.2l12.2 -5.1l15.5 11.2z"/>
<path class="c40" d="M515.8 435.7l-15.4 -13.6l12.2 -4.7l15.5 13.7z"/>
<path class="c25" d="M592.9 527.4l-15.4 -9.9l12.2 -5l15.4 10z"/>
<path class="c29" d="M506.8 499l-15.4 -9.1l12.2 -5.2l15.4 9.2z"/>
<path class="c27" d="M549.9 512.8l-15.4 -9.6l12.2 -5l15.4 9.5z"/>
<path class="c28" d="M605.1 505.6l-15.4 -15.7l12.2 -4.5l15.4 15.7z"/>
<path class="c45" d="M457.4 400.9l-15.4 -12.4l12.2 -4.9l15.4 12.4z"/>
<path class="c22" d="M608.3 543.2l-15.4 -7.2l12.2 -5.1l15.4 7.2z"/>
<path class="c23" d="M635.9 540.7l-15.4 -13.5l12.2 -4.6l15.4 13.4z"/>
<path class="c33" d="M519 474.3l-15.4 -11.6l12.2 -5l15.5 11.6z"/>
<path class="c24" d="M537.7 532.3l-15.4 -6.9l12.2 -5.2l15.4 6.9z"/>
<path class="c26" d="M620.5 521.8l-15.4 -16.2l12.2 -4.5l15.4 16.2z"/>
<path class="c28" d="M577.5 506l-15.4 -12.5l12.2 -4.8l15.4 12.5z"/>
<path class="c38" d="M531.3 449.8l-15.5 -14.1l12.3 -4.6l15.4 14z"/>
<path class="c21" d="M651.3 552.8l-15.4 -7.4l12.2 -5l15.4 7.4z"/>
<path class="c23" d="M635.9 538.3l-15.4 -16.5l12.2 -4.5l15.4 16.6z"/>
<path class="c37" d="M476 456.5l-15.4 -11l12.2 -5.1l15.4 11z"/>
<path class="c49" d="M414.3 381.6l-15.4 -11.6l12.3 -5.1l15.4 11.6z"/>
<path class="c21" d="M651.3 553.6l-15.4 -10.6l12.2 -4.8l15.4 10.6z"/>
<path class="c21" d="M651.3 554.5l-15.4 -13.8l12.2 -4.7l15.4 13.8z"/>
<path class="c44" d="M472.8 413.7l-15.4 -12.8l12.2 -4.9l15.4 12.8z"/>
<path class="c20" d="M651.3 555.3l-15.4 -17l12.2 -4.4l15.4 17z"/>
<path class="c23" d="M580.7 541.1l-15.4 -7l12.2 -5.2l15.4 7.1z"/>
<path class="c23" d="M608.3 537.6l-15.4 -10.2l12.2 -4.9l15.4 10.2z"/>
<path class="c35" d="M546.7 464.3l-15.4 -14.5l12.2 -4.7l15.4 14.5z"/>
<path class="c32" d="M534.5 486.2l-15.5 -11.9l12.3 -5l15.4 11.9z"/>
<path class="c26" d="M565.3 522.5l-15.4 -9.7l12.2 -5.1l15.4 9.8z"/>
<path class="c28" d="M522.3 508.4l-15.5 -9.4l12.2 -5.1l15.5 9.3z"/>
<path class="c26" d="M592.9 518.9l-15.4 -12.9l12.2 -4.8l15.4 12.9z"/>
<path class="c33" d="M562.1 479.2l-15.4 -14.9l12.2 -4.7l15.4 14.9z"/>
<path class="c22" d="M623.7 550.5l-15.4 -7.3l12.2 -5.1l15.4 7.3z"/>
<path class="c42" d="M488.2 427l-15.4 -13.3l12.2 -4.9l15.4 13.3z"/>
<path class="c47" d="M429.8 393.6l-15.5 -12l12.3 -5.1l15.4 12z"/>
<path class="c35" d="M491.4 467.8l-15.4 -11.3l12.2 -5.1l15.4 11.3z"/>
<path class="c24" d="M553.1 539.2l-15.4 -6.9l12.2 -5.2l15.4 7z"/>
<path class="c25" d="M608.3 532l-15.4 -13.1l12.2 -4.8l15.4 13.1z"/>
<path class="c30" d="M549.9 498.4l-15.4 -12.2l12.2 -5l15.4 12.3z"/>
<path class="c31" d="M577.5 494.6l-15.4 -15.4l12.2 -4.7l15.4 15.4z"/>
<path class="c22" d="M623.7 548l-15.4 -10.4l12.2 -4.9l15.4 10.3z"/>
<path class="c40" d="M503.6 440.6l-15.4 -13.6l12.2 -4.9l15.4 13.6z"/>
<path class="c25" d="M580.7 532.5l-15.4 -10l12.2 -5l15.4 9.9z"/>
<path class="c27" d="M537.7 517.9l-15.4 -9.5l12.2 -5.2l15.4 9.6z"/>
<path class="c28" d="M592.9 510.3l-15.4 -15.7l12.2 -4.7l15.4 15.7z"/>
<path class="c45" d="M445.2 406l-15.4 -12.4l12.2 -5.1l15.4 12.4z"/>
<path class="c22" d="M596.1 548.3l-15.4 -7.2l12.2 -5.1l15.4 7.2z"/>
<path class="c23" d="M623.7 545.5l-15.4 -13.5l12.2 -4.8l15.4 13.5z"/>
<path class="c33" d="M506.8 479.4l-15.4 -11.6l12.2 -5.1l15.4 11.6z"/>
<path class="c28" d="M565.3 511l-15.4 -12.6l12.2 -4.9l15.4 12.5z"/>
<path class="c26" d="M608.3 526.5l-15.4 -16.2l12.2 -4.7l15.4 16.2z"/>
<path class="c38" d="M519 454.7l-15.4 -14.1l12.2 -4.9l15.5 14.1z"/>
<path class="c21" d="M639.1 557.8l-15.4 -7.3l12.2 -5.1l15.4 7.4z"/>
<path class="c23" d="M623.7 543l-15.4 -16.5l12.2 -4.7l15.4 16.5z"/>
<path class="c21" d="M639.1 558.6l-15.4 -10.6l12.2 -5l15.4 10.6z"/>
<path class="c44" d="M460.6 418.8l-15.4 -12.8l12.2 -5.1l15.4 12.8z"/>
<path class="c21" d="M639.1 559.3l-15.4 -13.8l12.2 -4.8l15.4 13.8z"/>
<path class="c23" d="M568.5 546.3l-15.4 -7.1l12.2 -5.1l15.4 7z"/>
<path class="c20" d="M639.1 560l-15.4 -17l12.2 -4.7l15.4 17z"/>
<path class="c23" d="M596.1 542.7l-15.4 -10.2l12.2 -5.1l15.4 10.2z"/>
<path class="c35" d="M534.5 469.2l-15.5 -14.5l12.3 -4.9l15.4 14.5z"/>
<path class="c32" d="M522.3 491.3l-15.5 -11.9l12.2 -5.1l15.5 11.9z"/>
<path class="c26" d="M553.1 527.7l-15.4 -9.8l12.2 -5.1l15.4 9.7z"/>
<path class="c27" d="M580.7 523.8l-15.4 -12.8l12.2 -5l15.4 12.9z"/>
<path class="c22" d="M611.5 555.6l-15.4 -7.3l12.2 -5.1l15.4 7.3z"/>
<path class="c42" d="M476 432.1l-15.4 -13.3l12.2 -5.1l15.4 13.3z"/>
<path class="c33" d="M549.9 484.1l-15.4 -14.9l12.2 -4.9l15.4 14.9z"/>
<path class="c25" d="M596.1 537l-15.4 -13.2l12.2 -4.9l15.4 13.1z"/>
<path class="c30" d="M537.7 503.6l-15.4 -12.3l12.2 -5.1l15.4 12.2z"/>
<path class="c31" d="M565.3 499.4l-15.4 -15.3l12.2 -4.9l15.4 15.4z"/>
<path class="c22" d="M611.5 553l-15.4 -10.3l12.2 -5.1l15.4 10.4z"/>
<path class="c25" d="M568.5 537.6l-15.4 -9.9l12.2 -5.2l15.4 10z"/>
<path class="c40" d="M491.4 445.7l-15.4 -13.6l12.2 -5.1l15.4 13.6z"/>
<path class="c22" d="M583.9 553.5l-15.4 -7.2l12.2 -5.2l15.4 7.2z"/>
<path class="c28" d="M580.7 515.2l-15.4 -15.8l12.2 -4.8l15.4 15.7z"/>
<path class="c23" d="M611.5 550.5l-15.4 -13.5l12.2 -5l15.4 13.5z"/>
<path class="c28" d="M553.1 516.1l-15.4 -12.5l12.2 -5.2l15.4 12.6z"/>
<path class="c26" d="M596.1 531.3l-15.4 -16.1l12.2 -4.9l15.4 16.2z"/>
<path class="c38" d="M506.8 459.8l-15.4 -14.1l12.2 -5.1l15.4 14.1z"/>
<path class="c21" d="M626.9 563l-15.4 -7.4l12.2 -5.1l15.4 7.3z"/>
<path class="c23" d="M611.5 547.9l-15.4 -16.6l12.2 -4.8l15.4 16.5z"/>
<path class="c21" d="M626.9 563.6l-15.4 -10.6l12.2 -5l15.4 10.6z"/>
<path class="c21" d="M626.9 564.3l-15.4 -13.8l12.2 -5l15.4 13.8z"/>
<path class="c23" d="M583.9 547.8l-15.4 -10.2l12.2 -5.1l15.4 10.2z"/>
<path class="c21" d="M626.9 564.9l-15.4 -17l12.2 -4.9l15.4 17z"/>
<path class="c35" d="M522.3 474.3l-15.5 -14.5l12.2 -5.1l15.5 14.5z"/>
<path class="c27" d="M568.5 529l-15.4 -12.9l12.2 -5.1l15.4 12.8z"/>
<path class="c22" d="M599.3 560.8l-15.4 -7.3l12.2 -5.2l15.4 7.3z"/>
<path class="c33" d="M537.7 489.2l-15.4 -14.9l12.2 -5.1l15.4 14.9z"/>
<path class="c25" d="M583.9 542.1l-15.4 -13.1l12.2 -5.2l15.4 13.2z"/>
<path class="c31" d="M553.1 504.5l-15.4 -15.3l12.2 -5.1l15.4 15.3z"/>
<path class="c22" d="M599.3 558.2l-15.4 -10.4l12.2 -5.1l15.4 10.3z"/>
<path class="c28" d="M568.5 520.3l-15.4 -15.8l12.2 -5.1l15.4 15.8z"/>
<path class="c23" d="M599.3 555.6l-15.4 -13.5l12.2 -5.1l15.4 13.5z"/>
<path class="c26" d="M583.9 536.4l-15.4 -16.1l12.2 -5.1l15.4 16.1z"/>
<path class="c21" d="M614.8 568.2l-15.5 -7.4l12.2 -5.2l15.4 7.4z"/>
<path class="c23" d="M599.3 553l-15.4 -16.6l12.2 -5.1l15.4 16.6z"/>
<path class="c21" d="M614.8 568.8l-15.5 -10.6l12.2 -5.2l15.4 10.6z"/>
<path class="c21" d="M614.8 569.4l-15.5 -13.8l12.2 -5.1l15.4 13.8z"/>
<path class="c21" d="M614.8 570l-15.5 -17l12.2 -5.1l15.4 17z"/>
</g>
<g><text class="tk" text-anchor="end" x="597.0" y="728.3">0</text><text class="tk" text-anchor="end" x="490.3" y="700.7">20</text><text class="tk" text-anchor="end" x="382.7" y="671.5">40</text><text class="tk" text-anchor="end" x="275.1" y="642.3">60</text><text class="tk" text-anchor="end" x="167.5" y="613.1">80</text><text class="tk" x="630.9" y="726.9">0</text><text class="tk" x="716.0" y="690.6">20</text><text class="tk" x="801.1" y="654.3">40</text><text class="tk" x="886.2" y="617.9">60</text><text class="tk" x="971.3" y="581.6">80</text><text class="tk" text-anchor="end" x="114.1" y="571.3">-1</text><text class="tk" text-anchor="end" x="114.1" y="506.0">-0.5</text><text class="tk" text-anchor="end" x="114.1" y="440.7">0</text><text class="tk" text-anchor="end" x="114.1" y="375.4">0.5</text><text class="tk" text-anchor="end" x="114.1" y="310.2">1</text><text class="tk" text-anchor="end" x="114.1" y="244.9">1.5</text><text class="tk" text-anchor="end" x="114.1" y="179.6">2</text><text class="tk an" x="186" y="176.2">m = 2.0</text><text class="tk an" x="189" y="460.5">m = 0.5</text><text class="lb" transform="translate(140.2,662.4) rotate(14)">Phase-shift phi, in degrees</text><text class="lb" transform="translate(716,747.4) rotate(-21.3)">Angle beta, in degrees</text><text class="lb" transform="translate(42.3,555.5) rotate(-90)">Output power P<tspan dy="18" font-size="25">o</tspan><tspan dy="-18">, in pu</tspan></text></g>
</svg>
</body></html>
